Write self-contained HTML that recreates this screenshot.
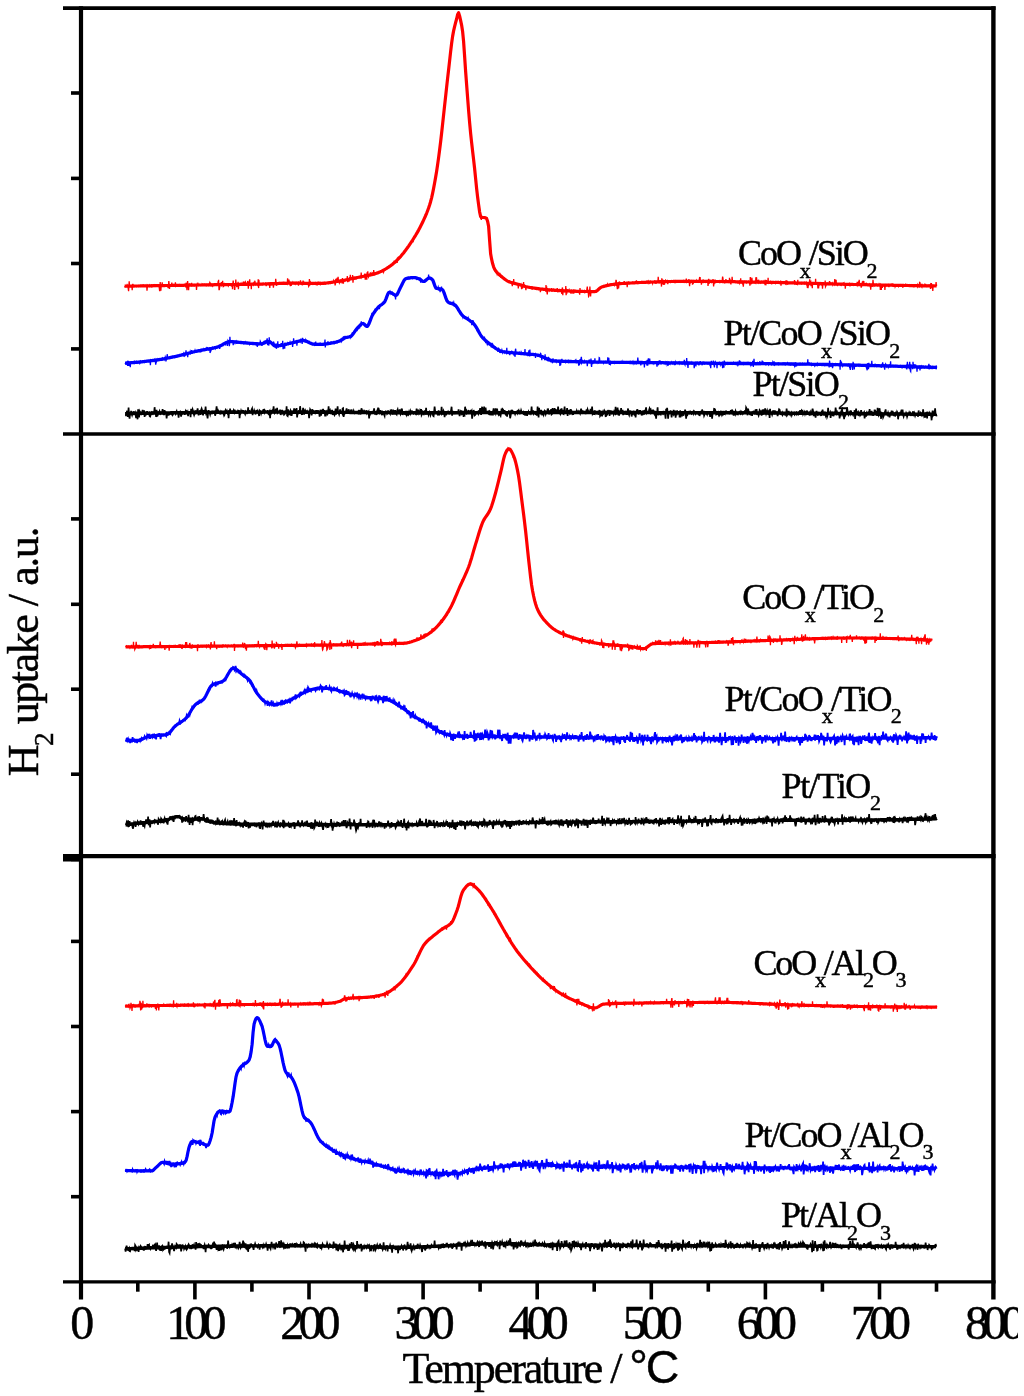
<!DOCTYPE html>
<html><head><meta charset="utf-8"><title>H2-TPR profiles</title>
<style>
html,body{margin:0;padding:0;background:#fff;}
svg{display:block;}
text{font-family:"Liberation Serif","Times New Roman",serif;fill:#000;stroke:#000;stroke-width:0.45px;}
.tk{font-size:48px;letter-spacing:-5.9px;}
.lb{font-size:36px;}
.sb{font-size:22px;}
.sb2{font-size:27px;}
.ax{font-size:44px;}
.sans{font-family:"Liberation Sans",Arial,sans-serif;}
</style></head>
<body>
<svg width="1024" height="1396" viewBox="0 0 1024 1396">
<rect width="1024" height="1396" fill="#fff"/>
<g id="curves">
<path d="M124.6,286.2 125.6,286.2 126.6,286.2 127.6,286.2 128.6,286.1 129.6,286.1 130.6,286.1 131.6,286.1 132.6,286.1 133.6,286.1 134.6,286.0 135.6,286.0 136.6,286.0 137.6,286.0 138.6,286.0 139.6,286.0 140.6,285.9 141.6,285.9 142.6,285.9 143.6,285.9 144.6,285.9 145.6,285.9 146.6,285.8 147.6,285.8 148.6,285.8 149.6,285.8 150.6,285.8 151.6,285.8 152.6,285.8 153.6,285.7 154.6,285.7 155.6,285.7 156.6,285.7 157.6,285.7 158.6,285.7 159.6,285.6 160.6,285.6 161.6,285.6 162.6,285.6 163.6,285.6 164.6,285.6 165.6,285.5 166.6,285.5 167.6,285.5 168.6,285.5 169.6,285.5 170.6,285.5 171.6,285.4 172.6,285.4 173.6,285.4 174.6,285.4 175.6,285.4 176.6,285.4 177.6,285.3 178.6,285.3 179.6,285.3 180.6,285.3 181.6,285.3 182.6,285.3 183.6,285.3 184.6,285.2 185.6,285.2 186.6,285.2 187.6,285.2 188.6,285.2 189.6,285.2 190.6,285.1 191.6,285.1 192.6,285.1 193.6,285.1 194.6,285.1 195.6,285.0 196.6,285.0 197.6,285.0 198.6,285.0 199.6,285.0 200.6,285.0 201.6,285.0 202.6,284.9 203.6,284.9 204.6,284.9 205.6,284.9 206.6,284.9 207.6,284.9 208.6,284.8 209.6,284.8 210.6,284.8 211.6,284.8 212.6,284.8 213.6,284.8 214.6,284.7 215.6,284.7 216.6,284.7 217.6,284.7 218.6,284.7 219.6,284.7 220.6,284.7 221.6,284.6 222.6,284.6 223.6,284.6 224.6,284.6 225.6,284.6 226.6,284.6 227.6,284.6 228.6,284.5 229.6,284.5 230.6,284.5 231.6,284.5 232.6,284.5 233.6,284.5 234.6,284.5 235.6,284.5 236.6,284.4 237.6,284.4 238.6,284.4 239.6,284.4 240.6,284.4 241.6,284.4 242.6,284.4 243.6,284.4 244.6,284.3 245.6,284.3 246.6,284.3 247.6,284.3 248.6,284.3 249.6,284.3 250.6,284.3 251.6,284.2 252.6,284.2 253.6,284.2 254.6,284.2 255.6,284.2 256.6,284.2 257.6,284.2 258.6,284.1 259.6,284.1 260.6,284.1 261.6,284.1 262.6,284.1 263.6,284.0 264.6,284.0 265.6,284.0 266.6,283.9 267.6,283.9 268.6,283.9 269.6,283.8 270.6,283.8 271.6,283.8 272.6,283.7 273.6,283.7 274.6,283.6 275.6,283.6 276.6,283.6 277.6,283.5 278.6,283.5 279.6,283.5 280.6,283.4 281.6,283.4 282.6,283.4 283.6,283.3 284.6,283.3 285.6,283.3 286.6,283.3 287.6,283.2 288.6,283.2 289.6,283.2 290.6,283.2 291.6,283.2 292.6,283.2 293.6,283.2 294.6,283.2 295.6,283.2 296.6,283.2 297.6,283.2 298.6,283.2 299.6,283.2 300.6,283.2 301.6,283.3 302.6,283.3 303.6,283.3 304.6,283.3 305.6,283.3 306.6,283.3 307.6,283.3 308.6,283.3 309.6,283.3 310.6,283.3 311.6,283.4 312.6,283.4 313.6,283.4 314.6,283.4 315.6,283.4 316.6,283.4 317.6,283.4 318.6,283.4 319.6,283.4 320.6,283.4 321.6,283.4 322.6,283.3 323.6,283.3 324.6,283.2 325.6,283.1 326.6,283.0 327.6,282.9 328.6,282.8 329.6,282.6 330.6,282.5 331.6,282.3 332.6,282.2 333.6,282.0 334.6,281.9 335.6,281.7 336.6,281.5 337.6,281.4 338.6,281.2 339.6,281.1 340.6,280.9 341.6,280.8 342.6,280.6 343.6,280.4 344.6,280.2 345.6,280.0 346.6,279.8 347.6,279.6 348.6,279.4 349.6,279.2 350.6,279.0 351.6,278.8 352.6,278.6 353.6,278.3 354.6,278.1 355.6,277.9 356.6,277.7 357.6,277.5 358.6,277.3 359.6,277.1 360.6,276.9 361.6,276.7 362.6,276.5 363.6,276.3 364.6,276.1 365.6,275.9 366.6,275.7 367.6,275.5 368.6,275.3 369.6,275.1 370.6,274.9 371.6,274.7 372.6,274.4 373.6,274.1 374.6,273.9 375.6,273.5 376.6,273.2 377.6,272.9 378.6,272.5 379.6,272.1 380.6,271.6 381.6,271.2 382.6,270.7 383.6,270.1 384.6,269.6 385.6,269.0 386.6,268.4 387.6,267.7 388.6,267.1 389.6,266.4 390.6,265.7 391.6,264.9 392.6,264.2 393.6,263.3 394.6,262.5 395.6,261.6 396.6,260.6 397.6,259.6 398.6,258.6 399.6,257.6 400.6,256.5 401.6,255.3 402.6,254.1 403.6,252.9 404.6,251.6 405.6,250.3 406.6,248.9 407.6,247.5 408.6,246.1 409.6,244.6 410.6,243.1 411.6,241.6 412.6,240.1 413.6,238.5 414.6,236.9 415.6,235.3 416.6,233.6 417.6,231.9 418.6,230.1 419.6,228.2 420.6,226.3 421.6,224.3 422.6,222.2 423.6,220.1 424.6,217.9 425.6,215.7 426.6,213.3 427.6,210.7 428.6,208.0 429.6,205.0 430.6,201.7 431.6,197.8 432.6,193.3 433.6,188.4 434.6,183.0 435.6,177.4 436.6,171.4 437.6,164.7 438.6,157.6 439.6,150.0 440.6,142.0 441.6,133.3 442.6,124.2 443.6,114.8 444.6,105.7 445.6,96.6 446.6,87.4 447.6,78.4 448.6,69.7 449.6,60.9 450.6,51.9 451.6,43.5 452.6,36.4 453.6,30.9 454.6,26.6 455.6,22.7 456.6,19.0 457.6,14.5 458.6,12.7 459.6,15.9 460.6,20.3 461.6,25.1 462.6,31.4 463.6,41.7 464.6,56.1 465.6,71.1 466.6,84.4 467.6,97.6 468.6,110.5 469.6,122.4 470.6,133.1 471.6,142.4 472.6,151.1 473.6,159.6 474.6,168.5 475.6,178.4 476.6,188.3 477.6,197.0 478.6,204.6 479.6,211.8 480.6,216.4 481.6,217.2 482.6,217.4 483.6,217.5 484.6,217.6 485.6,217.8 486.6,218.4 487.6,221.3 488.6,226.4 489.6,240.3 490.6,253.6 491.6,259.2 492.6,263.6 493.6,266.8 494.6,269.2 495.6,270.8 496.6,272.1 497.6,273.2 498.6,274.2 499.6,275.0 500.6,275.8 501.6,276.6 502.6,277.4 503.6,278.2 504.6,279.1 505.6,279.8 506.6,280.5 507.6,281.1 508.6,281.6 509.6,281.9 510.6,282.3 511.6,282.6 512.6,282.9 513.6,283.2 514.6,283.4 515.6,283.7 516.6,283.9 517.6,284.2 518.6,284.4 519.6,284.7 520.6,285.0 521.6,285.3 522.6,285.7 523.6,286.0 524.6,286.3 525.6,286.6 526.6,286.8 527.6,287.0 528.6,287.2 529.6,287.4 530.6,287.5 531.6,287.7 532.6,287.8 533.6,288.0 534.6,288.2 535.6,288.3 536.6,288.4 537.6,288.6 538.6,288.7 539.6,288.8 540.6,289.0 541.6,289.1 542.6,289.2 543.6,289.3 544.6,289.4 545.6,289.5 546.6,289.6 547.6,289.7 548.6,289.8 549.6,289.9 550.6,290.0 551.6,290.1 552.6,290.2 553.6,290.2 554.6,290.3 555.6,290.4 556.6,290.4 557.6,290.5 558.6,290.5 559.6,290.6 560.6,290.6 561.6,290.7 562.6,290.7 563.6,290.8 564.6,290.8 565.6,290.9 566.6,290.9 567.6,290.9 568.6,291.0 569.6,291.0 570.6,291.1 571.6,291.1 572.6,291.1 573.6,291.2 574.6,291.2 575.6,291.2 576.6,291.3 577.6,291.3 578.6,291.3 579.6,291.4 580.6,291.4 581.6,291.4 582.6,291.4 583.6,291.5 584.6,291.5 585.6,291.5 586.6,291.5 587.6,291.5 588.6,291.6 589.6,291.6 590.6,291.6 591.6,291.6 592.6,291.6 593.6,291.6 594.6,291.6 595.6,291.5 596.6,291.0 597.6,290.2 598.6,289.3 599.6,288.4 600.6,287.6 601.6,287.0 602.6,286.7 603.6,286.4 604.6,286.1 605.6,285.9 606.6,285.6 607.6,285.4 608.6,285.2 609.6,285.0 610.6,284.8 611.6,284.6 612.6,284.5 613.6,284.3 614.6,284.2 615.6,284.1 616.6,283.9 617.6,283.8 618.6,283.7 619.6,283.7 620.6,283.6 621.6,283.5 622.6,283.5 623.6,283.4 624.6,283.4 625.6,283.3 626.6,283.2 627.6,283.2 628.6,283.1 629.6,283.1 630.6,283.0 631.6,283.0 632.6,282.9 633.6,282.8 634.6,282.8 635.6,282.7 636.6,282.7 637.6,282.6 638.6,282.6 639.6,282.5 640.6,282.5 641.6,282.5 642.6,282.4 643.6,282.4 644.6,282.3 645.6,282.3 646.6,282.2 647.6,282.2 648.6,282.2 649.6,282.1 650.6,282.1 651.6,282.0 652.6,282.0 653.6,282.0 654.6,281.9 655.6,281.9 656.6,281.9 657.6,281.8 658.6,281.8 659.6,281.8 660.6,281.7 661.6,281.7 662.6,281.7 663.6,281.7 664.6,281.6 665.6,281.6 666.6,281.6 667.6,281.6 668.6,281.5 669.6,281.5 670.6,281.5 671.6,281.5 672.6,281.5 673.6,281.4 674.6,281.4 675.6,281.4 676.6,281.4 677.6,281.4 678.6,281.4 679.6,281.4 680.6,281.4 681.6,281.3 682.6,281.3 683.6,281.3 684.6,281.3 685.6,281.3 686.6,281.3 687.6,281.3 688.6,281.3 689.6,281.3 690.6,281.3 691.6,281.3 692.6,281.3 693.6,281.3 694.6,281.3 695.6,281.3 696.6,281.3 697.6,281.3 698.6,281.3 699.6,281.3 700.6,281.3 701.6,281.3 702.6,281.3 703.6,281.3 704.6,281.4 705.6,281.4 706.6,281.4 707.6,281.4 708.6,281.4 709.6,281.4 710.6,281.4 711.6,281.4 712.6,281.4 713.6,281.4 714.6,281.4 715.6,281.5 716.6,281.5 717.6,281.5 718.6,281.5 719.6,281.5 720.6,281.5 721.6,281.5 722.6,281.6 723.6,281.6 724.6,281.6 725.6,281.6 726.6,281.6 727.6,281.6 728.6,281.6 729.6,281.7 730.6,281.7 731.6,281.7 732.6,281.7 733.6,281.7 734.6,281.7 735.6,281.8 736.6,281.8 737.6,281.8 738.6,281.8 739.6,281.8 740.6,281.8 741.6,281.9 742.6,281.9 743.6,281.9 744.6,281.9 745.6,281.9 746.6,281.9 747.6,282.0 748.6,282.0 749.6,282.0 750.6,282.0 751.6,282.0 752.6,282.1 753.6,282.1 754.6,282.1 755.6,282.1 756.6,282.1 757.6,282.1 758.6,282.2 759.6,282.2 760.6,282.2 761.6,282.2 762.6,282.2 763.6,282.2 764.6,282.3 765.6,282.3 766.6,282.3 767.6,282.3 768.6,282.3 769.6,282.4 770.6,282.4 771.6,282.4 772.6,282.4 773.6,282.4 774.6,282.5 775.6,282.5 776.6,282.5 777.6,282.5 778.6,282.5 779.6,282.6 780.6,282.6 781.6,282.6 782.6,282.6 783.6,282.7 784.6,282.7 785.6,282.7 786.6,282.7 787.6,282.8 788.6,282.8 789.6,282.8 790.6,282.8 791.6,282.9 792.6,282.9 793.6,282.9 794.6,282.9 795.6,283.0 796.6,283.0 797.6,283.0 798.6,283.0 799.6,283.1 800.6,283.1 801.6,283.1 802.6,283.1 803.6,283.2 804.6,283.2 805.6,283.2 806.6,283.3 807.6,283.3 808.6,283.3 809.6,283.3 810.6,283.4 811.6,283.4 812.6,283.4 813.6,283.4 814.6,283.5 815.6,283.5 816.6,283.5 817.6,283.6 818.6,283.6 819.6,283.6 820.6,283.6 821.6,283.7 822.6,283.7 823.6,283.7 824.6,283.8 825.6,283.8 826.6,283.8 827.6,283.8 828.6,283.9 829.6,283.9 830.6,283.9 831.6,283.9 832.6,284.0 833.6,284.0 834.6,284.0 835.6,284.0 836.6,284.1 837.6,284.1 838.6,284.1 839.6,284.1 840.6,284.2 841.6,284.2 842.6,284.2 843.6,284.2 844.6,284.3 845.6,284.3 846.6,284.3 847.6,284.3 848.6,284.4 849.6,284.4 850.6,284.4 851.6,284.4 852.6,284.4 853.6,284.5 854.6,284.5 855.6,284.5 856.6,284.5 857.6,284.6 858.6,284.6 859.6,284.6 860.6,284.6 861.6,284.6 862.6,284.7 863.6,284.7 864.6,284.7 865.6,284.7 866.6,284.7 867.6,284.8 868.6,284.8 869.6,284.8 870.6,284.8 871.6,284.8 872.6,284.9 873.6,284.9 874.6,284.9 875.6,284.9 876.6,284.9 877.6,285.0 878.6,285.0 879.6,285.0 880.6,285.0 881.6,285.0 882.6,285.1 883.6,285.1 884.6,285.1 885.6,285.1 886.6,285.1 887.6,285.1 888.6,285.2 889.6,285.2 890.6,285.2 891.6,285.2 892.6,285.2 893.6,285.3 894.6,285.3 895.6,285.3 896.6,285.3 897.6,285.3 898.6,285.4 899.6,285.4 900.6,285.4 901.6,285.4 902.6,285.4 903.6,285.4 904.6,285.5 905.6,285.5 906.6,285.5 907.6,285.5 908.6,285.5 909.6,285.6 910.6,285.6 911.6,285.6 912.6,285.6 913.6,285.6 914.6,285.6 915.6,285.7 916.6,285.7 917.6,285.7 918.6,285.7 919.6,285.7 920.6,285.7 921.6,285.8 922.6,285.8 923.6,285.8 924.6,285.8 925.6,285.8 926.6,285.8 927.6,285.9 928.6,285.9 929.6,285.9 930.6,285.9 931.6,285.9 932.6,285.9 933.6,285.9 934.6,286.0 935.6,286.0 936.6,286.0" stroke="#ff0000" stroke-width="3.2" fill="none" stroke-linejoin="round"/>
<path d="M124.6,286.2 124.9,286.7 125.3,286.6 125.6,286.0 125.9,286.1 126.2,286.0 126.6,286.4 126.9,286.1 127.2,285.0 127.6,285.7 127.9,285.9 128.2,288.3 128.6,291.1 128.9,286.1 129.2,281.2 129.5,286.3 129.9,286.4 130.2,286.0 130.5,286.1 130.9,286.3 131.2,285.8 131.5,285.6 131.9,286.2 132.2,290.1 132.5,285.4 132.8,284.0 133.2,285.9 133.5,285.6 133.8,285.5 134.2,286.1 134.5,286.4 134.8,286.0 135.2,285.8 135.5,286.2 135.8,286.3 136.1,286.6 136.5,286.2 136.8,286.4 137.1,285.9 137.5,285.7 137.8,286.1 138.1,286.1 138.5,286.4 138.8,285.5 139.1,285.7 139.4,285.7 139.8,285.4 140.1,286.0 140.4,286.1 140.8,285.7 141.1,286.4 141.4,286.2 141.8,286.1 142.1,286.1 142.4,286.2 142.7,285.5 143.1,286.1 143.4,286.1 143.7,285.3 144.1,286.0 144.4,285.8 144.7,286.1 145.1,285.7 145.4,285.9 145.7,286.0 146.0,285.6 146.4,286.1 146.7,285.8 147.0,290.8 147.4,285.7 147.7,286.2 148.0,286.0 148.4,285.8 148.7,286.0 149.0,286.2 149.3,286.4 149.7,285.3 150.0,286.1 150.3,285.9 150.7,285.8 151.0,285.4 151.3,286.2 151.7,285.3 152.0,286.0 152.3,286.2 152.6,285.2 153.0,285.6 153.3,285.3 153.6,285.8 154.0,286.3 154.3,286.4 154.6,285.1 155.0,285.5 155.3,286.0 155.6,286.3 155.9,285.8 156.3,285.4 156.6,285.8 156.9,285.7 157.3,285.6 157.6,285.4 157.9,285.8 158.3,285.8 158.6,285.6 158.9,285.6 159.2,287.4 159.6,290.6 159.9,290.6 160.2,282.1 160.6,288.5 160.9,290.6 161.2,285.5 161.6,285.8 161.9,285.5 162.2,282.3 162.5,286.0 162.9,284.6 163.2,286.5 163.5,285.3 163.9,285.3 164.2,285.8 164.5,285.3 164.9,285.5 165.2,285.4 165.5,285.6 165.8,285.9 166.2,285.5 166.5,285.8 166.8,285.4 167.2,285.6 167.5,287.0 167.8,285.9 168.2,288.1 168.5,285.8 168.8,281.0 169.1,283.6 169.5,288.9 169.8,285.8 170.1,285.8 170.5,285.4 170.8,286.5 171.1,285.2 171.5,285.3 171.8,282.5 172.1,285.2 172.4,285.4 172.8,285.5 173.1,285.3 173.4,284.8 173.8,285.4 174.1,285.5 174.4,285.8 174.8,285.6 175.1,285.2 175.4,282.4 175.7,286.1 176.1,285.6 176.4,286.0 176.7,286.1 177.1,285.1 177.4,285.5 177.7,285.5 178.1,285.5 178.4,285.5 178.7,285.4 179.0,285.4 179.4,284.8 179.7,285.3 180.0,285.1 180.4,285.3 180.7,284.1 181.0,285.5 181.4,285.6 181.7,285.4 182.0,284.9 182.3,285.4 182.7,285.1 183.0,285.2 183.3,285.1 183.7,285.4 184.0,285.2 184.3,285.4 184.7,284.8 185.0,284.8 185.3,283.9 185.6,287.4 186.0,284.6 186.3,282.7 186.6,286.0 187.0,290.1 187.3,284.8 187.6,281.0 188.0,285.6 188.3,285.2 188.6,290.1 188.9,285.2 189.3,284.6 189.6,285.8 189.9,284.6 190.3,285.3 190.6,285.3 190.9,284.6 191.3,285.2 191.6,282.8 191.9,284.0 192.2,284.6 192.6,285.4 192.9,285.2 193.2,285.2 193.6,285.0 193.9,285.3 194.2,284.7 194.6,285.3 194.9,284.9 195.2,284.7 195.5,285.2 195.9,285.6 196.2,285.4 196.5,290.0 196.9,285.3 197.2,284.1 197.5,285.0 197.9,285.0 198.2,284.2 198.5,285.1 198.8,284.6 199.2,284.7 199.5,284.5 199.8,284.5 200.2,284.6 200.5,285.3 200.8,285.5 201.2,284.9 201.5,285.3 201.8,285.4 202.1,284.3 202.5,285.0 202.8,285.1 203.1,284.8 203.5,285.0 203.8,285.1 204.1,284.6 204.5,284.4 204.8,284.8 205.1,284.8 205.4,284.8 205.8,285.2 206.1,285.5 206.4,284.7 206.8,285.1 207.1,285.2 207.4,285.1 207.8,285.2 208.1,284.7 208.4,285.1 208.7,285.5 209.1,285.1 209.4,283.7 209.7,282.9 210.1,284.9 210.4,282.5 210.7,284.7 211.1,285.7 211.4,285.6 211.7,284.4 212.0,284.5 212.4,285.6 212.7,284.6 213.0,284.9 213.4,284.4 213.7,285.0 214.0,284.6 214.4,284.1 214.7,284.5 215.0,284.8 215.3,285.0 215.7,284.8 216.0,284.7 216.3,284.9 216.7,284.6 217.0,285.1 217.3,284.8 217.7,284.8 218.0,282.6 218.3,283.1 218.6,279.7 219.0,289.6 219.3,289.6 219.6,287.6 220.0,284.9 220.3,284.2 220.6,283.9 221.0,284.7 221.3,282.1 221.6,284.1 221.9,285.1 222.3,284.5 222.6,280.9 222.9,283.4 223.3,286.6 223.6,286.4 223.9,285.0 224.3,284.7 224.6,285.9 224.9,284.2 225.2,284.7 225.6,284.5 225.9,284.6 226.2,284.0 226.6,284.2 226.9,284.7 227.2,284.6 227.6,285.1 227.9,284.3 228.2,284.6 228.5,285.6 228.9,284.3 229.2,284.2 229.5,284.5 229.9,284.5 230.2,284.8 230.5,284.6 230.9,285.3 231.2,284.6 231.5,285.4 231.8,284.9 232.2,283.5 232.5,289.1 232.8,284.2 233.2,280.5 233.5,283.9 233.8,284.1 234.2,284.6 234.5,289.4 234.8,289.4 235.1,284.7 235.5,285.8 235.8,279.5 236.1,285.0 236.5,284.9 236.8,287.2 237.1,284.5 237.5,284.1 237.8,286.6 238.1,281.7 238.4,289.1 238.8,284.5 239.1,284.8 239.4,284.6 239.8,284.3 240.1,284.8 240.4,284.6 240.8,284.5 241.1,283.5 241.4,284.3 241.7,284.6 242.1,284.9 242.4,285.0 242.7,284.8 243.1,282.3 243.4,282.2 243.7,284.1 244.1,281.7 244.4,283.7 244.7,283.9 245.0,283.1 245.4,282.2 245.7,284.1 246.0,284.2 246.4,284.4 246.7,283.7 247.0,283.2 247.4,284.8 247.7,281.0 248.0,281.8 248.3,288.7 248.7,284.3 249.0,284.5 249.3,282.6 249.7,279.3 250.0,284.6 250.3,284.4 250.7,284.1 251.0,284.0 251.3,289.2 251.6,284.3 252.0,284.5 252.3,283.8 252.6,284.0 253.0,284.2 253.3,284.8 253.6,283.4 254.0,284.4 254.3,284.0 254.6,282.4 254.9,280.7 255.3,284.3 255.6,284.7 255.9,284.3 256.3,284.3 256.6,284.3 256.9,283.9 257.3,284.3 257.6,283.2 257.9,286.3 258.2,279.3 258.6,288.1 258.9,279.9 259.2,284.1 259.6,283.9 259.9,284.6 260.2,284.4 260.6,284.5 260.9,284.3 261.2,284.0 261.5,283.9 261.9,284.0 262.2,284.4 262.5,284.1 262.9,283.5 263.2,284.0 263.5,283.5 263.9,284.1 264.2,283.6 264.5,283.6 264.8,284.0 265.2,284.0 265.5,283.4 265.8,284.2 266.2,286.1 266.5,283.4 266.8,284.5 267.2,283.7 267.5,283.7 267.8,283.8 268.1,283.4 268.5,284.3 268.8,284.0 269.1,283.6 269.5,283.7 269.8,288.0 270.1,282.1 270.5,284.1 270.8,283.2 271.1,283.6 271.4,283.8 271.8,282.2 272.1,284.2 272.4,283.6 272.8,283.5 273.1,283.9 273.4,287.6 273.8,283.6 274.1,284.0 274.4,283.8 274.7,283.7 275.1,283.6 275.4,283.8 275.7,278.7 276.1,282.3 276.4,285.8 276.7,283.5 277.1,284.3 277.4,284.1 277.7,285.2 278.0,282.1 278.4,284.6 278.7,283.4 279.0,281.9 279.4,283.7 279.7,283.7 280.0,282.9 280.4,283.8 280.7,283.9 281.0,283.5 281.3,283.4 281.7,283.7 282.0,282.9 282.3,283.4 282.7,283.7 283.0,282.9 283.3,283.7 283.7,283.2 284.0,282.6 284.3,283.3 284.6,283.0 285.0,283.4 285.3,282.9 285.6,283.6 286.0,283.0 286.3,283.4 286.6,283.1 287.0,283.1 287.3,283.6 287.6,278.3 287.9,281.6 288.3,281.0 288.6,283.3 288.9,279.5 289.3,282.1 289.6,283.3 289.9,282.9 290.3,286.1 290.6,282.5 290.9,283.7 291.2,285.9 291.6,282.3 291.9,283.3 292.2,283.1 292.6,283.4 292.9,282.4 293.2,283.1 293.6,283.2 293.9,283.4 294.2,283.2 294.5,283.5 294.9,282.8 295.2,283.7 295.5,282.9 295.9,283.2 296.2,282.7 296.5,283.4 296.9,283.7 297.2,283.6 297.5,283.5 297.8,282.7 298.2,282.9 298.5,285.7 298.8,282.9 299.2,283.6 299.5,283.3 299.8,283.2 300.2,283.4 300.5,280.4 300.8,284.5 301.1,282.1 301.5,284.0 301.8,283.7 302.1,284.6 302.5,284.7 302.8,282.3 303.1,280.7 303.5,283.4 303.8,281.5 304.1,283.1 304.4,283.6 304.8,283.7 305.1,283.7 305.4,283.3 305.8,283.1 306.1,283.7 306.4,283.2 306.8,283.4 307.1,283.8 307.4,284.9 307.7,283.3 308.1,283.2 308.4,285.1 308.7,286.3 309.1,285.4 309.4,279.0 309.7,285.6 310.1,280.9 310.4,283.4 310.7,283.0 311.0,282.9 311.4,282.9 311.7,283.0 312.0,283.3 312.4,283.0 312.7,283.4 313.0,284.0 313.4,283.3 313.7,283.8 314.0,283.5 314.3,283.0 314.7,283.3 315.0,283.0 315.3,283.7 315.7,283.0 316.0,283.8 316.3,282.7 316.7,282.7 317.0,283.7 317.3,285.5 317.6,283.1 318.0,283.7 318.3,282.8 318.6,283.5 319.0,282.8 319.3,283.6 319.6,282.8 320.0,282.5 320.3,283.5 320.6,284.2 320.9,283.2 321.3,283.7 321.6,283.4 321.9,283.3 322.3,283.6 322.6,283.6 322.9,282.9 323.3,283.5 323.6,283.4 323.9,282.8 324.2,283.8 324.6,283.8 324.9,282.9 325.2,284.7 325.6,283.1 325.9,283.0 326.2,283.5 326.6,283.1 326.9,283.1 327.2,283.0 327.5,283.3 327.9,283.1 328.2,282.4 328.5,282.3 328.9,283.1 329.2,282.4 329.5,282.7 329.9,282.3 330.2,282.5 330.5,282.1 330.8,283.0 331.2,282.1 331.5,282.3 331.8,282.2 332.2,282.6 332.5,281.8 332.8,282.1 333.2,282.0 333.5,282.2 333.8,280.4 334.1,280.9 334.5,281.2 334.8,281.5 335.1,285.5 335.5,283.4 335.8,278.8 336.1,281.6 336.5,281.5 336.8,281.0 337.1,277.7 337.4,282.0 337.8,281.8 338.1,276.9 338.4,280.7 338.8,280.8 339.1,281.1 339.4,282.9 339.8,282.1 340.1,282.3 340.4,281.4 340.7,280.1 341.1,280.1 341.4,281.1 341.7,280.8 342.1,283.3 342.4,278.1 342.7,280.3 343.1,282.4 343.4,283.7 343.7,280.8 344.0,280.1 344.4,280.5 344.7,279.9 345.0,280.4 345.4,279.7 345.7,280.3 346.0,280.0 346.4,279.8 346.7,279.5 347.0,279.8 347.3,276.0 347.7,282.3 348.0,279.6 348.3,279.0 348.7,279.6 349.0,281.7 349.3,280.2 349.7,277.2 350.0,279.8 350.3,274.8 350.6,277.9 351.0,278.7 351.3,278.8 351.6,277.1 352.0,279.4 352.3,278.5 352.6,275.1 353.0,282.7 353.3,278.7 353.6,278.7 353.9,276.6 354.3,279.7 354.6,278.0 354.9,278.1 355.3,278.7 355.6,278.0 355.9,277.8 356.3,278.4 356.6,277.7 356.9,276.3 357.2,277.8 357.6,277.2 357.9,277.3 358.2,277.5 358.6,277.3 358.9,277.0 359.2,277.0 359.6,276.9 359.9,277.4 360.2,276.7 360.5,276.7 360.9,277.4 361.2,272.6 361.5,277.2 361.9,277.0 362.2,276.5 362.5,276.1 362.9,276.6 363.2,276.6 363.5,276.6 363.8,276.3 364.2,276.6 364.5,275.9 364.8,273.5 365.2,279.1 365.5,279.1 365.8,275.5 366.2,274.0 366.5,275.5 366.8,279.7 367.1,272.3 367.5,276.6 367.8,271.2 368.1,276.0 368.5,276.9 368.8,275.2 369.1,275.5 369.5,274.9 369.8,275.0 370.1,274.8 370.4,272.4 370.8,275.1 371.1,274.9 371.4,274.5 371.8,274.3 372.1,272.8 372.4,273.1 372.8,274.4 373.1,274.4 373.4,275.2 373.7,270.0 374.1,274.1 374.4,273.4 374.7,274.3 375.1,273.5 375.4,273.5 375.7,273.9 376.1,273.5 376.4,273.3 376.7,273.0 377.0,272.6 377.4,273.0 377.7,273.1 378.0,272.5 378.4,272.9 378.7,272.1 379.0,272.1 379.4,272.3 379.7,272.0 380.0,272.1 380.3,271.6 380.7,271.3 381.0,271.0 381.3,271.0 381.7,270.9 382.0,270.6 382.3,270.9 382.7,270.5 383.0,270.0 383.3,271.2 383.6,272.1 384.0,270.2 384.3,270.0 384.6,269.8 385.0,269.1 385.3,268.8 385.6,268.7 386.0,269.0 386.3,268.5 386.6,268.2 386.9,268.1 387.3,268.2 387.6,267.4 387.9,267.4 388.3,267.0 388.6,267.6 388.9,267.3 389.3,266.8 389.6,266.4 389.9,266.3 390.2,265.5 390.6,265.8 390.9,265.2 391.2,264.9 391.6,264.8 391.9,264.6 392.2,264.6 392.6,264.3 392.9,264.0 393.2,263.5 393.5,263.5 393.9,263.1 394.2,260.7 394.5,262.3 394.9,261.7 395.2,261.8 395.5,262.1 395.9,261.4 396.2,261.0 396.5,261.6 396.8,260.3 397.2,262.9 397.5,257.6 397.8,259.8 398.2,258.1 398.5,258.9 398.8,258.3 399.2,257.3 399.5,257.9 399.8,257.5 400.1,257.1 400.5,256.7 400.8,256.9 401.1,255.9 401.5,255.7 401.8,255.5 402.1,254.7 402.5,254.4 402.8,254.1 403.1,253.8 403.4,253.1 403.8,252.7 404.1,252.3 404.4,251.6 404.8,251.6 405.1,250.9 405.4,250.2 405.8,250.0 406.1,249.3 406.4,249.0 406.7,248.7 407.1,248.1 407.4,248.0 407.7,247.1 408.1,246.9 408.4,246.5 408.7,246.1 409.1,245.7 409.4,245.0 409.7,244.5 410.0,243.9 410.4,243.6 410.7,242.9 411.0,242.5 411.4,242.0 411.7,241.5 412.0,240.9 412.4,240.8 412.7,240.1 413.0,239.5 413.3,240.4 413.7,238.5 414.0,237.9 414.3,237.4 414.7,237.0 415.0,236.0 415.3,235.7 415.7,235.0 416.0,234.7 416.3,233.9 416.6,233.4 417.0,232.9 417.3,232.6 417.6,231.9 418.0,231.3 418.3,230.8 418.6,229.9 419.0,229.1 419.3,228.7 419.6,228.1 419.9,227.7 420.3,227.2 420.6,226.1 420.9,226.1 421.3,225.2 421.6,224.4 421.9,223.7 422.3,222.1 422.6,222.3 422.9,221.5 423.2,220.9 423.6,220.5 423.9,219.5 424.2,219.2 424.6,217.9 424.9,216.1 425.2,215.3 425.6,217.5 425.9,214.8 426.2,213.9 426.5,213.7 426.9,210.9 427.2,213.3 427.5,211.0 427.9,208.7 428.2,209.0 428.5,208.8 428.9,207.2 429.2,206.3 429.5,205.1 429.8,203.3 430.2,201.7 430.5,202.2 430.8,201.0 431.2,198.7 431.5,198.2 431.8,196.9 432.2,195.4 432.5,193.8 432.8,192.3 433.1,190.6 433.5,188.9 433.8,187.3 434.1,185.5 434.5,183.7 434.8,182.0 435.1,179.5 435.5,178.2 435.8,176.3 436.1,174.4 436.4,172.2 436.8,170.2 437.1,168.1 437.4,165.8 437.8,163.5 438.1,161.2 438.4,158.9 438.8,156.4 439.1,153.9 439.4,151.4 439.7,148.9 440.1,146.3 440.4,143.7 440.7,141.3 441.1,137.8 441.4,135.3 441.7,132.0 442.1,129.2 442.4,126.1 442.7,123.0 443.0,119.9 443.4,116.8 443.7,113.8 444.0,110.7 444.4,108.4 444.7,104.7 445.0,101.8 445.4,98.8 445.7,95.8 446.0,92.8 446.3,89.1 446.7,86.7 447.0,83.7 447.3,80.8 447.7,77.8 448.0,74.8 448.3,71.9 448.7,69.1 449.0,66.3 449.3,63.4 449.6,60.3 450.0,56.9 450.3,54.9 450.6,51.1 451.0,49.4 451.3,45.3 451.6,43.1 452.0,40.7 452.3,38.3 452.6,36.2 452.9,34.3 453.3,32.5 453.6,30.9 453.9,29.5 454.3,27.9 454.6,26.6 454.9,25.2 455.3,24.0 455.6,22.8 455.9,21.6 456.2,20.3 456.6,19.1 456.9,17.7 457.2,16.0 457.6,14.4 457.9,13.7 458.2,12.9 458.6,12.7 458.9,13.1 459.2,14.2 459.5,15.8 459.9,16.9 460.2,18.6 460.5,20.1 460.9,21.5 461.2,23.1 461.5,24.7 461.9,26.7 462.2,28.5 462.5,30.9 462.8,33.4 463.2,36.7 463.5,40.5 463.8,44.9 464.2,49.6 464.5,54.6 464.8,59.7 465.2,64.7 465.5,69.6 465.8,74.1 466.1,78.4 466.5,82.8 466.8,87.2 467.1,91.6 467.5,95.9 467.8,100.2 468.1,104.5 468.5,108.8 468.8,112.8 469.1,116.8 469.4,120.7 469.8,124.5 470.1,128.1 470.4,131.5 470.8,134.7 471.1,137.9 471.4,140.9 471.8,143.8 472.1,146.8 472.4,149.6 472.7,152.4 473.1,155.2 473.4,158.0 473.7,160.8 474.1,164.3 474.4,166.7 474.7,169.7 475.1,173.0 475.4,176.2 475.7,179.6 476.0,183.0 476.4,186.2 476.7,189.4 477.0,192.4 477.4,195.2 477.7,197.7 478.0,200.6 478.4,202.4 478.7,204.9 479.0,208.1 479.3,210.1 479.7,212.4 480.0,214.6 480.3,215.9 480.7,218.4 481.0,218.4 481.3,219.8 481.7,217.8 482.0,217.6 482.3,217.5 482.6,217.3 483.0,217.5 483.3,217.5 483.6,217.1 484.0,217.6 484.3,217.5 484.6,217.6 485.0,217.6 485.3,218.3 485.6,218.1 485.9,218.2 486.3,218.0 486.6,218.2 486.9,219.0 487.3,220.1 487.6,221.3 487.9,222.7 488.3,224.5 488.6,226.3 488.9,229.6 489.2,234.5 489.6,240.0 489.9,245.4 490.2,250.1 490.6,253.4 490.9,255.5 491.2,257.3 491.6,258.9 491.9,260.5 492.2,262.0 492.5,263.4 492.9,264.7 493.2,265.7 493.5,266.5 493.9,267.7 494.2,268.4 494.5,269.1 494.9,269.7 495.2,270.0 495.5,270.6 495.8,271.2 496.2,271.8 496.5,272.0 496.8,271.8 497.2,274.0 497.5,273.2 497.8,273.7 498.2,273.9 498.5,274.6 498.8,274.7 499.1,274.9 499.5,276.0 499.8,272.8 500.1,275.3 500.5,276.7 500.8,276.4 501.1,277.3 501.5,277.4 501.8,276.6 502.1,276.9 502.4,277.2 502.8,277.6 503.1,277.7 503.4,278.2 503.8,278.0 504.1,278.6 504.4,278.6 504.8,279.1 505.1,279.6 505.4,279.7 505.7,279.9 506.1,280.2 506.4,280.8 506.7,280.4 507.1,281.0 507.4,280.6 507.7,281.1 508.1,281.4 508.4,281.2 508.7,281.7 509.0,281.9 509.4,281.5 509.7,282.0 510.0,282.0 510.4,281.7 510.7,282.3 511.0,282.2 511.4,282.9 511.7,282.4 512.0,283.2 512.3,286.2 512.7,283.5 513.0,283.2 513.3,283.2 513.7,279.0 514.0,283.5 514.3,283.8 514.7,283.9 515.0,283.4 515.3,283.2 515.6,282.9 516.0,283.6 516.3,284.1 516.6,284.0 517.0,284.0 517.3,284.0 517.6,284.0 518.0,284.2 518.3,288.5 518.6,283.9 518.9,284.7 519.3,284.2 519.6,284.7 519.9,284.6 520.3,284.8 520.6,284.7 520.9,284.2 521.3,286.2 521.6,289.3 521.9,286.1 522.2,288.1 522.6,288.0 522.9,286.9 523.2,285.1 523.6,282.0 523.9,287.2 524.2,284.4 524.6,285.8 524.9,286.4 525.2,286.1 525.5,286.6 525.9,290.1 526.2,286.9 526.5,286.9 526.9,286.7 527.2,287.2 527.5,286.9 527.9,287.2 528.2,287.1 528.5,287.1 528.8,286.8 529.2,287.5 529.5,287.0 529.8,287.1 530.2,287.1 530.5,287.8 530.8,287.0 531.2,286.9 531.5,287.9 531.8,288.4 532.1,289.5 532.5,287.6 532.8,287.9 533.1,288.4 533.5,288.3 533.8,288.0 534.1,287.7 534.5,288.4 534.8,288.4 535.1,287.8 535.4,288.2 535.8,288.4 536.1,288.4 536.4,289.2 536.8,288.7 537.1,288.7 537.4,288.5 537.8,288.2 538.1,288.8 538.4,288.5 538.7,289.4 539.1,288.8 539.4,288.8 539.7,289.3 540.1,289.4 540.4,292.3 540.7,289.2 541.1,288.8 541.4,289.3 541.7,288.8 542.0,289.1 542.4,289.1 542.7,289.1 543.0,288.6 543.4,289.0 543.7,289.4 544.0,289.4 544.4,289.3 544.7,289.6 545.0,289.7 545.3,289.8 545.7,291.7 546.0,285.0 546.3,288.9 546.7,288.2 547.0,292.7 547.3,294.4 547.7,289.7 548.0,290.5 548.3,289.8 548.6,289.8 549.0,289.7 549.3,290.5 549.6,289.6 550.0,289.9 550.3,289.7 550.6,290.0 551.0,290.0 551.3,290.4 551.6,288.2 551.9,290.1 552.3,290.7 552.6,290.0 552.9,290.1 553.3,289.9 553.6,289.4 553.9,290.2 554.3,290.7 554.6,290.2 554.9,289.7 555.2,290.4 555.6,290.4 555.9,290.7 556.2,290.7 556.6,290.3 556.9,290.6 557.2,288.1 557.6,289.3 557.9,292.5 558.2,289.6 558.5,289.9 558.9,290.2 559.2,289.7 559.5,290.3 559.9,289.9 560.2,290.6 560.5,290.7 560.9,290.3 561.2,290.9 561.5,290.7 561.8,294.0 562.2,288.4 562.5,287.6 562.8,295.3 563.2,289.8 563.5,290.7 563.8,290.6 564.2,290.7 564.5,292.0 564.8,290.7 565.1,290.2 565.5,291.1 565.8,286.0 566.1,295.2 566.5,292.6 566.8,293.8 567.1,289.8 567.5,290.1 567.8,290.1 568.1,291.2 568.4,291.4 568.8,290.7 569.1,289.9 569.4,291.1 569.8,291.5 570.1,291.4 570.4,293.0 570.8,291.4 571.1,293.8 571.4,290.5 571.7,290.9 572.1,290.9 572.4,291.7 572.7,291.8 573.1,293.8 573.4,291.2 573.7,290.6 574.1,291.9 574.4,290.9 574.7,291.4 575.0,291.8 575.4,291.1 575.7,290.8 576.0,291.6 576.4,291.3 576.7,290.9 577.0,290.9 577.4,291.2 577.7,291.6 578.0,291.2 578.3,291.6 578.7,291.9 579.0,290.8 579.3,292.8 579.7,294.7 580.0,288.0 580.3,291.8 580.7,291.5 581.0,291.4 581.3,291.0 581.6,290.9 582.0,291.1 582.3,291.4 582.6,291.0 583.0,291.2 583.3,291.3 583.6,291.7 584.0,290.9 584.3,290.6 584.6,293.3 584.9,291.5 585.3,291.7 585.6,291.3 585.9,290.9 586.3,290.6 586.6,292.8 586.9,289.0 587.3,286.6 587.6,291.4 587.9,291.4 588.2,291.8 588.6,296.5 588.9,296.1 589.2,289.5 589.6,292.3 589.9,286.6 590.2,292.3 590.6,296.5 590.9,291.9 591.2,291.7 591.5,291.2 591.9,290.9 592.2,291.4 592.5,291.2 592.9,291.5 593.2,291.8 593.5,292.1 593.9,291.5 594.2,292.1 594.5,292.0 594.8,291.5 595.2,291.1 595.5,291.7 595.8,291.5 596.2,291.8 596.5,291.3 596.8,291.0 597.2,290.9 597.5,290.1 597.8,290.0 598.1,289.6 598.5,289.8 598.8,289.2 599.1,288.2 599.5,288.8 599.8,288.0 600.1,288.1 600.5,287.6 600.8,287.5 601.1,287.4 601.4,287.1 601.8,286.7 602.1,287.2 602.4,286.9 602.8,286.6 603.1,286.8 603.4,286.3 603.8,286.9 604.1,286.3 604.4,286.3 604.7,286.2 605.1,285.7 605.4,285.6 605.7,285.9 606.1,285.9 606.4,286.1 606.7,285.7 607.1,285.2 607.4,284.3 607.7,285.6 608.0,285.6 608.4,285.3 608.7,284.8 609.0,285.5 609.4,284.8 609.7,285.1 610.0,284.4 610.4,285.1 610.7,284.5 611.0,285.1 611.3,285.2 611.7,285.0 612.0,284.2 612.3,284.2 612.7,284.2 613.0,284.6 613.3,284.5 613.7,284.4 614.0,284.4 614.3,285.3 614.6,284.4 615.0,284.7 615.3,284.1 615.6,284.1 616.0,279.9 616.3,280.7 616.6,285.4 617.0,285.8 617.3,288.5 617.6,288.5 617.9,282.8 618.3,283.7 618.6,288.4 618.9,284.7 619.3,282.0 619.6,282.1 619.9,283.7 620.3,283.3 620.6,283.9 620.9,283.6 621.2,283.6 621.6,284.1 621.9,283.5 622.2,283.8 622.6,283.5 622.9,283.3 623.2,283.5 623.6,283.1 623.9,283.4 624.2,281.1 624.5,283.2 624.9,283.7 625.2,283.3 625.5,283.7 625.9,283.4 626.2,283.5 626.5,283.0 626.9,283.3 627.2,287.1 627.5,283.5 627.8,283.5 628.2,283.2 628.5,281.5 628.8,282.7 629.2,282.8 629.5,283.2 629.8,283.3 630.2,282.9 630.5,282.9 630.8,282.9 631.1,282.9 631.5,282.6 631.8,282.5 632.1,282.9 632.5,282.3 632.8,282.6 633.1,282.6 633.5,282.5 633.8,282.9 634.1,282.7 634.4,282.8 634.8,282.4 635.1,282.5 635.4,282.9 635.8,282.8 636.1,282.6 636.4,280.4 636.8,282.4 637.1,282.7 637.4,283.2 637.7,282.5 638.1,282.7 638.4,282.7 638.7,282.5 639.1,282.2 639.4,282.8 639.7,282.6 640.1,282.5 640.4,282.5 640.7,282.5 641.0,282.2 641.4,282.5 641.7,281.8 642.0,282.4 642.4,281.9 642.7,282.3 643.0,282.6 643.4,282.3 643.7,282.2 644.0,282.5 644.3,282.2 644.7,282.2 645.0,282.1 645.3,282.8 645.7,282.5 646.0,282.4 646.3,281.8 646.7,282.4 647.0,281.8 647.3,282.3 647.6,281.8 648.0,282.8 648.3,281.6 648.6,282.5 649.0,282.4 649.3,282.9 649.6,282.0 650.0,282.6 650.3,282.5 650.6,281.5 650.9,281.9 651.3,281.6 651.6,281.7 651.9,281.8 652.3,282.6 652.6,283.5 652.9,281.9 653.3,281.8 653.6,282.2 653.9,282.2 654.2,281.6 654.6,282.4 654.9,281.5 655.2,281.8 655.6,282.0 655.9,283.9 656.2,281.7 656.6,281.9 656.9,282.3 657.2,282.0 657.5,282.2 657.9,282.2 658.2,276.9 658.5,279.9 658.9,282.1 659.2,281.8 659.5,282.3 659.9,281.1 660.2,281.4 660.5,282.2 660.8,281.9 661.2,283.1 661.5,286.6 661.8,278.3 662.2,280.5 662.5,284.5 662.8,279.5 663.2,283.4 663.5,280.7 663.8,285.0 664.1,281.1 664.5,284.6 664.8,281.8 665.1,281.2 665.5,280.2 665.8,280.7 666.1,281.6 666.5,281.6 666.8,280.4 667.1,281.6 667.4,279.9 667.8,284.3 668.1,281.4 668.4,281.0 668.8,281.4 669.1,282.0 669.4,281.5 669.8,281.7 670.1,281.3 670.4,282.1 670.7,281.5 671.1,280.9 671.4,281.7 671.7,281.3 672.1,281.2 672.4,281.5 672.7,281.5 673.1,281.5 673.4,281.1 673.7,281.8 674.0,281.8 674.4,281.4 674.7,283.1 675.0,281.2 675.4,280.7 675.7,280.9 676.0,281.9 676.4,281.1 676.7,281.2 677.0,280.9 677.3,281.2 677.7,281.2 678.0,281.3 678.3,281.3 678.7,281.1 679.0,281.1 679.3,281.3 679.7,281.5 680.0,281.3 680.3,281.9 680.6,281.4 681.0,281.4 681.3,281.1 681.6,281.7 682.0,281.0 682.3,280.8 682.6,281.0 683.0,281.5 683.3,280.9 683.6,281.8 683.9,281.3 684.3,280.8 684.6,281.2 684.9,281.9 685.3,281.0 685.6,280.8 685.9,281.5 686.3,278.5 686.6,281.6 686.9,281.2 687.2,281.3 687.6,281.4 687.9,281.7 688.2,282.0 688.6,281.2 688.9,279.2 689.2,281.7 689.6,286.3 689.9,280.6 690.2,283.1 690.5,282.7 690.9,281.5 691.2,279.9 691.5,281.1 691.9,281.3 692.2,281.2 692.5,284.8 692.9,281.3 693.2,281.7 693.5,282.4 693.8,280.9 694.2,281.4 694.5,281.2 694.8,281.0 695.2,281.4 695.5,281.0 695.8,281.3 696.2,281.7 696.5,280.6 696.8,281.4 697.1,281.4 697.5,281.0 697.8,281.6 698.1,281.4 698.5,281.2 698.8,281.7 699.1,280.8 699.5,278.2 699.8,278.6 700.1,277.1 700.4,282.6 700.8,280.8 701.1,280.8 701.4,284.6 701.8,281.2 702.1,281.2 702.4,281.9 702.8,280.9 703.1,281.7 703.4,280.7 703.7,281.4 704.1,281.3 704.4,281.5 704.7,281.1 705.1,280.7 705.4,280.8 705.7,282.0 706.1,281.4 706.4,281.0 706.7,281.7 707.0,281.1 707.4,281.3 707.7,280.9 708.0,286.0 708.4,283.3 708.7,278.8 709.0,281.0 709.4,283.0 709.7,282.7 710.0,279.8 710.3,281.4 710.7,281.6 711.0,281.8 711.3,282.3 711.7,281.2 712.0,281.6 712.3,281.2 712.7,281.6 713.0,279.1 713.3,282.1 713.6,286.4 714.0,281.8 714.3,281.2 714.6,282.5 715.0,281.5 715.3,280.9 715.6,282.1 716.0,281.3 716.3,282.0 716.6,281.7 716.9,281.1 717.3,281.5 717.6,281.5 717.9,281.4 718.3,281.1 718.6,281.9 718.9,281.7 719.3,282.2 719.6,280.9 719.9,281.3 720.2,281.5 720.6,283.0 720.9,281.4 721.2,282.0 721.6,282.1 721.9,281.0 722.2,280.6 722.6,276.6 722.9,277.9 723.2,281.5 723.5,281.7 723.9,282.0 724.2,281.5 724.5,281.2 724.9,282.4 725.2,281.7 725.5,281.5 725.9,279.0 726.2,281.1 726.5,281.8 726.8,281.7 727.2,282.1 727.5,282.0 727.8,281.9 728.2,282.0 728.5,281.5 728.8,281.5 729.2,283.0 729.5,277.9 729.8,281.4 730.1,279.2 730.5,282.7 730.8,282.0 731.1,282.7 731.5,280.3 731.8,282.1 732.1,276.8 732.5,281.4 732.8,281.7 733.1,281.2 733.4,281.5 733.8,281.7 734.1,281.3 734.4,281.8 734.8,281.9 735.1,281.3 735.4,281.7 735.8,282.1 736.1,281.7 736.4,281.9 736.7,282.0 737.1,281.7 737.4,282.1 737.7,281.9 738.1,283.6 738.4,282.0 738.7,282.1 739.1,282.1 739.4,281.6 739.7,283.1 740.0,282.3 740.4,281.9 740.7,278.2 741.0,283.5 741.4,282.4 741.7,282.0 742.0,281.6 742.4,283.0 742.7,283.9 743.0,282.5 743.3,286.8 743.7,281.9 744.0,282.0 744.3,282.1 744.7,281.5 745.0,281.7 745.3,282.0 745.7,282.1 746.0,282.0 746.3,282.8 746.6,282.3 747.0,281.9 747.3,282.2 747.6,282.4 748.0,282.1 748.3,281.4 748.6,282.0 749.0,282.0 749.3,282.7 749.6,281.4 749.9,285.8 750.3,277.1 750.6,281.9 750.9,284.4 751.3,282.1 751.6,279.9 751.9,277.7 752.3,282.4 752.6,282.0 752.9,281.9 753.2,282.0 753.6,281.9 753.9,282.0 754.2,282.6 754.6,281.7 754.9,281.5 755.2,282.1 755.6,282.7 755.9,277.3 756.2,279.4 756.5,277.2 756.9,281.9 757.2,282.2 757.5,281.2 757.9,281.9 758.2,282.4 758.5,279.7 758.9,281.5 759.2,281.7 759.5,282.3 759.8,282.6 760.2,283.1 760.5,282.7 760.8,281.7 761.2,281.4 761.5,282.3 761.8,282.6 762.2,281.7 762.5,282.1 762.8,282.1 763.1,282.3 763.5,282.2 763.8,281.5 764.1,283.5 764.5,282.0 764.8,282.7 765.1,285.2 765.5,279.7 765.8,285.3 766.1,282.9 766.4,280.0 766.8,282.3 767.1,282.7 767.4,282.2 767.8,282.7 768.1,277.7 768.4,282.6 768.8,282.5 769.1,282.5 769.4,282.8 769.7,282.7 770.1,282.2 770.4,282.7 770.7,281.8 771.1,282.8 771.4,283.4 771.7,282.6 772.1,282.6 772.4,283.2 772.7,282.7 773.0,282.3 773.4,282.7 773.7,282.4 774.0,282.3 774.4,282.5 774.7,282.5 775.0,281.9 775.4,283.2 775.7,282.6 776.0,281.9 776.3,282.9 776.7,282.5 777.0,282.6 777.3,282.8 777.7,282.3 778.0,281.6 778.3,282.5 778.7,282.7 779.0,282.9 779.3,282.3 779.6,282.5 780.0,282.8 780.3,282.5 780.6,280.6 781.0,285.8 781.3,282.3 781.6,283.2 782.0,282.3 782.3,282.7 782.6,282.6 782.9,282.4 783.3,282.9 783.6,283.0 783.9,283.2 784.3,282.9 784.6,282.6 784.9,283.0 785.3,282.6 785.6,280.6 785.9,285.0 786.2,283.6 786.6,280.4 786.9,283.8 787.2,280.7 787.6,284.6 787.9,282.2 788.2,282.4 788.6,282.8 788.9,283.2 789.2,282.8 789.5,283.3 789.9,282.9 790.2,283.0 790.5,283.2 790.9,282.7 791.2,283.0 791.5,282.8 791.9,282.7 792.2,283.1 792.5,282.6 792.8,282.9 793.2,282.7 793.5,282.9 793.8,282.8 794.2,283.3 794.5,280.0 794.8,281.7 795.2,283.6 795.5,283.1 795.8,282.6 796.1,283.4 796.5,284.8 796.8,282.9 797.1,284.3 797.5,284.5 797.8,279.9 798.1,283.8 798.5,283.2 798.8,283.0 799.1,282.7 799.4,283.2 799.8,282.9 800.1,282.9 800.4,283.2 800.8,283.2 801.1,282.8 801.4,283.6 801.8,282.8 802.1,282.8 802.4,283.3 802.7,283.2 803.1,283.2 803.4,283.0 803.7,283.2 804.1,283.0 804.4,282.6 804.7,283.5 805.1,282.9 805.4,283.2 805.7,283.5 806.0,283.3 806.4,284.2 806.7,282.8 807.0,283.6 807.4,287.9 807.7,283.8 808.0,288.2 808.4,284.4 808.7,285.7 809.0,282.9 809.3,284.5 809.7,279.3 810.0,283.8 810.3,282.6 810.7,281.9 811.0,286.3 811.3,283.5 811.7,283.1 812.0,283.4 812.3,288.3 812.6,282.9 813.0,284.0 813.3,283.6 813.6,283.8 814.0,283.1 814.3,283.5 814.6,283.4 815.0,282.6 815.3,283.7 815.6,278.8 815.9,283.4 816.3,283.0 816.6,283.9 816.9,283.8 817.3,283.7 817.6,283.2 817.9,288.5 818.3,284.0 818.6,288.5 818.9,283.7 819.2,283.7 819.6,283.2 819.9,284.1 820.2,283.0 820.6,283.7 820.9,283.6 821.2,283.1 821.6,283.8 821.9,285.6 822.2,284.3 822.5,288.6 822.9,283.9 823.2,284.1 823.5,283.8 823.9,284.3 824.2,284.0 824.5,284.0 824.9,284.2 825.2,280.5 825.5,286.7 825.8,286.1 826.2,282.9 826.5,284.1 826.8,283.3 827.2,283.1 827.5,284.8 827.8,283.7 828.2,283.7 828.5,283.7 828.8,284.2 829.1,283.7 829.5,281.1 829.8,284.0 830.1,283.7 830.5,283.8 830.8,283.2 831.1,284.1 831.5,283.8 831.8,284.0 832.1,284.1 832.4,283.3 832.8,284.8 833.1,284.0 833.4,284.1 833.8,283.4 834.1,284.2 834.4,282.6 834.8,279.1 835.1,285.4 835.4,281.9 835.7,281.8 836.1,279.9 836.4,285.0 836.7,284.2 837.1,284.1 837.4,284.9 837.7,284.2 838.1,284.1 838.4,284.3 838.7,284.0 839.0,284.3 839.4,284.2 839.7,284.0 840.0,284.1 840.4,284.0 840.7,284.4 841.0,286.0 841.4,284.5 841.7,284.3 842.0,284.4 842.3,284.1 842.7,284.2 843.0,284.6 843.3,283.6 843.7,284.4 844.0,285.4 844.3,283.7 844.7,284.8 845.0,283.7 845.3,288.6 845.6,284.9 846.0,284.8 846.3,284.0 846.6,283.9 847.0,283.9 847.3,284.6 847.6,284.2 848.0,284.4 848.3,284.5 848.6,284.5 848.9,284.6 849.3,284.4 849.6,283.8 849.9,284.9 850.3,283.5 850.6,284.8 850.9,284.2 851.3,284.4 851.6,284.3 851.9,284.3 852.2,284.4 852.6,284.4 852.9,284.1 853.2,284.8 853.6,284.3 853.9,285.0 854.2,284.4 854.6,284.3 854.9,284.7 855.2,284.8 855.5,284.2 855.9,284.4 856.2,284.3 856.5,284.1 856.9,285.0 857.2,281.8 857.5,284.7 857.9,283.0 858.2,282.5 858.5,282.0 858.8,284.7 859.2,279.7 859.5,282.8 859.8,283.4 860.2,284.9 860.5,284.8 860.8,284.4 861.2,287.7 861.5,284.8 861.8,285.4 862.1,284.1 862.5,281.3 862.8,283.5 863.1,280.7 863.5,284.8 863.8,281.1 864.1,284.6 864.5,284.9 864.8,284.7 865.1,285.2 865.4,284.8 865.8,284.6 866.1,283.8 866.4,284.7 866.8,284.7 867.1,284.5 867.4,284.5 867.8,285.0 868.1,285.1 868.4,285.4 868.7,285.2 869.1,284.6 869.4,284.9 869.7,284.3 870.1,286.0 870.4,285.0 870.7,289.7 871.1,284.8 871.4,284.8 871.7,284.6 872.0,285.2 872.4,286.8 872.7,284.1 873.0,279.9 873.4,284.0 873.7,284.8 874.0,285.7 874.4,284.8 874.7,285.1 875.0,285.6 875.3,285.1 875.7,284.9 876.0,285.1 876.3,284.5 876.7,284.9 877.0,285.4 877.3,284.6 877.7,284.7 878.0,285.5 878.3,285.1 878.6,285.4 879.0,284.2 879.3,285.1 879.6,284.6 880.0,284.2 880.3,289.4 880.6,289.4 881.0,285.2 881.3,290.0 881.6,284.8 881.9,285.0 882.3,288.0 882.6,285.8 882.9,285.3 883.3,285.0 883.6,284.9 883.9,285.9 884.3,285.9 884.6,284.9 884.9,290.0 885.2,285.6 885.6,284.7 885.9,284.9 886.2,285.6 886.6,284.9 886.9,285.0 887.2,284.7 887.6,284.9 887.9,285.4 888.2,284.9 888.5,284.7 888.9,287.1 889.2,285.8 889.5,285.1 889.9,285.0 890.2,285.3 890.5,285.4 890.9,285.3 891.2,284.6 891.5,285.3 891.8,285.2 892.2,285.5 892.5,284.7 892.8,285.6 893.2,285.1 893.5,284.7 893.8,285.7 894.2,285.1 894.5,285.4 894.8,285.2 895.1,286.7 895.5,285.7 895.8,285.7 896.1,285.6 896.5,284.8 896.8,284.7 897.1,285.4 897.5,285.0 897.8,285.5 898.1,285.4 898.4,286.2 898.8,285.0 899.1,285.0 899.4,285.1 899.8,285.3 900.1,285.6 900.4,285.9 900.8,284.9 901.1,285.2 901.4,285.9 901.7,285.7 902.1,285.5 902.4,284.1 902.7,287.6 903.1,285.5 903.4,285.2 903.7,286.1 904.1,285.5 904.4,285.6 904.7,285.1 905.0,285.1 905.4,285.2 905.7,283.6 906.0,285.4 906.4,285.6 906.7,285.6 907.0,285.9 907.4,285.0 907.7,285.6 908.0,285.6 908.3,286.1 908.7,285.5 909.0,285.7 909.3,285.3 909.7,284.9 910.0,285.7 910.3,285.3 910.7,285.4 911.0,285.6 911.3,285.8 911.6,285.2 912.0,285.9 912.3,285.5 912.6,286.3 913.0,286.1 913.3,285.5 913.6,285.4 914.0,286.5 914.3,285.8 914.6,285.8 914.9,285.5 915.3,285.6 915.6,285.4 915.9,285.9 916.3,285.4 916.6,286.1 916.9,285.8 917.3,286.4 917.6,286.9 917.9,284.8 918.2,285.5 918.6,285.6 918.9,285.4 919.2,287.5 919.6,282.3 919.9,282.4 920.2,285.8 920.6,284.9 920.9,285.7 921.2,285.0 921.5,285.9 921.9,286.8 922.2,285.4 922.5,286.3 922.9,286.3 923.2,285.4 923.5,285.5 923.9,285.6 924.2,285.8 924.5,285.9 924.8,284.9 925.2,286.0 925.5,283.8 925.8,285.5 926.2,286.2 926.5,285.7 926.8,286.2 927.2,286.0 927.5,285.7 927.8,286.3 928.1,286.1 928.5,285.7 928.8,285.3 929.1,285.7 929.5,286.1 929.8,285.8 930.1,285.1 930.5,289.0 930.8,283.6 931.1,286.8 931.4,283.1 931.8,286.5 932.1,285.8 932.4,284.9 932.8,290.9 933.1,286.2 933.4,285.8 933.8,285.9 934.1,285.4 934.4,285.8 934.7,286.2 935.1,286.0 935.4,285.8 935.7,286.5 936.1,282.0 936.4,285.9 936.7,284.7" stroke="#ff0000" stroke-width="1.3" fill="none" stroke-linejoin="miter"/>
<path d="M125.0,363.1 126.0,363.1 127.0,363.0 128.0,362.9 129.0,362.9 130.0,362.8 131.0,362.7 132.0,362.7 133.0,362.6 134.0,362.5 135.0,362.4 136.0,362.4 137.0,362.3 138.0,362.2 139.0,362.1 140.0,362.0 141.0,361.9 142.0,361.8 143.0,361.7 144.0,361.6 145.0,361.4 146.0,361.3 147.0,361.2 148.0,361.1 149.0,361.0 150.0,360.9 151.0,360.7 152.0,360.6 153.0,360.5 154.0,360.4 155.0,360.2 156.0,360.1 157.0,360.0 158.0,359.8 159.0,359.6 160.0,359.5 161.0,359.3 162.0,359.1 163.0,359.0 164.0,358.8 165.0,358.6 166.0,358.4 167.0,358.2 168.0,358.0 169.0,357.8 170.0,357.6 171.0,357.4 172.0,357.2 173.0,357.0 174.0,356.8 175.0,356.6 176.0,356.4 177.0,356.2 178.0,355.9 179.0,355.7 180.0,355.4 181.0,355.2 182.0,354.9 183.0,354.6 184.0,354.4 185.0,354.1 186.0,353.8 187.0,353.6 188.0,353.3 189.0,353.0 190.0,352.8 191.0,352.5 192.0,352.3 193.0,352.0 194.0,351.8 195.0,351.5 196.0,351.3 197.0,351.1 198.0,350.9 199.0,350.7 200.0,350.5 201.0,350.3 202.0,350.1 203.0,349.9 204.0,349.8 205.0,349.6 206.0,349.4 207.0,349.2 208.0,349.1 209.0,348.9 210.0,348.7 211.0,348.5 212.0,348.3 213.0,348.1 214.0,347.9 215.0,347.6 216.0,347.4 217.0,347.1 218.0,346.8 219.0,346.4 220.0,346.0 221.0,345.4 222.0,344.9 223.0,344.3 224.0,343.8 225.0,343.2 226.0,342.7 227.0,342.3 228.0,342.0 229.0,341.7 230.0,341.6 231.0,341.6 232.0,341.6 233.0,341.7 234.0,341.8 235.0,341.9 236.0,342.0 237.0,342.1 238.0,342.2 239.0,342.3 240.0,342.4 241.0,342.5 242.0,342.6 243.0,342.7 244.0,342.8 245.0,342.8 246.0,342.9 247.0,343.0 248.0,343.1 249.0,343.2 250.0,343.3 251.0,343.3 252.0,343.4 253.0,343.5 254.0,343.6 255.0,343.6 256.0,343.7 257.0,343.7 258.0,343.8 259.0,343.8 260.0,343.8 261.0,343.8 262.0,343.6 263.0,343.3 264.0,343.0 265.0,342.6 266.0,342.2 267.0,341.9 268.0,341.7 269.0,341.6 270.0,341.9 271.0,342.6 272.0,343.6 273.0,344.6 274.0,345.5 275.0,346.0 276.0,346.0 277.0,345.9 278.0,345.9 279.0,345.7 280.0,345.6 281.0,345.4 282.0,345.2 283.0,345.0 284.0,344.8 285.0,344.5 286.0,344.3 287.0,344.0 288.0,343.8 289.0,343.5 290.0,343.3 291.0,343.0 292.0,342.8 293.0,342.6 294.0,342.4 295.0,342.2 296.0,341.9 297.0,341.6 298.0,341.4 299.0,341.2 300.0,341.0 301.0,340.8 302.0,340.7 303.0,340.6 304.0,340.6 305.0,340.8 306.0,341.1 307.0,341.5 308.0,342.0 309.0,342.5 310.0,343.0 311.0,343.4 312.0,343.8 313.0,344.1 314.0,344.2 315.0,344.3 316.0,344.3 317.0,344.3 318.0,344.4 319.0,344.4 320.0,344.4 321.0,344.4 322.0,344.3 323.0,344.3 324.0,344.2 325.0,344.1 326.0,343.9 327.0,343.8 328.0,343.6 329.0,343.5 330.0,343.3 331.0,343.1 332.0,342.9 333.0,342.8 334.0,342.6 335.0,342.3 336.0,342.1 337.0,341.8 338.0,341.5 339.0,341.2 340.0,340.8 341.0,340.3 342.0,339.6 343.0,339.0 344.0,338.3 345.0,337.8 346.0,337.5 347.0,337.3 348.0,337.2 349.0,337.0 350.0,336.7 351.0,336.2 352.0,335.3 353.0,334.0 354.0,332.6 355.0,331.1 356.0,329.7 357.0,328.5 358.0,327.5 359.0,326.3 360.0,325.3 361.0,324.4 362.0,323.7 363.0,323.5 364.0,324.0 365.0,325.0 366.0,326.0 367.0,326.4 368.0,325.6 369.0,323.7 370.0,321.2 371.0,318.5 372.0,316.0 373.0,314.2 374.0,312.7 375.0,311.3 376.0,309.9 377.0,308.7 378.0,307.5 379.0,306.5 380.0,305.7 381.0,305.0 382.0,304.3 383.0,303.5 384.0,302.6 385.0,301.2 386.0,298.9 387.0,296.1 388.0,293.7 389.0,292.3 390.0,292.3 391.0,292.7 392.0,293.2 393.0,293.9 394.0,294.5 395.0,295.0 396.0,295.2 397.0,294.7 398.0,292.9 399.0,290.6 400.0,288.5 401.0,286.6 402.0,284.5 403.0,282.4 404.0,280.5 405.0,279.2 406.0,278.6 407.0,278.3 408.0,278.1 409.0,278.0 410.0,277.8 411.0,277.7 412.0,277.7 413.0,277.6 414.0,277.6 415.0,277.7 416.0,277.9 417.0,278.2 418.0,278.5 419.0,278.9 420.0,279.3 421.0,280.0 422.0,280.8 423.0,281.4 424.0,281.4 425.0,280.9 426.0,280.1 427.0,279.3 428.0,278.5 429.0,278.0 430.0,278.1 431.0,278.5 432.0,279.3 433.0,280.6 434.0,283.4 435.0,286.3 436.0,288.2 437.0,288.5 438.0,288.7 439.0,288.8 440.0,288.9 441.0,289.1 442.0,289.3 443.0,290.4 444.0,292.6 445.0,295.5 446.0,298.4 447.0,300.8 448.0,302.1 449.0,302.7 450.0,303.1 451.0,303.4 452.0,303.7 453.0,304.0 454.0,304.5 455.0,305.0 456.0,306.0 457.0,307.3 458.0,308.9 459.0,310.6 460.0,312.2 461.0,313.8 462.0,315.1 463.0,316.0 464.0,316.8 465.0,317.5 466.0,318.1 467.0,318.7 468.0,319.3 469.0,320.0 470.0,320.8 471.0,321.5 472.0,322.3 473.0,323.2 474.0,324.2 475.0,325.3 476.0,326.8 477.0,328.5 478.0,330.4 479.0,332.2 480.0,334.0 481.0,335.6 482.0,337.0 483.0,338.1 484.0,339.1 485.0,340.0 486.0,340.9 487.0,341.7 488.0,342.5 489.0,343.3 490.0,344.1 491.0,344.9 492.0,345.6 493.0,346.4 494.0,347.2 495.0,347.9 496.0,348.6 497.0,349.2 498.0,349.8 499.0,350.3 500.0,350.8 501.0,351.2 502.0,351.5 503.0,351.7 504.0,351.8 505.0,352.0 506.0,352.1 507.0,352.3 508.0,352.4 509.0,352.5 510.0,352.6 511.0,352.7 512.0,352.7 513.0,352.8 514.0,352.9 515.0,353.0 516.0,353.1 517.0,353.1 518.0,353.2 519.0,353.3 520.0,353.4 521.0,353.5 522.0,353.6 523.0,353.7 524.0,353.7 525.0,353.8 526.0,353.9 527.0,353.9 528.0,354.0 529.0,354.1 530.0,354.2 531.0,354.3 532.0,354.3 533.0,354.4 534.0,354.6 535.0,354.7 536.0,354.8 537.0,355.0 538.0,355.2 539.0,355.5 540.0,355.8 541.0,356.2 542.0,356.6 543.0,357.0 544.0,357.5 545.0,357.9 546.0,358.4 547.0,358.8 548.0,359.2 549.0,359.6 550.0,360.0 551.0,360.3 552.0,360.6 553.0,360.8 554.0,360.9 555.0,361.0 556.0,361.0 557.0,361.1 558.0,361.1 559.0,361.1 560.0,361.2 561.0,361.2 562.0,361.3 563.0,361.3 564.0,361.3 565.0,361.4 566.0,361.4 567.0,361.4 568.0,361.4 569.0,361.5 570.0,361.5 571.0,361.5 572.0,361.6 573.0,361.6 574.0,361.6 575.0,361.6 576.0,361.7 577.0,361.7 578.0,361.7 579.0,361.7 580.0,361.8 581.0,361.8 582.0,361.8 583.0,361.8 584.0,361.8 585.0,361.9 586.0,361.9 587.0,361.9 588.0,361.9 589.0,361.9 590.0,362.0 591.0,362.0 592.0,362.0 593.0,362.0 594.0,362.0 595.0,362.1 596.0,362.1 597.0,362.1 598.0,362.1 599.0,362.1 600.0,362.1 601.0,362.1 602.0,362.2 603.0,362.2 604.0,362.2 605.0,362.2 606.0,362.2 607.0,362.2 608.0,362.2 609.0,362.2 610.0,362.3 611.0,362.3 612.0,362.3 613.0,362.3 614.0,362.3 615.0,362.3 616.0,362.3 617.0,362.3 618.0,362.3 619.0,362.4 620.0,362.4 621.0,362.4 622.0,362.4 623.0,362.4 624.0,362.4 625.0,362.4 626.0,362.4 627.0,362.4 628.0,362.4 629.0,362.4 630.0,362.5 631.0,362.5 632.0,362.5 633.0,362.5 634.0,362.5 635.0,362.5 636.0,362.5 637.0,362.5 638.0,362.5 639.0,362.5 640.0,362.5 641.0,362.5 642.0,362.5 643.0,362.6 644.0,362.6 645.0,362.6 646.0,362.6 647.0,362.6 648.0,362.6 649.0,362.6 650.0,362.6 651.0,362.6 652.0,362.6 653.0,362.6 654.0,362.7 655.0,362.7 656.0,362.7 657.0,362.7 658.0,362.7 659.0,362.7 660.0,362.7 661.0,362.7 662.0,362.7 663.0,362.7 664.0,362.8 665.0,362.8 666.0,362.8 667.0,362.8 668.0,362.8 669.0,362.8 670.0,362.8 671.0,362.8 672.0,362.9 673.0,362.9 674.0,362.9 675.0,362.9 676.0,362.9 677.0,362.9 678.0,362.9 679.0,362.9 680.0,362.9 681.0,363.0 682.0,363.0 683.0,363.0 684.0,363.0 685.0,363.0 686.0,363.0 687.0,363.0 688.0,363.0 689.0,363.0 690.0,363.0 691.0,363.1 692.0,363.1 693.0,363.1 694.0,363.1 695.0,363.1 696.0,363.1 697.0,363.1 698.0,363.1 699.0,363.1 700.0,363.1 701.0,363.2 702.0,363.2 703.0,363.2 704.0,363.2 705.0,363.2 706.0,363.2 707.0,363.2 708.0,363.2 709.0,363.2 710.0,363.2 711.0,363.2 712.0,363.3 713.0,363.3 714.0,363.3 715.0,363.3 716.0,363.3 717.0,363.3 718.0,363.3 719.0,363.3 720.0,363.3 721.0,363.3 722.0,363.3 723.0,363.3 724.0,363.4 725.0,363.4 726.0,363.4 727.0,363.4 728.0,363.4 729.0,363.4 730.0,363.4 731.0,363.4 732.0,363.4 733.0,363.4 734.0,363.4 735.0,363.4 736.0,363.4 737.0,363.5 738.0,363.5 739.0,363.5 740.0,363.5 741.0,363.5 742.0,363.5 743.0,363.5 744.0,363.5 745.0,363.5 746.0,363.5 747.0,363.5 748.0,363.5 749.0,363.6 750.0,363.6 751.0,363.6 752.0,363.6 753.0,363.6 754.0,363.6 755.0,363.6 756.0,363.6 757.0,363.6 758.0,363.6 759.0,363.6 760.0,363.7 761.0,363.7 762.0,363.7 763.0,363.7 764.0,363.7 765.0,363.7 766.0,363.7 767.0,363.7 768.0,363.7 769.0,363.7 770.0,363.7 771.0,363.8 772.0,363.8 773.0,363.8 774.0,363.8 775.0,363.8 776.0,363.8 777.0,363.8 778.0,363.8 779.0,363.8 780.0,363.9 781.0,363.9 782.0,363.9 783.0,363.9 784.0,363.9 785.0,363.9 786.0,363.9 787.0,363.9 788.0,363.9 789.0,364.0 790.0,364.0 791.0,364.0 792.0,364.0 793.0,364.0 794.0,364.0 795.0,364.0 796.0,364.0 797.0,364.1 798.0,364.1 799.0,364.1 800.0,364.1 801.0,364.1 802.0,364.1 803.0,364.1 804.0,364.1 805.0,364.2 806.0,364.2 807.0,364.2 808.0,364.2 809.0,364.2 810.0,364.2 811.0,364.2 812.0,364.3 813.0,364.3 814.0,364.3 815.0,364.3 816.0,364.3 817.0,364.3 818.0,364.4 819.0,364.4 820.0,364.4 821.0,364.4 822.0,364.4 823.0,364.4 824.0,364.5 825.0,364.5 826.0,364.5 827.0,364.5 828.0,364.5 829.0,364.6 830.0,364.6 831.0,364.6 832.0,364.6 833.0,364.6 834.0,364.6 835.0,364.7 836.0,364.7 837.0,364.7 838.0,364.7 839.0,364.8 840.0,364.8 841.0,364.8 842.0,364.8 843.0,364.8 844.0,364.9 845.0,364.9 846.0,364.9 847.0,364.9 848.0,364.9 849.0,365.0 850.0,365.0 851.0,365.0 852.0,365.0 853.0,365.1 854.0,365.1 855.0,365.1 856.0,365.1 857.0,365.2 858.0,365.2 859.0,365.2 860.0,365.2 861.0,365.3 862.0,365.3 863.0,365.3 864.0,365.3 865.0,365.4 866.0,365.4 867.0,365.4 868.0,365.4 869.0,365.5 870.0,365.5 871.0,365.5 872.0,365.5 873.0,365.6 874.0,365.6 875.0,365.6 876.0,365.6 877.0,365.7 878.0,365.7 879.0,365.7 880.0,365.8 881.0,365.8 882.0,365.8 883.0,365.8 884.0,365.9 885.0,365.9 886.0,365.9 887.0,365.9 888.0,366.0 889.0,366.0 890.0,366.0 891.0,366.1 892.0,366.1 893.0,366.1 894.0,366.2 895.0,366.2 896.0,366.2 897.0,366.2 898.0,366.3 899.0,366.3 900.0,366.3 901.0,366.4 902.0,366.4 903.0,366.4 904.0,366.4 905.0,366.5 906.0,366.5 907.0,366.5 908.0,366.6 909.0,366.6 910.0,366.6 911.0,366.7 912.0,366.7 913.0,366.7 914.0,366.8 915.0,366.8 916.0,366.8 917.0,366.9 918.0,366.9 919.0,366.9 920.0,366.9 921.0,367.0 922.0,367.0 923.0,367.0 924.0,367.1 925.0,367.1 926.0,367.1 927.0,367.2 928.0,367.2 929.0,367.2 930.0,367.3 931.0,367.3 932.0,367.3 933.0,367.4 934.0,367.4 935.0,367.4 936.0,367.5 937.0,367.5" stroke="#0000ff" stroke-width="3.3" fill="none" stroke-linejoin="round"/>
<path d="M125.0,363.1 125.3,363.5 125.7,363.4 126.0,363.3 126.3,363.7 126.6,362.6 127.0,362.8 127.3,362.2 127.6,365.3 128.0,365.3 128.3,360.9 128.6,364.4 129.0,363.4 129.3,366.0 129.6,361.5 129.9,363.5 130.3,367.2 130.6,362.9 130.9,362.7 131.3,363.0 131.6,363.0 131.9,362.6 132.3,362.5 132.6,362.6 132.9,362.4 133.2,362.4 133.6,362.4 133.9,362.3 134.2,362.8 134.6,361.9 134.9,362.8 135.2,362.2 135.6,362.2 135.9,361.9 136.2,361.4 136.5,362.2 136.9,362.3 137.2,362.0 137.5,362.2 137.9,362.9 138.2,362.3 138.5,361.9 138.9,362.4 139.2,362.0 139.5,362.2 139.8,363.1 140.2,361.8 140.5,361.2 140.8,361.8 141.2,362.1 141.5,361.7 141.8,361.9 142.2,362.1 142.5,361.5 142.8,362.1 143.1,362.2 143.5,362.0 143.8,362.0 144.1,361.9 144.5,362.3 144.8,361.5 145.1,361.4 145.5,361.6 145.8,361.0 146.1,360.7 146.4,361.0 146.8,361.4 147.1,361.4 147.4,360.6 147.8,360.4 148.1,361.0 148.4,361.0 148.8,361.0 149.1,361.2 149.4,361.4 149.7,361.0 150.1,361.1 150.4,365.1 150.7,360.3 151.1,360.8 151.4,360.9 151.7,360.9 152.1,360.8 152.4,360.9 152.7,360.8 153.0,359.9 153.4,360.2 153.7,360.6 154.0,360.6 154.4,359.8 154.7,360.7 155.0,360.1 155.4,361.3 155.7,364.6 156.0,362.9 156.3,360.0 156.7,360.9 157.0,360.0 157.3,359.6 157.7,359.8 158.0,359.0 158.3,359.5 158.7,359.8 159.0,359.4 159.3,359.5 159.6,359.5 160.0,359.5 160.3,359.8 160.6,359.4 161.0,359.2 161.3,359.4 161.6,359.9 162.0,359.0 162.3,360.3 162.6,358.8 162.9,359.5 163.3,359.1 163.6,359.3 163.9,358.8 164.3,358.4 164.6,359.0 164.9,359.7 165.3,357.1 165.6,357.9 165.9,358.9 166.2,360.2 166.6,359.3 166.9,358.4 167.2,354.2 167.6,357.0 167.9,357.5 168.2,357.7 168.6,357.6 168.9,357.8 169.2,357.6 169.5,357.3 169.9,357.8 170.2,357.8 170.5,357.6 170.9,357.3 171.2,357.5 171.5,357.4 171.9,357.0 172.2,357.4 172.5,356.4 172.8,356.6 173.2,356.9 173.5,356.9 173.8,356.4 174.2,356.9 174.5,357.1 174.8,355.2 175.2,356.6 175.5,356.8 175.8,356.6 176.1,356.0 176.5,356.2 176.8,356.6 177.1,355.7 177.5,356.1 177.8,355.8 178.1,355.6 178.5,355.5 178.8,355.8 179.1,355.7 179.4,355.7 179.8,355.0 180.1,355.3 180.4,355.4 180.8,355.5 181.1,355.4 181.4,355.3 181.8,355.3 182.1,355.2 182.4,354.5 182.7,354.7 183.1,354.4 183.4,353.7 183.7,355.9 184.1,356.2 184.4,354.9 184.7,356.3 185.1,353.9 185.4,354.5 185.7,353.9 186.0,350.3 186.4,353.6 186.7,353.6 187.0,354.0 187.4,353.7 187.7,357.2 188.0,353.6 188.4,353.6 188.7,353.0 189.0,353.4 189.3,353.0 189.7,352.6 190.0,353.2 190.3,351.4 190.7,352.4 191.0,352.0 191.3,352.0 191.7,350.1 192.0,351.9 192.3,352.3 192.6,352.0 193.0,352.2 193.3,352.1 193.6,351.6 194.0,351.7 194.3,351.7 194.6,351.7 195.0,350.3 195.3,351.4 195.6,351.6 195.9,351.8 196.3,351.4 196.6,350.9 196.9,351.2 197.3,351.0 197.6,351.1 197.9,351.5 198.3,350.7 198.6,350.8 198.9,350.4 199.2,350.5 199.6,350.4 199.9,352.3 200.2,350.5 200.6,350.2 200.9,351.0 201.2,349.8 201.6,350.5 201.9,350.5 202.2,350.3 202.5,349.9 202.9,349.9 203.2,349.8 203.5,350.1 203.9,349.0 204.2,349.6 204.5,349.7 204.9,349.7 205.2,349.0 205.5,348.7 205.8,349.8 206.2,350.1 206.5,349.9 206.8,347.9 207.2,348.3 207.5,348.0 207.8,348.9 208.2,349.3 208.5,349.6 208.8,349.0 209.1,348.8 209.5,350.2 209.8,348.7 210.1,353.0 210.5,348.0 210.8,350.9 211.1,350.2 211.5,348.5 211.8,348.9 212.1,348.4 212.4,347.6 212.8,348.4 213.1,348.4 213.4,348.6 213.8,347.6 214.1,347.6 214.4,347.8 214.8,347.4 215.1,347.2 215.4,347.2 215.7,348.3 216.1,347.2 216.4,347.0 216.7,347.1 217.1,347.1 217.4,347.5 217.7,347.2 218.1,347.1 218.4,346.7 218.7,346.6 219.0,346.2 219.4,345.8 219.7,348.9 220.0,345.8 220.4,346.1 220.7,345.5 221.0,345.4 221.4,345.2 221.7,344.7 222.0,344.9 222.3,344.8 222.7,344.8 223.0,345.3 223.3,344.4 223.7,344.1 224.0,343.8 224.3,343.1 224.7,343.3 225.0,343.9 225.3,342.4 225.6,343.5 226.0,342.1 226.3,342.2 226.6,344.2 227.0,341.1 227.3,345.9 227.6,344.3 228.0,340.5 228.3,341.0 228.6,341.7 228.9,341.2 229.3,346.2 229.6,344.3 229.9,336.8 230.3,341.9 230.6,341.7 230.9,341.6 231.3,341.8 231.6,341.7 231.9,341.7 232.2,341.1 232.6,340.8 232.9,342.1 233.2,345.2 233.6,342.1 233.9,342.2 234.2,341.5 234.6,342.1 234.9,342.9 235.2,341.6 235.5,341.7 235.9,342.0 236.2,341.2 236.5,341.9 236.9,343.9 237.2,341.9 237.5,341.5 237.9,342.0 238.2,342.8 238.5,342.7 238.8,342.2 239.2,342.0 239.5,342.3 239.8,342.4 240.2,342.2 240.5,342.3 240.8,342.7 241.2,342.9 241.5,341.6 241.8,342.9 242.1,342.7 242.5,343.1 242.8,342.7 243.1,342.9 243.5,343.3 243.8,341.6 244.1,343.4 244.5,342.9 244.8,342.1 245.1,341.8 245.4,343.0 245.8,342.5 246.1,342.6 246.4,343.0 246.8,342.9 247.1,343.4 247.4,343.0 247.8,343.4 248.1,343.4 248.4,343.3 248.7,343.5 249.1,343.5 249.4,344.2 249.7,343.1 250.1,343.2 250.4,343.2 250.7,342.7 251.1,343.1 251.4,343.5 251.7,343.5 252.0,344.0 252.4,343.2 252.7,343.3 253.0,343.3 253.4,343.4 253.7,343.3 254.0,342.9 254.4,343.7 254.7,344.0 255.0,344.1 255.3,343.2 255.7,343.6 256.0,344.4 256.3,343.4 256.7,343.4 257.0,343.6 257.3,346.8 257.7,344.1 258.0,344.7 258.3,344.0 258.6,344.0 259.0,343.3 259.3,343.6 259.6,343.5 260.0,343.7 260.3,341.3 260.6,341.9 261.0,344.9 261.3,343.6 261.6,343.8 261.9,345.9 262.3,342.7 262.6,345.2 262.9,343.8 263.3,342.1 263.6,343.9 263.9,341.4 264.3,341.2 264.6,343.1 264.9,342.6 265.2,342.3 265.6,341.2 265.9,341.6 266.2,341.7 266.6,340.5 266.9,342.1 267.2,338.2 267.6,345.3 267.9,341.4 268.2,341.9 268.5,342.0 268.9,345.6 269.2,337.2 269.5,340.8 269.9,343.9 270.2,340.9 270.5,341.9 270.9,342.7 271.2,342.8 271.5,343.1 271.8,343.2 272.2,343.3 272.5,344.0 272.8,344.2 273.2,344.4 273.5,342.1 273.8,342.2 274.2,344.5 274.5,345.1 274.8,344.7 275.1,345.5 275.5,344.9 275.8,347.4 276.1,347.6 276.5,348.7 276.8,344.9 277.1,345.4 277.5,346.0 277.8,341.2 278.1,347.6 278.4,345.9 278.8,345.3 279.1,346.1 279.4,346.0 279.8,345.7 280.1,345.7 280.4,345.1 280.8,346.7 281.1,345.3 281.4,343.2 281.7,345.4 282.1,345.2 282.4,345.8 282.7,340.8 283.1,349.2 283.4,348.0 283.7,345.0 284.1,348.3 284.4,345.6 284.7,348.8 285.0,342.5 285.4,345.1 285.7,344.0 286.0,344.2 286.4,344.6 286.7,344.4 287.0,344.0 287.4,344.0 287.7,343.2 288.0,344.0 288.3,343.6 288.7,344.1 289.0,343.5 289.3,343.3 289.7,343.4 290.0,342.4 290.3,343.7 290.7,343.2 291.0,343.2 291.3,343.1 291.6,342.8 292.0,343.0 292.3,342.8 292.6,347.0 293.0,342.7 293.3,342.7 293.6,338.2 294.0,342.3 294.3,342.2 294.6,342.7 294.9,342.2 295.3,342.4 295.6,341.9 295.9,341.8 296.3,341.2 296.6,342.0 296.9,345.6 297.3,341.5 297.6,342.0 297.9,341.7 298.2,341.1 298.6,341.5 298.9,340.9 299.2,341.0 299.6,340.4 299.9,341.1 300.2,340.5 300.6,341.4 300.9,338.6 301.2,340.7 301.5,340.6 301.9,340.7 302.2,344.0 302.5,337.9 302.9,340.8 303.2,339.9 303.5,339.6 303.9,340.8 304.2,340.7 304.5,341.2 304.8,341.3 305.2,341.8 305.5,341.5 305.8,340.0 306.2,341.2 306.5,341.8 306.8,341.5 307.2,341.7 307.5,341.5 307.8,342.0 308.1,342.5 308.5,342.2 308.8,342.5 309.1,341.9 309.5,343.1 309.8,343.0 310.1,343.5 310.5,343.3 310.8,343.1 311.1,343.1 311.4,343.8 311.8,343.7 312.1,343.5 312.4,343.9 312.8,343.8 313.1,344.4 313.4,344.0 313.8,343.7 314.1,344.2 314.4,343.7 314.7,344.8 315.1,344.1 315.4,344.5 315.7,341.5 316.1,344.2 316.4,344.4 316.7,344.4 317.1,343.9 317.4,344.3 317.7,344.3 318.0,343.9 318.4,344.1 318.7,344.5 319.0,343.7 319.4,343.9 319.7,343.5 320.0,344.3 320.4,344.6 320.7,343.8 321.0,344.5 321.3,344.6 321.7,344.9 322.0,344.1 322.3,343.9 322.7,343.7 323.0,344.4 323.3,344.7 323.7,343.9 324.0,344.3 324.3,343.8 324.6,344.2 325.0,339.5 325.3,347.4 325.6,343.9 326.0,343.6 326.3,344.0 326.6,344.0 327.0,343.4 327.3,342.8 327.6,344.8 327.9,343.1 328.3,341.5 328.6,343.8 328.9,343.5 329.3,343.5 329.6,343.3 329.9,343.8 330.3,342.9 330.6,343.1 330.9,342.4 331.2,343.2 331.6,343.1 331.9,342.4 332.2,342.6 332.6,343.0 332.9,342.6 333.2,342.3 333.6,341.8 333.9,342.7 334.2,343.2 334.5,342.3 334.9,342.5 335.2,342.4 335.5,342.2 335.9,342.1 336.2,342.0 336.5,341.6 336.9,342.6 337.2,342.6 337.5,341.7 337.8,342.1 338.2,341.2 338.5,341.3 338.8,341.6 339.2,340.7 339.5,340.6 339.8,341.0 340.2,340.1 340.5,341.0 340.8,340.6 341.1,341.3 341.5,339.4 341.8,340.4 342.1,339.2 342.5,340.5 342.8,338.1 343.1,339.7 343.5,336.4 343.8,340.3 344.1,337.5 344.4,338.4 344.8,337.6 345.1,335.9 345.4,337.2 345.8,337.2 346.1,337.2 346.4,337.8 346.8,338.0 347.1,337.4 347.4,336.7 347.7,337.0 348.1,337.1 348.4,337.0 348.7,336.9 349.1,337.1 349.4,336.2 349.7,336.6 350.1,336.8 350.4,336.7 350.7,337.5 351.0,336.2 351.4,335.9 351.7,335.4 352.0,335.3 352.4,332.3 352.7,334.3 353.0,334.2 353.4,333.7 353.7,333.0 354.0,332.7 354.3,332.3 354.7,331.6 355.0,331.1 355.3,330.7 355.7,329.8 356.0,329.4 356.3,329.4 356.7,328.9 357.0,331.2 357.3,328.6 357.6,328.4 358.0,326.8 358.3,328.0 358.6,328.3 359.0,325.9 359.3,327.3 359.6,328.4 360.0,325.1 360.3,324.9 360.6,324.4 360.9,325.0 361.3,321.3 361.6,324.0 361.9,323.6 362.3,323.7 362.6,323.8 362.9,323.4 363.3,323.5 363.6,324.3 363.9,324.1 364.2,324.3 364.6,324.5 364.9,324.9 365.2,325.1 365.6,325.7 365.9,325.8 366.2,326.0 366.6,326.2 366.9,326.0 367.2,326.4 367.5,327.7 367.9,324.6 368.2,323.4 368.5,325.1 368.9,324.7 369.2,322.2 369.5,322.4 369.9,319.9 370.2,319.1 370.5,318.6 370.8,319.4 371.2,318.1 371.5,317.9 371.8,314.6 372.2,315.4 372.5,314.8 372.8,314.4 373.2,314.6 373.5,314.2 373.8,313.0 374.1,312.4 374.5,311.6 374.8,312.6 375.1,309.5 375.5,309.7 375.8,310.2 376.1,309.4 376.5,309.4 376.8,308.9 377.1,308.6 377.4,307.0 377.8,308.7 378.1,306.0 378.4,307.2 378.8,306.5 379.1,306.2 379.4,309.1 379.8,306.0 380.1,305.2 380.4,305.4 380.7,304.9 381.1,304.7 381.4,304.3 381.7,304.7 382.1,304.1 382.4,304.0 382.7,303.7 383.1,302.8 383.4,303.0 383.7,303.0 384.0,302.2 384.4,303.5 384.7,301.7 385.0,301.2 385.4,300.5 385.7,299.8 386.0,298.8 386.4,298.1 386.7,297.2 387.0,296.0 387.3,295.4 387.7,294.3 388.0,293.8 388.3,293.2 388.7,292.4 389.0,292.4 389.3,291.9 389.7,292.3 390.0,291.5 390.3,292.4 390.6,292.8 391.0,293.9 391.3,293.4 391.6,293.2 392.0,292.8 392.3,292.5 392.6,293.5 393.0,294.4 393.3,294.0 393.6,294.3 393.9,294.4 394.3,294.8 394.6,294.6 394.9,296.6 395.3,297.1 395.6,299.4 395.9,294.2 396.3,295.4 396.6,294.5 396.9,294.7 397.2,294.2 397.6,293.8 397.9,292.8 398.2,292.4 398.6,291.8 398.9,290.8 399.2,290.0 399.6,289.4 399.9,288.5 400.2,288.0 400.5,287.6 400.9,286.7 401.2,286.5 401.5,285.5 401.9,284.7 402.2,284.0 402.5,283.3 402.9,282.3 403.2,282.0 403.5,281.5 403.8,280.9 404.2,280.2 404.5,279.6 404.8,279.5 405.2,279.0 405.5,278.9 405.8,278.9 406.2,278.7 406.5,278.3 406.8,278.4 407.1,278.4 407.5,277.7 407.8,278.2 408.1,278.1 408.5,277.3 408.8,277.4 409.1,278.6 409.5,277.9 409.8,278.3 410.1,277.7 410.4,278.3 410.8,277.9 411.1,277.5 411.4,277.8 411.8,278.3 412.1,278.6 412.4,277.8 412.8,277.4 413.1,277.3 413.4,277.9 413.7,278.0 414.1,277.3 414.4,277.6 414.7,278.0 415.1,277.9 415.4,277.9 415.7,277.3 416.1,277.8 416.4,278.6 416.7,278.1 417.0,279.0 417.4,278.4 417.7,278.3 418.0,278.6 418.4,278.8 418.7,278.5 419.0,279.0 419.4,278.9 419.7,279.6 420.0,278.4 420.3,278.7 420.7,282.8 421.0,279.1 421.3,279.6 421.7,280.9 422.0,281.4 422.3,281.1 422.7,281.4 423.0,281.0 423.3,281.4 423.6,281.7 424.0,281.2 424.3,280.9 424.6,281.0 425.0,281.4 425.3,280.7 425.6,280.8 426.0,280.1 426.3,280.1 426.6,279.3 426.9,279.2 427.3,279.1 427.6,279.2 427.9,278.7 428.3,278.6 428.6,274.6 428.9,277.9 429.3,278.5 429.6,278.5 429.9,278.5 430.2,278.5 430.6,278.2 430.9,279.1 431.2,278.7 431.6,279.3 431.9,279.4 432.2,279.0 432.6,279.4 432.9,280.1 433.2,281.1 433.5,282.1 433.9,283.0 434.2,284.1 434.5,284.9 434.9,285.9 435.2,286.7 435.5,287.5 435.9,287.8 436.2,288.3 436.5,288.1 436.8,288.3 437.2,288.3 437.5,288.5 437.8,288.5 438.2,287.0 438.5,288.2 438.8,287.1 439.2,290.8 439.5,288.3 439.8,289.5 440.1,292.1 440.5,289.2 440.8,289.4 441.1,289.1 441.5,286.5 441.8,289.2 442.1,289.7 442.5,289.8 442.8,290.4 443.1,290.8 443.4,291.2 443.8,291.9 444.1,292.8 444.4,293.8 444.8,294.9 445.1,295.6 445.4,296.5 445.8,297.7 446.1,298.8 446.4,299.6 446.7,300.5 447.1,300.9 447.4,301.4 447.7,301.8 448.1,301.8 448.4,302.1 448.7,302.9 449.1,303.3 449.4,303.2 449.7,303.1 450.0,303.0 450.4,303.3 450.7,302.7 451.0,303.6 451.4,303.8 451.7,303.6 452.0,302.9 452.4,302.5 452.7,303.8 453.0,303.2 453.3,303.4 453.7,302.3 454.0,304.2 454.3,306.6 454.7,304.6 455.0,305.0 455.3,305.6 455.7,305.7 456.0,306.6 456.3,306.3 456.6,306.7 457.0,306.8 457.3,308.7 457.6,307.4 458.0,311.0 458.3,309.2 458.6,310.1 459.0,310.5 459.3,311.1 459.6,311.7 459.9,312.2 460.3,312.9 460.6,313.2 460.9,314.1 461.3,314.7 461.6,314.5 461.9,315.1 462.3,315.1 462.6,315.9 462.9,317.2 463.2,316.2 463.6,316.3 463.9,316.8 464.2,317.1 464.6,317.6 464.9,317.5 465.2,317.4 465.6,317.8 465.9,317.3 466.2,317.4 466.5,318.9 466.9,318.7 467.2,318.2 467.5,318.0 467.9,319.0 468.2,317.8 468.5,318.7 468.9,320.0 469.2,320.5 469.5,320.2 469.8,320.9 470.2,321.0 470.5,321.1 470.8,321.3 471.2,322.1 471.5,322.2 471.8,325.2 472.2,323.7 472.5,322.3 472.8,320.1 473.1,323.9 473.5,323.8 473.8,322.7 474.1,323.8 474.5,325.4 474.8,325.2 475.1,325.6 475.5,327.2 475.8,326.7 476.1,326.7 476.4,327.5 476.8,328.4 477.1,329.8 477.4,329.3 477.8,329.3 478.1,331.8 478.4,331.0 478.8,332.1 479.1,332.4 479.4,332.8 479.7,333.6 480.1,334.3 480.4,334.8 480.7,335.6 481.1,335.5 481.4,336.5 481.7,336.6 482.1,337.2 482.4,337.8 482.7,337.5 483.0,337.8 483.4,338.4 483.7,338.4 484.0,338.6 484.4,336.6 484.7,339.9 485.0,339.9 485.4,340.5 485.7,343.2 486.0,340.9 486.3,340.7 486.7,341.8 487.0,342.1 487.3,345.1 487.7,342.5 488.0,344.1 488.3,343.3 488.7,343.1 489.0,343.3 489.3,343.3 489.6,343.5 490.0,344.0 490.3,344.2 490.6,344.4 491.0,344.8 491.3,347.5 491.6,344.9 492.0,342.8 492.3,344.1 492.6,344.1 492.9,345.9 493.3,345.6 493.6,345.9 493.9,346.7 494.3,346.7 494.6,347.5 494.9,346.9 495.3,347.1 495.6,347.5 495.9,348.4 496.2,349.0 496.6,349.1 496.9,349.5 497.2,349.5 497.6,349.6 497.9,351.8 498.2,348.9 498.6,348.3 498.9,349.0 499.2,350.9 499.5,351.8 499.9,351.3 500.2,351.5 500.5,352.9 500.9,350.7 501.2,352.0 501.5,351.5 501.9,350.1 502.2,351.3 502.5,352.4 502.8,351.2 503.2,351.7 503.5,351.8 503.8,351.7 504.2,351.4 504.5,352.3 504.8,351.3 505.2,351.6 505.5,352.0 505.8,351.9 506.1,352.6 506.5,352.8 506.8,347.7 507.1,353.3 507.5,352.7 507.8,352.9 508.1,351.1 508.5,352.3 508.8,352.8 509.1,352.2 509.4,352.5 509.8,355.2 510.1,351.8 510.4,352.8 510.8,352.8 511.1,352.2 511.4,354.0 511.8,350.8 512.1,352.3 512.4,352.4 512.7,353.0 513.1,353.2 513.4,353.0 513.7,353.9 514.1,355.5 514.4,352.8 514.7,353.6 515.1,356.8 515.4,349.8 515.7,348.7 516.0,353.7 516.4,352.5 516.7,353.0 517.0,353.3 517.4,353.4 517.7,353.3 518.0,353.6 518.4,353.1 518.7,352.9 519.0,353.3 519.3,352.6 519.7,353.7 520.0,353.6 520.3,353.6 520.7,352.9 521.0,354.6 521.3,352.3 521.7,353.2 522.0,353.2 522.3,353.2 522.6,353.7 523.0,353.4 523.3,354.1 523.6,354.5 524.0,353.9 524.3,353.7 524.6,353.7 525.0,349.1 525.3,353.9 525.6,353.4 525.9,354.0 526.3,353.7 526.6,354.5 526.9,353.9 527.3,354.0 527.6,353.2 527.9,356.2 528.3,353.5 528.6,352.9 528.9,350.2 529.2,355.4 529.6,355.7 529.9,349.5 530.2,355.7 530.6,354.2 530.9,354.4 531.2,355.0 531.6,354.4 531.9,354.4 532.2,354.6 532.5,354.2 532.9,354.3 533.2,354.6 533.5,354.9 533.9,354.8 534.2,354.8 534.5,355.1 534.9,354.5 535.2,354.1 535.5,358.0 535.8,354.8 536.2,354.7 536.5,354.5 536.8,354.8 537.2,355.6 537.5,355.1 537.8,355.9 538.2,355.3 538.5,355.7 538.8,355.5 539.1,355.4 539.5,355.5 539.8,355.7 540.1,356.2 540.5,353.4 540.8,353.6 541.1,357.0 541.5,355.9 541.8,360.3 542.1,356.4 542.4,357.1 542.8,357.3 543.1,356.7 543.4,357.3 543.8,357.3 544.1,356.2 544.4,358.1 544.8,360.2 545.1,354.4 545.4,358.7 545.7,358.1 546.1,358.5 546.4,359.6 546.7,359.5 547.1,359.7 547.4,360.9 547.7,358.8 548.1,361.5 548.4,356.7 548.7,360.6 549.0,357.5 549.4,360.3 549.7,359.5 550.0,359.6 550.4,361.8 550.7,360.5 551.0,361.4 551.4,360.4 551.7,360.9 552.0,360.6 552.3,361.9 552.7,361.0 553.0,358.2 553.3,361.6 553.7,361.1 554.0,360.8 554.3,361.0 554.7,361.0 555.0,360.9 555.3,360.5 555.6,360.9 556.0,360.4 556.3,361.6 556.6,360.6 557.0,360.8 557.3,360.8 557.6,361.4 558.0,361.0 558.3,361.7 558.6,362.6 558.9,360.0 559.3,361.8 559.6,361.5 559.9,366.0 560.3,360.7 560.6,365.2 560.9,362.6 561.3,359.8 561.6,361.1 561.9,358.9 562.2,360.6 562.6,360.9 562.9,361.5 563.2,361.8 563.6,362.0 563.9,361.0 564.2,361.1 564.6,361.4 564.9,362.6 565.2,361.1 565.5,360.7 565.9,362.3 566.2,361.6 566.5,361.5 566.9,362.8 567.2,361.1 567.5,361.4 567.9,362.1 568.2,361.0 568.5,361.9 568.8,363.0 569.2,360.9 569.5,360.8 569.8,361.7 570.2,362.0 570.5,361.4 570.8,361.4 571.2,361.3 571.5,361.6 571.8,361.4 572.1,361.5 572.5,361.7 572.8,361.4 573.1,361.2 573.5,361.4 573.8,361.4 574.1,361.8 574.5,362.1 574.8,361.5 575.1,360.7 575.4,362.1 575.8,361.6 576.1,360.6 576.4,361.6 576.8,362.4 577.1,361.1 577.4,361.2 577.8,361.7 578.1,360.5 578.4,362.1 578.7,365.6 579.1,362.2 579.4,365.2 579.7,362.3 580.1,359.0 580.4,363.5 580.7,361.7 581.1,357.8 581.4,356.9 581.7,363.0 582.0,362.4 582.4,361.9 582.7,361.0 583.0,361.6 583.4,362.4 583.7,362.0 584.0,361.5 584.4,362.2 584.7,361.1 585.0,362.1 585.3,362.0 585.7,361.6 586.0,361.5 586.3,361.2 586.7,361.8 587.0,362.6 587.3,366.2 587.7,362.1 588.0,362.3 588.3,361.7 588.6,362.1 589.0,360.8 589.3,361.7 589.6,360.9 590.0,361.9 590.3,361.9 590.6,361.7 591.0,358.6 591.3,365.3 591.6,366.9 591.9,361.5 592.3,362.0 592.6,364.0 592.9,362.8 593.3,361.3 593.6,361.2 593.9,361.2 594.3,360.9 594.6,362.4 594.9,358.2 595.2,362.0 595.6,362.4 595.9,362.5 596.2,362.6 596.6,361.8 596.9,361.9 597.2,362.4 597.6,362.4 597.9,361.4 598.2,362.9 598.5,362.5 598.9,361.6 599.2,357.7 599.5,357.9 599.9,362.4 600.2,361.4 600.5,361.8 600.9,362.0 601.2,362.2 601.5,361.7 601.8,362.1 602.2,361.9 602.5,361.9 602.8,361.8 603.2,361.9 603.5,362.8 603.8,361.5 604.2,361.6 604.5,362.1 604.8,362.0 605.1,361.8 605.5,362.3 605.8,361.7 606.1,362.2 606.5,362.6 606.8,362.4 607.1,362.0 607.5,361.9 607.8,357.3 608.1,361.3 608.4,360.0 608.8,357.9 609.1,362.2 609.4,364.9 609.8,362.4 610.1,362.8 610.4,363.8 610.8,362.1 611.1,363.0 611.4,362.4 611.7,362.1 612.1,362.5 612.4,362.3 612.7,362.4 613.1,362.0 613.4,362.5 613.7,362.9 614.1,362.4 614.4,363.0 614.7,362.0 615.0,362.5 615.4,362.1 615.7,362.0 616.0,362.1 616.4,362.2 616.7,362.5 617.0,362.7 617.4,362.2 617.7,362.2 618.0,362.6 618.3,362.0 618.7,362.2 619.0,362.2 619.3,362.3 619.7,362.1 620.0,363.0 620.3,362.7 620.7,362.3 621.0,361.8 621.3,362.2 621.6,362.6 622.0,361.6 622.3,363.3 622.6,362.3 623.0,362.3 623.3,362.6 623.6,361.8 624.0,362.4 624.3,362.4 624.6,362.7 624.9,362.0 625.3,362.6 625.6,362.9 625.9,362.5 626.3,362.2 626.6,362.1 626.9,361.7 627.3,362.2 627.6,362.6 627.9,363.0 628.2,362.8 628.6,362.9 628.9,362.2 629.2,362.3 629.6,361.8 629.9,362.2 630.2,361.6 630.6,362.3 630.9,362.7 631.2,362.4 631.5,362.3 631.9,362.7 632.2,363.1 632.5,362.9 632.9,361.8 633.2,363.2 633.5,362.3 633.9,361.9 634.2,362.3 634.5,362.9 634.8,361.4 635.2,363.0 635.5,362.3 635.8,362.3 636.2,363.1 636.5,361.3 636.8,363.6 637.2,362.4 637.5,361.6 637.8,357.5 638.1,360.3 638.5,361.8 638.8,362.9 639.1,363.0 639.5,363.1 639.8,362.3 640.1,362.5 640.5,362.8 640.8,365.5 641.1,362.6 641.4,363.5 641.8,362.4 642.1,362.9 642.4,362.3 642.8,363.1 643.1,362.4 643.4,362.2 643.8,362.8 644.1,362.6 644.4,367.5 644.7,362.5 645.1,362.3 645.4,362.8 645.7,362.7 646.1,363.2 646.4,360.6 646.7,363.8 647.1,365.6 647.4,359.7 647.7,365.7 648.0,361.0 648.4,358.4 648.7,361.8 649.0,364.1 649.4,362.5 649.7,358.5 650.0,361.8 650.4,362.3 650.7,363.1 651.0,362.9 651.3,362.6 651.7,362.6 652.0,362.4 652.3,363.2 652.7,362.6 653.0,363.1 653.3,362.1 653.7,362.0 654.0,363.2 654.3,362.3 654.6,362.6 655.0,362.9 655.3,363.1 655.6,362.9 656.0,362.9 656.3,363.3 656.6,363.2 657.0,366.8 657.3,364.0 657.6,362.0 657.9,364.6 658.3,364.7 658.6,361.5 658.9,364.5 659.3,360.4 659.6,363.7 659.9,362.0 660.3,361.5 660.6,362.8 660.9,363.5 661.2,362.6 661.6,363.3 661.9,362.9 662.2,363.0 662.6,362.4 662.9,362.8 663.2,362.4 663.6,362.8 663.9,362.5 664.2,363.2 664.5,362.6 664.9,362.7 665.2,361.9 665.5,362.4 665.9,363.7 666.2,363.1 666.5,361.9 666.9,361.7 667.2,364.7 667.5,364.1 667.8,363.7 668.2,365.7 668.5,363.2 668.8,362.3 669.2,362.9 669.5,364.7 669.8,362.5 670.2,363.7 670.5,362.8 670.8,362.8 671.1,362.6 671.5,363.1 671.8,362.2 672.1,363.1 672.5,363.7 672.8,363.0 673.1,363.2 673.5,362.5 673.8,363.2 674.1,361.7 674.4,363.4 674.8,365.0 675.1,363.7 675.4,364.0 675.8,362.1 676.1,363.0 676.4,363.2 676.8,363.2 677.1,363.0 677.4,363.5 677.7,363.3 678.1,363.3 678.4,362.8 678.7,362.4 679.1,363.6 679.4,362.6 679.7,363.5 680.1,363.0 680.4,362.5 680.7,362.7 681.0,363.1 681.4,363.4 681.7,362.6 682.0,362.9 682.4,362.6 682.7,364.5 683.0,362.7 683.4,363.9 683.7,361.5 684.0,363.8 684.3,359.9 684.7,364.2 685.0,364.9 685.3,362.7 685.7,363.0 686.0,362.4 686.3,363.0 686.7,358.1 687.0,363.7 687.3,363.3 687.6,364.5 688.0,368.0 688.3,362.7 688.6,363.0 689.0,362.8 689.3,363.5 689.6,363.0 690.0,362.7 690.3,362.8 690.6,362.9 690.9,362.6 691.3,363.7 691.6,363.3 691.9,362.5 692.3,363.6 692.6,362.9 692.9,363.2 693.3,362.9 693.6,363.3 693.9,363.3 694.2,368.1 694.6,363.4 694.9,363.3 695.2,362.9 695.6,363.1 695.9,366.5 696.2,362.5 696.6,362.9 696.9,363.0 697.2,362.3 697.5,362.8 697.9,363.4 698.2,362.8 698.5,363.0 698.9,365.5 699.2,363.3 699.5,363.4 699.9,363.5 700.2,361.1 700.5,363.2 700.8,363.1 701.2,363.2 701.5,363.1 701.8,363.4 702.2,365.3 702.5,362.6 702.8,362.3 703.2,363.3 703.5,363.0 703.8,362.5 704.1,363.5 704.5,363.8 704.8,362.7 705.1,362.8 705.5,362.9 705.8,362.9 706.1,363.1 706.5,362.7 706.8,363.2 707.1,363.0 707.4,363.6 707.8,363.1 708.1,363.5 708.4,363.8 708.8,363.4 709.1,363.5 709.4,363.0 709.8,363.2 710.1,366.2 710.4,363.8 710.7,368.1 711.1,363.1 711.4,360.8 711.7,364.2 712.1,361.8 712.4,364.6 712.7,362.7 713.1,363.8 713.4,360.6 713.7,363.6 714.0,363.1 714.4,367.4 714.7,363.9 715.0,363.2 715.4,362.2 715.7,363.4 716.0,362.8 716.4,363.2 716.7,363.7 717.0,368.3 717.3,363.4 717.7,363.0 718.0,363.5 718.3,363.1 718.7,364.0 719.0,363.4 719.3,363.6 719.7,362.7 720.0,363.5 720.3,364.9 720.6,364.0 721.0,364.3 721.3,363.5 721.6,363.4 722.0,365.7 722.3,364.3 722.6,368.3 723.0,362.1 723.3,362.3 723.6,364.3 723.9,367.8 724.3,360.5 724.6,362.5 724.9,362.9 725.3,362.7 725.6,363.9 725.9,363.0 726.3,363.6 726.6,363.5 726.9,363.0 727.2,362.8 727.6,363.8 727.9,363.1 728.2,363.5 728.6,364.0 728.9,363.4 729.2,363.3 729.6,363.0 729.9,363.6 730.2,363.1 730.5,362.7 730.9,363.2 731.2,363.2 731.5,362.8 731.9,363.3 732.2,363.7 732.5,363.7 732.9,364.2 733.2,363.9 733.5,363.5 733.8,362.6 734.2,363.5 734.5,363.9 734.8,363.3 735.2,364.0 735.5,363.1 735.8,363.6 736.2,363.8 736.5,364.1 736.8,363.4 737.1,364.3 737.5,363.3 737.8,362.7 738.1,364.9 738.5,364.0 738.8,363.3 739.1,364.2 739.5,360.3 739.8,364.3 740.1,362.6 740.4,364.4 740.8,362.7 741.1,363.5 741.4,363.0 741.8,363.6 742.1,363.4 742.4,363.4 742.8,363.8 743.1,363.9 743.4,363.4 743.7,364.0 744.1,362.8 744.4,363.1 744.7,363.0 745.1,363.7 745.4,363.9 745.7,363.4 746.1,363.3 746.4,363.0 746.7,363.8 747.0,364.0 747.4,363.3 747.7,363.5 748.0,362.8 748.4,363.5 748.7,363.7 749.0,361.9 749.4,363.3 749.7,363.9 750.0,363.2 750.3,364.1 750.7,365.1 751.0,362.9 751.3,363.1 751.7,365.6 752.0,363.7 752.3,363.8 752.7,360.8 753.0,364.0 753.3,366.8 753.6,364.6 754.0,358.9 754.3,363.0 754.6,364.1 755.0,363.6 755.3,363.5 755.6,364.3 756.0,363.7 756.3,363.8 756.6,364.0 756.9,364.5 757.3,363.6 757.6,363.9 757.9,362.7 758.3,363.2 758.6,364.5 758.9,364.5 759.3,363.3 759.6,363.2 759.9,361.2 760.2,365.1 760.6,363.5 760.9,362.9 761.2,362.5 761.6,362.2 761.9,362.4 762.2,361.3 762.6,361.9 762.9,363.5 763.2,363.6 763.5,362.5 763.9,363.0 764.2,363.5 764.5,363.7 764.9,363.8 765.2,364.0 765.5,363.9 765.9,364.6 766.2,364.1 766.5,363.9 766.8,364.4 767.2,364.1 767.5,363.9 767.8,363.6 768.2,363.8 768.5,364.6 768.8,363.8 769.2,363.4 769.5,363.6 769.8,364.1 770.1,363.5 770.5,364.1 770.8,364.1 771.1,363.9 771.5,364.5 771.8,363.2 772.1,363.6 772.5,363.7 772.8,362.3 773.1,363.2 773.4,363.6 773.8,364.3 774.1,361.2 774.4,365.5 774.8,363.8 775.1,362.6 775.4,364.0 775.8,364.3 776.1,363.8 776.4,364.0 776.7,363.5 777.1,363.6 777.4,363.7 777.7,363.4 778.1,364.1 778.4,363.4 778.7,364.2 779.1,363.4 779.4,363.4 779.7,364.3 780.0,364.1 780.4,363.7 780.7,363.6 781.0,363.8 781.4,363.9 781.7,364.0 782.0,364.3 782.4,363.5 782.7,363.9 783.0,363.9 783.3,363.3 783.7,364.4 784.0,364.6 784.3,363.9 784.7,363.2 785.0,363.6 785.3,364.3 785.7,363.1 786.0,363.1 786.3,363.7 786.6,364.1 787.0,364.2 787.3,364.3 787.6,363.0 788.0,363.7 788.3,363.5 788.6,363.5 789.0,364.2 789.3,364.1 789.6,363.6 789.9,364.0 790.3,364.0 790.6,364.5 790.9,363.7 791.3,364.2 791.6,363.7 791.9,364.1 792.3,364.0 792.6,364.1 792.9,364.0 793.2,364.6 793.6,363.7 793.9,363.6 794.2,365.2 794.6,366.1 794.9,363.5 795.2,366.7 795.6,363.5 795.9,363.9 796.2,364.4 796.5,366.4 796.9,364.1 797.2,364.2 797.5,364.4 797.9,364.1 798.2,364.5 798.5,363.9 798.9,364.3 799.2,364.3 799.5,363.8 799.8,364.7 800.2,364.2 800.5,363.7 800.8,364.5 801.2,364.3 801.5,364.4 801.8,364.0 802.2,363.6 802.5,364.2 802.8,363.6 803.1,364.2 803.5,364.2 803.8,364.5 804.1,364.1 804.5,364.4 804.8,363.6 805.1,363.9 805.5,364.5 805.8,364.7 806.1,364.5 806.4,363.6 806.8,363.8 807.1,363.9 807.4,364.7 807.8,359.3 808.1,364.3 808.4,363.6 808.8,363.9 809.1,362.5 809.4,363.8 809.7,364.6 810.1,364.5 810.4,364.5 810.7,364.8 811.1,364.8 811.4,365.2 811.7,363.8 812.1,364.4 812.4,364.3 812.7,363.9 813.0,364.2 813.4,364.0 813.7,363.9 814.0,364.1 814.4,365.3 814.7,363.9 815.0,366.5 815.4,364.3 815.7,363.9 816.0,363.8 816.3,363.7 816.7,364.0 817.0,364.9 817.3,363.7 817.7,364.7 818.0,364.0 818.3,364.0 818.7,364.7 819.0,364.6 819.3,364.6 819.6,364.4 820.0,364.7 820.3,364.1 820.6,364.5 821.0,364.8 821.3,364.4 821.6,364.1 822.0,365.1 822.3,364.3 822.6,364.0 822.9,364.7 823.3,364.9 823.6,364.7 823.9,364.0 824.3,364.5 824.6,366.2 824.9,364.7 825.3,363.9 825.6,364.0 825.9,364.6 826.2,364.5 826.6,364.7 826.9,364.2 827.2,364.0 827.6,364.1 827.9,364.3 828.2,365.1 828.6,364.5 828.9,364.4 829.2,367.5 829.5,360.6 829.9,362.9 830.2,364.7 830.5,365.8 830.9,365.3 831.2,366.7 831.5,365.3 831.9,365.5 832.2,362.9 832.5,368.2 832.8,366.9 833.2,364.8 833.5,364.2 833.8,364.8 834.2,364.3 834.5,364.7 834.8,364.2 835.2,363.8 835.5,364.9 835.8,364.4 836.1,364.6 836.5,364.7 836.8,364.6 837.1,364.4 837.5,364.9 837.8,365.0 838.1,364.8 838.5,364.6 838.8,364.8 839.1,364.7 839.4,365.8 839.8,362.9 840.1,369.7 840.4,359.9 840.8,364.1 841.1,363.0 841.4,361.5 841.8,364.7 842.1,365.1 842.4,365.1 842.7,366.1 843.1,365.1 843.4,365.1 843.7,364.6 844.1,364.4 844.4,365.0 844.7,364.8 845.1,365.2 845.4,364.7 845.7,364.7 846.0,364.4 846.4,364.9 846.7,364.8 847.0,365.4 847.4,365.0 847.7,365.5 848.0,364.7 848.4,364.4 848.7,365.4 849.0,365.2 849.3,364.9 849.7,368.1 850.0,367.3 850.3,369.9 850.7,367.2 851.0,364.2 851.3,365.5 851.7,365.1 852.0,364.8 852.3,365.3 852.6,370.0 853.0,363.8 853.3,364.4 853.6,363.5 854.0,364.8 854.3,369.4 854.6,365.1 855.0,365.4 855.3,366.8 855.6,365.3 855.9,365.7 856.3,366.0 856.6,365.1 856.9,365.0 857.3,364.9 857.6,365.1 857.9,365.5 858.3,365.2 858.6,365.7 858.9,365.0 859.2,365.9 859.6,365.2 859.9,365.3 860.2,365.3 860.6,365.2 860.9,365.3 861.2,365.5 861.6,365.3 861.9,365.5 862.2,365.0 862.5,365.0 862.9,364.8 863.2,365.6 863.5,365.1 863.9,365.5 864.2,365.4 864.5,365.4 864.9,365.3 865.2,365.6 865.5,365.6 865.8,366.1 866.2,367.1 866.5,366.3 866.8,368.6 867.2,370.3 867.5,363.3 867.8,364.2 868.2,364.2 868.5,369.2 868.8,362.9 869.1,367.2 869.5,365.5 869.8,365.0 870.1,366.0 870.5,366.1 870.8,365.7 871.1,365.8 871.5,366.1 871.8,360.9 872.1,365.6 872.4,365.4 872.8,365.6 873.1,365.4 873.4,365.1 873.8,365.6 874.1,365.3 874.4,366.1 874.8,365.6 875.1,364.6 875.4,365.3 875.7,365.8 876.1,365.4 876.4,365.4 876.7,366.2 877.1,365.4 877.4,365.9 877.7,365.5 878.1,366.4 878.4,366.0 878.7,365.3 879.0,365.8 879.4,365.3 879.7,365.6 880.0,365.5 880.4,365.3 880.7,365.5 881.0,366.3 881.4,365.3 881.7,366.6 882.0,366.1 882.3,366.2 882.7,362.3 883.0,366.3 883.3,364.8 883.7,364.6 884.0,365.7 884.3,366.7 884.7,369.6 885.0,365.8 885.3,364.4 885.6,363.9 886.0,365.4 886.3,365.7 886.6,366.5 887.0,365.4 887.3,365.6 887.6,365.6 888.0,366.0 888.3,367.3 888.6,366.6 888.9,365.9 889.3,365.4 889.6,366.3 889.9,365.8 890.3,365.9 890.6,361.2 890.9,366.7 891.3,366.5 891.6,366.1 891.9,365.9 892.2,366.3 892.6,365.8 892.9,365.4 893.2,365.9 893.6,366.5 893.9,365.9 894.2,365.9 894.6,366.7 894.9,366.7 895.2,366.8 895.5,365.9 895.9,366.4 896.2,366.7 896.5,366.6 896.9,366.1 897.2,366.2 897.5,366.0 897.9,366.1 898.2,366.4 898.5,366.4 898.8,366.0 899.2,366.6 899.5,366.4 899.8,366.8 900.2,366.1 900.5,367.9 900.8,365.5 901.2,366.7 901.5,366.6 901.8,366.7 902.1,368.4 902.5,367.0 902.8,366.4 903.1,366.9 903.5,366.1 903.8,366.4 904.1,366.7 904.5,366.3 904.8,366.1 905.1,366.4 905.4,366.6 905.8,367.1 906.1,366.2 906.4,367.4 906.8,369.4 907.1,366.2 907.4,361.7 907.8,367.0 908.1,366.6 908.4,365.8 908.7,366.8 909.1,366.2 909.4,369.1 909.7,361.7 910.1,367.3 910.4,371.0 910.7,371.5 911.1,364.3 911.4,365.8 911.7,367.4 912.0,367.5 912.4,365.4 912.7,369.2 913.0,361.8 913.4,365.8 913.7,364.3 914.0,366.5 914.4,368.3 914.7,364.2 915.0,366.3 915.3,365.7 915.7,364.6 916.0,367.5 916.3,366.4 916.7,367.1 917.0,371.7 917.3,367.0 917.7,367.0 918.0,367.7 918.3,368.6 918.6,366.8 919.0,367.0 919.3,366.4 919.6,366.9 920.0,370.4 920.3,367.2 920.6,366.6 921.0,367.4 921.3,366.3 921.6,366.9 921.9,367.4 922.3,367.3 922.6,367.2 922.9,366.6 923.3,366.4 923.6,367.3 923.9,367.2 924.3,367.7 924.6,366.9 924.9,366.7 925.2,366.9 925.6,366.4 925.9,367.0 926.2,367.1 926.6,367.1 926.9,367.8 927.2,367.9 927.6,367.0 927.9,367.0 928.2,367.7 928.5,366.3 928.9,363.9 929.2,366.6 929.5,369.3 929.9,366.2 930.2,366.4 930.5,366.0 930.9,366.4 931.2,367.5 931.5,366.6 931.8,368.5 932.2,367.1 932.5,367.9 932.8,367.1 933.2,367.7 933.5,368.0 933.8,367.0 934.2,367.6 934.5,367.4 934.8,367.8 935.1,366.9 935.5,367.3 935.8,366.8 936.1,367.7 936.5,366.7 936.8,367.5" stroke="#0000ff" stroke-width="1.3" fill="none" stroke-linejoin="miter"/>
<path d="M125.1,413.6 126.1,413.6 127.1,413.6 128.1,413.5 129.1,413.5 130.1,413.5 131.1,413.5 132.1,413.5 133.1,413.5 134.1,413.4 135.1,413.4 136.1,413.4 137.1,413.4 138.1,413.4 139.1,413.4 140.1,413.3 141.1,413.3 142.1,413.3 143.1,413.3 144.1,413.3 145.1,413.3 146.1,413.2 147.1,413.2 148.1,413.2 149.1,413.2 150.1,413.2 151.1,413.2 152.1,413.1 153.1,413.1 154.1,413.1 155.1,413.1 156.1,413.1 157.1,413.1 158.1,413.0 159.1,413.0 160.1,413.0 161.1,413.0 162.1,413.0 163.1,413.0 164.1,412.9 165.1,412.9 166.1,412.9 167.1,412.9 168.1,412.9 169.1,412.9 170.1,412.9 171.1,412.8 172.1,412.8 173.1,412.8 174.1,412.8 175.1,412.8 176.1,412.8 177.1,412.8 178.1,412.7 179.1,412.7 180.1,412.7 181.1,412.7 182.1,412.7 183.1,412.7 184.1,412.7 185.1,412.6 186.1,412.6 187.1,412.6 188.1,412.6 189.1,412.6 190.1,412.6 191.1,412.6 192.1,412.6 193.1,412.5 194.1,412.5 195.1,412.5 196.1,412.5 197.1,412.5 198.1,412.5 199.1,412.5 200.1,412.5 201.1,412.5 202.1,412.4 203.1,412.4 204.1,412.4 205.1,412.4 206.1,412.4 207.1,412.4 208.1,412.4 209.1,412.4 210.1,412.4 211.1,412.4 212.1,412.3 213.1,412.3 214.1,412.3 215.1,412.3 216.1,412.3 217.1,412.3 218.1,412.3 219.1,412.3 220.1,412.3 221.1,412.3 222.1,412.3 223.1,412.3 224.1,412.2 225.1,412.2 226.1,412.2 227.1,412.2 228.1,412.2 229.1,412.2 230.1,412.2 231.1,412.2 232.1,412.2 233.1,412.2 234.1,412.2 235.1,412.2 236.1,412.2 237.1,412.2 238.1,412.2 239.1,412.2 240.1,412.1 241.1,412.1 242.1,412.1 243.1,412.1 244.1,412.1 245.1,412.1 246.1,412.1 247.1,412.1 248.1,412.1 249.1,412.1 250.1,412.1 251.1,412.1 252.1,412.1 253.1,412.1 254.1,412.1 255.1,412.1 256.1,412.1 257.1,412.1 258.1,412.1 259.1,412.1 260.1,412.1 261.1,412.1 262.1,412.1 263.1,412.1 264.1,412.1 265.1,412.1 266.1,412.1 267.1,412.1 268.1,412.1 269.1,412.1 270.1,412.1 271.1,412.1 272.1,412.1 273.1,412.1 274.1,412.1 275.1,412.1 276.1,412.1 277.1,412.1 278.1,412.1 279.1,412.1 280.1,412.1 281.1,412.1 282.1,412.1 283.1,412.1 284.1,412.1 285.1,412.1 286.1,412.1 287.1,412.1 288.1,412.1 289.1,412.1 290.1,412.2 291.1,412.2 292.1,412.2 293.1,412.2 294.1,412.2 295.1,412.2 296.1,412.2 297.1,412.2 298.1,412.2 299.1,412.2 300.1,412.2 301.1,412.2 302.1,412.2 303.1,412.2 304.1,412.2 305.1,412.2 306.1,412.2 307.1,412.2 308.1,412.2 309.1,412.2 310.1,412.2 311.1,412.2 312.1,412.2 313.1,412.2 314.1,412.3 315.1,412.3 316.1,412.3 317.1,412.3 318.1,412.3 319.1,412.3 320.1,412.3 321.1,412.3 322.1,412.3 323.1,412.3 324.1,412.3 325.1,412.3 326.1,412.3 327.1,412.3 328.1,412.3 329.1,412.3 330.1,412.3 331.1,412.3 332.1,412.4 333.1,412.4 334.1,412.4 335.1,412.4 336.1,412.4 337.1,412.4 338.1,412.4 339.1,412.4 340.1,412.4 341.1,412.4 342.1,412.4 343.1,412.4 344.1,412.4 345.1,412.4 346.1,412.4 347.1,412.4 348.1,412.4 349.1,412.4 350.1,412.5 351.1,412.5 352.1,412.5 353.1,412.5 354.1,412.5 355.1,412.5 356.1,412.5 357.1,412.5 358.1,412.5 359.1,412.5 360.1,412.5 361.1,412.5 362.1,412.5 363.1,412.5 364.1,412.5 365.1,412.5 366.1,412.5 367.1,412.5 368.1,412.5 369.1,412.6 370.1,412.6 371.1,412.6 372.1,412.6 373.1,412.6 374.1,412.6 375.1,412.6 376.1,412.6 377.1,412.6 378.1,412.6 379.1,412.6 380.1,412.6 381.1,412.6 382.1,412.6 383.1,412.6 384.1,412.6 385.1,412.6 386.1,412.6 387.1,412.6 388.1,412.6 389.1,412.6 390.1,412.6 391.1,412.6 392.1,412.7 393.1,412.7 394.1,412.7 395.1,412.7 396.1,412.7 397.1,412.7 398.1,412.7 399.1,412.7 400.1,412.7 401.1,412.7 402.1,412.7 403.1,412.7 404.1,412.7 405.1,412.7 406.1,412.7 407.1,412.7 408.1,412.7 409.1,412.7 410.1,412.7 411.1,412.7 412.1,412.7 413.1,412.7 414.1,412.7 415.1,412.7 416.1,412.7 417.1,412.7 418.1,412.7 419.1,412.7 420.1,412.7 421.1,412.7 422.1,412.7 423.1,412.7 424.1,412.7 425.1,412.7 426.1,412.7 427.1,412.7 428.1,412.7 429.1,412.7 430.1,412.7 431.1,412.7 432.1,412.7 433.1,412.7 434.1,412.7 435.1,412.7 436.1,412.7 437.1,412.7 438.1,412.7 439.1,412.7 440.1,412.7 441.1,412.7 442.1,412.7 443.1,412.7 444.1,412.7 445.1,412.7 446.1,412.7 447.1,412.7 448.1,412.7 449.1,412.7 450.1,412.7 451.1,412.7 452.1,412.7 453.1,412.7 454.1,412.7 455.1,412.7 456.1,412.7 457.1,412.7 458.1,412.7 459.1,412.7 460.1,412.7 461.1,412.7 462.1,412.7 463.1,412.7 464.1,412.7 465.1,412.7 466.1,412.7 467.1,412.7 468.1,412.7 469.1,412.7 470.1,412.7 471.1,412.7 472.1,412.7 473.1,412.7 474.1,412.7 475.1,412.7 476.1,412.7 477.1,412.7 478.1,412.7 479.1,412.6 480.1,412.6 481.1,412.6 482.1,412.6 483.1,412.6 484.1,412.6 485.1,412.6 486.1,412.6 487.1,412.6 488.1,412.6 489.1,412.6 490.1,412.6 491.1,412.6 492.1,412.6 493.1,412.6 494.1,412.6 495.1,412.6 496.1,412.6 497.1,412.6 498.1,412.6 499.1,412.6 500.1,412.6 501.1,412.6 502.1,412.6 503.1,412.6 504.1,412.6 505.1,412.6 506.1,412.6 507.1,412.6 508.1,412.6 509.1,412.6 510.1,412.6 511.1,412.6 512.1,412.6 513.1,412.6 514.1,412.6 515.1,412.6 516.1,412.6 517.1,412.6 518.1,412.6 519.1,412.6 520.1,412.6 521.1,412.6 522.1,412.6 523.1,412.6 524.1,412.6 525.1,412.6 526.1,412.6 527.1,412.6 528.1,412.6 529.1,412.6 530.1,412.6 531.1,412.6 532.1,412.6 533.1,412.6 534.1,412.6 535.1,412.6 536.1,412.6 537.1,412.6 538.1,412.6 539.1,412.6 540.1,412.6 541.1,412.6 542.1,412.5 543.1,412.5 544.1,412.5 545.1,412.5 546.1,412.5 547.1,412.5 548.1,412.5 549.1,412.5 550.1,412.5 551.1,412.5 552.1,412.5 553.1,412.5 554.1,412.5 555.1,412.5 556.1,412.5 557.1,412.5 558.1,412.5 559.1,412.5 560.1,412.5 561.1,412.5 562.1,412.5 563.1,412.5 564.1,412.5 565.1,412.5 566.1,412.5 567.1,412.5 568.1,412.5 569.1,412.5 570.1,412.5 571.1,412.5 572.1,412.5 573.1,412.5 574.1,412.5 575.1,412.5 576.1,412.5 577.1,412.5 578.1,412.5 579.1,412.5 580.1,412.5 581.1,412.5 582.1,412.5 583.1,412.5 584.1,412.5 585.1,412.5 586.1,412.5 587.1,412.5 588.1,412.5 589.1,412.5 590.1,412.5 591.1,412.5 592.1,412.5 593.1,412.5 594.1,412.5 595.1,412.5 596.1,412.5 597.1,412.5 598.1,412.5 599.1,412.5 600.1,412.5 601.1,412.5 602.1,412.5 603.1,412.5 604.1,412.5 605.1,412.5 606.1,412.5 607.1,412.5 608.1,412.5 609.1,412.5 610.1,412.5 611.1,412.5 612.1,412.5 613.1,412.5 614.1,412.5 615.1,412.5 616.1,412.5 617.1,412.5 618.1,412.5 619.1,412.5 620.1,412.5 621.1,412.5 622.1,412.5 623.1,412.5 624.1,412.5 625.1,412.5 626.1,412.5 627.1,412.5 628.1,412.5 629.1,412.5 630.1,412.5 631.1,412.5 632.1,412.5 633.1,412.5 634.1,412.5 635.1,412.5 636.1,412.5 637.1,412.5 638.1,412.5 639.1,412.5 640.1,412.5 641.1,412.5 642.1,412.5 643.1,412.5 644.1,412.5 645.1,412.5 646.1,412.5 647.1,412.5 648.1,412.5 649.1,412.5 650.1,412.5 651.1,412.6 652.1,412.6 653.1,412.6 654.1,412.6 655.1,412.6 656.1,412.6 657.1,412.6 658.1,412.6 659.1,412.6 660.1,412.6 661.1,412.6 662.1,412.6 663.1,412.6 664.1,412.6 665.1,412.6 666.1,412.6 667.1,412.6 668.1,412.6 669.1,412.6 670.1,412.6 671.1,412.6 672.1,412.6 673.1,412.6 674.1,412.6 675.1,412.6 676.1,412.6 677.1,412.6 678.1,412.6 679.1,412.6 680.1,412.6 681.1,412.6 682.1,412.6 683.1,412.6 684.1,412.6 685.1,412.6 686.1,412.6 687.1,412.6 688.1,412.7 689.1,412.7 690.1,412.7 691.1,412.7 692.1,412.7 693.1,412.7 694.1,412.7 695.1,412.7 696.1,412.7 697.1,412.7 698.1,412.7 699.1,412.7 700.1,412.7 701.1,412.7 702.1,412.7 703.1,412.7 704.1,412.7 705.1,412.7 706.1,412.7 707.1,412.7 708.1,412.7 709.1,412.7 710.1,412.7 711.1,412.7 712.1,412.7 713.1,412.7 714.1,412.7 715.1,412.8 716.1,412.8 717.1,412.8 718.1,412.8 719.1,412.8 720.1,412.8 721.1,412.8 722.1,412.8 723.1,412.8 724.1,412.8 725.1,412.8 726.1,412.8 727.1,412.8 728.1,412.8 729.1,412.8 730.1,412.8 731.1,412.8 732.1,412.8 733.1,412.8 734.1,412.8 735.1,412.8 736.1,412.9 737.1,412.9 738.1,412.9 739.1,412.9 740.1,412.9 741.1,412.9 742.1,412.9 743.1,412.9 744.1,412.9 745.1,412.9 746.1,412.9 747.1,412.9 748.1,412.9 749.1,412.9 750.1,412.9 751.1,412.9 752.1,412.9 753.1,412.9 754.1,412.9 755.1,413.0 756.1,413.0 757.1,413.0 758.1,413.0 759.1,413.0 760.1,413.0 761.1,413.0 762.1,413.0 763.1,413.0 764.1,413.0 765.1,413.0 766.1,413.0 767.1,413.0 768.1,413.0 769.1,413.0 770.1,413.0 771.1,413.0 772.1,413.0 773.1,413.1 774.1,413.1 775.1,413.1 776.1,413.1 777.1,413.1 778.1,413.1 779.1,413.1 780.1,413.1 781.1,413.1 782.1,413.1 783.1,413.1 784.1,413.1 785.1,413.1 786.1,413.1 787.1,413.1 788.1,413.1 789.1,413.2 790.1,413.2 791.1,413.2 792.1,413.2 793.1,413.2 794.1,413.2 795.1,413.2 796.1,413.2 797.1,413.2 798.1,413.2 799.1,413.2 800.1,413.2 801.1,413.2 802.1,413.2 803.1,413.3 804.1,413.3 805.1,413.3 806.1,413.3 807.1,413.3 808.1,413.3 809.1,413.3 810.1,413.3 811.1,413.3 812.1,413.3 813.1,413.3 814.1,413.3 815.1,413.3 816.1,413.3 817.1,413.4 818.1,413.4 819.1,413.4 820.1,413.4 821.1,413.4 822.1,413.4 823.1,413.4 824.1,413.4 825.1,413.4 826.1,413.4 827.1,413.4 828.1,413.4 829.1,413.4 830.1,413.4 831.1,413.5 832.1,413.5 833.1,413.5 834.1,413.5 835.1,413.5 836.1,413.5 837.1,413.5 838.1,413.5 839.1,413.5 840.1,413.5 841.1,413.5 842.1,413.5 843.1,413.5 844.1,413.6 845.1,413.6 846.1,413.6 847.1,413.6 848.1,413.6 849.1,413.6 850.1,413.6 851.1,413.6 852.1,413.6 853.1,413.6 854.1,413.6 855.1,413.6 856.1,413.7 857.1,413.7 858.1,413.7 859.1,413.7 860.1,413.7 861.1,413.7 862.1,413.7 863.1,413.7 864.1,413.7 865.1,413.7 866.1,413.7 867.1,413.7 868.1,413.8 869.1,413.8 870.1,413.8 871.1,413.8 872.1,413.8 873.1,413.8 874.1,413.8 875.1,413.8 876.1,413.8 877.1,413.8 878.1,413.8 879.1,413.9 880.1,413.9 881.1,413.9 882.1,413.9 883.1,413.9 884.1,413.9 885.1,413.9 886.1,413.9 887.1,413.9 888.1,413.9 889.1,413.9 890.1,414.0 891.1,414.0 892.1,414.0 893.1,414.0 894.1,414.0 895.1,414.0 896.1,414.0 897.1,414.0 898.1,414.0 899.1,414.0 900.1,414.0 901.1,414.1 902.1,414.1 903.1,414.1 904.1,414.1 905.1,414.1 906.1,414.1 907.1,414.1 908.1,414.1 909.1,414.1 910.1,414.1 911.1,414.1 912.1,414.2 913.1,414.2 914.1,414.2 915.1,414.2 916.1,414.2 917.1,414.2 918.1,414.2 919.1,414.2 920.1,414.2 921.1,414.2 922.1,414.3 923.1,414.3 924.1,414.3 925.1,414.3 926.1,414.3 927.1,414.3 928.1,414.3 929.1,414.3 930.1,414.3 931.1,414.3 932.1,414.4 933.1,414.4 934.1,414.4 935.1,414.4 936.1,414.4" stroke="#000000" stroke-width="3.4" fill="none" stroke-linejoin="round"/>
<path d="M125.1,415.5 125.6,415.4 126.1,415.0 126.6,412.6 127.1,410.8 127.6,416.9 128.1,413.9 128.6,407.6 129.1,416.1 129.6,418.7 130.1,412.7 130.6,415.0 131.1,410.8 131.6,413.3 132.1,415.0 132.6,413.2 133.1,413.5 133.6,411.3 134.1,414.9 134.6,413.4 135.1,412.4 135.6,414.6 136.1,418.1 136.6,413.5 137.1,414.3 137.6,419.3 138.1,409.2 138.6,413.7 139.1,417.4 139.6,411.2 140.1,412.1 140.6,413.5 141.1,414.2 141.6,413.5 142.1,413.5 142.6,409.9 143.1,414.2 143.6,412.6 144.1,410.4 144.6,416.9 145.1,413.8 145.6,413.1 146.1,414.2 146.6,413.2 147.1,411.2 147.6,413.6 148.1,414.2 148.6,414.2 149.1,413.3 149.6,416.1 150.1,416.5 150.6,415.2 151.1,412.7 151.6,412.2 152.1,413.2 152.6,413.7 153.1,411.4 153.6,413.3 154.1,412.9 154.6,407.2 155.1,412.8 155.6,412.7 156.1,416.9 156.6,409.8 157.1,415.9 157.6,415.6 158.1,413.4 158.6,411.6 159.1,414.3 159.6,411.3 160.1,412.4 160.6,413.6 161.1,412.8 161.6,412.9 162.1,412.2 162.6,409.1 163.1,412.5 163.6,414.5 164.1,414.5 164.6,410.2 165.1,413.1 165.6,412.4 166.1,412.6 166.6,418.4 167.1,414.3 167.6,412.9 168.1,412.9 168.6,415.5 169.1,412.4 169.6,414.1 170.1,413.8 170.6,413.8 171.1,412.7 171.6,413.5 172.1,414.5 172.6,412.0 173.1,413.9 173.6,412.8 174.1,412.9 174.6,412.7 175.1,412.4 175.6,413.8 176.1,412.4 176.6,411.3 177.1,414.0 177.6,412.4 178.1,413.0 178.6,417.7 179.1,413.2 179.6,412.8 180.1,411.9 180.6,413.5 181.1,416.5 181.6,413.5 182.1,413.8 182.6,412.0 183.1,412.0 183.6,412.2 184.1,412.6 184.6,414.9 185.1,412.5 185.6,411.1 186.1,412.7 186.6,411.7 187.1,413.1 187.6,412.0 188.1,416.1 188.6,412.4 189.1,412.9 189.6,412.9 190.1,412.3 190.6,417.2 191.1,408.9 191.6,413.6 192.1,411.6 192.6,409.4 193.1,411.0 193.6,413.6 194.1,415.1 194.6,413.7 195.1,411.7 195.6,412.5 196.1,410.4 196.6,412.2 197.1,411.5 197.6,408.4 198.1,411.7 198.6,415.4 199.1,412.6 199.6,411.6 200.1,410.3 200.6,414.8 201.1,409.9 201.6,408.6 202.1,410.2 202.6,413.5 203.1,415.4 203.6,410.0 204.1,412.9 204.6,413.0 205.1,412.5 205.6,406.5 206.1,413.1 206.6,412.2 207.1,415.4 207.6,418.3 208.1,412.9 208.6,410.2 209.1,411.7 209.6,412.8 210.1,414.4 210.6,412.1 211.1,411.9 211.6,412.7 212.1,414.2 212.6,410.9 213.1,412.6 213.6,412.7 214.1,412.2 214.6,411.8 215.1,415.7 215.6,413.8 216.1,410.6 216.6,406.3 217.1,411.3 217.6,412.0 218.1,410.6 218.6,411.7 219.1,412.9 219.6,413.2 220.1,413.8 220.6,413.7 221.1,411.6 221.6,412.4 222.1,413.2 222.6,412.6 223.1,412.5 223.6,413.7 224.1,415.5 224.6,414.6 225.1,411.3 225.6,410.1 226.1,411.4 226.6,413.6 227.1,411.5 227.6,413.2 228.1,412.5 228.6,418.2 229.1,410.1 229.6,413.8 230.1,408.7 230.6,412.7 231.1,412.3 231.6,411.1 232.1,411.2 232.6,411.8 233.1,412.1 233.6,410.5 234.1,412.0 234.6,409.6 235.1,412.2 235.6,412.3 236.1,411.8 236.6,412.1 237.1,412.4 237.6,412.2 238.1,410.6 238.6,410.9 239.1,411.2 239.6,418.1 240.1,412.2 240.6,412.9 241.1,410.8 241.6,412.2 242.1,411.9 242.6,410.8 243.1,410.9 243.6,411.0 244.1,413.1 244.6,413.1 245.1,414.1 245.6,411.5 246.1,412.2 246.6,413.0 247.1,412.3 247.6,414.0 248.1,407.4 248.6,412.9 249.1,410.1 249.6,412.2 250.1,411.8 250.6,412.0 251.1,413.3 251.6,409.6 252.1,408.6 252.6,415.2 253.1,412.1 253.6,411.8 254.1,410.3 254.6,412.1 255.1,412.7 255.6,414.4 256.1,411.7 256.6,410.1 257.1,413.2 257.6,411.4 258.1,412.9 258.6,413.5 259.1,416.0 259.6,410.5 260.1,411.1 260.6,411.7 261.1,413.6 261.6,411.9 262.1,411.9 262.6,413.8 263.1,410.0 263.6,409.8 264.1,409.6 264.6,412.1 265.1,410.8 265.6,411.6 266.1,412.1 266.6,412.2 267.1,411.7 267.6,410.2 268.1,413.6 268.6,414.1 269.1,412.3 269.6,411.3 270.1,418.1 270.6,410.0 271.1,414.3 271.6,412.5 272.1,411.1 272.6,412.4 273.1,412.3 273.6,406.2 274.1,412.0 274.6,413.3 275.1,412.6 275.6,410.1 276.1,410.8 276.6,412.9 277.1,407.8 277.6,412.8 278.1,412.2 278.6,411.7 279.1,411.9 279.6,412.1 280.1,409.7 280.6,415.0 281.1,411.9 281.6,412.7 282.1,409.8 282.6,414.3 283.1,412.9 283.6,411.1 284.1,414.6 284.6,414.2 285.1,412.0 285.6,411.3 286.1,413.7 286.6,406.2 287.1,415.6 287.6,416.0 288.1,409.4 288.6,415.4 289.1,411.3 289.6,413.6 290.1,414.1 290.6,410.6 291.1,411.6 291.6,415.8 292.1,413.4 292.6,412.9 293.1,411.0 293.6,413.1 294.1,408.4 294.6,411.2 295.1,411.1 295.6,408.9 296.1,412.1 296.6,408.1 297.1,417.4 297.6,412.1 298.1,413.4 298.6,412.3 299.1,410.1 299.6,412.0 300.1,406.2 300.6,411.4 301.1,412.7 301.6,410.7 302.1,414.9 302.6,412.7 303.1,407.8 303.6,412.0 304.1,414.6 304.6,411.2 305.1,410.1 305.6,411.3 306.1,412.2 306.6,411.9 307.1,411.1 307.6,412.1 308.1,412.2 308.6,413.0 309.1,418.2 309.6,412.7 310.1,409.5 310.6,410.5 311.1,411.5 311.6,415.4 312.1,409.2 312.6,412.8 313.1,411.9 313.6,411.2 314.1,412.8 314.6,413.3 315.1,413.4 315.6,411.0 316.1,410.8 316.6,410.8 317.1,411.1 317.6,411.0 318.1,412.3 318.6,411.6 319.1,412.7 319.6,416.6 320.1,413.6 320.6,409.7 321.1,415.6 321.6,411.9 322.1,410.7 322.6,411.2 323.1,409.0 323.6,411.5 324.1,412.2 324.6,410.0 325.1,416.4 325.6,412.1 326.1,412.4 326.6,411.6 327.1,414.8 327.6,414.2 328.1,412.3 328.6,406.4 329.1,412.9 329.6,411.7 330.1,410.4 330.6,412.2 331.1,413.3 331.6,412.9 332.1,409.9 332.6,415.0 333.1,412.3 333.6,414.9 334.1,412.1 334.6,414.9 335.1,414.1 335.6,408.5 336.1,414.6 336.6,413.0 337.1,412.6 337.6,406.4 338.1,412.8 338.6,412.9 339.1,414.3 339.6,412.0 340.1,409.3 340.6,413.4 341.1,411.9 341.6,411.8 342.1,413.0 342.6,408.6 343.1,408.3 343.6,416.9 344.1,414.4 344.6,413.8 345.1,412.4 345.6,412.1 346.1,410.9 346.6,408.3 347.1,413.8 347.6,411.4 348.1,413.5 348.6,409.3 349.1,411.4 349.6,412.2 350.1,412.0 350.6,411.1 351.1,413.7 351.6,409.5 352.1,412.8 352.6,412.7 353.1,412.5 353.6,411.0 354.1,413.0 354.6,413.3 355.1,412.7 355.6,412.7 356.1,412.6 356.6,412.3 357.1,412.7 357.6,412.5 358.1,411.7 358.6,414.3 359.1,411.9 359.6,410.1 360.1,412.9 360.6,414.4 361.1,410.3 361.6,408.3 362.1,411.8 362.6,411.6 363.1,410.8 363.6,411.6 364.1,412.3 364.6,411.3 365.1,412.6 365.6,412.2 366.1,412.2 366.6,410.3 367.1,413.6 367.6,413.0 368.1,412.7 368.6,411.8 369.1,418.5 369.6,413.5 370.1,414.2 370.6,412.7 371.1,413.0 371.6,413.3 372.1,411.7 372.6,411.6 373.1,413.7 373.6,411.9 374.1,408.3 374.6,412.5 375.1,414.5 375.6,412.3 376.1,412.8 376.6,415.0 377.1,410.8 377.6,411.1 378.1,407.6 378.6,412.1 379.1,410.6 379.6,412.8 380.1,412.0 380.6,410.0 381.1,413.5 381.6,413.7 382.1,415.2 382.6,412.1 383.1,412.8 383.6,413.1 384.1,414.7 384.6,415.9 385.1,412.0 385.6,411.4 386.1,411.7 386.6,411.7 387.1,413.8 387.6,413.1 388.1,410.5 388.6,413.1 389.1,413.2 389.6,412.6 390.1,413.6 390.6,409.7 391.1,413.4 391.6,409.4 392.1,414.5 392.6,412.8 393.1,414.4 393.6,410.8 394.1,411.3 394.6,414.3 395.1,410.1 395.6,412.0 396.1,413.9 396.6,414.5 397.1,410.8 397.6,409.6 398.1,413.1 398.6,411.4 399.1,411.9 399.6,409.3 400.1,412.2 400.6,414.1 401.1,412.9 401.6,408.5 402.1,409.8 402.6,415.0 403.1,413.1 403.6,411.1 404.1,413.1 404.6,414.0 405.1,414.3 405.6,413.2 406.1,410.8 406.6,414.5 407.1,413.3 407.6,414.3 408.1,412.6 408.6,414.7 409.1,414.1 409.6,412.1 410.1,410.9 410.6,413.1 411.1,411.4 411.6,412.1 412.1,411.5 412.6,412.3 413.1,412.2 413.6,413.5 414.1,413.1 414.6,411.1 415.1,413.2 415.6,413.8 416.1,412.5 416.6,408.7 417.1,414.0 417.6,413.6 418.1,409.6 418.6,411.8 419.1,413.8 419.6,413.2 420.1,410.8 420.6,412.1 421.1,409.1 421.6,415.0 422.1,414.0 422.6,411.7 423.1,412.4 423.6,413.7 424.1,412.8 424.6,410.3 425.1,413.9 425.6,413.5 426.1,407.9 426.6,414.6 427.1,412.6 427.6,413.0 428.1,413.4 428.6,414.9 429.1,412.7 429.6,411.7 430.1,412.4 430.6,414.8 431.1,413.2 431.6,412.8 432.1,412.9 432.6,412.7 433.1,415.7 433.6,416.1 434.1,412.1 434.6,406.7 435.1,411.0 435.6,411.7 436.1,412.4 436.6,413.4 437.1,413.3 437.6,412.6 438.1,415.5 438.6,410.4 439.1,412.4 439.6,414.1 440.1,413.4 440.6,412.8 441.1,413.4 441.6,406.7 442.1,413.5 442.6,412.7 443.1,414.5 443.6,411.1 444.1,412.3 444.6,417.1 445.1,412.0 445.6,413.4 446.1,415.4 446.6,412.8 447.1,412.7 447.6,412.7 448.1,411.7 448.6,412.7 449.1,413.5 449.6,412.7 450.1,412.0 450.6,412.3 451.1,410.1 451.6,406.7 452.1,415.6 452.6,412.3 453.1,413.6 453.6,413.3 454.1,411.8 454.6,411.9 455.1,413.2 455.6,412.7 456.1,413.2 456.6,412.9 457.1,412.6 457.6,413.1 458.1,412.5 458.6,409.5 459.1,412.8 459.6,416.1 460.1,413.7 460.6,411.7 461.1,412.7 461.6,410.3 462.1,413.3 462.6,412.3 463.1,413.0 463.6,417.0 464.1,413.0 464.6,414.0 465.1,406.7 465.6,412.0 466.1,412.9 466.6,411.2 467.1,412.8 467.6,412.1 468.1,412.6 468.6,410.0 469.1,413.5 469.6,411.7 470.1,412.0 470.6,411.0 471.1,411.6 471.6,410.8 472.1,418.7 472.6,414.1 473.1,413.7 473.6,410.0 474.1,411.6 474.6,415.4 475.1,415.0 475.6,411.1 476.1,413.0 476.6,413.3 477.1,412.4 477.6,412.0 478.1,411.6 478.6,413.5 479.1,412.0 479.6,413.5 480.1,408.1 480.6,412.8 481.1,414.8 481.6,410.6 482.1,406.7 482.6,413.6 483.1,411.2 483.6,412.8 484.1,406.6 484.6,412.6 485.1,412.4 485.6,407.6 486.1,411.8 486.6,412.5 487.1,412.7 487.6,412.0 488.1,413.2 488.6,413.7 489.1,410.3 489.6,415.2 490.1,412.1 490.6,413.0 491.1,415.4 491.6,413.3 492.1,412.4 492.6,413.7 493.1,412.0 493.6,408.3 494.1,413.3 494.6,412.3 495.1,414.4 495.6,408.4 496.1,413.5 496.6,412.5 497.1,408.7 497.6,412.3 498.1,414.1 498.6,414.8 499.1,413.1 499.6,413.4 500.1,414.8 500.6,415.7 501.1,412.7 501.6,408.6 502.1,413.2 502.6,409.1 503.1,409.6 503.6,412.6 504.1,413.0 504.6,410.1 505.1,413.1 505.6,413.6 506.1,415.4 506.6,412.4 507.1,416.6 507.6,411.3 508.1,412.8 508.6,411.5 509.1,412.1 509.6,411.6 510.1,418.3 510.6,416.0 511.1,412.8 511.6,409.8 512.1,411.3 512.6,411.0 513.1,411.8 513.6,412.4 514.1,412.2 514.6,412.4 515.1,414.0 515.6,412.4 516.1,412.7 516.6,412.5 517.1,411.6 517.6,412.9 518.1,411.0 518.6,410.3 519.1,412.8 519.6,413.3 520.1,410.3 520.6,412.6 521.1,410.4 521.6,412.0 522.1,413.1 522.6,413.2 523.1,412.3 523.6,414.2 524.1,414.4 524.6,411.2 525.1,415.7 525.6,411.5 526.1,415.2 526.6,412.9 527.1,415.8 527.6,412.0 528.1,414.3 528.6,412.0 529.1,413.3 529.6,413.6 530.1,414.1 530.6,413.0 531.1,412.4 531.6,406.6 532.1,413.4 532.6,412.8 533.1,410.3 533.6,413.3 534.1,412.2 534.6,413.1 535.1,412.4 535.6,413.9 536.1,413.5 536.6,414.8 537.1,414.7 537.6,406.6 538.1,412.9 538.6,417.5 539.1,407.9 539.6,413.7 540.1,411.7 540.6,412.7 541.1,409.8 541.6,413.1 542.1,414.4 542.6,413.6 543.1,413.4 543.6,414.8 544.1,412.8 544.6,411.3 545.1,412.6 545.6,414.1 546.1,411.8 546.6,412.3 547.1,414.0 547.6,409.3 548.1,409.2 548.6,412.0 549.1,414.3 549.6,410.3 550.1,412.7 550.6,413.2 551.1,409.1 551.6,414.3 552.1,413.8 552.6,408.1 553.1,412.4 553.6,412.3 554.1,413.5 554.6,408.2 555.1,412.0 555.6,409.1 556.1,412.6 556.6,409.6 557.1,413.9 557.6,411.9 558.1,406.5 558.6,411.7 559.1,412.6 559.6,411.2 560.1,410.6 560.6,413.7 561.1,412.7 561.6,408.4 562.1,413.2 562.6,409.8 563.1,413.8 563.6,414.1 564.1,411.6 564.6,406.5 565.1,412.6 565.6,412.7 566.1,411.9 566.6,412.2 567.1,408.1 567.6,415.9 568.1,410.0 568.6,412.4 569.1,411.5 569.6,412.9 570.1,411.3 570.6,409.2 571.1,412.5 571.6,411.5 572.1,413.1 572.6,411.7 573.1,414.9 573.6,412.8 574.1,412.5 574.6,412.4 575.1,412.7 575.6,412.6 576.1,412.6 576.6,411.1 577.1,413.7 577.6,412.1 578.1,411.4 578.6,412.9 579.1,413.0 579.6,412.0 580.1,413.3 580.6,411.1 581.1,408.7 581.6,411.2 582.1,413.6 582.6,410.3 583.1,413.0 583.6,412.7 584.1,412.8 584.6,411.9 585.1,412.2 585.6,414.1 586.1,412.1 586.6,409.3 587.1,412.4 587.6,409.4 588.1,410.7 588.6,411.3 589.1,412.5 589.6,412.6 590.1,412.2 590.6,408.8 591.1,410.4 591.6,412.8 592.1,406.5 592.6,413.7 593.1,412.8 593.6,412.7 594.1,414.9 594.6,410.4 595.1,412.9 595.6,412.2 596.1,413.6 596.6,412.8 597.1,412.7 597.6,412.2 598.1,414.7 598.6,412.7 599.1,411.3 599.6,410.1 600.1,415.9 600.6,415.1 601.1,413.1 601.6,413.7 602.1,416.4 602.6,413.4 603.1,411.8 603.6,413.5 604.1,412.9 604.6,411.2 605.1,412.7 605.6,416.2 606.1,416.1 606.6,412.0 607.1,415.3 607.6,411.4 608.1,411.9 608.6,411.1 609.1,411.9 609.6,415.8 610.1,411.0 610.6,411.2 611.1,411.8 611.6,414.4 612.1,411.7 612.6,412.1 613.1,412.4 613.6,414.0 614.1,412.0 614.6,413.4 615.1,413.9 615.6,406.9 616.1,414.6 616.6,411.8 617.1,412.5 617.6,407.6 618.1,415.2 618.6,409.8 619.1,415.7 619.6,412.5 620.1,413.3 620.6,413.1 621.1,408.1 621.6,413.2 622.1,411.3 622.6,409.9 623.1,415.2 623.6,411.4 624.1,414.5 624.6,411.3 625.1,413.4 625.6,413.8 626.1,412.0 626.6,412.4 627.1,414.8 627.6,411.2 628.1,408.5 628.6,413.8 629.1,415.0 629.6,412.1 630.1,411.1 630.6,411.3 631.1,412.5 631.6,416.5 632.1,413.8 632.6,413.9 633.1,412.1 633.6,411.7 634.1,413.2 634.6,415.5 635.1,413.1 635.6,417.4 636.1,412.4 636.6,411.9 637.1,409.3 637.6,411.5 638.1,413.4 638.6,413.7 639.1,411.3 639.6,412.0 640.1,410.2 640.6,412.3 641.1,412.2 641.6,415.4 642.1,413.9 642.6,415.1 643.1,410.5 643.6,411.8 644.1,414.5 644.6,411.4 645.1,412.0 645.6,410.1 646.1,407.4 646.6,412.9 647.1,412.1 647.6,412.0 648.1,412.2 648.6,413.8 649.1,410.0 649.6,408.4 650.1,409.8 650.6,409.4 651.1,413.1 651.6,412.6 652.1,409.9 652.6,412.0 653.1,409.7 653.6,412.7 654.1,413.6 654.6,410.7 655.1,414.5 655.6,413.9 656.1,418.6 656.6,412.6 657.1,412.7 657.6,407.4 658.1,415.1 658.6,413.9 659.1,413.0 659.6,413.7 660.1,411.4 660.6,414.0 661.1,413.4 661.6,411.3 662.1,413.6 662.6,412.7 663.1,413.4 663.6,410.8 664.1,414.3 664.6,412.2 665.1,414.4 665.6,418.6 666.1,408.8 666.6,413.1 667.1,407.8 667.6,411.9 668.1,418.6 668.6,413.2 669.1,413.5 669.6,412.5 670.1,412.1 670.6,410.5 671.1,413.1 671.6,417.3 672.1,412.5 672.6,412.5 673.1,413.7 673.6,409.8 674.1,413.1 674.6,415.4 675.1,410.6 675.6,417.7 676.1,414.1 676.6,415.3 677.1,410.4 677.6,412.7 678.1,413.7 678.6,413.9 679.1,411.4 679.6,417.4 680.1,410.5 680.6,413.4 681.1,415.5 681.6,414.3 682.1,415.0 682.6,412.5 683.1,414.9 683.6,415.1 684.1,413.0 684.6,413.2 685.1,409.7 685.6,411.8 686.1,418.6 686.6,413.3 687.1,416.0 687.6,414.1 688.1,413.3 688.6,412.2 689.1,412.9 689.6,411.7 690.1,411.4 690.6,412.7 691.1,412.7 691.6,413.9 692.1,413.5 692.6,412.2 693.1,411.7 693.6,413.3 694.1,411.3 694.6,412.0 695.1,412.7 695.6,413.8 696.1,412.4 696.6,412.2 697.1,413.4 697.6,413.6 698.1,413.0 698.6,413.9 699.1,412.5 699.6,416.0 700.1,413.2 700.6,411.7 701.1,411.6 701.6,413.5 702.1,409.5 702.6,412.8 703.1,413.4 703.6,412.5 704.1,415.6 704.6,414.4 705.1,412.9 705.6,412.7 706.1,413.3 706.6,413.6 707.1,414.5 707.6,412.1 708.1,412.2 708.6,412.9 709.1,413.7 709.6,413.2 710.1,417.0 710.6,412.8 711.1,412.5 711.6,413.4 712.1,418.7 712.6,413.4 713.1,413.0 713.6,413.0 714.1,408.8 714.6,408.9 715.1,412.9 715.6,411.6 716.1,413.9 716.6,413.0 717.1,414.2 717.6,413.8 718.1,412.7 718.6,414.3 719.1,412.2 719.6,414.4 720.1,413.0 720.6,415.4 721.1,413.0 721.6,412.2 722.1,414.9 722.6,414.0 723.1,414.4 723.6,413.0 724.1,414.7 724.6,411.3 725.1,412.8 725.6,410.6 726.1,413.8 726.6,411.9 727.1,412.6 727.6,412.7 728.1,412.4 728.6,412.6 729.1,413.2 729.6,412.1 730.1,412.3 730.6,411.0 731.1,411.3 731.6,410.7 732.1,412.3 732.6,410.8 733.1,411.5 733.6,415.6 734.1,413.2 734.6,413.6 735.1,414.5 735.6,411.1 736.1,412.3 736.6,412.7 737.1,415.1 737.6,413.4 738.1,414.1 738.6,413.0 739.1,412.3 739.6,413.0 740.1,412.0 740.6,413.9 741.1,413.4 741.6,412.2 742.1,413.4 742.6,411.5 743.1,414.4 743.6,411.2 744.1,412.9 744.6,412.6 745.1,410.3 745.6,412.9 746.1,407.6 746.6,408.6 747.1,412.0 747.6,415.3 748.1,408.6 748.6,411.2 749.1,411.9 749.6,413.6 750.1,413.3 750.6,415.4 751.1,412.8 751.6,412.6 752.1,415.9 752.6,412.7 753.1,411.6 753.6,411.3 754.1,411.4 754.6,413.1 755.1,412.6 755.6,409.5 756.1,412.6 756.6,409.1 757.1,413.8 757.6,413.5 758.1,414.0 758.6,415.4 759.1,413.7 759.6,410.2 760.1,410.9 760.6,414.3 761.1,412.8 761.6,415.7 762.1,409.9 762.6,414.9 763.1,409.4 763.6,414.1 764.1,412.2 764.6,413.6 765.1,408.3 765.6,411.6 766.1,413.7 766.6,412.1 767.1,410.6 767.6,412.8 768.1,413.8 768.6,412.9 769.1,409.8 769.6,417.9 770.1,408.9 770.6,413.3 771.1,412.9 771.6,413.3 772.1,414.7 772.6,413.0 773.1,410.3 773.6,413.8 774.1,412.0 774.6,412.9 775.1,411.2 775.6,411.4 776.1,412.8 776.6,412.3 777.1,412.1 777.6,416.1 778.1,413.5 778.6,411.3 779.1,409.3 779.6,409.7 780.1,412.0 780.6,414.1 781.1,414.3 781.6,413.3 782.1,412.5 782.6,414.8 783.1,413.8 783.6,413.0 784.1,413.4 784.6,415.4 785.1,412.8 785.6,414.7 786.1,415.4 786.6,408.6 787.1,412.9 787.6,414.3 788.1,412.6 788.6,411.0 789.1,413.5 789.6,415.3 790.1,412.4 790.6,414.1 791.1,415.4 791.6,413.2 792.1,414.5 792.6,413.2 793.1,413.1 793.6,413.5 794.1,412.9 794.6,414.5 795.1,413.7 795.6,413.6 796.1,414.3 796.6,412.7 797.1,413.4 797.6,414.2 798.1,414.7 798.6,413.8 799.1,411.5 799.6,413.2 800.1,410.2 800.6,412.1 801.1,411.2 801.6,410.4 802.1,411.5 802.6,411.1 803.1,414.1 803.6,413.0 804.1,412.6 804.6,411.8 805.1,414.0 805.6,412.7 806.1,413.6 806.6,412.1 807.1,410.5 807.6,414.1 808.1,414.0 808.6,414.1 809.1,414.6 809.6,413.1 810.1,412.1 810.6,415.5 811.1,413.1 811.6,415.0 812.1,410.6 812.6,408.7 813.1,411.2 813.6,416.1 814.1,413.9 814.6,414.0 815.1,414.8 815.6,417.6 816.1,413.1 816.6,411.0 817.1,414.3 817.6,414.9 818.1,414.1 818.6,411.9 819.1,414.2 819.6,413.5 820.1,414.4 820.6,413.9 821.1,416.0 821.6,412.4 822.1,412.9 822.6,409.5 823.1,413.9 823.6,413.2 824.1,415.6 824.6,411.6 825.1,413.8 825.6,415.5 826.1,413.3 826.6,413.8 827.1,416.8 827.6,415.4 828.1,407.7 828.6,413.7 829.1,412.9 829.6,413.3 830.1,412.4 830.6,418.0 831.1,414.0 831.6,413.0 832.1,414.1 832.6,411.7 833.1,415.3 833.6,415.6 834.1,414.1 834.6,411.8 835.1,414.2 835.6,407.5 836.1,411.0 836.6,413.3 837.1,412.2 837.6,414.0 838.1,414.2 838.6,413.5 839.1,412.2 839.6,418.4 840.1,414.7 840.6,416.4 841.1,411.4 841.6,410.5 842.1,409.5 842.6,414.0 843.1,415.3 843.6,413.1 844.1,419.1 844.6,414.6 845.1,412.5 845.6,414.6 846.1,413.3 846.6,411.6 847.1,407.6 847.6,411.0 848.1,412.0 848.6,414.2 849.1,412.8 849.6,412.2 850.1,413.5 850.6,410.4 851.1,414.0 851.6,412.6 852.1,413.8 852.6,413.7 853.1,414.9 853.6,412.9 854.1,415.1 854.6,410.2 855.1,419.0 855.6,412.8 856.1,408.6 856.6,413.0 857.1,414.8 857.6,412.3 858.1,411.8 858.6,414.9 859.1,414.5 859.6,413.4 860.1,415.4 860.6,414.6 861.1,410.2 861.6,412.7 862.1,413.8 862.6,413.1 863.1,412.7 863.6,413.4 864.1,412.5 864.6,418.4 865.1,415.4 865.6,413.9 866.1,416.6 866.6,413.3 867.1,414.5 867.6,413.8 868.1,412.5 868.6,413.2 869.1,413.6 869.6,409.2 870.1,413.8 870.6,412.3 871.1,415.1 871.6,410.9 872.1,413.9 872.6,413.3 873.1,415.9 873.6,413.0 874.1,415.0 874.6,409.5 875.1,412.9 875.6,411.4 876.1,412.3 876.6,414.0 877.1,415.9 877.6,407.9 878.1,412.7 878.6,414.8 879.1,413.3 879.6,408.2 880.1,414.1 880.6,413.3 881.1,418.8 881.6,412.1 882.1,414.4 882.6,414.0 883.1,417.4 883.6,416.2 884.1,414.1 884.6,412.7 885.1,414.5 885.6,409.3 886.1,413.8 886.6,414.2 887.1,413.6 887.6,414.6 888.1,412.8 888.6,414.5 889.1,413.1 889.6,417.3 890.1,414.2 890.6,413.3 891.1,413.6 891.6,410.6 892.1,413.9 892.6,411.1 893.1,412.9 893.6,413.8 894.1,416.0 894.6,412.7 895.1,416.5 895.6,413.7 896.1,411.6 896.6,414.8 897.1,411.8 897.6,412.7 898.1,419.3 898.6,413.9 899.1,415.3 899.6,414.4 900.1,413.0 900.6,413.4 901.1,411.5 901.6,409.6 902.1,412.9 902.6,409.6 903.1,414.9 903.6,416.5 904.1,414.7 904.6,413.9 905.1,414.1 905.6,414.7 906.1,413.1 906.6,414.3 907.1,416.6 907.6,415.0 908.1,412.8 908.6,414.9 909.1,413.1 909.6,414.7 910.1,411.5 910.6,415.9 911.1,414.6 911.6,414.8 912.1,414.9 912.6,413.6 913.1,411.3 913.6,415.4 914.1,415.3 914.6,413.6 915.1,415.6 915.6,413.9 916.1,414.0 916.6,414.2 917.1,413.8 917.6,413.8 918.1,416.8 918.6,410.5 919.1,413.8 919.6,414.7 920.1,415.0 920.6,413.3 921.1,414.4 921.6,413.7 922.1,415.5 922.6,415.0 923.1,409.4 923.6,413.8 924.1,416.0 924.6,414.9 925.1,417.7 925.6,415.2 926.1,412.7 926.6,412.6 927.1,418.4 927.6,411.7 928.1,413.2 928.6,414.4 929.1,414.1 929.6,413.0 930.1,414.9 930.6,415.5 931.1,415.0 931.6,420.3 932.1,414.5 932.6,410.5 933.1,415.5 933.6,414.7 934.1,412.9 934.6,414.3 935.1,408.4 935.6,414.1 936.1,414.3 936.6,416.4" stroke="#000000" stroke-width="1.7" fill="none" stroke-linejoin="miter"/>
<path d="M125.6,646.9 126.6,646.9 127.6,646.9 128.6,646.9 129.6,646.9 130.6,646.9 131.6,646.9 132.6,646.8 133.6,646.8 134.6,646.8 135.6,646.8 136.6,646.8 137.6,646.8 138.6,646.8 139.6,646.8 140.6,646.8 141.6,646.8 142.6,646.8 143.6,646.7 144.6,646.7 145.6,646.7 146.6,646.7 147.6,646.7 148.6,646.7 149.6,646.7 150.6,646.7 151.6,646.7 152.6,646.7 153.6,646.7 154.6,646.7 155.6,646.6 156.6,646.6 157.6,646.6 158.6,646.6 159.6,646.6 160.6,646.6 161.6,646.6 162.6,646.6 163.6,646.6 164.6,646.6 165.6,646.6 166.6,646.6 167.6,646.5 168.6,646.5 169.6,646.5 170.6,646.5 171.6,646.5 172.6,646.5 173.6,646.5 174.6,646.5 175.6,646.5 176.6,646.5 177.6,646.5 178.6,646.4 179.6,646.4 180.6,646.4 181.6,646.4 182.6,646.4 183.6,646.4 184.6,646.4 185.6,646.4 186.6,646.4 187.6,646.4 188.6,646.4 189.6,646.3 190.6,646.3 191.6,646.3 192.6,646.3 193.6,646.3 194.6,646.3 195.6,646.3 196.6,646.3 197.6,646.3 198.6,646.3 199.6,646.3 200.6,646.2 201.6,646.2 202.6,646.2 203.6,646.2 204.6,646.2 205.6,646.2 206.6,646.2 207.6,646.2 208.6,646.2 209.6,646.2 210.6,646.2 211.6,646.1 212.6,646.1 213.6,646.1 214.6,646.1 215.6,646.1 216.6,646.1 217.6,646.1 218.6,646.1 219.6,646.1 220.6,646.1 221.6,646.1 222.6,646.0 223.6,646.0 224.6,646.0 225.6,646.0 226.6,646.0 227.6,646.0 228.6,646.0 229.6,646.0 230.6,646.0 231.6,646.0 232.6,646.0 233.6,645.9 234.6,645.9 235.6,645.9 236.6,645.9 237.6,645.9 238.6,645.9 239.6,645.9 240.6,645.9 241.6,645.9 242.6,645.9 243.6,645.9 244.6,645.8 245.6,645.8 246.6,645.8 247.6,645.8 248.6,645.8 249.6,645.8 250.6,645.8 251.6,645.8 252.6,645.8 253.6,645.8 254.6,645.7 255.6,645.7 256.6,645.7 257.6,645.7 258.6,645.7 259.6,645.7 260.6,645.7 261.6,645.7 262.6,645.7 263.6,645.7 264.6,645.7 265.6,645.6 266.6,645.6 267.6,645.6 268.6,645.6 269.6,645.6 270.6,645.6 271.6,645.6 272.6,645.6 273.6,645.6 274.6,645.6 275.6,645.5 276.6,645.5 277.6,645.5 278.6,645.5 279.6,645.5 280.6,645.5 281.6,645.5 282.6,645.5 283.6,645.5 284.6,645.5 285.6,645.4 286.6,645.4 287.6,645.4 288.6,645.4 289.6,645.4 290.6,645.4 291.6,645.4 292.6,645.4 293.6,645.4 294.6,645.4 295.6,645.4 296.6,645.3 297.6,645.3 298.6,645.3 299.6,645.3 300.6,645.3 301.6,645.3 302.6,645.3 303.6,645.3 304.6,645.3 305.6,645.3 306.6,645.3 307.6,645.2 308.6,645.2 309.6,645.2 310.6,645.2 311.6,645.2 312.6,645.2 313.6,645.2 314.6,645.2 315.6,645.2 316.6,645.2 317.6,645.1 318.6,645.1 319.6,645.1 320.6,645.1 321.6,645.1 322.6,645.1 323.6,645.1 324.6,645.1 325.6,645.1 326.6,645.0 327.6,645.0 328.6,645.0 329.6,645.0 330.6,645.0 331.6,645.0 332.6,645.0 333.6,644.9 334.6,644.9 335.6,644.9 336.6,644.9 337.6,644.9 338.6,644.9 339.6,644.8 340.6,644.8 341.6,644.8 342.6,644.8 343.6,644.8 344.6,644.7 345.6,644.7 346.6,644.7 347.6,644.7 348.6,644.6 349.6,644.6 350.6,644.6 351.6,644.6 352.6,644.5 353.6,644.5 354.6,644.5 355.6,644.4 356.6,644.4 357.6,644.4 358.6,644.4 359.6,644.3 360.6,644.3 361.6,644.3 362.6,644.2 363.6,644.2 364.6,644.2 365.6,644.1 366.6,644.1 367.6,644.1 368.6,644.0 369.6,644.0 370.6,644.0 371.6,644.0 372.6,643.9 373.6,643.9 374.6,643.9 375.6,643.9 376.6,643.8 377.6,643.8 378.6,643.8 379.6,643.8 380.6,643.7 381.6,643.7 382.6,643.7 383.6,643.7 384.6,643.7 385.6,643.7 386.6,643.6 387.6,643.6 388.6,643.6 389.6,643.6 390.6,643.6 391.6,643.6 392.6,643.6 393.6,643.5 394.6,643.5 395.6,643.5 396.6,643.5 397.6,643.5 398.6,643.4 399.6,643.4 400.6,643.4 401.6,643.4 402.6,643.3 403.6,643.3 404.6,643.2 405.6,643.1 406.6,643.0 407.6,642.8 408.6,642.5 409.6,642.3 410.6,642.0 411.6,641.7 412.6,641.3 413.6,641.0 414.6,640.6 415.6,640.3 416.6,639.9 417.6,639.5 418.6,639.1 419.6,638.7 420.6,638.3 421.6,637.8 422.6,637.3 423.6,636.8 424.6,636.3 425.6,635.7 426.6,635.1 427.6,634.4 428.6,633.8 429.6,633.1 430.6,632.3 431.6,631.6 432.6,630.8 433.6,630.0 434.6,629.0 435.6,628.1 436.6,627.1 437.6,626.0 438.6,624.9 439.6,623.7 440.6,622.6 441.6,621.3 442.6,620.1 443.6,618.7 444.6,617.3 445.6,615.8 446.6,614.3 447.6,612.7 448.6,611.1 449.6,609.3 450.6,607.6 451.6,605.6 452.6,603.5 453.6,601.3 454.6,599.0 455.6,596.7 456.6,594.3 457.6,591.9 458.6,589.5 459.6,587.2 460.6,585.0 461.6,582.8 462.6,580.7 463.6,578.6 464.6,576.4 465.6,574.2 466.6,571.9 467.6,569.5 468.6,567.0 469.6,564.2 470.6,561.1 471.6,557.9 472.6,554.4 473.6,550.9 474.6,547.5 475.6,544.1 476.6,540.9 477.6,537.6 478.6,534.3 479.6,531.1 480.6,527.9 481.6,525.1 482.6,522.5 483.6,520.4 484.6,518.6 485.6,517.1 486.6,515.7 487.6,514.3 488.6,512.7 489.6,510.9 490.6,508.8 491.6,506.1 492.6,503.0 493.6,499.7 494.6,496.3 495.6,492.7 496.6,488.9 497.6,484.9 498.6,480.8 499.6,476.7 500.6,472.6 501.6,468.3 502.6,463.7 503.6,459.2 504.6,455.5 505.6,453.0 506.6,451.1 507.6,449.6 508.6,448.8 509.6,449.0 510.6,450.0 511.6,451.6 512.6,453.6 513.6,455.8 514.6,458.5 515.6,462.0 516.6,466.2 517.6,470.9 518.6,476.2 519.6,482.9 520.6,490.7 521.6,498.7 522.6,506.5 523.6,514.3 524.6,522.5 525.6,531.0 526.6,540.4 527.6,550.2 528.6,559.5 529.6,568.4 530.6,577.2 531.6,585.0 532.6,591.0 533.6,596.0 534.6,600.3 535.6,604.0 536.6,607.1 537.6,609.5 538.6,611.6 539.6,613.4 540.6,615.1 541.6,616.6 542.6,617.9 543.6,619.2 544.6,620.4 545.6,621.5 546.6,622.6 547.6,623.7 548.6,624.7 549.6,625.7 550.6,626.6 551.6,627.4 552.6,628.2 553.6,629.0 554.6,629.6 555.6,630.3 556.6,630.9 557.6,631.4 558.6,632.0 559.6,632.5 560.6,633.0 561.6,633.4 562.6,633.9 563.6,634.3 564.6,634.7 565.6,635.1 566.6,635.5 567.6,635.9 568.6,636.2 569.6,636.5 570.6,636.9 571.6,637.2 572.6,637.5 573.6,637.8 574.6,638.1 575.6,638.4 576.6,638.7 577.6,639.0 578.6,639.3 579.6,639.5 580.6,639.8 581.6,640.0 582.6,640.3 583.6,640.5 584.6,640.7 585.6,641.0 586.6,641.2 587.6,641.4 588.6,641.6 589.6,641.8 590.6,642.0 591.6,642.2 592.6,642.4 593.6,642.6 594.6,642.8 595.6,643.0 596.6,643.2 597.6,643.3 598.6,643.5 599.6,643.6 600.6,643.8 601.6,643.9 602.6,644.0 603.6,644.1 604.6,644.2 605.6,644.4 606.6,644.5 607.6,644.6 608.6,644.7 609.6,644.8 610.6,644.8 611.6,644.9 612.6,645.0 613.6,645.1 614.6,645.2 615.6,645.3 616.6,645.3 617.6,645.4 618.6,645.5 619.6,645.6 620.6,645.6 621.6,645.7 622.6,645.8 623.6,645.8 624.6,645.9 625.6,645.9 626.6,646.0 627.6,646.1 628.6,646.1 629.6,646.3 630.6,646.4 631.6,646.6 632.6,646.8 633.6,647.0 634.6,647.2 635.6,647.4 636.6,647.6 637.6,647.8 638.6,648.0 639.6,648.2 640.6,648.4 641.6,648.5 642.6,648.6 643.6,648.6 644.6,648.5 645.6,648.2 646.6,647.6 647.6,646.8 648.6,646.0 649.6,645.2 650.6,644.5 651.6,644.0 652.6,643.7 653.6,643.7 654.6,643.6 655.6,643.6 656.6,643.5 657.6,643.5 658.6,643.4 659.6,643.4 660.6,643.4 661.6,643.3 662.6,643.3 663.6,643.3 664.6,643.2 665.6,643.2 666.6,643.2 667.6,643.2 668.6,643.1 669.6,643.1 670.6,643.1 671.6,643.1 672.6,643.1 673.6,643.1 674.6,643.0 675.6,643.0 676.6,643.0 677.6,643.0 678.6,643.0 679.6,643.0 680.6,643.0 681.6,642.9 682.6,642.9 683.6,642.9 684.6,642.9 685.6,642.9 686.6,642.9 687.6,642.9 688.6,642.9 689.6,642.9 690.6,642.9 691.6,642.8 692.6,642.8 693.6,642.8 694.6,642.8 695.6,642.8 696.6,642.8 697.6,642.8 698.6,642.7 699.6,642.7 700.6,642.7 701.6,642.7 702.6,642.7 703.6,642.6 704.6,642.6 705.6,642.6 706.6,642.6 707.6,642.5 708.6,642.5 709.6,642.5 710.6,642.5 711.6,642.4 712.6,642.4 713.6,642.4 714.6,642.3 715.6,642.3 716.6,642.3 717.6,642.3 718.6,642.2 719.6,642.2 720.6,642.2 721.6,642.1 722.6,642.1 723.6,642.1 724.6,642.0 725.6,642.0 726.6,642.0 727.6,641.9 728.6,641.9 729.6,641.9 730.6,641.8 731.6,641.8 732.6,641.8 733.6,641.7 734.6,641.7 735.6,641.6 736.6,641.6 737.6,641.6 738.6,641.5 739.6,641.5 740.6,641.5 741.6,641.4 742.6,641.4 743.6,641.4 744.6,641.3 745.6,641.3 746.6,641.2 747.6,641.2 748.6,641.2 749.6,641.1 750.6,641.1 751.6,641.1 752.6,641.0 753.6,641.0 754.6,640.9 755.6,640.9 756.6,640.9 757.6,640.8 758.6,640.8 759.6,640.8 760.6,640.7 761.6,640.7 762.6,640.7 763.6,640.6 764.6,640.6 765.6,640.5 766.6,640.5 767.6,640.5 768.6,640.4 769.6,640.4 770.6,640.4 771.6,640.3 772.6,640.3 773.6,640.3 774.6,640.2 775.6,640.2 776.6,640.2 777.6,640.1 778.6,640.1 779.6,640.1 780.6,640.0 781.6,640.0 782.6,640.0 783.6,639.9 784.6,639.9 785.6,639.8 786.6,639.8 787.6,639.8 788.6,639.7 789.6,639.7 790.6,639.6 791.6,639.6 792.6,639.6 793.6,639.5 794.6,639.5 795.6,639.4 796.6,639.4 797.6,639.4 798.6,639.3 799.6,639.3 800.6,639.2 801.6,639.2 802.6,639.1 803.6,639.1 804.6,639.1 805.6,639.0 806.6,639.0 807.6,638.9 808.6,638.9 809.6,638.9 810.6,638.8 811.6,638.8 812.6,638.7 813.6,638.7 814.6,638.7 815.6,638.6 816.6,638.6 817.6,638.6 818.6,638.5 819.6,638.5 820.6,638.5 821.6,638.4 822.6,638.4 823.6,638.4 824.6,638.3 825.6,638.3 826.6,638.3 827.6,638.3 828.6,638.2 829.6,638.2 830.6,638.2 831.6,638.2 832.6,638.1 833.6,638.1 834.6,638.1 835.6,638.1 836.6,638.1 837.6,638.1 838.6,638.0 839.6,638.0 840.6,638.0 841.6,638.0 842.6,638.0 843.6,638.0 844.6,638.0 845.6,638.0 846.6,638.0 847.6,638.0 848.6,638.0 849.6,638.0 850.6,638.0 851.6,638.0 852.6,638.0 853.6,638.0 854.6,638.0 855.6,638.0 856.6,638.0 857.6,638.0 858.6,638.0 859.6,638.0 860.6,638.1 861.6,638.1 862.6,638.1 863.6,638.1 864.6,638.1 865.6,638.1 866.6,638.1 867.6,638.1 868.6,638.1 869.6,638.1 870.6,638.1 871.6,638.2 872.6,638.2 873.6,638.2 874.6,638.2 875.6,638.2 876.6,638.2 877.6,638.3 878.6,638.3 879.6,638.3 880.6,638.3 881.6,638.3 882.6,638.3 883.6,638.4 884.6,638.4 885.6,638.4 886.6,638.4 887.6,638.5 888.6,638.5 889.6,638.5 890.6,638.5 891.6,638.5 892.6,638.6 893.6,638.6 894.6,638.6 895.6,638.7 896.6,638.7 897.6,638.7 898.6,638.7 899.6,638.8 900.6,638.8 901.6,638.8 902.6,638.9 903.6,638.9 904.6,638.9 905.6,639.0 906.6,639.0 907.6,639.0 908.6,639.1 909.6,639.1 910.6,639.2 911.6,639.2 912.6,639.2 913.6,639.3 914.6,639.3 915.6,639.4 916.6,639.4 917.6,639.5 918.6,639.5 919.6,639.5 920.6,639.6 921.6,639.6 922.6,639.7 923.6,639.7 924.6,639.8 925.6,639.8 926.6,639.9 927.6,639.9 928.6,640.0 929.6,640.0 930.6,640.1 931.6,640.2" stroke="#ff0000" stroke-width="3.2" fill="none" stroke-linejoin="round"/>
<path d="M125.6,647.1 125.9,646.6 126.3,646.2 126.6,645.9 126.9,646.8 127.2,647.3 127.6,646.9 127.9,647.1 128.2,647.2 128.6,646.6 128.9,647.8 129.2,646.6 129.6,647.0 129.9,647.8 130.2,646.8 130.5,646.9 130.9,647.0 131.2,647.0 131.5,644.8 131.9,646.6 132.2,647.4 132.5,646.9 132.9,646.8 133.2,647.0 133.5,641.9 133.8,648.3 134.2,646.1 134.5,647.0 134.8,649.5 135.2,648.6 135.5,646.9 135.8,645.7 136.2,641.8 136.5,646.5 136.8,647.7 137.1,646.5 137.5,647.0 137.8,644.9 138.1,646.4 138.5,647.4 138.8,646.7 139.1,646.0 139.5,647.1 139.8,646.4 140.1,646.9 140.4,646.6 140.8,646.9 141.1,647.3 141.4,647.0 141.8,647.1 142.1,646.4 142.4,646.8 142.8,646.9 143.1,647.1 143.4,646.5 143.7,646.9 144.1,646.9 144.4,646.2 144.7,646.4 145.1,646.9 145.4,646.3 145.7,646.3 146.1,647.0 146.4,646.8 146.7,646.6 147.0,646.8 147.4,646.6 147.7,646.5 148.0,646.6 148.4,646.8 148.7,647.2 149.0,646.5 149.4,647.8 149.7,646.6 150.0,646.3 150.3,646.8 150.7,649.0 151.0,646.4 151.3,647.0 151.7,646.5 152.0,647.1 152.3,647.1 152.7,646.5 153.0,646.0 153.3,643.8 153.6,646.2 154.0,646.2 154.3,646.6 154.6,647.1 155.0,646.6 155.3,646.6 155.6,648.1 156.0,646.4 156.3,645.2 156.6,646.8 156.9,646.5 157.3,646.6 157.6,646.6 157.9,646.6 158.3,647.0 158.6,646.8 158.9,646.5 159.3,646.7 159.6,646.6 159.9,644.7 160.2,641.6 160.6,646.1 160.9,645.7 161.2,646.5 161.6,646.1 161.9,646.9 162.2,646.2 162.6,646.2 162.9,646.9 163.2,646.4 163.5,646.3 163.9,646.9 164.2,646.5 164.5,646.9 164.9,649.9 165.2,646.8 165.5,646.9 165.9,646.6 166.2,647.2 166.5,646.4 166.8,646.5 167.2,646.6 167.5,646.9 167.8,646.4 168.2,646.4 168.5,646.6 168.8,647.0 169.2,650.8 169.5,646.1 169.8,646.5 170.1,646.7 170.5,646.3 170.8,646.6 171.1,645.9 171.5,646.5 171.8,646.5 172.1,646.7 172.5,646.6 172.8,646.8 173.1,646.1 173.4,646.7 173.8,645.9 174.1,646.3 174.4,646.9 174.8,646.8 175.1,645.8 175.4,646.7 175.8,646.3 176.1,646.2 176.4,646.5 176.7,646.5 177.1,646.9 177.4,646.0 177.7,646.3 178.1,646.4 178.4,645.8 178.7,646.9 179.1,647.1 179.4,646.2 179.7,646.6 180.0,644.0 180.4,646.5 180.7,646.2 181.0,646.7 181.4,646.0 181.7,648.8 182.0,646.3 182.4,647.3 182.7,645.8 183.0,646.4 183.3,646.0 183.7,646.4 184.0,646.5 184.3,646.1 184.7,645.9 185.0,645.8 185.3,646.5 185.7,642.1 186.0,646.7 186.3,646.2 186.6,642.1 187.0,646.9 187.3,647.9 187.6,645.0 188.0,646.7 188.3,645.2 188.6,646.5 189.0,646.3 189.3,646.8 189.6,643.7 189.9,643.5 190.3,645.3 190.6,646.1 190.9,647.3 191.3,646.4 191.6,646.8 191.9,648.6 192.3,644.5 192.6,645.5 192.9,645.6 193.2,646.3 193.6,646.4 193.9,646.1 194.2,646.4 194.6,646.4 194.9,646.3 195.2,646.6 195.6,646.9 195.9,646.5 196.2,646.1 196.5,646.4 196.9,646.5 197.2,647.5 197.5,651.2 197.9,644.2 198.2,646.4 198.5,646.4 198.9,646.1 199.2,646.5 199.5,646.4 199.8,646.7 200.2,646.2 200.5,646.0 200.8,646.2 201.2,646.1 201.5,646.7 201.8,646.4 202.2,646.2 202.5,646.8 202.8,646.4 203.1,646.6 203.5,646.5 203.8,646.2 204.1,646.2 204.5,646.2 204.8,645.8 205.1,646.1 205.5,646.5 205.8,646.3 206.1,645.9 206.4,647.0 206.8,645.8 207.1,646.4 207.4,646.4 207.8,646.6 208.1,645.9 208.4,645.3 208.8,646.1 209.1,646.6 209.4,645.9 209.7,645.8 210.1,646.1 210.4,649.4 210.7,644.4 211.1,642.1 211.4,645.8 211.7,646.4 212.1,645.7 212.4,646.5 212.7,646.2 213.0,645.8 213.4,645.8 213.7,646.1 214.0,646.2 214.4,641.2 214.7,646.0 215.0,646.0 215.4,646.0 215.7,646.1 216.0,646.2 216.3,646.6 216.7,649.1 217.0,645.9 217.3,646.7 217.7,646.5 218.0,646.0 218.3,646.5 218.7,645.9 219.0,645.9 219.3,645.9 219.6,646.7 220.0,646.2 220.3,646.2 220.6,646.1 221.0,646.0 221.3,646.3 221.6,646.3 222.0,646.8 222.3,645.8 222.6,646.6 222.9,646.3 223.3,645.5 223.6,646.4 223.9,646.6 224.3,646.5 224.6,646.2 224.9,646.1 225.3,645.4 225.6,646.2 225.9,646.4 226.2,645.7 226.6,646.1 226.9,645.8 227.2,646.8 227.6,645.6 227.9,645.7 228.2,645.3 228.6,645.9 228.9,646.1 229.2,646.0 229.5,645.8 229.9,646.3 230.2,646.1 230.5,646.4 230.9,646.0 231.2,645.4 231.5,645.9 231.9,645.6 232.2,646.3 232.5,645.8 232.8,645.9 233.2,646.0 233.5,645.4 233.8,645.8 234.2,643.8 234.5,650.9 234.8,644.8 235.2,646.6 235.5,645.7 235.8,645.8 236.1,646.1 236.5,645.8 236.8,645.9 237.1,645.9 237.5,645.6 237.8,645.5 238.1,646.6 238.5,646.4 238.8,645.9 239.1,646.2 239.4,646.3 239.8,646.2 240.1,645.8 240.4,645.4 240.8,645.4 241.1,645.8 241.4,646.3 241.8,646.4 242.1,645.8 242.4,645.8 242.7,642.5 243.1,646.6 243.4,646.9 243.7,644.2 244.1,645.2 244.4,644.0 244.7,643.0 245.1,646.4 245.4,648.1 245.7,647.8 246.0,646.4 246.4,650.8 246.7,646.1 247.0,646.1 247.4,645.9 247.7,645.9 248.0,646.5 248.4,645.8 248.7,645.9 249.0,646.2 249.3,645.8 249.7,645.4 250.0,645.6 250.3,645.7 250.7,645.7 251.0,645.6 251.3,646.1 251.7,646.0 252.0,646.0 252.3,644.6 252.6,646.1 253.0,646.1 253.3,645.3 253.6,645.6 254.0,645.7 254.3,646.2 254.6,645.4 255.0,645.9 255.3,645.8 255.6,645.8 255.9,645.4 256.3,645.8 256.6,645.2 256.9,646.2 257.3,645.6 257.6,645.8 257.9,646.6 258.3,640.8 258.6,644.7 258.9,645.9 259.2,645.6 259.6,646.8 259.9,645.3 260.2,645.3 260.6,645.4 260.9,645.3 261.2,645.2 261.6,645.5 261.9,645.9 262.2,645.8 262.5,645.5 262.9,645.8 263.2,645.8 263.5,646.6 263.9,645.1 264.2,649.3 264.5,644.7 264.9,650.0 265.2,646.6 265.5,647.5 265.8,644.0 266.2,644.6 266.5,644.5 266.8,650.3 267.2,645.7 267.5,645.2 267.8,645.8 268.2,646.1 268.5,645.2 268.8,645.5 269.1,645.8 269.5,646.2 269.8,646.0 270.1,645.9 270.5,645.3 270.8,645.6 271.1,645.6 271.5,645.4 271.8,648.5 272.1,640.6 272.4,645.4 272.8,646.3 273.1,645.5 273.4,646.2 273.8,645.4 274.1,643.3 274.4,648.7 274.8,644.8 275.1,647.2 275.4,646.1 275.7,644.7 276.1,646.6 276.4,641.7 276.7,644.4 277.1,645.5 277.4,644.9 277.7,646.1 278.1,646.0 278.4,645.4 278.7,648.7 279.0,645.4 279.4,645.3 279.7,645.4 280.0,645.0 280.4,645.4 280.7,645.3 281.0,646.2 281.4,645.0 281.7,645.9 282.0,649.9 282.3,645.5 282.7,645.3 283.0,646.1 283.3,646.0 283.7,645.4 284.0,645.4 284.3,646.3 284.7,646.1 285.0,645.1 285.3,645.5 285.6,645.8 286.0,645.0 286.3,645.4 286.6,645.8 287.0,645.3 287.3,645.4 287.6,644.9 288.0,645.6 288.3,645.0 288.6,645.3 288.9,645.5 289.3,645.2 289.6,645.7 289.9,645.7 290.3,645.6 290.6,645.7 290.9,645.3 291.3,644.6 291.6,645.7 291.9,645.7 292.2,645.2 292.6,645.1 292.9,645.5 293.2,645.2 293.6,645.2 293.9,645.2 294.2,646.2 294.6,645.6 294.9,647.2 295.2,644.4 295.5,647.7 295.9,646.9 296.2,645.7 296.5,644.3 296.9,641.4 297.2,644.4 297.5,645.2 297.9,646.2 298.2,645.3 298.5,645.6 298.8,645.9 299.2,645.5 299.5,644.8 299.8,645.7 300.2,645.3 300.5,645.7 300.8,645.2 301.2,645.3 301.5,645.2 301.8,645.3 302.1,645.2 302.5,645.3 302.8,645.2 303.1,645.4 303.5,645.0 303.8,644.9 304.1,645.2 304.5,645.3 304.8,645.1 305.1,645.4 305.4,645.3 305.8,645.8 306.1,644.7 306.4,645.9 306.8,644.4 307.1,644.6 307.4,645.3 307.8,644.9 308.1,645.1 308.4,645.0 308.7,644.7 309.1,644.7 309.4,645.0 309.7,645.3 310.1,645.4 310.4,645.2 310.7,645.0 311.1,645.5 311.4,644.4 311.7,645.1 312.0,645.1 312.4,645.7 312.7,645.5 313.0,644.7 313.4,644.3 313.7,646.6 314.0,645.0 314.4,644.6 314.7,642.2 315.0,645.6 315.3,645.0 315.7,645.0 316.0,645.3 316.3,644.8 316.7,645.1 317.0,645.3 317.3,645.0 317.7,645.1 318.0,644.5 318.3,644.6 318.6,645.0 319.0,645.5 319.3,644.9 319.6,644.7 320.0,644.8 320.3,645.3 320.6,644.6 321.0,645.1 321.3,644.9 321.6,645.1 321.9,640.1 322.3,648.0 322.6,650.0 322.9,649.6 323.3,645.4 323.6,646.7 323.9,646.2 324.3,641.3 324.6,642.0 324.9,645.0 325.2,644.7 325.6,644.8 325.9,644.5 326.2,645.7 326.6,645.6 326.9,650.0 327.2,649.6 327.6,644.3 327.9,648.4 328.2,644.2 328.5,645.8 328.9,644.4 329.2,643.4 329.5,642.3 329.9,649.9 330.2,640.0 330.5,645.0 330.9,643.3 331.2,644.3 331.5,649.3 331.8,644.9 332.2,644.9 332.5,644.4 332.8,644.2 333.2,644.4 333.5,645.1 333.8,644.3 334.2,645.0 334.5,644.7 334.8,644.8 335.1,645.4 335.5,644.8 335.8,644.7 336.1,644.9 336.5,645.1 336.8,644.7 337.1,645.5 337.5,644.9 337.8,644.7 338.1,644.6 338.4,644.8 338.8,645.1 339.1,645.2 339.4,644.9 339.8,644.6 340.1,644.8 340.4,644.1 340.8,645.2 341.1,645.1 341.4,644.7 341.7,641.6 342.1,644.5 342.4,645.4 342.7,644.8 343.1,644.7 343.4,645.5 343.7,644.5 344.1,645.0 344.4,644.5 344.7,644.6 345.0,644.7 345.4,644.6 345.7,645.3 346.0,645.2 346.4,644.6 346.7,645.6 347.0,645.3 347.4,639.8 347.7,642.7 348.0,644.4 348.3,645.2 348.7,644.4 349.0,644.3 349.3,645.1 349.7,639.7 350.0,644.8 350.3,645.1 350.7,645.0 351.0,644.1 351.3,641.6 351.6,648.2 352.0,644.8 352.3,644.9 352.6,642.2 353.0,645.7 353.3,642.9 353.6,640.3 354.0,644.9 354.3,644.0 354.6,644.1 354.9,644.3 355.3,644.0 355.6,644.4 355.9,644.5 356.3,644.2 356.6,644.6 356.9,644.9 357.3,644.4 357.6,649.0 357.9,644.4 358.2,644.4 358.6,644.2 358.9,644.0 359.2,644.5 359.6,644.7 359.9,644.3 360.2,644.3 360.6,643.8 360.9,644.2 361.2,644.4 361.5,644.2 361.9,644.3 362.2,643.9 362.5,643.8 362.9,644.1 363.2,644.7 363.5,644.1 363.9,643.7 364.2,642.5 364.5,644.1 364.8,644.6 365.2,643.1 365.5,643.9 365.8,643.8 366.2,644.0 366.5,644.1 366.8,643.9 367.2,644.4 367.5,643.9 367.8,644.2 368.1,644.0 368.5,644.2 368.8,644.0 369.1,644.1 369.5,644.4 369.8,644.1 370.1,644.5 370.5,643.6 370.8,643.9 371.1,643.6 371.4,643.5 371.8,643.9 372.1,644.6 372.4,644.0 372.8,644.3 373.1,643.3 373.4,644.0 373.8,643.5 374.1,645.2 374.4,645.6 374.7,641.8 375.1,644.8 375.4,645.2 375.7,644.1 376.1,642.9 376.4,643.7 376.7,643.9 377.1,642.0 377.4,641.1 377.7,643.6 378.0,644.3 378.4,642.9 378.7,643.8 379.0,644.0 379.4,644.4 379.7,644.2 380.0,643.7 380.4,644.2 380.7,638.9 381.0,640.0 381.3,643.8 381.7,646.1 382.0,641.6 382.3,645.7 382.7,643.1 383.0,644.0 383.3,643.8 383.7,643.9 384.0,643.5 384.3,643.8 384.6,643.5 385.0,643.4 385.3,643.4 385.6,643.6 386.0,643.6 386.3,643.4 386.6,644.1 387.0,643.7 387.3,643.4 387.6,643.1 387.9,643.5 388.3,643.0 388.6,643.2 388.9,643.1 389.3,643.2 389.6,643.6 389.9,642.4 390.3,642.9 390.6,643.7 390.9,643.3 391.2,643.3 391.6,645.1 391.9,641.1 392.2,644.1 392.6,643.4 392.9,643.1 393.2,643.0 393.6,643.4 393.9,641.0 394.2,641.5 394.5,638.6 394.9,644.3 395.2,644.6 395.5,645.2 395.9,638.6 396.2,641.1 396.5,642.7 396.9,643.5 397.2,643.5 397.5,643.4 397.8,642.9 398.2,643.6 398.5,643.2 398.8,643.6 399.2,643.4 399.5,642.9 399.8,643.5 400.2,643.6 400.5,643.6 400.8,643.1 401.1,642.9 401.5,643.5 401.8,643.2 402.1,643.9 402.5,643.6 402.8,643.6 403.1,643.4 403.5,643.1 403.8,643.7 404.1,642.8 404.4,643.2 404.8,643.2 405.1,642.6 405.4,642.8 405.8,643.3 406.1,642.9 406.4,642.6 406.8,643.4 407.1,642.8 407.4,642.8 407.7,643.2 408.1,642.1 408.4,642.4 408.7,642.2 409.1,642.7 409.4,642.0 409.7,642.8 410.1,642.2 410.4,642.1 410.7,642.2 411.0,641.7 411.4,641.4 411.7,641.4 412.0,641.5 412.4,641.1 412.7,641.3 413.0,641.0 413.4,641.0 413.7,640.9 414.0,641.2 414.3,641.1 414.7,641.1 415.0,640.4 415.3,640.1 415.7,640.5 416.0,640.4 416.3,640.2 416.7,639.7 417.0,637.3 417.3,639.5 417.6,639.7 418.0,639.6 418.3,639.2 418.6,640.7 419.0,639.4 419.3,638.9 419.6,638.9 420.0,638.7 420.3,638.6 420.6,638.6 420.9,634.4 421.3,637.9 421.6,638.0 421.9,636.9 422.3,637.5 422.6,637.2 422.9,637.4 423.3,636.3 423.6,638.2 423.9,635.9 424.2,636.6 424.6,634.1 424.9,635.9 425.2,633.4 425.6,635.6 425.9,635.6 426.2,635.2 426.6,635.2 426.9,635.0 427.2,635.0 427.5,634.5 427.9,634.6 428.2,634.0 428.5,633.6 428.9,633.7 429.2,633.1 429.5,633.2 429.9,633.0 430.2,632.7 430.5,632.5 430.8,632.2 431.2,632.2 431.5,633.4 431.8,630.4 432.2,628.4 432.5,631.1 432.8,630.8 433.2,630.5 433.5,630.1 433.8,629.6 434.1,629.8 434.5,629.0 434.8,628.2 435.1,628.4 435.5,628.5 435.8,627.0 436.1,627.2 436.5,627.4 436.8,627.0 437.1,626.2 437.4,626.3 437.8,625.1 438.1,625.6 438.4,625.3 438.8,624.6 439.1,624.7 439.4,623.9 439.8,623.4 440.1,623.4 440.4,621.5 440.7,619.8 441.1,622.2 441.4,622.2 441.7,620.9 442.1,621.5 442.4,622.8 442.7,619.8 443.1,619.5 443.4,618.8 443.7,618.7 444.0,617.9 444.4,617.7 444.7,616.9 445.0,616.8 445.4,616.2 445.7,615.6 446.0,615.2 446.4,613.0 446.7,614.3 447.0,614.6 447.3,613.2 447.7,612.5 448.0,611.9 448.3,611.4 448.7,610.8 449.0,612.5 449.3,609.8 449.7,609.3 450.0,608.4 450.3,608.0 450.6,607.6 451.0,607.3 451.3,606.0 451.6,605.2 452.0,605.6 452.3,604.1 452.6,602.3 453.0,602.1 453.3,603.6 453.6,601.4 453.9,600.6 454.3,600.0 454.6,598.9 454.9,598.3 455.3,597.3 455.6,596.5 455.9,595.7 456.3,595.0 456.6,594.5 456.9,593.7 457.2,592.8 457.6,591.9 457.9,591.3 458.2,590.2 458.6,589.4 458.9,588.7 459.2,588.0 459.6,587.1 459.9,586.8 460.2,586.0 460.5,585.1 460.9,584.3 461.2,583.6 461.5,583.2 461.9,580.9 462.2,581.4 462.5,580.8 462.9,579.9 463.2,579.2 463.5,578.7 463.8,576.2 464.2,577.3 464.5,576.5 464.8,576.1 465.2,575.3 465.5,572.7 465.8,573.8 466.2,573.0 466.5,572.2 466.8,571.4 467.1,570.6 467.5,570.0 467.8,568.9 468.1,568.1 468.5,567.3 468.8,565.3 469.1,565.5 469.5,564.5 469.8,563.0 470.1,561.8 470.4,562.0 470.8,560.8 471.1,559.6 471.4,558.2 471.8,557.7 472.1,556.1 472.4,555.5 472.8,554.8 473.1,552.9 473.4,551.4 473.7,549.2 474.1,549.2 474.4,548.1 474.7,547.0 475.1,545.8 475.4,544.7 475.7,543.7 476.1,542.6 476.4,541.6 476.7,540.4 477.0,539.6 477.4,538.3 477.7,537.2 478.0,536.1 478.4,534.7 478.7,534.6 479.0,532.2 479.4,531.6 479.7,530.5 480.0,530.0 480.3,528.9 480.7,528.6 481.0,527.7 481.3,527.1 481.7,524.6 482.0,524.5 482.3,523.2 482.7,522.5 483.0,521.7 483.3,521.1 483.6,520.3 484.0,519.6 484.3,518.7 484.6,518.5 485.0,517.9 485.3,517.4 485.6,517.1 486.0,516.6 486.3,516.3 486.6,515.5 486.9,515.1 487.3,514.9 487.6,514.3 487.9,514.0 488.3,513.1 488.6,512.7 488.9,512.2 489.3,511.8 489.6,511.0 489.9,510.1 490.2,509.5 490.6,508.9 490.9,507.8 491.2,507.0 491.6,506.2 491.9,505.2 492.2,504.2 492.6,503.2 492.9,502.1 493.2,500.9 493.5,500.0 493.9,498.9 494.2,497.3 494.5,496.5 494.9,495.2 495.2,494.3 495.5,493.0 495.9,491.8 496.2,490.0 496.5,489.3 496.8,487.9 497.2,486.6 497.5,485.3 497.8,484.0 498.2,482.5 498.5,481.2 498.8,479.7 499.2,478.6 499.5,476.8 499.8,475.8 500.1,474.5 500.5,473.1 500.8,471.8 501.1,470.3 501.5,468.9 501.8,467.4 502.1,465.9 502.5,464.3 502.8,463.0 503.1,461.3 503.4,459.9 503.8,458.4 504.1,457.9 504.4,456.0 504.8,454.9 505.1,454.0 505.4,453.1 505.8,452.4 506.1,452.1 506.4,449.4 506.7,451.4 507.1,450.4 507.4,450.9 507.7,450.5 508.1,448.2 508.4,448.6 508.7,448.9 509.1,449.1 509.4,449.1 509.7,448.9 510.0,449.1 510.4,449.9 510.7,450.4 511.0,450.9 511.4,451.2 511.7,451.8 512.0,452.5 512.4,453.3 512.7,453.9 513.0,456.0 513.3,455.3 513.7,455.7 514.0,456.6 514.3,457.7 514.7,458.5 515.0,459.9 515.3,460.9 515.7,462.2 516.0,463.6 516.3,465.0 516.6,466.3 517.0,467.9 517.3,469.6 517.6,471.1 518.0,472.8 518.3,474.3 518.6,476.4 519.0,478.3 519.3,480.8 519.6,483.0 519.9,485.5 520.3,488.1 520.6,490.8 520.9,493.4 521.3,496.2 521.6,498.8 521.9,501.3 522.3,503.9 522.6,506.3 522.9,509.0 523.2,511.6 523.6,514.2 523.9,516.8 524.2,519.5 524.6,522.2 524.9,525.0 525.2,527.8 525.6,530.7 525.9,533.7 526.2,536.8 526.5,539.9 526.9,543.2 527.2,546.4 527.5,549.6 527.9,552.8 528.2,555.8 528.5,558.8 528.9,561.7 529.2,564.4 529.5,567.7 529.8,570.6 530.2,573.7 530.5,576.1 530.8,578.5 531.2,581.9 531.5,584.2 531.8,586.5 532.2,588.6 532.5,590.4 532.8,591.9 533.1,594.5 533.5,595.7 533.8,595.8 534.1,599.1 534.5,599.6 534.8,601.2 535.1,601.1 535.5,603.6 535.8,604.7 536.1,605.7 536.4,606.6 536.8,607.6 537.1,608.3 537.4,608.9 537.8,610.0 538.1,610.6 538.4,611.0 538.8,611.8 539.1,612.4 539.4,613.3 539.7,613.7 540.1,614.1 540.4,614.6 540.7,615.1 541.1,615.8 541.4,616.2 541.7,616.9 542.1,617.1 542.4,617.8 542.7,618.1 543.0,620.2 543.4,618.9 543.7,619.3 544.0,620.0 544.4,620.0 544.7,620.4 545.0,620.9 545.4,621.4 545.7,621.5 546.0,622.3 546.3,622.2 546.7,622.6 547.0,623.1 547.3,623.5 547.7,623.6 548.0,624.3 548.3,624.8 548.7,624.8 549.0,625.2 549.3,625.5 549.6,626.2 550.0,626.1 550.3,626.4 550.6,626.6 551.0,627.0 551.3,627.1 551.6,627.4 552.0,627.7 552.3,628.2 552.6,628.2 552.9,628.7 553.3,628.7 553.6,629.2 553.9,629.0 554.3,629.2 554.6,629.8 554.9,630.2 555.3,630.0 555.6,629.8 555.9,630.7 556.2,630.8 556.6,630.7 556.9,631.4 557.2,631.6 557.6,631.3 557.9,631.5 558.2,631.9 558.6,632.1 558.9,632.4 559.2,632.4 559.5,632.9 559.9,632.5 560.2,632.6 560.5,632.8 560.9,632.9 561.2,633.2 561.5,633.2 561.9,633.7 562.2,634.0 562.5,634.2 562.8,631.5 563.2,630.4 563.5,638.0 563.8,631.5 564.2,633.2 564.5,635.0 564.8,635.1 565.2,635.8 565.5,634.8 565.8,635.4 566.1,635.1 566.5,634.8 566.8,635.5 567.1,636.0 567.5,635.8 567.8,635.5 568.1,635.9 568.5,636.4 568.8,636.3 569.1,636.1 569.4,635.6 569.8,636.5 570.1,636.5 570.4,637.2 570.8,636.9 571.1,637.2 571.4,636.7 571.8,637.2 572.1,637.5 572.4,637.9 572.7,639.0 573.1,637.4 573.4,638.5 573.7,637.8 574.1,637.8 574.4,637.9 574.7,637.8 575.1,638.1 575.4,638.1 575.7,638.3 576.0,638.3 576.4,638.5 576.7,638.9 577.0,638.6 577.4,638.5 577.7,639.1 578.0,639.0 578.4,639.3 578.7,639.0 579.0,639.3 579.3,639.1 579.7,639.1 580.0,641.7 580.3,639.6 580.7,639.3 581.0,639.5 581.3,640.1 581.7,643.6 582.0,640.1 582.3,637.1 582.6,640.0 583.0,640.5 583.3,640.1 583.6,640.8 584.0,640.0 584.3,640.0 584.6,640.8 585.0,640.4 585.3,641.1 585.6,640.8 585.9,640.8 586.3,641.1 586.6,641.4 586.9,641.4 587.3,641.2 587.6,641.2 587.9,641.6 588.3,640.0 588.6,643.1 588.9,641.3 589.2,644.2 589.6,642.5 589.9,639.4 590.2,642.8 590.6,641.7 590.9,640.8 591.2,641.4 591.6,642.2 591.9,642.7 592.2,641.0 592.5,640.7 592.9,640.3 593.2,643.2 593.5,643.0 593.9,642.7 594.2,643.4 594.5,642.7 594.9,643.2 595.2,643.1 595.5,643.0 595.8,642.9 596.2,643.3 596.5,643.6 596.8,642.8 597.2,643.3 597.5,643.6 597.8,643.2 598.2,643.2 598.5,643.9 598.8,643.5 599.1,643.5 599.5,644.5 599.8,643.8 600.1,643.9 600.5,643.8 600.8,643.6 601.1,645.5 601.5,640.2 601.8,640.8 602.1,642.2 602.4,643.2 602.8,648.0 603.1,645.6 603.4,646.1 603.8,648.2 604.1,643.9 604.4,644.5 604.8,644.2 605.1,643.9 605.4,644.3 605.7,644.2 606.1,644.9 606.4,643.0 606.7,644.7 607.1,644.7 607.4,644.9 607.7,644.8 608.1,644.8 608.4,644.8 608.7,647.6 609.0,644.5 609.4,644.6 609.7,645.5 610.0,645.3 610.4,645.6 610.7,644.7 611.0,645.2 611.4,644.9 611.7,645.2 612.0,644.6 612.3,649.7 612.7,644.2 613.0,640.4 613.3,644.9 613.7,640.4 614.0,643.9 614.3,642.6 614.7,644.0 615.0,649.9 615.3,645.7 615.6,645.5 616.0,645.1 616.3,645.7 616.6,645.7 617.0,645.1 617.3,643.4 617.6,645.6 618.0,645.7 618.3,644.9 618.6,645.4 618.9,644.7 619.3,645.6 619.6,645.3 619.9,646.2 620.3,650.4 620.6,646.9 620.9,647.0 621.3,650.5 621.6,650.5 621.9,645.1 622.2,649.1 622.6,645.7 622.9,645.6 623.2,646.2 623.6,645.8 623.9,645.5 624.2,646.0 624.6,645.7 624.9,646.0 625.2,645.6 625.5,646.0 625.9,645.6 626.2,645.7 626.5,646.1 626.9,646.3 627.2,646.1 627.5,643.5 627.9,647.9 628.2,645.8 628.5,644.9 628.8,650.3 629.2,650.0 629.5,645.8 629.8,646.6 630.2,646.7 630.5,645.8 630.8,649.2 631.2,645.6 631.5,649.3 631.8,648.4 632.1,646.9 632.5,645.8 632.8,649.7 633.1,646.0 633.5,647.1 633.8,647.2 634.1,647.1 634.5,646.3 634.8,647.2 635.1,647.7 635.4,647.3 635.8,647.8 636.1,647.4 636.4,647.7 636.8,647.8 637.1,649.6 637.4,645.6 637.8,646.3 638.1,648.6 638.4,648.8 638.7,646.3 639.1,649.3 639.4,648.3 639.7,647.0 640.1,645.3 640.4,646.4 640.7,649.8 641.1,648.9 641.4,648.3 641.7,648.0 642.0,648.5 642.4,648.1 642.7,649.0 643.0,648.4 643.4,648.5 643.7,649.2 644.0,648.7 644.4,648.1 644.7,648.6 645.0,648.2 645.3,647.9 645.7,647.9 646.0,646.5 646.3,651.0 646.7,647.3 647.0,647.2 647.3,647.2 647.7,646.7 648.0,646.4 648.3,646.2 648.6,645.8 649.0,645.7 649.3,645.3 649.6,645.3 650.0,644.8 650.3,644.5 650.6,644.3 651.0,643.7 651.3,644.0 651.6,644.1 651.9,644.3 652.3,643.8 652.6,644.1 652.9,643.0 653.3,644.1 653.6,643.8 653.9,644.0 654.3,643.4 654.6,643.7 654.9,643.6 655.2,643.2 655.6,640.3 655.9,643.6 656.2,642.5 656.6,642.6 656.9,643.6 657.2,640.7 657.6,643.1 657.9,643.0 658.2,642.7 658.5,643.5 658.9,639.8 659.2,642.2 659.5,642.4 659.9,642.1 660.2,643.7 660.5,640.1 660.9,643.0 661.2,643.3 661.5,644.2 661.8,644.4 662.2,643.9 662.5,643.6 662.8,642.9 663.2,643.9 663.5,643.4 663.8,643.3 664.2,643.0 664.5,643.0 664.8,643.2 665.1,644.2 665.5,642.8 665.8,642.9 666.1,643.5 666.5,643.2 666.8,642.9 667.1,643.6 667.5,643.1 667.8,642.9 668.1,643.1 668.4,645.1 668.8,643.4 669.1,644.4 669.4,643.2 669.8,643.0 670.1,643.2 670.4,639.3 670.8,645.8 671.1,642.3 671.4,643.8 671.7,642.7 672.1,643.1 672.4,643.9 672.7,641.8 673.1,642.9 673.4,643.3 673.7,643.3 674.1,642.2 674.4,643.5 674.7,643.5 675.0,642.7 675.4,643.5 675.7,642.6 676.0,643.5 676.4,642.8 676.7,643.2 677.0,643.1 677.4,643.2 677.7,642.6 678.0,640.7 678.3,643.3 678.7,643.1 679.0,643.4 679.3,643.0 679.7,643.7 680.0,643.5 680.3,643.7 680.7,642.7 681.0,643.0 681.3,642.3 681.6,641.6 682.0,643.0 682.3,642.6 682.6,642.7 683.0,638.4 683.3,638.0 683.6,644.6 684.0,640.8 684.3,642.5 684.6,640.8 684.9,642.8 685.3,639.0 685.6,644.7 685.9,642.9 686.3,642.2 686.6,639.9 686.9,642.6 687.3,643.3 687.6,642.2 687.9,643.2 688.2,642.3 688.6,643.1 688.9,642.8 689.2,642.2 689.6,643.0 689.9,639.0 690.2,642.8 690.6,642.8 690.9,643.1 691.2,642.7 691.5,643.0 691.9,642.4 692.2,642.6 692.5,643.0 692.9,643.2 693.2,642.8 693.5,642.7 693.9,647.8 694.2,643.0 694.5,643.9 694.8,643.8 695.2,642.6 695.5,642.3 695.8,642.8 696.2,644.2 696.5,642.2 696.8,647.7 697.2,644.7 697.5,642.0 697.8,641.6 698.1,639.8 698.5,643.9 698.8,640.4 699.1,642.3 699.5,647.7 699.8,643.1 700.1,643.3 700.5,643.1 700.8,642.2 701.1,643.4 701.4,642.1 701.8,642.4 702.1,642.8 702.4,642.5 702.8,642.9 703.1,643.0 703.4,642.6 703.8,643.2 704.1,642.1 704.4,644.1 704.7,642.9 705.1,643.3 705.4,644.7 705.7,647.5 706.1,643.0 706.4,643.0 706.7,643.1 707.1,641.4 707.4,641.6 707.7,647.1 708.0,645.2 708.4,642.9 708.7,642.8 709.0,642.8 709.4,642.0 709.7,642.7 710.0,642.9 710.4,642.4 710.7,642.6 711.0,642.3 711.3,642.7 711.7,642.6 712.0,642.2 712.3,642.6 712.7,642.6 713.0,642.0 713.3,642.3 713.7,642.3 714.0,642.0 714.3,642.7 714.6,642.1 715.0,642.4 715.3,641.6 715.6,642.3 716.0,641.9 716.3,642.4 716.6,642.2 717.0,642.6 717.3,642.8 717.6,641.7 717.9,642.3 718.3,640.2 718.6,642.0 718.9,641.9 719.3,641.4 719.6,641.1 719.9,642.9 720.3,642.5 720.6,642.2 720.9,642.5 721.2,642.4 721.6,642.5 721.9,642.5 722.2,642.3 722.6,642.4 722.9,641.9 723.2,641.4 723.6,641.7 723.9,642.2 724.2,642.1 724.5,642.1 724.9,642.5 725.2,642.3 725.5,642.6 725.9,641.6 726.2,641.7 726.5,641.1 726.9,642.2 727.2,641.5 727.5,641.9 727.8,642.7 728.2,645.8 728.5,641.9 728.8,642.9 729.2,641.4 729.5,642.1 729.8,641.5 730.2,641.6 730.5,641.6 730.8,642.8 731.1,642.7 731.5,638.0 731.8,641.2 732.1,641.6 732.5,643.4 732.8,637.0 733.1,641.1 733.5,645.3 733.8,642.3 734.1,641.8 734.4,642.3 734.8,642.0 735.1,641.3 735.4,642.1 735.8,641.5 736.1,642.0 736.4,641.7 736.8,640.9 737.1,640.9 737.4,641.5 737.7,641.6 738.1,642.0 738.4,641.8 738.7,642.1 739.1,641.8 739.4,641.6 739.7,641.2 740.1,642.8 740.4,641.9 740.7,641.8 741.0,641.3 741.4,641.8 741.7,640.8 742.0,641.6 742.4,641.4 742.7,641.4 743.0,640.4 743.4,642.0 743.7,641.0 744.0,641.1 744.3,641.2 744.7,639.8 745.0,640.6 745.3,641.5 745.7,638.9 746.0,641.3 746.3,640.7 746.7,641.3 747.0,641.2 747.3,641.7 747.6,641.0 748.0,640.5 748.3,641.2 748.6,641.3 749.0,641.5 749.3,641.4 749.6,640.8 750.0,641.1 750.3,640.7 750.6,641.3 750.9,642.0 751.3,640.7 751.6,640.6 751.9,640.5 752.3,640.9 752.6,641.1 752.9,640.9 753.3,640.3 753.6,641.0 753.9,641.1 754.2,641.4 754.6,641.1 754.9,640.3 755.2,641.2 755.6,640.7 755.9,639.7 756.2,641.2 756.6,640.1 756.9,636.5 757.2,639.6 757.5,641.2 757.9,640.7 758.2,640.8 758.5,640.9 758.9,640.3 759.2,641.1 759.5,640.2 759.9,640.8 760.2,640.7 760.5,639.7 760.8,640.4 761.2,640.6 761.5,640.7 761.8,640.5 762.2,640.7 762.5,640.5 762.8,640.5 763.2,640.9 763.5,641.9 763.8,640.4 764.1,640.4 764.5,640.7 764.8,640.3 765.1,640.8 765.5,640.5 765.8,641.1 766.1,640.1 766.5,640.5 766.8,640.1 767.1,640.6 767.4,640.2 767.8,640.0 768.1,635.6 768.4,637.9 768.8,640.7 769.1,637.5 769.4,640.8 769.8,636.3 770.1,636.7 770.4,645.2 770.7,640.8 771.1,639.3 771.4,640.0 771.7,640.3 772.1,640.4 772.4,640.4 772.7,640.1 773.1,639.5 773.4,643.0 773.7,640.5 774.0,640.5 774.4,640.4 774.7,639.8 775.0,639.2 775.4,640.1 775.7,640.3 776.0,640.9 776.4,640.6 776.7,641.1 777.0,640.2 777.3,640.6 777.7,641.2 778.0,640.1 778.3,639.7 778.7,639.8 779.0,640.0 779.3,640.1 779.7,640.5 780.0,635.2 780.3,639.4 780.6,639.9 781.0,639.7 781.3,638.6 781.6,644.9 782.0,643.6 782.3,639.6 782.6,640.5 783.0,639.7 783.3,639.5 783.6,639.7 783.9,640.5 784.3,640.1 784.6,639.6 784.9,640.0 785.3,639.8 785.6,640.1 785.9,639.9 786.3,639.0 786.6,639.8 786.9,640.2 787.2,639.3 787.6,639.8 787.9,639.6 788.2,639.9 788.6,639.2 788.9,640.0 789.2,639.6 789.6,640.2 789.9,639.9 790.2,642.0 790.5,639.2 790.9,639.4 791.2,640.1 791.5,639.9 791.9,639.7 792.2,639.7 792.5,639.5 792.9,638.5 793.2,639.4 793.5,639.4 793.8,638.6 794.2,644.3 794.5,640.2 794.8,635.9 795.2,639.6 795.5,639.4 795.8,639.0 796.2,639.5 796.5,640.2 796.8,638.9 797.1,639.4 797.5,636.9 797.8,639.7 798.1,639.5 798.5,639.4 798.8,639.2 799.1,639.6 799.5,639.6 799.8,638.9 800.1,638.7 800.4,639.2 800.8,639.4 801.1,639.0 801.4,639.7 801.8,634.3 802.1,640.2 802.4,641.6 802.8,638.8 803.1,639.4 803.4,636.9 803.7,636.6 804.1,639.7 804.4,639.4 804.7,639.2 805.1,638.9 805.4,634.2 805.7,637.5 806.1,638.4 806.4,638.6 806.7,637.5 807.0,640.3 807.4,636.8 807.7,638.9 808.0,639.3 808.4,638.8 808.7,638.9 809.0,638.7 809.4,640.6 809.7,638.5 810.0,639.1 810.3,638.9 810.7,638.7 811.0,638.7 811.3,638.9 811.7,639.0 812.0,638.8 812.3,638.8 812.7,638.9 813.0,638.5 813.3,638.2 813.6,639.5 814.0,639.3 814.3,639.4 814.6,643.5 815.0,640.5 815.3,637.7 815.6,639.2 816.0,638.8 816.3,639.0 816.6,638.7 816.9,638.3 817.3,638.2 817.6,638.1 817.9,638.3 818.3,638.9 818.6,638.4 818.9,639.2 819.3,638.9 819.6,638.8 819.9,638.2 820.2,638.4 820.6,638.7 820.9,638.2 821.2,638.8 821.6,638.8 821.9,638.6 822.2,637.9 822.6,638.5 822.9,638.0 823.2,638.9 823.5,639.2 823.9,638.2 824.2,638.4 824.5,638.2 824.9,638.6 825.2,638.4 825.5,639.0 825.9,637.8 826.2,638.3 826.5,638.4 826.8,638.2 827.2,637.8 827.5,637.6 827.8,638.4 828.2,638.0 828.5,637.6 828.8,637.8 829.2,638.7 829.5,638.4 829.8,638.2 830.1,638.4 830.5,638.2 830.8,638.3 831.1,637.7 831.5,636.5 831.8,638.7 832.1,638.2 832.5,638.3 832.8,638.5 833.1,637.3 833.4,638.3 833.8,638.4 834.1,638.2 834.4,638.2 834.8,637.7 835.1,638.3 835.4,638.3 835.8,638.2 836.1,638.3 836.4,638.6 836.7,638.1 837.1,637.2 837.4,638.1 837.7,637.4 838.1,638.3 838.4,638.0 838.7,638.0 839.1,638.2 839.4,637.6 839.7,637.7 840.0,638.2 840.4,638.2 840.7,637.9 841.0,638.0 841.4,637.9 841.7,643.0 842.0,637.9 842.4,638.0 842.7,637.9 843.0,637.6 843.3,637.2 843.7,637.7 844.0,639.8 844.3,637.8 844.7,638.3 845.0,638.0 845.3,638.5 845.7,637.8 846.0,637.5 846.3,637.2 846.6,643.0 847.0,638.2 847.3,637.2 847.6,638.1 848.0,637.7 848.3,638.0 848.6,637.7 849.0,638.1 849.3,636.2 849.6,638.1 849.9,638.2 850.3,634.9 850.6,637.9 850.9,638.1 851.3,638.3 851.6,638.5 851.9,638.2 852.3,641.9 852.6,638.2 852.9,638.3 853.2,638.1 853.6,637.7 853.9,638.3 854.2,637.6 854.6,638.2 854.9,637.7 855.2,637.7 855.6,637.9 855.9,637.7 856.2,638.0 856.5,635.3 856.9,637.9 857.2,638.1 857.5,638.4 857.9,638.0 858.2,637.9 858.5,638.2 858.9,638.2 859.2,637.5 859.5,638.0 859.8,637.7 860.2,638.5 860.5,637.7 860.8,637.8 861.2,638.1 861.5,637.2 861.8,637.4 862.2,637.8 862.5,637.9 862.8,637.5 863.1,638.0 863.5,638.2 863.8,640.6 864.1,639.1 864.5,639.3 864.8,643.0 865.1,643.1 865.5,636.7 865.8,638.2 866.1,640.8 866.4,643.1 866.8,637.6 867.1,638.6 867.4,638.2 867.8,638.5 868.1,638.6 868.4,638.3 868.8,638.4 869.1,637.7 869.4,637.8 869.7,638.2 870.1,638.1 870.4,638.1 870.7,638.1 871.1,637.7 871.4,638.6 871.7,638.3 872.1,638.5 872.4,637.5 872.7,637.8 873.0,637.6 873.4,637.8 873.7,638.2 874.0,638.3 874.4,638.5 874.7,637.9 875.0,642.9 875.4,637.9 875.7,638.4 876.0,638.6 876.3,640.8 876.7,638.1 877.0,638.4 877.3,638.7 877.7,637.8 878.0,637.7 878.3,637.8 878.7,638.4 879.0,638.5 879.3,638.3 879.6,638.5 880.0,638.5 880.3,633.4 880.6,638.8 881.0,637.6 881.3,637.8 881.6,637.9 882.0,638.4 882.3,637.6 882.6,638.9 882.9,638.9 883.3,638.9 883.6,637.7 883.9,638.5 884.3,638.4 884.6,638.8 884.9,638.3 885.3,638.4 885.6,637.9 885.9,638.7 886.2,639.0 886.6,638.4 886.9,637.7 887.2,638.2 887.6,638.0 887.9,638.6 888.2,638.3 888.6,638.7 888.9,638.6 889.2,638.6 889.5,638.9 889.9,638.1 890.2,638.9 890.5,638.4 890.9,638.2 891.2,638.9 891.5,638.7 891.9,638.9 892.2,639.0 892.5,638.5 892.8,638.9 893.2,638.2 893.5,638.7 893.8,638.5 894.2,638.3 894.5,638.1 894.8,638.8 895.2,638.1 895.5,638.5 895.8,639.2 896.1,639.2 896.5,638.9 896.8,638.6 897.1,639.3 897.5,638.7 897.8,638.8 898.1,635.6 898.5,639.3 898.8,641.2 899.1,638.1 899.4,638.3 899.8,638.3 900.1,638.6 900.4,639.0 900.8,638.7 901.1,638.5 901.4,639.0 901.8,638.5 902.1,639.2 902.4,639.0 902.7,639.4 903.1,639.0 903.4,639.0 903.7,639.1 904.1,639.1 904.4,638.2 904.7,639.1 905.1,639.3 905.4,638.7 905.7,639.4 906.0,638.9 906.4,639.8 906.7,638.8 907.0,639.0 907.4,639.8 907.7,639.5 908.0,638.8 908.4,639.5 908.7,639.1 909.0,638.8 909.3,639.7 909.7,639.2 910.0,639.9 910.3,639.2 910.7,639.3 911.0,639.6 911.3,639.0 911.7,634.9 912.0,638.6 912.3,639.6 912.6,639.8 913.0,639.7 913.3,639.4 913.6,638.9 914.0,639.9 914.3,639.2 914.6,639.3 915.0,640.0 915.3,639.7 915.6,639.7 915.9,640.2 916.3,644.2 916.6,636.9 916.9,641.0 917.3,636.7 917.6,638.2 917.9,639.6 918.3,638.5 918.6,639.6 918.9,643.8 919.2,638.8 919.6,639.1 919.9,640.0 920.2,640.1 920.6,639.1 920.9,638.5 921.2,639.9 921.6,644.3 921.9,639.4 922.2,639.5 922.5,639.6 922.9,639.8 923.2,639.3 923.5,638.6 923.9,641.7 924.2,639.4 924.5,636.6 924.9,635.0 925.2,635.0 925.5,640.5 925.8,640.4 926.2,641.0 926.5,644.7 926.8,639.9 927.2,639.2 927.5,641.3 927.8,642.1 928.2,641.5 928.5,640.4 928.8,644.8 929.1,642.0 929.5,640.8 929.8,639.7 930.1,640.9 930.5,640.0 930.8,639.9 931.1,640.0 931.5,639.7 931.8,639.4 932.1,640.5" stroke="#ff0000" stroke-width="1.3" fill="none" stroke-linejoin="miter"/>
<path d="M125.6,739.8 126.6,739.9 127.6,740.0 128.6,740.1 129.6,740.2 130.6,740.3 131.6,740.3 132.6,740.3 133.6,740.4 134.6,740.4 135.6,740.4 136.6,740.4 137.6,740.4 138.6,740.4 139.6,740.3 140.6,740.0 141.6,739.6 142.6,739.1 143.6,738.6 144.6,738.1 145.6,737.6 146.6,737.1 147.6,736.6 148.6,736.3 149.6,736.1 150.6,736.0 151.6,735.9 152.6,735.8 153.6,735.7 154.6,735.6 155.6,735.6 156.6,735.5 157.6,735.5 158.6,735.4 159.6,735.4 160.6,735.3 161.6,735.3 162.6,735.2 163.6,735.1 164.6,735.0 165.6,734.9 166.6,734.7 167.6,734.3 168.6,733.6 169.6,732.6 170.6,731.5 171.6,730.2 172.6,729.0 173.6,727.7 174.6,726.7 175.6,725.8 176.6,725.0 177.6,724.3 178.6,723.6 179.6,722.9 180.6,722.3 181.6,721.6 182.6,721.0 183.6,720.2 184.6,719.4 185.6,718.6 186.6,717.6 187.6,716.4 188.6,714.9 189.6,713.3 190.6,711.5 191.6,709.8 192.6,708.1 193.6,706.6 194.6,705.4 195.6,704.5 196.6,703.7 197.6,703.1 198.6,702.5 199.6,702.0 200.6,701.4 201.6,700.8 202.6,700.1 203.6,699.2 204.6,697.9 205.6,696.2 206.6,694.3 207.6,692.2 208.6,690.1 209.6,688.2 210.6,686.6 211.6,685.4 212.6,684.7 213.6,684.2 214.6,683.8 215.6,683.5 216.6,683.2 217.6,683.0 218.6,682.7 219.6,682.4 220.6,682.1 221.6,681.7 222.6,681.3 223.6,680.7 224.6,679.7 225.6,678.4 226.6,676.7 227.6,674.9 228.6,673.2 229.6,671.5 230.6,670.0 231.6,668.9 232.6,668.2 233.6,668.1 234.6,668.4 235.6,668.8 236.6,669.5 237.6,670.3 238.6,671.1 239.6,672.1 240.6,673.0 241.6,674.0 242.6,674.8 243.6,675.6 244.6,676.2 245.6,676.9 246.6,677.6 247.6,678.4 248.6,679.3 249.6,680.4 250.6,681.9 251.6,683.6 252.6,685.4 253.6,687.4 254.6,689.3 255.6,691.1 256.6,692.6 257.6,694.0 258.6,695.2 259.6,696.5 260.6,697.7 261.6,698.8 262.6,699.8 263.6,700.7 264.6,701.4 265.6,702.0 266.6,702.4 267.6,702.8 268.6,703.2 269.6,703.6 270.6,703.9 271.6,704.1 272.6,704.3 273.6,704.4 274.6,704.4 275.6,704.4 276.6,704.3 277.6,704.1 278.6,703.9 279.6,703.7 280.6,703.5 281.6,703.2 282.6,703.0 283.6,702.7 284.6,702.4 285.6,702.1 286.6,701.8 287.6,701.4 288.6,701.0 289.6,700.5 290.6,699.9 291.6,699.4 292.6,698.8 293.6,698.3 294.6,697.7 295.6,697.2 296.6,696.7 297.6,696.1 298.6,695.6 299.6,695.1 300.6,694.5 301.6,693.9 302.6,693.4 303.6,692.8 304.6,692.3 305.6,691.8 306.6,691.4 307.6,691.0 308.6,690.7 309.6,690.3 310.6,690.0 311.6,689.6 312.6,689.3 313.6,689.0 314.6,688.7 315.6,688.5 316.6,688.3 317.6,688.1 318.6,688.0 319.6,688.0 320.6,688.0 321.6,688.0 322.6,688.1 323.6,688.2 324.6,688.2 325.6,688.3 326.6,688.4 327.6,688.5 328.6,688.7 329.6,688.8 330.6,688.9 331.6,689.1 332.6,689.2 333.6,689.4 334.6,689.6 335.6,689.8 336.6,690.0 337.6,690.3 338.6,690.6 339.6,690.9 340.6,691.3 341.6,691.6 342.6,692.0 343.6,692.3 344.6,692.6 345.6,693.0 346.6,693.3 347.6,693.5 348.6,693.8 349.6,694.0 350.6,694.2 351.6,694.5 352.6,694.7 353.6,694.9 354.6,695.1 355.6,695.3 356.6,695.5 357.6,695.7 358.6,695.9 359.6,696.1 360.6,696.3 361.6,696.5 362.6,696.6 363.6,696.8 364.6,697.0 365.6,697.1 366.6,697.2 367.6,697.4 368.6,697.5 369.6,697.6 370.6,697.7 371.6,697.8 372.6,697.9 373.6,697.9 374.6,698.0 375.6,698.1 376.6,698.2 377.6,698.3 378.6,698.4 379.6,698.5 380.6,698.6 381.6,698.7 382.6,698.9 383.6,699.0 384.6,699.2 385.6,699.3 386.6,699.5 387.6,699.7 388.6,700.0 389.6,700.4 390.6,700.9 391.6,701.3 392.6,701.9 393.6,702.5 394.6,703.1 395.6,703.7 396.6,704.3 397.6,704.9 398.6,705.5 399.6,706.1 400.6,706.7 401.6,707.4 402.6,708.1 403.6,708.8 404.6,709.5 405.6,710.3 406.6,711.0 407.6,711.8 408.6,712.5 409.6,713.2 410.6,713.9 411.6,714.6 412.6,715.3 413.6,715.9 414.6,716.5 415.6,717.2 416.6,717.8 417.6,718.4 418.6,719.0 419.6,719.6 420.6,720.2 421.6,720.7 422.6,721.3 423.6,721.9 424.6,722.5 425.6,723.1 426.6,723.7 427.6,724.3 428.6,725.0 429.6,725.6 430.6,726.3 431.6,727.0 432.6,727.6 433.6,728.3 434.6,729.0 435.6,729.6 436.6,730.2 437.6,730.7 438.6,731.3 439.6,731.7 440.6,732.1 441.6,732.5 442.6,732.9 443.6,733.2 444.6,733.6 445.6,733.9 446.6,734.2 447.6,734.5 448.6,734.8 449.6,735.1 450.6,735.3 451.6,735.5 452.6,735.7 453.6,735.8 454.6,735.9 455.6,735.9 456.6,736.0 457.6,736.0 458.6,736.0 459.6,736.1 460.6,736.1 461.6,736.1 462.6,736.2 463.6,736.2 464.6,736.2 465.6,736.2 466.6,736.3 467.6,736.3 468.6,736.3 469.6,736.3 470.6,736.3 471.6,736.3 472.6,736.4 473.6,736.4 474.6,736.4 475.6,736.4 476.6,736.4 477.6,736.4 478.6,736.4 479.6,736.5 480.6,736.5 481.6,736.5 482.6,736.5 483.6,736.5 484.6,736.5 485.6,736.5 486.6,736.5 487.6,736.6 488.6,736.6 489.6,736.6 490.6,736.6 491.6,736.6 492.6,736.6 493.6,736.6 494.6,736.6 495.6,736.6 496.6,736.6 497.6,736.7 498.6,736.7 499.6,736.7 500.6,736.7 501.6,736.7 502.6,736.7 503.6,736.7 504.6,736.7 505.6,736.7 506.6,736.7 507.6,736.7 508.6,736.7 509.6,736.7 510.6,736.8 511.6,736.8 512.6,736.8 513.6,736.8 514.6,736.8 515.6,736.8 516.6,736.8 517.6,736.8 518.6,736.8 519.6,736.8 520.6,736.8 521.6,736.8 522.6,736.8 523.6,736.8 524.6,736.9 525.6,736.9 526.6,736.9 527.6,736.9 528.6,736.9 529.6,736.9 530.6,736.9 531.6,736.9 532.6,736.9 533.6,736.9 534.6,736.9 535.6,737.0 536.6,737.0 537.6,737.0 538.6,737.0 539.6,737.0 540.6,737.0 541.6,737.0 542.6,737.0 543.6,737.0 544.6,737.1 545.6,737.1 546.6,737.1 547.6,737.1 548.6,737.1 549.6,737.1 550.6,737.1 551.6,737.2 552.6,737.2 553.6,737.2 554.6,737.2 555.6,737.2 556.6,737.2 557.6,737.2 558.6,737.3 559.6,737.3 560.6,737.3 561.6,737.3 562.6,737.3 563.6,737.3 564.6,737.4 565.6,737.4 566.6,737.4 567.6,737.4 568.6,737.4 569.6,737.5 570.6,737.5 571.6,737.5 572.6,737.5 573.6,737.5 574.6,737.5 575.6,737.6 576.6,737.6 577.6,737.6 578.6,737.6 579.6,737.6 580.6,737.6 581.6,737.7 582.6,737.7 583.6,737.7 584.6,737.7 585.6,737.7 586.6,737.7 587.6,737.8 588.6,737.8 589.6,737.8 590.6,737.8 591.6,737.8 592.6,737.8 593.6,737.9 594.6,737.9 595.6,737.9 596.6,737.9 597.6,737.9 598.6,737.9 599.6,737.9 600.6,738.0 601.6,738.0 602.6,738.0 603.6,738.0 604.6,738.0 605.6,738.0 606.6,738.1 607.6,738.1 608.6,738.1 609.6,738.1 610.6,738.1 611.6,738.1 612.6,738.2 613.6,738.2 614.6,738.2 615.6,738.2 616.6,738.2 617.6,738.2 618.6,738.3 619.6,738.3 620.6,738.3 621.6,738.3 622.6,738.3 623.6,738.3 624.6,738.4 625.6,738.4 626.6,738.4 627.6,738.4 628.6,738.4 629.6,738.4 630.6,738.4 631.6,738.5 632.6,738.5 633.6,738.5 634.6,738.5 635.6,738.5 636.6,738.5 637.6,738.5 638.6,738.6 639.6,738.6 640.6,738.6 641.6,738.6 642.6,738.6 643.6,738.6 644.6,738.6 645.6,738.6 646.6,738.6 647.6,738.6 648.6,738.7 649.6,738.7 650.6,738.7 651.6,738.7 652.6,738.7 653.6,738.7 654.6,738.7 655.6,738.7 656.6,738.7 657.6,738.7 658.6,738.7 659.6,738.7 660.6,738.7 661.6,738.7 662.6,738.7 663.6,738.7 664.6,738.7 665.6,738.7 666.6,738.7 667.6,738.7 668.6,738.7 669.6,738.7 670.6,738.7 671.6,738.7 672.6,738.7 673.6,738.7 674.6,738.7 675.6,738.7 676.6,738.7 677.6,738.7 678.6,738.7 679.6,738.7 680.6,738.7 681.6,738.7 682.6,738.7 683.6,738.7 684.6,738.7 685.6,738.7 686.6,738.7 687.6,738.7 688.6,738.7 689.6,738.7 690.6,738.7 691.6,738.7 692.6,738.7 693.6,738.7 694.6,738.7 695.6,738.7 696.6,738.7 697.6,738.7 698.6,738.7 699.6,738.7 700.6,738.7 701.6,738.7 702.6,738.7 703.6,738.7 704.6,738.7 705.6,738.7 706.6,738.7 707.6,738.7 708.6,738.7 709.6,738.7 710.6,738.7 711.6,738.7 712.6,738.7 713.6,738.7 714.6,738.7 715.6,738.7 716.6,738.7 717.6,738.7 718.6,738.7 719.6,738.7 720.6,738.7 721.6,738.7 722.6,738.7 723.6,738.7 724.6,738.7 725.6,738.7 726.6,738.7 727.6,738.7 728.6,738.7 729.6,738.7 730.6,738.7 731.6,738.7 732.6,738.7 733.6,738.7 734.6,738.7 735.6,738.7 736.6,738.7 737.6,738.7 738.6,738.7 739.6,738.7 740.6,738.7 741.6,738.7 742.6,738.7 743.6,738.7 744.6,738.7 745.6,738.7 746.6,738.7 747.6,738.7 748.6,738.7 749.6,738.7 750.6,738.7 751.6,738.7 752.6,738.7 753.6,738.7 754.6,738.7 755.6,738.7 756.6,738.7 757.6,738.7 758.6,738.7 759.6,738.6 760.6,738.6 761.6,738.6 762.6,738.6 763.6,738.6 764.6,738.6 765.6,738.6 766.6,738.6 767.6,738.6 768.6,738.6 769.6,738.6 770.6,738.6 771.6,738.6 772.6,738.6 773.6,738.6 774.6,738.6 775.6,738.6 776.6,738.6 777.6,738.6 778.6,738.6 779.6,738.6 780.6,738.6 781.6,738.6 782.6,738.6 783.6,738.6 784.6,738.6 785.6,738.6 786.6,738.6 787.6,738.6 788.6,738.6 789.6,738.6 790.6,738.6 791.6,738.6 792.6,738.6 793.6,738.6 794.6,738.6 795.6,738.6 796.6,738.6 797.6,738.6 798.6,738.6 799.6,738.6 800.6,738.6 801.6,738.6 802.6,738.6 803.6,738.5 804.6,738.5 805.6,738.5 806.6,738.5 807.6,738.5 808.6,738.5 809.6,738.5 810.6,738.5 811.6,738.5 812.6,738.5 813.6,738.5 814.6,738.5 815.6,738.5 816.6,738.5 817.6,738.5 818.6,738.5 819.6,738.5 820.6,738.5 821.6,738.5 822.6,738.5 823.6,738.5 824.6,738.5 825.6,738.5 826.6,738.5 827.6,738.5 828.6,738.5 829.6,738.4 830.6,738.4 831.6,738.4 832.6,738.4 833.6,738.4 834.6,738.4 835.6,738.4 836.6,738.4 837.6,738.4 838.6,738.4 839.6,738.4 840.6,738.4 841.6,738.4 842.6,738.4 843.6,738.4 844.6,738.4 845.6,738.4 846.6,738.4 847.6,738.4 848.6,738.4 849.6,738.3 850.6,738.3 851.6,738.3 852.6,738.3 853.6,738.3 854.6,738.3 855.6,738.3 856.6,738.3 857.6,738.3 858.6,738.3 859.6,738.3 860.6,738.3 861.6,738.3 862.6,738.3 863.6,738.3 864.6,738.3 865.6,738.3 866.6,738.2 867.6,738.2 868.6,738.2 869.6,738.2 870.6,738.2 871.6,738.2 872.6,738.2 873.6,738.2 874.6,738.2 875.6,738.2 876.6,738.2 877.6,738.2 878.6,738.2 879.6,738.2 880.6,738.1 881.6,738.1 882.6,738.1 883.6,738.1 884.6,738.1 885.6,738.1 886.6,738.1 887.6,738.1 888.6,738.1 889.6,738.1 890.6,738.1 891.6,738.1 892.6,738.1 893.6,738.0 894.6,738.0 895.6,738.0 896.6,738.0 897.6,738.0 898.6,738.0 899.6,738.0 900.6,738.0 901.6,738.0 902.6,738.0 903.6,738.0 904.6,737.9 905.6,737.9 906.6,737.9 907.6,737.9 908.6,737.9 909.6,737.9 910.6,737.9 911.6,737.9 912.6,737.9 913.6,737.9 914.6,737.9 915.6,737.8 916.6,737.8 917.6,737.8 918.6,737.8 919.6,737.8 920.6,737.8 921.6,737.8 922.6,737.8 923.6,737.8 924.6,737.7 925.6,737.7 926.6,737.7 927.6,737.7 928.6,737.7 929.6,737.7 930.6,737.7 931.6,737.7 932.6,737.7 933.6,737.6 934.6,737.6 935.6,737.6 936.6,737.6" stroke="#0000ff" stroke-width="3.2" fill="none" stroke-linejoin="round"/>
<path d="M125.6,740.2 126.1,740.8 126.6,739.6 127.1,737.8 127.6,740.2 128.1,738.9 128.6,740.7 129.1,739.8 129.6,740.1 130.1,743.1 130.6,741.1 131.1,741.4 131.6,740.4 132.1,742.4 132.6,737.1 133.1,741.8 133.6,740.1 134.1,739.6 134.6,740.5 135.1,742.6 135.6,740.0 136.1,742.1 136.6,740.3 137.1,743.1 137.6,741.2 138.1,741.2 138.6,740.1 139.1,740.5 139.6,739.7 140.1,740.9 140.6,739.5 141.1,740.1 141.6,738.2 142.1,738.9 142.6,738.9 143.1,738.1 143.6,738.2 144.1,737.7 144.6,736.3 145.1,737.6 145.6,737.5 146.1,737.2 146.6,738.3 147.1,735.5 147.6,736.9 148.1,736.2 148.6,733.9 149.1,736.9 149.6,735.9 150.1,738.8 150.6,736.7 151.1,737.2 151.6,736.0 152.1,735.4 152.6,736.9 153.1,735.5 153.6,737.0 154.1,737.4 154.6,735.3 155.1,736.2 155.6,736.5 156.1,739.4 156.6,735.4 157.1,734.6 157.6,734.8 158.1,735.2 158.6,733.5 159.1,735.9 159.6,733.2 160.1,735.3 160.6,739.1 161.1,735.1 161.6,734.4 162.1,735.0 162.6,734.6 163.1,734.3 163.6,734.5 164.1,734.6 164.6,734.9 165.1,734.4 165.6,735.2 166.1,735.9 166.6,732.0 167.1,734.5 167.6,734.5 168.1,734.0 168.6,733.9 169.1,732.6 169.6,733.8 170.1,734.2 170.6,732.1 171.1,731.0 171.6,730.8 172.1,729.8 172.6,729.6 173.1,728.3 173.6,727.4 174.1,727.2 174.6,726.7 175.1,725.7 175.6,726.0 176.1,725.8 176.6,724.6 177.1,723.9 177.6,724.4 178.1,723.9 178.6,724.0 179.1,723.7 179.6,720.7 180.1,722.0 180.6,723.2 181.1,722.3 181.6,722.2 182.1,721.8 182.6,721.1 183.1,720.3 183.6,719.9 184.1,720.0 184.6,719.6 185.1,720.1 185.6,718.7 186.1,718.2 186.6,715.7 187.1,717.2 187.6,717.1 188.1,715.8 188.6,714.9 189.1,713.9 189.6,715.0 190.1,712.2 190.6,711.9 191.1,710.6 191.6,709.8 192.1,707.6 192.6,708.6 193.1,707.3 193.6,707.7 194.1,707.3 194.6,706.3 195.1,705.2 195.6,703.8 196.1,703.5 196.6,703.5 197.1,702.7 197.6,704.7 198.1,702.7 198.6,702.9 199.1,701.4 199.6,702.1 200.1,700.5 200.6,700.9 201.1,701.8 201.6,700.7 202.1,701.1 202.6,700.1 203.1,699.7 203.6,699.1 204.1,698.5 204.6,698.0 205.1,696.9 205.6,696.7 206.1,695.0 206.6,694.5 207.1,693.1 207.6,692.2 208.1,690.6 208.6,690.9 209.1,688.9 209.6,689.3 210.1,686.8 210.6,686.3 211.1,686.1 211.6,685.5 212.1,685.9 212.6,683.3 213.1,684.4 213.6,684.3 214.1,684.1 214.6,683.9 215.1,683.5 215.6,686.6 216.1,682.5 216.6,682.8 217.1,683.0 217.6,685.2 218.1,682.2 218.6,682.0 219.1,682.6 219.6,682.5 220.1,682.2 220.6,682.2 221.1,682.6 221.6,682.4 222.1,682.6 222.6,681.1 223.1,681.3 223.6,680.9 224.1,679.8 224.6,679.7 225.1,679.0 225.6,679.8 226.1,677.7 226.6,677.2 227.1,675.8 227.6,675.4 228.1,674.8 228.6,672.6 229.1,672.4 229.6,671.6 230.1,670.7 230.6,670.6 231.1,669.3 231.6,669.7 232.1,669.2 232.6,668.6 233.1,667.2 233.6,667.7 234.1,667.9 234.6,670.3 235.1,669.7 235.6,665.9 236.1,670.7 236.6,669.7 237.1,671.2 237.6,670.0 238.1,670.1 238.6,671.2 239.1,672.5 239.6,672.1 240.1,672.6 240.6,671.7 241.1,673.3 241.6,674.1 242.1,674.4 242.6,674.9 243.1,675.8 243.6,676.3 244.1,674.9 244.6,675.9 245.1,675.6 245.6,677.3 246.1,677.4 246.6,677.5 247.1,678.9 247.6,680.4 248.1,678.8 248.6,679.6 249.1,680.2 249.6,680.7 250.1,680.9 250.6,683.8 251.1,682.2 251.6,683.5 252.1,685.5 252.6,685.3 253.1,686.8 253.6,687.3 254.1,688.3 254.6,689.7 255.1,689.9 255.6,691.0 256.1,692.2 256.6,690.8 257.1,693.1 257.6,694.1 258.1,694.2 258.6,695.4 259.1,696.0 259.6,696.8 260.1,697.3 260.6,697.8 261.1,697.8 261.6,698.6 262.1,698.6 262.6,699.4 263.1,701.8 263.6,698.7 264.1,701.3 264.6,701.3 265.1,703.4 265.6,701.8 266.1,701.8 266.6,702.2 267.1,702.9 267.6,705.8 268.1,702.0 268.6,702.8 269.1,703.9 269.6,705.1 270.1,704.3 270.6,704.1 271.1,702.6 271.6,700.4 272.1,704.9 272.6,704.3 273.1,703.3 273.6,706.7 274.1,703.6 274.6,706.6 275.1,704.6 275.6,704.3 276.1,704.5 276.6,706.3 277.1,703.8 277.6,705.3 278.1,704.9 278.6,704.2 279.1,703.2 279.6,703.9 280.1,703.7 280.6,702.4 281.1,704.2 281.6,703.2 282.1,699.9 282.6,703.0 283.1,702.0 283.6,701.6 284.1,704.5 284.6,701.5 285.1,700.8 285.6,701.9 286.1,700.7 286.6,701.4 287.1,700.7 287.6,702.0 288.1,701.0 288.6,700.2 289.1,699.4 289.6,700.9 290.1,703.3 290.6,700.1 291.1,699.0 291.6,699.6 292.1,701.2 292.6,698.0 293.1,698.4 293.6,697.8 294.1,697.1 294.6,698.0 295.1,697.7 295.6,694.3 296.1,698.2 296.6,697.5 297.1,696.3 297.6,696.3 298.1,696.0 298.6,695.5 299.1,694.5 299.6,696.1 300.1,694.9 300.6,692.4 301.1,692.4 301.6,694.2 302.1,693.5 302.6,693.6 303.1,692.6 303.6,692.4 304.1,691.2 304.6,693.2 305.1,690.8 305.6,692.3 306.1,690.4 306.6,690.7 307.1,689.2 307.6,690.4 308.1,687.3 308.6,688.3 309.1,690.9 309.6,690.5 310.1,689.4 310.6,690.2 311.1,691.1 311.6,689.8 312.1,689.7 312.6,689.6 313.1,689.3 313.6,689.3 314.1,689.7 314.6,689.3 315.1,689.3 315.6,690.8 316.1,690.0 316.6,688.2 317.1,688.0 317.6,690.3 318.1,688.1 318.6,688.2 319.1,687.7 319.6,689.0 320.1,687.9 320.6,685.5 321.1,686.2 321.6,687.3 322.1,692.4 322.6,687.3 323.1,687.7 323.6,690.0 324.1,688.0 324.6,687.6 325.1,688.5 325.6,688.1 326.1,685.3 326.6,687.0 327.1,688.5 327.6,688.9 328.1,688.9 328.6,689.3 329.1,688.9 329.6,686.7 330.1,688.0 330.6,689.7 331.1,688.6 331.6,690.9 332.1,689.4 332.6,688.9 333.1,688.6 333.6,689.5 334.1,687.7 334.6,688.2 335.1,689.6 335.6,689.4 336.1,688.8 336.6,689.6 337.1,688.5 337.6,690.8 338.1,690.6 338.6,691.6 339.1,691.2 339.6,690.8 340.1,692.5 340.6,692.0 341.1,691.4 341.6,691.8 342.1,692.4 342.6,692.7 343.1,691.2 343.6,692.6 344.1,691.4 344.6,695.1 345.1,694.5 345.6,693.5 346.1,690.1 346.6,694.3 347.1,692.3 347.6,693.4 348.1,693.5 348.6,691.3 349.1,694.1 349.6,695.1 350.1,692.8 350.6,697.3 351.1,695.9 351.6,694.9 352.1,693.1 352.6,695.0 353.1,694.6 353.6,695.0 354.1,696.9 354.6,695.5 355.1,693.5 355.6,694.1 356.1,694.8 356.6,694.0 357.1,696.2 357.6,694.6 358.1,696.3 358.6,697.5 359.1,693.7 359.6,696.5 360.1,696.2 360.6,699.5 361.1,696.2 361.6,695.6 362.1,697.1 362.6,693.5 363.1,697.8 363.6,697.2 364.1,696.0 364.6,697.5 365.1,697.0 365.6,699.2 366.1,698.5 366.6,698.1 367.1,698.4 367.6,698.5 368.1,698.5 368.6,698.4 369.1,697.7 369.6,698.0 370.1,699.1 370.6,696.5 371.1,700.3 371.6,700.3 372.1,698.1 372.6,695.8 373.1,697.5 373.6,697.9 374.1,698.3 374.6,699.0 375.1,700.4 375.6,695.3 376.1,698.3 376.6,697.1 377.1,699.8 377.6,700.5 378.1,702.0 378.6,700.5 379.1,695.4 379.6,697.3 380.1,696.9 380.6,698.3 381.1,698.2 381.6,697.9 382.1,699.4 382.6,700.1 383.1,703.2 383.6,695.7 384.1,698.9 384.6,698.6 385.1,701.5 385.6,696.2 386.1,701.3 386.6,696.0 387.1,697.5 387.6,698.8 388.1,700.0 388.6,699.4 389.1,701.2 389.6,697.3 390.1,700.7 390.6,701.0 391.1,701.4 391.6,700.7 392.1,701.5 392.6,702.0 393.1,700.3 393.6,702.4 394.1,702.6 394.6,701.2 395.1,703.2 395.6,703.9 396.1,702.7 396.6,703.1 397.1,703.6 397.6,705.4 398.1,704.5 398.6,705.5 399.1,701.5 399.6,705.8 400.1,706.0 400.6,707.3 401.1,708.5 401.6,708.1 402.1,707.0 402.6,706.9 403.1,707.7 403.6,706.7 404.1,710.1 404.6,705.4 405.1,710.2 405.6,708.6 406.1,708.7 406.6,710.8 407.1,712.3 407.6,711.5 408.1,712.8 408.6,712.0 409.1,713.6 409.6,712.6 410.1,714.1 410.6,718.3 411.1,714.1 411.6,712.3 412.1,715.5 412.6,717.2 413.1,711.1 413.6,718.3 414.1,715.2 414.6,716.7 415.1,719.1 415.6,716.1 416.1,717.5 416.6,717.5 417.1,717.6 417.6,718.2 418.1,718.5 418.6,720.0 419.1,719.6 419.6,721.5 420.1,719.3 420.6,720.2 421.1,720.6 421.6,720.5 422.1,722.3 422.6,722.1 423.1,718.6 423.6,722.3 424.1,720.6 424.6,720.9 425.1,723.6 425.6,723.1 426.1,722.6 426.6,728.4 427.1,725.7 427.6,725.4 428.1,724.3 428.6,723.2 429.1,725.1 429.6,727.3 430.1,725.3 430.6,726.3 431.1,722.3 431.6,725.4 432.1,727.2 432.6,726.7 433.1,730.6 433.6,727.8 434.1,726.6 434.6,727.2 435.1,726.7 435.6,728.6 436.1,732.9 436.6,732.0 437.1,725.6 437.6,730.9 438.1,730.8 438.6,730.3 439.1,732.4 439.6,733.3 440.1,732.8 440.6,732.6 441.1,730.2 441.6,731.9 442.1,731.6 442.6,734.5 443.1,732.9 443.6,733.9 444.1,735.0 444.6,730.2 445.1,734.9 445.6,734.3 446.1,734.2 446.6,735.6 447.1,733.7 447.6,733.3 448.1,733.7 448.6,733.9 449.1,735.8 449.6,735.8 450.1,733.0 450.6,734.4 451.1,740.1 451.6,735.4 452.1,735.2 452.6,735.3 453.1,740.9 453.6,733.5 454.1,737.7 454.6,734.8 455.1,738.9 455.6,735.4 456.1,735.8 456.6,736.3 457.1,736.0 457.6,734.5 458.1,736.8 458.6,736.6 459.1,731.4 459.6,738.1 460.1,734.0 460.6,735.5 461.1,736.4 461.6,736.9 462.1,736.1 462.6,738.1 463.1,737.0 463.6,735.2 464.1,740.0 464.6,731.0 465.1,737.6 465.6,737.4 466.1,737.4 466.6,736.1 467.1,733.9 467.6,738.8 468.1,737.1 468.6,737.0 469.1,736.2 469.6,735.9 470.1,737.1 470.6,731.8 471.1,734.6 471.6,737.0 472.1,737.0 472.6,737.4 473.1,737.8 473.6,736.6 474.1,730.3 474.6,741.7 475.1,737.3 475.6,733.2 476.1,739.7 476.6,739.4 477.1,734.5 477.6,734.0 478.1,737.9 478.6,735.3 479.1,733.4 479.6,737.5 480.1,740.0 480.6,732.5 481.1,733.7 481.6,739.7 482.1,738.2 482.6,734.3 483.1,735.3 483.6,737.6 484.1,736.2 484.6,735.6 485.1,729.6 485.6,737.5 486.1,733.2 486.6,734.7 487.1,731.7 487.6,733.1 488.1,734.8 488.6,740.4 489.1,736.1 489.6,737.0 490.1,733.4 490.6,730.0 491.1,735.3 491.6,735.3 492.1,730.6 492.6,736.8 493.1,735.7 493.6,737.2 494.1,737.5 494.6,734.4 495.1,739.3 495.6,736.5 496.1,737.4 496.6,736.5 497.1,736.6 497.6,735.0 498.1,729.7 498.6,736.9 499.1,734.5 499.6,729.7 500.1,737.7 500.6,737.3 501.1,737.2 501.6,739.2 502.1,740.9 502.6,736.7 503.1,734.8 503.6,735.0 504.1,736.7 504.6,737.1 505.1,733.8 505.6,737.3 506.1,736.2 506.6,737.9 507.1,740.5 507.6,732.7 508.1,736.5 508.6,743.7 509.1,737.7 509.6,739.9 510.1,737.9 510.6,743.7 511.1,736.9 511.6,737.4 512.1,737.0 512.6,736.6 513.1,735.8 513.6,736.9 514.1,735.2 514.6,737.1 515.1,737.0 515.6,732.7 516.1,737.8 516.6,736.2 517.1,732.9 517.6,737.1 518.1,737.1 518.6,739.9 519.1,736.7 519.6,734.2 520.1,736.4 520.6,737.8 521.1,738.1 521.6,734.5 522.1,739.9 522.6,741.0 523.1,738.7 523.6,735.4 524.1,732.4 524.6,735.6 525.1,738.7 525.6,735.6 526.1,739.2 526.6,736.1 527.1,737.0 527.6,736.3 528.1,734.5 528.6,738.5 529.1,734.7 529.6,741.5 530.1,735.3 530.6,736.6 531.1,738.5 531.6,738.5 532.1,738.1 532.6,739.7 533.1,730.0 533.6,732.7 534.1,735.5 534.6,732.6 535.1,737.6 535.6,738.9 536.1,736.6 536.6,740.7 537.1,738.0 537.6,737.1 538.1,735.0 538.6,736.9 539.1,737.6 539.6,732.8 540.1,738.0 540.6,736.9 541.1,737.5 541.6,735.4 542.1,737.5 542.6,737.3 543.1,737.6 543.6,737.2 544.1,735.8 544.6,736.4 545.1,734.1 545.6,735.3 546.1,737.3 546.6,734.9 547.1,738.8 547.6,738.2 548.1,737.3 548.6,733.2 549.1,739.0 549.6,737.8 550.1,737.3 550.6,736.1 551.1,736.8 551.6,736.0 552.1,735.7 552.6,739.6 553.1,740.7 553.6,735.8 554.1,737.2 554.6,733.9 555.1,735.5 555.6,737.1 556.1,741.8 556.6,737.9 557.1,737.8 557.6,739.6 558.1,737.2 558.6,736.3 559.1,736.0 559.6,737.6 560.1,740.1 560.6,736.3 561.1,742.1 561.6,737.5 562.1,738.0 562.6,734.9 563.1,735.7 563.6,736.3 564.1,738.7 564.6,734.2 565.1,737.5 565.6,738.3 566.1,740.3 566.6,737.2 567.1,732.3 567.6,736.9 568.1,736.9 568.6,736.5 569.1,738.6 569.6,736.8 570.1,738.7 570.6,737.6 571.1,735.3 571.6,738.2 572.1,737.4 572.6,736.0 573.1,737.8 573.6,738.3 574.1,735.5 574.6,737.8 575.1,735.1 575.6,737.6 576.1,737.2 576.6,736.1 577.1,736.2 577.6,737.1 578.1,738.3 578.6,741.7 579.1,737.3 579.6,735.7 580.1,736.2 580.6,739.7 581.1,736.0 581.6,732.2 582.1,737.0 582.6,738.2 583.1,736.2 583.6,741.3 584.1,737.6 584.6,738.0 585.1,735.5 585.6,737.2 586.1,739.9 586.6,736.4 587.1,734.1 587.6,737.5 588.1,735.7 588.6,739.7 589.1,736.3 589.6,737.7 590.1,731.6 590.6,734.1 591.1,737.7 591.6,735.0 592.1,736.8 592.6,738.8 593.1,736.3 593.6,740.2 594.1,739.3 594.6,741.3 595.1,736.8 595.6,737.2 596.1,738.1 596.6,734.7 597.1,739.2 597.6,739.2 598.1,734.2 598.6,737.8 599.1,738.2 599.6,737.0 600.1,737.0 600.6,738.2 601.1,735.6 601.6,737.2 602.1,736.8 602.6,737.9 603.1,740.7 603.6,738.9 604.1,736.0 604.6,737.2 605.1,735.4 605.6,738.5 606.1,741.7 606.6,741.1 607.1,739.4 607.6,738.8 608.1,739.5 608.6,741.2 609.1,736.7 609.6,741.0 610.1,740.4 610.6,738.9 611.1,739.5 611.6,741.4 612.1,738.2 612.6,736.2 613.1,742.4 613.6,745.1 614.1,736.2 614.6,737.4 615.1,738.4 615.6,736.3 616.1,737.9 616.6,742.9 617.1,741.1 617.6,738.0 618.1,739.5 618.6,740.8 619.1,742.1 619.6,739.3 620.1,743.9 620.6,737.8 621.1,737.4 621.6,738.3 622.1,738.2 622.6,738.9 623.1,739.1 623.6,736.2 624.1,741.6 624.6,739.2 625.1,742.9 625.6,737.4 626.1,739.9 626.6,737.2 627.1,735.0 627.6,739.1 628.1,737.0 628.6,739.1 629.1,738.4 629.6,739.9 630.1,741.8 630.6,731.7 631.1,739.5 631.6,738.2 632.1,732.7 632.6,739.1 633.1,741.7 633.6,739.2 634.1,741.7 634.6,739.3 635.1,739.2 635.6,741.1 636.1,738.4 636.6,737.3 637.1,739.2 637.6,743.7 638.1,741.4 638.6,737.5 639.1,739.8 639.6,733.3 640.1,739.0 640.6,737.0 641.1,740.6 641.6,739.4 642.1,734.9 642.6,738.0 643.1,745.5 643.6,736.5 644.1,741.4 644.6,734.7 645.1,738.6 645.6,738.3 646.1,739.7 646.6,740.4 647.1,740.6 647.6,734.7 648.1,740.7 648.6,739.5 649.1,738.4 649.6,739.6 650.1,737.5 650.6,741.3 651.1,744.2 651.6,739.8 652.1,736.4 652.6,739.5 653.1,740.6 653.6,739.1 654.1,738.3 654.6,734.1 655.1,732.1 655.6,738.4 656.1,736.6 656.6,735.9 657.1,742.4 657.6,741.5 658.1,739.2 658.6,738.4 659.1,739.8 659.6,738.7 660.1,739.0 660.6,737.7 661.1,737.9 661.6,738.1 662.1,739.1 662.6,743.3 663.1,738.4 663.6,739.1 664.1,739.7 664.6,738.5 665.1,738.0 665.6,740.9 666.1,741.4 666.6,739.5 667.1,738.9 667.6,741.8 668.1,738.9 668.6,740.4 669.1,738.5 669.6,735.6 670.1,739.0 670.6,740.5 671.1,739.6 671.6,740.3 672.1,745.3 672.6,740.4 673.1,738.6 673.6,735.9 674.1,741.4 674.6,738.1 675.1,736.5 675.6,738.9 676.1,740.6 676.6,737.9 677.1,734.4 677.6,738.5 678.1,739.9 678.6,739.5 679.1,738.9 679.6,735.7 680.1,740.1 680.6,736.1 681.1,734.6 681.6,738.4 682.1,743.2 682.6,739.4 683.1,742.2 683.6,739.3 684.1,738.4 684.6,740.0 685.1,739.2 685.6,739.1 686.1,737.6 686.6,739.5 687.1,740.5 687.6,739.4 688.1,737.7 688.6,741.5 689.1,737.2 689.6,738.1 690.1,739.6 690.6,738.8 691.1,737.8 691.6,740.5 692.1,740.7 692.6,738.7 693.1,740.4 693.6,736.2 694.1,733.2 694.6,736.8 695.1,735.1 695.6,738.6 696.1,736.4 696.6,742.3 697.1,738.7 697.6,738.6 698.1,740.3 698.6,736.0 699.1,737.6 699.6,738.9 700.1,738.8 700.6,739.3 701.1,737.8 701.6,735.7 702.1,742.2 702.6,741.3 703.1,737.5 703.6,741.3 704.1,731.7 704.6,740.5 705.1,740.1 705.6,739.2 706.1,738.9 706.6,739.0 707.1,740.1 707.6,741.1 708.1,737.8 708.6,737.1 709.1,738.0 709.6,737.5 710.1,738.4 710.6,741.5 711.1,740.6 711.6,740.5 712.1,738.5 712.6,738.2 713.1,741.1 713.6,735.0 714.1,738.0 714.6,742.5 715.1,738.2 715.6,739.9 716.1,738.3 716.6,736.7 717.1,741.4 717.6,739.4 718.1,740.4 718.6,737.8 719.1,742.7 719.6,738.5 720.1,732.9 720.6,738.7 721.1,739.2 721.6,745.2 722.1,740.8 722.6,738.2 723.1,738.9 723.6,738.4 724.1,740.7 724.6,738.3 725.1,732.4 725.6,743.0 726.1,739.2 726.6,740.1 727.1,737.1 727.6,739.3 728.1,740.0 728.6,738.8 729.1,736.2 729.6,737.9 730.1,737.2 730.6,739.2 731.1,737.2 731.6,745.1 732.1,736.2 732.6,740.1 733.1,745.0 733.6,737.7 734.1,739.5 734.6,735.7 735.1,737.8 735.6,738.3 736.1,742.9 736.6,739.1 737.1,739.5 737.6,739.0 738.1,737.3 738.6,745.6 739.1,737.3 739.6,737.8 740.1,740.0 740.6,741.8 741.1,740.6 741.6,734.5 742.1,738.1 742.6,739.3 743.1,739.6 743.6,742.9 744.1,736.6 744.6,738.6 745.1,739.8 745.6,738.7 746.1,742.6 746.6,741.0 747.1,743.8 747.6,736.1 748.1,740.1 748.6,741.3 749.1,736.9 749.6,739.0 750.1,737.4 750.6,736.3 751.1,740.3 751.6,737.4 752.1,739.9 752.6,732.7 753.1,739.3 753.6,734.7 754.1,738.9 754.6,735.5 755.1,740.9 755.6,737.0 756.1,742.8 756.6,738.7 757.1,736.2 757.6,739.3 758.1,739.7 758.6,735.8 759.1,738.9 759.6,737.5 760.1,735.2 760.6,738.1 761.1,737.7 761.6,739.4 762.1,743.6 762.6,736.8 763.1,740.0 763.6,739.0 764.1,739.2 764.6,739.4 765.1,735.2 765.6,742.4 766.1,738.5 766.6,737.9 767.1,736.2 767.6,737.0 768.1,740.2 768.6,738.6 769.1,738.6 769.6,737.2 770.1,738.3 770.6,739.2 771.1,739.7 771.6,739.5 772.1,738.5 772.6,741.1 773.1,743.2 773.6,741.1 774.1,738.4 774.6,740.1 775.1,742.1 775.6,740.1 776.1,737.8 776.6,738.7 777.1,739.2 777.6,737.1 778.1,738.5 778.6,745.6 779.1,738.7 779.6,738.6 780.1,738.5 780.6,739.0 781.1,732.8 781.6,737.8 782.1,739.6 782.6,738.5 783.1,735.6 783.6,737.3 784.1,736.5 784.6,741.2 785.1,731.6 785.6,737.8 786.1,738.8 786.6,741.9 787.1,738.8 787.6,738.3 788.1,738.3 788.6,739.1 789.1,742.1 789.6,737.3 790.1,737.5 790.6,737.8 791.1,739.6 791.6,738.2 792.1,740.0 792.6,736.8 793.1,741.3 793.6,739.1 794.1,737.8 794.6,741.6 795.1,740.0 795.6,739.8 796.1,737.5 796.6,736.8 797.1,740.2 797.6,736.8 798.1,739.4 798.6,737.2 799.1,742.9 799.6,739.8 800.1,745.5 800.6,738.8 801.1,739.2 801.6,739.8 802.1,742.8 802.6,738.6 803.1,739.6 803.6,740.1 804.1,739.8 804.6,739.8 805.1,733.8 805.6,739.1 806.1,735.7 806.6,736.5 807.1,738.7 807.6,741.5 808.1,738.5 808.6,740.3 809.1,735.0 809.6,738.4 810.1,739.2 810.6,737.8 811.1,739.1 811.6,741.0 812.1,738.5 812.6,738.3 813.1,737.9 813.6,738.6 814.1,739.0 814.6,734.7 815.1,740.6 815.6,734.9 816.1,737.6 816.6,739.2 817.1,735.5 817.6,739.8 818.1,735.2 818.6,738.1 819.1,741.5 819.6,740.2 820.1,736.0 820.6,739.0 821.1,732.9 821.6,735.2 822.1,736.4 822.6,740.3 823.1,737.0 823.6,735.9 824.1,745.4 824.6,740.1 825.1,738.2 825.6,741.1 826.1,738.3 826.6,737.7 827.1,741.5 827.6,732.8 828.1,739.8 828.6,738.1 829.1,738.5 829.6,739.6 830.1,740.9 830.6,737.4 831.1,740.9 831.6,739.6 832.1,738.7 832.6,739.0 833.1,737.2 833.6,736.6 834.1,735.6 834.6,738.8 835.1,745.4 835.6,742.6 836.1,739.1 836.6,743.9 837.1,740.2 837.6,736.0 838.1,737.4 838.6,742.4 839.1,738.2 839.6,738.1 840.1,738.2 840.6,737.1 841.1,739.4 841.6,742.0 842.1,737.2 842.6,735.3 843.1,736.9 843.6,740.0 844.1,736.2 844.6,745.3 845.1,735.6 845.6,738.8 846.1,738.3 846.6,736.6 847.1,738.6 847.6,738.3 848.1,738.0 848.6,738.5 849.1,739.2 849.6,734.5 850.1,734.4 850.6,737.5 851.1,740.5 851.6,738.1 852.1,736.7 852.6,736.0 853.1,744.1 853.6,738.1 854.1,745.3 854.6,738.7 855.1,739.2 855.6,740.0 856.1,738.4 856.6,742.1 857.1,736.7 857.6,740.3 858.1,739.9 858.6,745.1 859.1,738.0 859.6,738.8 860.1,735.8 860.6,738.5 861.1,743.8 861.6,741.8 862.1,738.0 862.6,737.0 863.1,738.3 863.6,738.5 864.1,737.7 864.6,735.3 865.1,741.0 865.6,738.6 866.1,739.4 866.6,740.7 867.1,736.5 867.6,739.7 868.1,740.4 868.6,734.3 869.1,732.7 869.6,742.8 870.1,739.0 870.6,738.0 871.1,737.9 871.6,743.7 872.1,739.7 872.6,739.9 873.1,737.6 873.6,738.5 874.1,738.2 874.6,738.5 875.1,733.2 875.6,738.3 876.1,739.2 876.6,738.3 877.1,739.9 877.6,738.5 878.1,743.5 878.6,737.4 879.1,736.0 879.6,745.1 880.1,738.7 880.6,739.3 881.1,739.6 881.6,735.9 882.1,735.7 882.6,736.5 883.1,731.5 883.6,737.3 884.1,737.4 884.6,737.2 885.1,736.0 885.6,738.8 886.1,733.7 886.6,737.0 887.1,739.9 887.6,740.6 888.1,737.3 888.6,739.3 889.1,739.8 889.6,739.4 890.1,738.8 890.6,737.2 891.1,738.0 891.6,739.3 892.1,741.3 892.6,738.8 893.1,742.6 893.6,735.8 894.1,734.4 894.6,738.4 895.1,737.3 895.6,738.3 896.1,735.0 896.6,736.1 897.1,739.5 897.6,745.0 898.1,739.6 898.6,738.7 899.1,736.3 899.6,735.8 900.1,738.3 900.6,735.3 901.1,739.5 901.6,737.2 902.1,741.4 902.6,738.2 903.1,737.9 903.6,738.3 904.1,736.7 904.6,737.6 905.1,740.4 905.6,738.0 906.1,731.4 906.6,738.7 907.1,743.5 907.6,738.4 908.1,734.6 908.6,732.6 909.1,738.8 909.6,738.1 910.1,735.4 910.6,735.4 911.1,737.9 911.6,738.1 912.1,735.3 912.6,739.3 913.1,737.5 913.6,738.3 914.1,734.9 914.6,738.8 915.1,740.6 915.6,737.1 916.1,736.6 916.6,736.3 917.1,743.9 917.6,739.0 918.1,738.6 918.6,738.4 919.1,738.2 919.6,737.9 920.1,738.8 920.6,743.8 921.1,738.5 921.6,739.2 922.1,733.4 922.6,738.0 923.1,733.6 923.6,738.4 924.1,738.7 924.6,738.8 925.1,736.0 925.6,743.0 926.1,738.0 926.6,738.1 927.1,737.7 927.6,738.5 928.1,738.4 928.6,736.5 929.1,737.3 929.6,738.2 930.1,740.4 930.6,737.4 931.1,737.7 931.6,732.7 932.1,736.5 932.6,738.8 933.1,737.1 933.6,739.9 934.1,737.9 934.6,735.1 935.1,740.5 935.6,737.9 936.1,740.1 936.6,736.5 937.1,737.9" stroke="#0000ff" stroke-width="1.8" fill="none" stroke-linejoin="miter"/>
<path d="M125.6,825.0 126.6,824.9 127.6,824.7 128.6,824.6 129.6,824.4 130.6,824.3 131.6,824.1 132.6,824.0 133.6,823.9 134.6,823.7 135.6,823.6 136.6,823.5 137.6,823.4 138.6,823.2 139.6,823.1 140.6,823.0 141.6,822.9 142.6,822.8 143.6,822.7 144.6,822.6 145.6,822.5 146.6,822.4 147.6,822.3 148.6,822.2 149.6,822.1 150.6,822.0 151.6,822.0 152.6,821.9 153.6,821.8 154.6,821.7 155.6,821.6 156.6,821.5 157.6,821.5 158.6,821.4 159.6,821.3 160.6,821.2 161.6,821.0 162.6,820.9 163.6,820.8 164.6,820.7 165.6,820.6 166.6,820.4 167.6,820.1 168.6,819.5 169.6,818.9 170.6,818.2 171.6,817.8 172.6,817.5 173.6,817.3 174.6,817.1 175.6,816.9 176.6,816.7 177.6,816.6 178.6,816.6 179.6,816.9 180.6,817.6 181.6,818.2 182.6,818.6 183.6,818.8 184.6,818.9 185.6,819.0 186.6,819.1 187.6,819.2 188.6,819.3 189.6,819.3 190.6,819.3 191.6,819.3 192.6,819.3 193.6,819.2 194.6,819.2 195.6,819.1 196.6,819.1 197.6,819.1 198.6,819.0 199.6,819.0 200.6,818.9 201.6,818.9 202.6,818.9 203.6,819.0 204.6,819.5 205.6,820.1 206.6,820.6 207.6,821.0 208.6,821.3 209.6,821.5 210.6,821.8 211.6,822.0 212.6,822.2 213.6,822.4 214.6,822.6 215.6,822.7 216.6,822.9 217.6,823.0 218.6,823.1 219.6,823.2 220.6,823.3 221.6,823.4 222.6,823.5 223.6,823.5 224.6,823.6 225.6,823.6 226.6,823.7 227.6,823.7 228.6,823.8 229.6,823.8 230.6,823.8 231.6,823.9 232.6,823.9 233.6,824.0 234.6,824.0 235.6,824.0 236.6,824.0 237.6,824.1 238.6,824.1 239.6,824.1 240.6,824.1 241.6,824.2 242.6,824.2 243.6,824.2 244.6,824.2 245.6,824.2 246.6,824.2 247.6,824.2 248.6,824.2 249.6,824.2 250.6,824.3 251.6,824.3 252.6,824.3 253.6,824.3 254.6,824.3 255.6,824.3 256.6,824.3 257.6,824.3 258.6,824.3 259.6,824.3 260.6,824.3 261.6,824.3 262.6,824.3 263.6,824.3 264.6,824.3 265.6,824.3 266.6,824.3 267.6,824.4 268.6,824.4 269.6,824.4 270.6,824.4 271.6,824.4 272.6,824.4 273.6,824.4 274.6,824.4 275.6,824.4 276.6,824.4 277.6,824.4 278.6,824.4 279.6,824.4 280.6,824.4 281.6,824.4 282.6,824.4 283.6,824.4 284.6,824.4 285.6,824.4 286.6,824.4 287.6,824.4 288.6,824.4 289.6,824.4 290.6,824.4 291.6,824.4 292.6,824.4 293.6,824.5 294.6,824.5 295.6,824.5 296.6,824.5 297.6,824.5 298.6,824.5 299.6,824.5 300.6,824.5 301.6,824.5 302.6,824.5 303.6,824.5 304.6,824.5 305.6,824.5 306.6,824.5 307.6,824.5 308.6,824.5 309.6,824.5 310.6,824.5 311.6,824.5 312.6,824.5 313.6,824.5 314.6,824.5 315.6,824.5 316.6,824.5 317.6,824.5 318.6,824.5 319.6,824.5 320.6,824.5 321.6,824.5 322.6,824.6 323.6,824.6 324.6,824.6 325.6,824.6 326.6,824.6 327.6,824.6 328.6,824.6 329.6,824.6 330.6,824.6 331.6,824.6 332.6,824.6 333.6,824.6 334.6,824.6 335.6,824.6 336.6,824.6 337.6,824.6 338.6,824.6 339.6,824.6 340.6,824.6 341.6,824.6 342.6,824.6 343.6,824.6 344.6,824.6 345.6,824.6 346.6,824.6 347.6,824.6 348.6,824.6 349.6,824.6 350.6,824.6 351.6,824.6 352.6,824.6 353.6,824.6 354.6,824.6 355.6,824.6 356.6,824.6 357.6,824.7 358.6,824.7 359.6,824.7 360.6,824.7 361.6,824.7 362.6,824.7 363.6,824.7 364.6,824.7 365.6,824.7 366.6,824.7 367.6,824.7 368.6,824.7 369.6,824.7 370.6,824.7 371.6,824.7 372.6,824.7 373.6,824.7 374.6,824.7 375.6,824.7 376.6,824.7 377.6,824.7 378.6,824.7 379.6,824.7 380.6,824.7 381.6,824.7 382.6,824.7 383.6,824.7 384.6,824.7 385.6,824.7 386.6,824.7 387.6,824.7 388.6,824.7 389.6,824.7 390.6,824.7 391.6,824.7 392.6,824.7 393.6,824.7 394.6,824.7 395.6,824.7 396.6,824.7 397.6,824.7 398.6,824.7 399.6,824.7 400.6,824.7 401.6,824.7 402.6,824.7 403.6,824.7 404.6,824.7 405.6,824.7 406.6,824.7 407.6,824.7 408.6,824.7 409.6,824.7 410.6,824.7 411.6,824.7 412.6,824.6 413.6,824.6 414.6,824.6 415.6,824.6 416.6,824.6 417.6,824.6 418.6,824.6 419.6,824.6 420.6,824.6 421.6,824.6 422.6,824.5 423.6,824.5 424.6,824.5 425.6,824.5 426.6,824.5 427.6,824.5 428.6,824.5 429.6,824.4 430.6,824.4 431.6,824.4 432.6,824.4 433.6,824.4 434.6,824.4 435.6,824.3 436.6,824.3 437.6,824.3 438.6,824.3 439.6,824.3 440.6,824.2 441.6,824.2 442.6,824.2 443.6,824.2 444.6,824.2 445.6,824.1 446.6,824.1 447.6,824.1 448.6,824.1 449.6,824.1 450.6,824.0 451.6,824.0 452.6,824.0 453.6,824.0 454.6,823.9 455.6,823.9 456.6,823.9 457.6,823.9 458.6,823.9 459.6,823.8 460.6,823.8 461.6,823.8 462.6,823.8 463.6,823.7 464.6,823.7 465.6,823.7 466.6,823.7 467.6,823.7 468.6,823.6 469.6,823.6 470.6,823.6 471.6,823.6 472.6,823.5 473.6,823.5 474.6,823.5 475.6,823.5 476.6,823.4 477.6,823.4 478.6,823.4 479.6,823.4 480.6,823.4 481.6,823.3 482.6,823.3 483.6,823.3 484.6,823.3 485.6,823.2 486.6,823.2 487.6,823.2 488.6,823.2 489.6,823.2 490.6,823.1 491.6,823.1 492.6,823.1 493.6,823.1 494.6,823.1 495.6,823.1 496.6,823.0 497.6,823.0 498.6,823.0 499.6,823.0 500.6,823.0 501.6,822.9 502.6,822.9 503.6,822.9 504.6,822.9 505.6,822.9 506.6,822.9 507.6,822.9 508.6,822.8 509.6,822.8 510.6,822.8 511.6,822.8 512.6,822.8 513.6,822.8 514.6,822.8 515.6,822.8 516.6,822.7 517.6,822.7 518.6,822.7 519.6,822.7 520.6,822.7 521.6,822.7 522.6,822.7 523.6,822.7 524.6,822.6 525.6,822.6 526.6,822.6 527.6,822.6 528.6,822.6 529.6,822.6 530.6,822.6 531.6,822.6 532.6,822.6 533.6,822.5 534.6,822.5 535.6,822.5 536.6,822.5 537.6,822.5 538.6,822.5 539.6,822.5 540.6,822.5 541.6,822.5 542.6,822.4 543.6,822.4 544.6,822.4 545.6,822.4 546.6,822.4 547.6,822.4 548.6,822.4 549.6,822.4 550.6,822.4 551.6,822.4 552.6,822.3 553.6,822.3 554.6,822.3 555.6,822.3 556.6,822.3 557.6,822.3 558.6,822.3 559.6,822.3 560.6,822.3 561.6,822.3 562.6,822.3 563.6,822.2 564.6,822.2 565.6,822.2 566.6,822.2 567.6,822.2 568.6,822.2 569.6,822.2 570.6,822.2 571.6,822.2 572.6,822.2 573.6,822.1 574.6,822.1 575.6,822.1 576.6,822.1 577.6,822.1 578.6,822.1 579.6,822.1 580.6,822.1 581.6,822.1 582.6,822.1 583.6,822.1 584.6,822.0 585.6,822.0 586.6,822.0 587.6,822.0 588.6,822.0 589.6,822.0 590.6,822.0 591.6,822.0 592.6,822.0 593.6,822.0 594.6,822.0 595.6,822.0 596.6,821.9 597.6,821.9 598.6,821.9 599.6,821.9 600.6,821.9 601.6,821.9 602.6,821.9 603.6,821.9 604.6,821.9 605.6,821.9 606.6,821.9 607.6,821.9 608.6,821.8 609.6,821.8 610.6,821.8 611.6,821.8 612.6,821.8 613.6,821.8 614.6,821.8 615.6,821.8 616.6,821.8 617.6,821.8 618.6,821.8 619.6,821.7 620.6,821.7 621.6,821.7 622.6,821.7 623.6,821.7 624.6,821.7 625.6,821.7 626.6,821.7 627.6,821.7 628.6,821.7 629.6,821.7 630.6,821.7 631.6,821.6 632.6,821.6 633.6,821.6 634.6,821.6 635.6,821.6 636.6,821.6 637.6,821.6 638.6,821.6 639.6,821.6 640.6,821.6 641.6,821.6 642.6,821.6 643.6,821.5 644.6,821.5 645.6,821.5 646.6,821.5 647.6,821.5 648.6,821.5 649.6,821.5 650.6,821.5 651.6,821.5 652.6,821.5 653.6,821.5 654.6,821.4 655.6,821.4 656.6,821.4 657.6,821.4 658.6,821.4 659.6,821.4 660.6,821.4 661.6,821.4 662.6,821.4 663.6,821.4 664.6,821.4 665.6,821.3 666.6,821.3 667.6,821.3 668.6,821.3 669.6,821.3 670.6,821.3 671.6,821.3 672.6,821.3 673.6,821.3 674.6,821.3 675.6,821.3 676.6,821.2 677.6,821.2 678.6,821.2 679.6,821.2 680.6,821.2 681.6,821.2 682.6,821.2 683.6,821.2 684.6,821.2 685.6,821.2 686.6,821.1 687.6,821.1 688.6,821.1 689.6,821.1 690.6,821.1 691.6,821.1 692.6,821.1 693.6,821.1 694.6,821.1 695.6,821.1 696.6,821.0 697.6,821.0 698.6,821.0 699.6,821.0 700.6,821.0 701.6,821.0 702.6,821.0 703.6,821.0 704.6,821.0 705.6,821.0 706.6,821.0 707.6,820.9 708.6,820.9 709.6,820.9 710.6,820.9 711.6,820.9 712.6,820.9 713.6,820.9 714.6,820.9 715.6,820.9 716.6,820.9 717.6,820.8 718.6,820.8 719.6,820.8 720.6,820.8 721.6,820.8 722.6,820.8 723.6,820.8 724.6,820.8 725.6,820.8 726.6,820.8 727.6,820.8 728.6,820.7 729.6,820.7 730.6,820.7 731.6,820.7 732.6,820.7 733.6,820.7 734.6,820.7 735.6,820.7 736.6,820.7 737.6,820.7 738.6,820.7 739.6,820.6 740.6,820.6 741.6,820.6 742.6,820.6 743.6,820.6 744.6,820.6 745.6,820.6 746.6,820.6 747.6,820.6 748.6,820.6 749.6,820.6 750.6,820.6 751.6,820.6 752.6,820.5 753.6,820.5 754.6,820.5 755.6,820.5 756.6,820.5 757.6,820.5 758.6,820.5 759.6,820.5 760.6,820.5 761.6,820.5 762.6,820.5 763.6,820.5 764.6,820.5 765.6,820.5 766.6,820.5 767.6,820.4 768.6,820.4 769.6,820.4 770.6,820.4 771.6,820.4 772.6,820.4 773.6,820.4 774.6,820.4 775.6,820.4 776.6,820.4 777.6,820.4 778.6,820.4 779.6,820.4 780.6,820.4 781.6,820.4 782.6,820.4 783.6,820.4 784.6,820.4 785.6,820.4 786.6,820.4 787.6,820.3 788.6,820.3 789.6,820.3 790.6,820.3 791.6,820.3 792.6,820.3 793.6,820.3 794.6,820.3 795.6,820.3 796.6,820.3 797.6,820.3 798.6,820.3 799.6,820.3 800.6,820.3 801.6,820.3 802.6,820.3 803.6,820.3 804.6,820.3 805.6,820.3 806.6,820.3 807.6,820.3 808.6,820.3 809.6,820.3 810.6,820.3 811.6,820.3 812.6,820.3 813.6,820.3 814.6,820.3 815.6,820.3 816.6,820.3 817.6,820.3 818.6,820.3 819.6,820.2 820.6,820.2 821.6,820.2 822.6,820.2 823.6,820.2 824.6,820.2 825.6,820.2 826.6,820.2 827.6,820.2 828.6,820.2 829.6,820.2 830.6,820.2 831.6,820.2 832.6,820.2 833.6,820.2 834.6,820.2 835.6,820.2 836.6,820.2 837.6,820.2 838.6,820.2 839.6,820.2 840.6,820.2 841.6,820.2 842.6,820.2 843.6,820.2 844.6,820.2 845.6,820.2 846.6,820.2 847.6,820.1 848.6,820.1 849.6,820.1 850.6,820.1 851.6,820.1 852.6,820.1 853.6,820.1 854.6,820.1 855.6,820.1 856.6,820.1 857.6,820.1 858.6,820.1 859.6,820.1 860.6,820.1 861.6,820.1 862.6,820.1 863.6,820.0 864.6,820.0 865.6,820.0 866.6,820.0 867.6,820.0 868.6,820.0 869.6,820.0 870.6,820.0 871.6,820.0 872.6,820.0 873.6,819.9 874.6,819.9 875.6,819.9 876.6,819.9 877.6,819.9 878.6,819.9 879.6,819.9 880.6,819.9 881.6,819.8 882.6,819.8 883.6,819.8 884.6,819.8 885.6,819.8 886.6,819.8 887.6,819.8 888.6,819.7 889.6,819.7 890.6,819.7 891.6,819.7 892.6,819.7 893.6,819.7 894.6,819.6 895.6,819.6 896.6,819.6 897.6,819.6 898.6,819.6 899.6,819.6 900.6,819.5 901.6,819.5 902.6,819.5 903.6,819.5 904.6,819.5 905.6,819.5 906.6,819.4 907.6,819.4 908.6,819.4 909.6,819.4 910.6,819.4 911.6,819.3 912.6,819.3 913.6,819.3 914.6,819.3 915.6,819.3 916.6,819.2 917.6,819.2 918.6,819.2 919.6,819.2 920.6,819.2 921.6,819.1 922.6,819.1 923.6,819.1 924.6,819.1 925.6,819.1 926.6,819.0 927.6,819.0 928.6,819.0 929.6,819.0 930.6,819.0 931.6,818.9 932.6,818.9 933.6,818.9 934.6,818.9 935.6,818.8 936.6,818.8" stroke="#000000" stroke-width="3.4" fill="none" stroke-linejoin="round"/>
<path d="M125.6,825.2 126.1,824.7 126.6,822.6 127.1,824.3 127.6,825.1 128.1,820.4 128.6,826.4 129.1,826.2 129.6,821.2 130.1,825.6 130.6,822.9 131.1,824.9 131.6,822.6 132.1,824.7 132.6,827.4 133.1,828.7 133.6,824.4 134.1,822.3 134.6,823.4 135.1,822.9 135.6,826.9 136.1,822.9 136.6,823.7 137.1,823.1 137.6,821.6 138.1,822.9 138.6,824.3 139.1,822.9 139.6,823.7 140.1,823.3 140.6,820.4 141.1,823.8 141.6,823.5 142.1,824.1 142.6,821.1 143.1,826.8 143.6,824.5 144.1,824.9 144.6,826.2 145.1,822.9 145.6,822.1 146.1,819.4 146.6,823.1 147.1,822.8 147.6,822.8 148.1,816.6 148.6,825.3 149.1,821.8 149.6,819.4 150.1,827.5 150.6,822.9 151.1,822.1 151.6,823.0 152.1,823.2 152.6,822.4 153.1,821.3 153.6,821.2 154.1,822.3 154.6,820.0 155.1,820.4 155.6,820.3 156.1,821.5 156.6,821.9 157.1,821.5 157.6,822.5 158.1,824.8 158.6,818.9 159.1,819.7 159.6,822.3 160.1,820.7 160.6,821.7 161.1,818.5 161.6,819.3 162.1,822.9 162.6,820.7 163.1,818.9 163.6,823.4 164.1,819.7 164.6,818.2 165.1,820.7 165.6,820.8 166.1,818.1 166.6,820.9 167.1,819.7 167.6,824.6 168.1,819.5 168.6,820.1 169.1,819.5 169.6,819.1 170.1,816.4 170.6,819.2 171.1,817.5 171.6,817.9 172.1,819.2 172.6,818.0 173.1,816.4 173.6,821.9 174.1,818.3 174.6,817.1 175.1,817.8 175.6,816.2 176.1,816.3 176.6,816.5 177.1,816.0 177.6,816.0 178.1,817.2 178.6,816.5 179.1,816.0 179.6,817.2 180.1,817.0 180.6,817.5 181.1,818.4 181.6,818.5 182.1,822.6 182.6,818.1 183.1,819.0 183.6,820.1 184.1,818.3 184.6,818.4 185.1,819.0 185.6,821.8 186.1,816.1 186.6,819.6 187.1,819.0 187.6,820.0 188.1,822.3 188.6,814.9 189.1,821.0 189.6,824.9 190.1,818.8 190.6,820.2 191.1,822.8 191.6,819.3 192.1,818.7 192.6,825.1 193.1,819.0 193.6,818.7 194.1,820.0 194.6,819.2 195.1,816.2 195.6,815.9 196.1,819.3 196.6,818.9 197.1,819.6 197.6,818.2 198.1,819.5 198.6,821.6 199.1,816.2 199.6,818.0 200.1,821.0 200.6,819.6 201.1,817.1 201.6,819.3 202.1,819.8 202.6,818.9 203.1,818.8 203.6,814.2 204.1,818.0 204.6,820.4 205.1,819.7 205.6,819.8 206.1,822.6 206.6,819.4 207.1,817.3 207.6,820.7 208.1,818.9 208.6,820.0 209.1,822.2 209.6,819.5 210.1,823.5 210.6,821.4 211.1,820.4 211.6,821.2 212.1,820.7 212.6,822.1 213.1,821.5 213.6,823.7 214.1,823.8 214.6,822.6 215.1,821.9 215.6,823.2 216.1,820.5 216.6,824.7 217.1,822.1 217.6,817.6 218.1,822.1 218.6,821.4 219.1,820.7 219.6,821.9 220.1,823.8 220.6,822.8 221.1,823.2 221.6,820.3 222.1,823.6 222.6,821.6 223.1,823.2 223.6,821.3 224.1,823.9 224.6,821.1 225.1,819.9 225.6,823.0 226.1,823.7 226.6,822.5 227.1,822.4 227.6,821.2 228.1,824.1 228.6,822.6 229.1,822.4 229.6,821.5 230.1,822.0 230.6,825.3 231.1,820.9 231.6,821.1 232.1,823.7 232.6,823.8 233.1,820.5 233.6,823.9 234.1,818.1 234.6,822.9 235.1,822.0 235.6,823.0 236.1,826.3 236.6,820.0 237.1,824.1 237.6,824.4 238.1,823.0 238.6,823.1 239.1,822.7 239.6,824.2 240.1,825.4 240.6,823.7 241.1,824.1 241.6,826.7 242.1,824.0 242.6,826.1 243.1,827.6 243.6,824.0 244.1,822.7 244.6,824.3 245.1,821.1 245.6,821.6 246.1,827.0 246.6,823.5 247.1,824.8 247.6,823.5 248.1,822.1 248.6,828.4 249.1,825.8 249.6,824.4 250.1,827.7 250.6,824.3 251.1,823.9 251.6,824.3 252.1,826.1 252.6,823.9 253.1,823.6 253.6,823.7 254.1,824.2 254.6,826.7 255.1,824.0 255.6,824.5 256.1,825.0 256.6,827.2 257.1,824.8 257.6,824.0 258.1,824.4 258.6,823.7 259.1,825.8 259.6,824.7 260.1,828.9 260.6,824.8 261.1,825.0 261.6,823.4 262.1,825.1 262.6,829.4 263.1,824.0 263.6,820.5 264.1,825.8 264.6,824.1 265.1,825.1 265.6,826.4 266.1,826.2 266.6,826.6 267.1,824.5 267.6,824.2 268.1,826.3 268.6,825.5 269.1,824.5 269.6,825.9 270.1,824.7 270.6,824.3 271.1,825.9 271.6,824.5 272.1,826.1 272.6,823.1 273.1,821.0 273.6,823.5 274.1,824.1 274.6,824.4 275.1,827.3 275.6,821.5 276.1,823.3 276.6,825.3 277.1,827.5 277.6,823.1 278.1,822.2 278.6,825.5 279.1,825.7 279.6,825.3 280.1,827.3 280.6,822.3 281.1,825.0 281.6,825.1 282.1,825.2 282.6,826.8 283.1,819.9 283.6,828.1 284.1,824.6 284.6,822.8 285.1,824.7 285.6,823.1 286.1,825.8 286.6,825.7 287.1,825.5 287.6,825.4 288.1,825.8 288.6,823.4 289.1,824.4 289.6,827.8 290.1,824.9 290.6,824.6 291.1,825.9 291.6,823.5 292.1,826.3 292.6,824.6 293.1,826.2 293.6,823.6 294.1,822.2 294.6,829.0 295.1,824.6 295.6,826.1 296.1,823.0 296.6,824.6 297.1,824.2 297.6,823.2 298.1,820.3 298.6,824.2 299.1,823.5 299.6,824.9 300.1,822.8 300.6,825.3 301.1,824.1 301.6,825.6 302.1,820.4 302.6,824.0 303.1,824.4 303.6,825.5 304.1,824.4 304.6,823.4 305.1,824.6 305.6,826.0 306.1,822.6 306.6,823.1 307.1,820.6 307.6,826.7 308.1,825.3 308.6,825.3 309.1,826.2 309.6,826.2 310.1,825.0 310.6,827.0 311.1,826.2 311.6,822.2 312.1,828.9 312.6,824.8 313.1,825.2 313.6,825.9 314.1,828.5 314.6,827.5 315.1,819.5 315.6,823.8 316.1,826.2 316.6,822.4 317.1,822.4 317.6,822.6 318.1,824.9 318.6,826.1 319.1,826.1 319.6,822.7 320.1,823.8 320.6,826.6 321.1,824.7 321.6,822.9 322.1,824.2 322.6,827.8 323.1,829.9 323.6,826.1 324.1,824.1 324.6,824.5 325.1,823.6 325.6,825.8 326.1,825.0 326.6,822.9 327.1,827.1 327.6,826.8 328.1,827.1 328.6,826.9 329.1,824.4 329.6,824.2 330.1,825.8 330.6,822.9 331.1,819.1 331.6,825.3 332.1,824.5 332.6,830.6 333.1,824.4 333.6,825.8 334.1,823.6 334.6,825.2 335.1,824.4 335.6,826.1 336.1,826.2 336.6,825.5 337.1,821.7 337.6,826.2 338.1,824.4 338.6,822.2 339.1,824.9 339.6,825.8 340.1,825.3 340.6,825.4 341.1,823.8 341.6,824.4 342.1,821.5 342.6,824.1 343.1,825.4 343.6,820.0 344.1,824.8 344.6,822.7 345.1,823.8 345.6,820.1 346.1,825.6 346.6,828.1 347.1,825.8 347.6,822.6 348.1,823.5 348.6,825.4 349.1,822.8 349.6,818.6 350.1,824.3 350.6,829.5 351.1,822.3 351.6,825.4 352.1,822.8 352.6,824.8 353.1,824.1 353.6,824.7 354.1,819.6 354.6,825.7 355.1,824.5 355.6,828.1 356.1,830.6 356.6,829.1 357.1,826.3 357.6,826.0 358.1,827.5 358.6,825.6 359.1,822.4 359.6,824.8 360.1,824.9 360.6,818.7 361.1,825.2 361.6,825.2 362.1,824.7 362.6,824.3 363.1,825.1 363.6,824.7 364.1,824.9 364.6,824.5 365.1,824.6 365.6,823.9 366.1,823.7 366.6,827.8 367.1,826.0 367.6,824.2 368.1,821.4 368.6,821.9 369.1,827.1 369.6,823.5 370.1,826.0 370.6,825.0 371.1,823.8 371.6,825.1 372.1,825.0 372.6,827.8 373.1,819.7 373.6,825.0 374.1,819.9 374.6,824.7 375.1,826.5 375.6,825.8 376.1,823.5 376.6,823.6 377.1,824.4 377.6,827.0 378.1,824.7 378.6,823.5 379.1,821.5 379.6,823.8 380.1,825.4 380.6,823.7 381.1,824.7 381.6,823.8 382.1,825.7 382.6,824.4 383.1,825.2 383.6,824.7 384.1,825.3 384.6,828.7 385.1,824.0 385.6,826.1 386.1,826.5 386.6,824.4 387.1,824.6 387.6,824.8 388.1,820.6 388.6,823.9 389.1,825.2 389.6,824.7 390.1,826.9 390.6,826.0 391.1,826.4 391.6,822.0 392.1,826.2 392.6,825.7 393.1,823.4 393.6,826.3 394.1,823.7 394.6,825.4 395.1,825.3 395.6,827.8 396.1,826.8 396.6,823.5 397.1,821.9 397.6,824.6 398.1,821.5 398.6,822.4 399.1,825.8 399.6,823.8 400.1,825.1 400.6,825.3 401.1,820.0 401.6,825.0 402.1,825.5 402.6,827.9 403.1,823.0 403.6,824.5 404.1,818.7 404.6,823.7 405.1,826.1 405.6,827.7 406.1,824.4 406.6,830.4 407.1,824.0 407.6,822.9 408.1,822.1 408.6,828.3 409.1,823.1 409.6,823.4 410.1,824.1 410.6,823.9 411.1,823.4 411.6,823.9 412.1,825.3 412.6,823.8 413.1,824.4 413.6,825.6 414.1,825.4 414.6,824.2 415.1,824.8 415.6,824.5 416.1,824.9 416.6,822.7 417.1,824.3 417.6,827.0 418.1,822.6 418.6,825.5 419.1,821.3 419.6,820.0 420.1,818.6 420.6,823.9 421.1,824.8 421.6,824.6 422.1,821.0 422.6,822.7 423.1,824.2 423.6,824.8 424.1,825.1 424.6,825.0 425.1,823.9 425.6,824.3 426.1,818.8 426.6,824.6 427.1,827.3 427.6,824.9 428.1,825.4 428.6,824.0 429.1,819.9 429.6,824.4 430.1,822.7 430.6,824.6 431.1,822.5 431.6,823.7 432.1,824.0 432.6,823.9 433.1,825.9 433.6,820.0 434.1,823.2 434.6,828.2 435.1,824.5 435.6,824.3 436.1,824.9 436.6,823.0 437.1,821.0 437.6,824.5 438.1,826.2 438.6,825.4 439.1,825.1 439.6,823.0 440.1,827.0 440.6,825.5 441.1,822.3 441.6,824.0 442.1,825.0 442.6,822.6 443.1,824.5 443.6,822.6 444.1,824.3 444.6,826.9 445.1,823.9 445.6,823.8 446.1,822.1 446.6,824.2 447.1,821.0 447.6,824.5 448.1,826.9 448.6,823.7 449.1,823.3 449.6,826.4 450.1,825.2 450.6,823.3 451.1,827.7 451.6,826.4 452.1,824.4 452.6,819.8 453.1,827.4 453.6,824.4 454.1,829.0 454.6,824.9 455.1,825.1 455.6,829.8 456.1,824.6 456.6,823.9 457.1,826.9 457.6,823.0 458.1,823.6 458.6,823.5 459.1,824.0 459.6,823.8 460.1,820.5 460.6,825.1 461.1,825.3 461.6,820.6 462.1,823.5 462.6,823.4 463.1,825.4 463.6,821.2 464.1,822.7 464.6,824.7 465.1,829.5 465.6,824.3 466.1,824.5 466.6,822.7 467.1,820.7 467.6,823.7 468.1,825.0 468.6,824.3 469.1,822.8 469.6,825.0 470.1,822.4 470.6,821.2 471.1,820.7 471.6,824.0 472.1,822.7 472.6,822.6 473.1,826.0 473.6,822.8 474.1,823.4 474.6,822.7 475.1,825.8 475.6,821.3 476.1,823.7 476.6,825.0 477.1,823.9 477.6,826.5 478.1,827.2 478.6,823.5 479.1,825.2 479.6,822.9 480.1,824.1 480.6,824.4 481.1,821.5 481.6,823.2 482.1,826.7 482.6,824.7 483.1,820.8 483.6,825.6 484.1,819.6 484.6,820.2 485.1,825.0 485.6,823.9 486.1,823.4 486.6,824.5 487.1,826.1 487.6,824.9 488.1,823.0 488.6,825.5 489.1,823.8 489.6,820.1 490.1,821.5 490.6,823.6 491.1,823.2 491.6,823.0 492.1,824.7 492.6,822.5 493.1,829.0 493.6,820.2 494.1,824.5 494.6,823.4 495.1,821.7 495.6,825.2 496.1,822.9 496.6,821.0 497.1,822.1 497.6,822.4 498.1,823.5 498.6,822.2 499.1,821.0 499.6,823.1 500.1,823.6 500.6,824.6 501.1,821.9 501.6,824.6 502.1,826.8 502.6,826.5 503.1,824.0 503.6,820.7 504.1,823.2 504.6,822.9 505.1,820.0 505.6,823.8 506.1,825.0 506.6,820.8 507.1,824.5 507.6,823.5 508.1,826.6 508.6,824.5 509.1,824.6 509.6,824.0 510.1,828.8 510.6,824.6 511.1,826.8 511.6,823.0 512.1,824.0 512.6,820.9 513.1,822.6 513.6,822.4 514.1,825.6 514.6,823.3 515.1,822.7 515.6,824.3 516.1,820.6 516.6,823.9 517.1,823.2 517.6,822.0 518.1,821.1 518.6,821.6 519.1,825.6 519.6,819.8 520.1,823.5 520.6,823.4 521.1,822.7 521.6,824.1 522.1,823.9 522.6,822.1 523.1,821.0 523.6,820.9 524.1,821.4 524.6,822.5 525.1,823.1 525.6,822.2 526.1,821.2 526.6,823.1 527.1,822.1 527.6,822.3 528.1,822.6 528.6,825.2 529.1,822.4 529.6,821.0 530.1,821.7 530.6,822.0 531.1,820.4 531.6,824.2 532.1,821.6 532.6,817.5 533.1,819.9 533.6,822.6 534.1,822.2 534.6,822.2 535.1,821.1 535.6,828.5 536.1,823.4 536.6,820.1 537.1,823.1 537.6,822.9 538.1,822.9 538.6,822.7 539.1,824.5 539.6,820.1 540.1,820.9 540.6,821.6 541.1,820.2 541.6,820.6 542.1,822.9 542.6,817.0 543.1,823.4 543.6,823.3 544.1,820.3 544.6,819.0 545.1,822.3 545.6,822.7 546.1,823.3 546.6,824.2 547.1,824.5 547.6,820.9 548.1,825.4 548.6,820.8 549.1,822.1 549.6,823.4 550.1,822.3 550.6,821.3 551.1,824.8 551.6,824.3 552.1,821.9 552.6,822.0 553.1,824.0 553.6,821.4 554.1,821.4 554.6,824.4 555.1,820.2 555.6,821.9 556.1,819.8 556.6,823.3 557.1,823.9 557.6,823.1 558.1,821.5 558.6,823.8 559.1,825.1 559.6,821.7 560.1,824.8 560.6,819.5 561.1,825.7 561.6,819.4 562.1,821.8 562.6,822.1 563.1,826.1 563.6,823.4 564.1,822.5 564.6,823.2 565.1,823.1 565.6,822.6 566.1,821.5 566.6,819.2 567.1,823.2 567.6,822.4 568.1,827.6 568.6,820.6 569.1,825.5 569.6,822.8 570.1,821.7 570.6,825.7 571.1,823.8 571.6,825.2 572.1,823.8 572.6,819.5 573.1,821.3 573.6,821.9 574.1,822.3 574.6,821.7 575.1,826.3 575.6,821.3 576.1,822.5 576.6,818.6 577.1,823.5 577.6,822.6 578.1,828.1 578.6,820.5 579.1,820.9 579.6,821.9 580.1,821.4 580.6,822.4 581.1,822.1 581.6,825.7 582.1,823.1 582.6,822.4 583.1,821.5 583.6,818.8 584.1,825.5 584.6,822.3 585.1,821.1 585.6,822.1 586.1,825.6 586.6,819.7 587.1,822.4 587.6,827.9 588.1,823.1 588.6,822.8 589.1,821.1 589.6,821.4 590.1,824.8 590.6,819.6 591.1,823.6 591.6,820.8 592.1,823.0 592.6,820.1 593.1,817.6 593.6,820.2 594.1,822.3 594.6,822.8 595.1,821.9 595.6,820.2 596.1,823.3 596.6,823.1 597.1,822.4 597.6,820.2 598.1,822.5 598.6,818.6 599.1,821.7 599.6,821.6 600.1,821.5 600.6,822.2 601.1,820.9 601.6,821.7 602.1,815.9 602.6,825.9 603.1,822.5 603.6,820.3 604.1,818.4 604.6,823.1 605.1,824.1 605.6,821.3 606.1,823.0 606.6,820.4 607.1,818.5 607.6,819.0 608.1,823.5 608.6,817.7 609.1,822.9 609.6,820.1 610.1,822.0 610.6,826.0 611.1,822.7 611.6,822.1 612.1,822.7 612.6,820.5 613.1,821.9 613.6,821.0 614.1,823.2 614.6,820.5 615.1,821.3 615.6,821.0 616.1,821.0 616.6,823.3 617.1,821.9 617.6,822.5 618.1,819.9 618.6,820.5 619.1,824.3 619.6,818.2 620.1,823.3 620.6,821.6 621.1,824.0 621.6,821.0 622.1,818.4 622.6,821.5 623.1,820.8 623.6,822.1 624.1,817.8 624.6,821.1 625.1,823.7 625.6,822.2 626.1,824.1 626.6,821.2 627.1,822.4 627.6,824.7 628.1,822.4 628.6,823.8 629.1,817.9 629.6,822.5 630.1,820.0 630.6,824.5 631.1,824.0 631.6,823.8 632.1,823.5 632.6,822.1 633.1,821.0 633.6,821.9 634.1,821.7 634.6,822.9 635.1,823.6 635.6,817.0 636.1,823.2 636.6,821.4 637.1,822.9 637.6,821.0 638.1,820.0 638.6,821.7 639.1,820.6 639.6,822.2 640.1,822.5 640.6,821.0 641.1,824.5 641.6,817.9 642.1,822.7 642.6,821.3 643.1,823.4 643.6,824.1 644.1,820.1 644.6,821.2 645.1,818.7 645.6,823.1 646.1,817.2 646.6,821.1 647.1,819.7 647.6,821.3 648.1,820.5 648.6,820.0 649.1,823.7 649.6,821.8 650.1,821.7 650.6,822.3 651.1,820.8 651.6,821.6 652.1,821.2 652.6,822.9 653.1,823.4 653.6,821.0 654.1,820.4 654.6,821.8 655.1,819.0 655.6,821.4 656.1,818.1 656.6,822.1 657.1,821.2 657.6,821.5 658.1,823.3 658.6,820.9 659.1,826.5 659.6,820.3 660.1,817.8 660.6,820.9 661.1,824.8 661.6,820.9 662.1,819.8 662.6,821.9 663.1,824.0 663.6,821.7 664.1,821.8 664.6,823.0 665.1,821.7 665.6,823.2 666.1,822.3 666.6,821.7 667.1,822.3 667.6,820.0 668.1,817.4 668.6,820.4 669.1,824.3 669.6,817.1 670.1,820.5 670.6,820.3 671.1,821.6 671.6,820.1 672.1,819.5 672.6,818.9 673.1,823.2 673.6,821.4 674.1,824.8 674.6,820.5 675.1,820.8 675.6,821.2 676.1,820.7 676.6,821.8 677.1,823.9 677.6,820.7 678.1,815.3 678.6,821.5 679.1,822.8 679.6,820.0 680.1,820.7 680.6,823.0 681.1,815.8 681.6,826.6 682.1,822.7 682.6,821.7 683.1,826.0 683.6,824.8 684.1,821.5 684.6,822.5 685.1,821.9 685.6,821.1 686.1,820.7 686.6,822.4 687.1,820.8 687.6,821.4 688.1,821.4 688.6,821.6 689.1,815.2 689.6,821.2 690.1,818.8 690.6,819.5 691.1,821.2 691.6,819.0 692.1,822.8 692.6,819.1 693.1,821.2 693.6,819.8 694.1,822.6 694.6,819.6 695.1,817.9 695.6,816.0 696.1,821.1 696.6,821.4 697.1,821.1 697.6,822.7 698.1,820.3 698.6,820.8 699.1,824.2 699.6,819.2 700.1,821.0 700.6,821.8 701.1,821.4 701.6,820.3 702.1,826.9 702.6,823.1 703.1,818.6 703.6,820.8 704.1,821.0 704.6,821.0 705.1,817.5 705.6,820.0 706.1,821.7 706.6,821.9 707.1,826.4 707.6,821.2 708.1,826.2 708.6,819.0 709.1,821.1 709.6,819.8 710.1,821.1 710.6,815.0 711.1,823.4 711.6,823.9 712.1,820.4 712.6,820.5 713.1,818.6 713.6,821.5 714.1,819.8 714.6,822.6 715.1,819.3 715.6,823.3 716.1,818.2 716.6,819.7 717.1,821.5 717.6,821.4 718.1,822.5 718.6,822.1 719.1,820.5 719.6,821.4 720.1,821.8 720.6,820.4 721.1,822.6 721.6,818.8 722.1,816.9 722.6,815.9 723.1,819.7 723.6,820.6 724.1,825.5 724.6,821.6 725.1,820.7 725.6,821.1 726.1,822.3 726.6,819.3 727.1,819.1 727.6,824.2 728.1,818.1 728.6,822.5 729.1,820.7 729.6,814.8 730.1,821.0 730.6,819.6 731.1,824.8 731.6,822.4 732.1,821.5 732.6,820.3 733.1,819.6 733.6,821.5 734.1,822.2 734.6,819.0 735.1,820.9 735.6,821.3 736.1,820.4 736.6,819.7 737.1,820.3 737.6,821.3 738.1,823.9 738.6,821.1 739.1,820.5 739.6,818.5 740.1,817.3 740.6,820.7 741.1,817.6 741.6,825.8 742.1,819.5 742.6,825.5 743.1,820.7 743.6,821.3 744.1,817.9 744.6,823.7 745.1,820.2 745.6,820.9 746.1,820.0 746.6,819.4 747.1,823.9 747.6,821.3 748.1,821.5 748.6,819.7 749.1,821.0 749.6,823.1 750.1,822.6 750.6,820.7 751.1,820.6 751.6,820.3 752.1,822.5 752.6,820.8 753.1,823.5 753.6,821.9 754.1,822.4 754.6,818.7 755.1,823.8 755.6,820.2 756.1,822.5 756.6,821.9 757.1,820.8 757.6,818.4 758.1,820.7 758.6,819.6 759.1,817.9 759.6,819.2 760.1,821.0 760.6,821.6 761.1,818.2 761.6,819.6 762.1,821.0 762.6,822.2 763.1,817.7 763.6,820.7 764.1,823.6 764.6,820.6 765.1,818.9 765.6,821.0 766.1,817.3 766.6,824.0 767.1,815.6 767.6,820.2 768.1,818.9 768.6,818.0 769.1,820.1 769.6,820.9 770.1,821.8 770.6,821.6 771.1,818.8 771.6,820.3 772.1,826.4 772.6,818.3 773.1,819.8 773.6,820.6 774.1,818.8 774.6,820.4 775.1,823.4 775.6,819.9 776.1,821.4 776.6,819.7 777.1,820.1 777.6,818.7 778.1,821.0 778.6,822.8 779.1,821.6 779.6,822.4 780.1,820.9 780.6,820.7 781.1,818.5 781.6,821.5 782.1,818.4 782.6,823.3 783.1,821.1 783.6,817.5 784.1,820.7 784.6,819.1 785.1,815.4 785.6,821.2 786.1,817.2 786.6,818.9 787.1,820.3 787.6,821.0 788.1,820.5 788.6,819.1 789.1,818.7 789.6,819.6 790.1,815.4 790.6,821.1 791.1,818.5 791.6,819.4 792.1,821.7 792.6,819.8 793.1,820.2 793.6,820.1 794.1,820.2 794.6,820.3 795.1,823.8 795.6,826.3 796.1,823.8 796.6,818.9 797.1,818.8 797.6,821.9 798.1,819.6 798.6,817.6 799.1,821.8 799.6,819.8 800.1,820.1 800.6,822.3 801.1,816.6 801.6,822.6 802.1,819.8 802.6,818.0 803.1,820.8 803.6,816.9 804.1,819.9 804.6,821.2 805.1,822.1 805.6,824.6 806.1,822.9 806.6,819.3 807.1,821.3 807.6,820.8 808.1,819.4 808.6,818.9 809.1,820.7 809.6,819.5 810.1,820.7 810.6,822.4 811.1,820.8 811.6,820.2 812.1,824.3 812.6,817.7 813.1,820.6 813.6,821.3 814.1,820.5 814.6,814.7 815.1,821.2 815.6,825.1 816.1,821.1 816.6,820.0 817.1,819.9 817.6,814.4 818.1,821.2 818.6,820.2 819.1,823.6 819.6,821.8 820.1,817.9 820.6,820.3 821.1,821.8 821.6,821.9 822.1,821.1 822.6,816.0 823.1,819.8 823.6,821.3 824.1,821.8 824.6,821.8 825.1,815.4 825.6,818.9 826.1,820.3 826.6,819.4 827.1,820.0 827.6,822.2 828.1,820.4 828.6,820.9 829.1,825.4 829.6,820.3 830.1,823.4 830.6,819.9 831.1,818.5 831.6,819.9 832.1,816.9 832.6,822.5 833.1,819.3 833.6,822.3 834.1,822.5 834.6,824.1 835.1,822.0 835.6,819.6 836.1,820.0 836.6,820.0 837.1,818.9 837.6,819.9 838.1,824.4 838.6,819.9 839.1,819.1 839.6,819.5 840.1,820.0 840.6,820.9 841.1,820.5 841.6,820.8 842.1,814.2 842.6,824.8 843.1,818.1 843.6,818.6 844.1,819.9 844.6,818.3 845.1,820.2 845.6,822.1 846.1,817.3 846.6,820.8 847.1,820.2 847.6,819.6 848.1,821.9 848.6,818.7 849.1,816.8 849.6,820.0 850.1,822.6 850.6,817.9 851.1,816.5 851.6,820.6 852.1,820.2 852.6,816.6 853.1,818.0 853.6,819.4 854.1,820.3 854.6,820.0 855.1,819.2 855.6,818.0 856.1,821.3 856.6,819.6 857.1,819.6 857.6,820.3 858.1,820.1 858.6,821.8 859.1,820.4 859.6,820.0 860.1,819.7 860.6,818.7 861.1,820.6 861.6,818.9 862.1,820.0 862.6,822.4 863.1,821.0 863.6,820.1 864.1,820.7 864.6,819.4 865.1,821.3 865.6,822.6 866.1,820.5 866.6,822.7 867.1,817.4 867.6,819.7 868.1,819.2 868.6,819.8 869.1,814.0 869.6,819.8 870.1,819.8 870.6,821.8 871.1,823.2 871.6,823.1 872.1,820.2 872.6,820.9 873.1,821.1 873.6,820.1 874.1,820.4 874.6,820.9 875.1,819.6 875.6,819.9 876.1,819.3 876.6,820.3 877.1,822.8 877.6,820.2 878.1,822.9 878.6,821.9 879.1,819.4 879.6,819.9 880.1,820.3 880.6,819.3 881.1,819.8 881.6,819.3 882.1,821.0 882.6,820.8 883.1,820.7 883.6,821.0 884.1,822.1 884.6,821.4 885.1,820.6 885.6,820.9 886.1,821.4 886.6,818.4 887.1,821.2 887.6,817.2 888.1,820.2 888.6,818.2 889.1,817.9 889.6,821.3 890.1,817.3 890.6,819.4 891.1,818.5 891.6,818.9 892.1,820.2 892.6,818.8 893.1,818.1 893.6,822.8 894.1,817.3 894.6,817.0 895.1,820.5 895.6,819.2 896.1,820.6 896.6,819.8 897.1,819.7 897.6,819.8 898.1,821.4 898.6,818.5 899.1,822.4 899.6,819.3 900.1,820.5 900.6,820.6 901.1,820.3 901.6,820.1 902.1,819.7 902.6,823.1 903.1,820.9 903.6,817.9 904.1,818.4 904.6,819.5 905.1,817.7 905.6,818.4 906.1,821.3 906.6,819.3 907.1,822.6 907.6,817.2 908.1,819.2 908.6,820.8 909.1,819.1 909.6,816.9 910.1,820.5 910.6,816.8 911.1,818.4 911.6,817.6 912.1,818.7 912.6,818.8 913.1,818.7 913.6,820.0 914.1,820.0 914.6,818.2 915.1,825.2 915.6,822.3 916.1,818.9 916.6,819.2 917.1,818.8 917.6,816.4 918.1,818.5 918.6,819.6 919.1,819.6 919.6,817.9 920.1,819.2 920.6,820.1 921.1,816.3 921.6,816.7 922.1,817.5 922.6,820.9 923.1,821.2 923.6,820.4 924.1,819.3 924.6,816.6 925.1,816.0 925.6,813.2 926.1,819.3 926.6,817.7 927.1,819.5 927.6,820.4 928.1,817.7 928.6,819.1 929.1,820.3 929.6,816.1 930.1,820.5 930.6,818.9 931.1,818.7 931.6,819.4 932.1,816.5 932.6,816.0 933.1,815.7 933.6,820.0 934.1,817.3 934.6,816.4 935.1,814.2 935.6,817.9 936.1,819.1 936.6,819.3 937.1,818.7" stroke="#000000" stroke-width="1.7" fill="none" stroke-linejoin="miter"/>
<path d="M125.1,1006.1 126.1,1006.1 127.1,1006.1 128.1,1006.1 129.1,1006.0 130.1,1006.0 131.1,1006.0 132.1,1006.0 133.1,1006.0 134.1,1006.0 135.1,1005.9 136.1,1005.9 137.1,1005.9 138.1,1005.9 139.1,1005.9 140.1,1005.9 141.1,1005.8 142.1,1005.8 143.1,1005.8 144.1,1005.8 145.1,1005.8 146.1,1005.8 147.1,1005.7 148.1,1005.7 149.1,1005.7 150.1,1005.7 151.1,1005.7 152.1,1005.7 153.1,1005.7 154.1,1005.6 155.1,1005.6 156.1,1005.6 157.1,1005.6 158.1,1005.6 159.1,1005.6 160.1,1005.5 161.1,1005.5 162.1,1005.5 163.1,1005.5 164.1,1005.5 165.1,1005.5 166.1,1005.5 167.1,1005.4 168.1,1005.4 169.1,1005.4 170.1,1005.4 171.1,1005.4 172.1,1005.4 173.1,1005.4 174.1,1005.3 175.1,1005.3 176.1,1005.3 177.1,1005.3 178.1,1005.3 179.1,1005.3 180.1,1005.3 181.1,1005.2 182.1,1005.2 183.1,1005.2 184.1,1005.2 185.1,1005.2 186.1,1005.2 187.1,1005.2 188.1,1005.1 189.1,1005.1 190.1,1005.1 191.1,1005.1 192.1,1005.1 193.1,1005.1 194.1,1005.1 195.1,1005.1 196.1,1005.0 197.1,1005.0 198.1,1005.0 199.1,1005.0 200.1,1005.0 201.1,1005.0 202.1,1005.0 203.1,1005.0 204.1,1004.9 205.1,1004.9 206.1,1004.9 207.1,1004.9 208.1,1004.9 209.1,1004.9 210.1,1004.9 211.1,1004.9 212.1,1004.8 213.1,1004.8 214.1,1004.8 215.1,1004.8 216.1,1004.8 217.1,1004.8 218.1,1004.8 219.1,1004.8 220.1,1004.8 221.1,1004.8 222.1,1004.7 223.1,1004.7 224.1,1004.7 225.1,1004.7 226.1,1004.7 227.1,1004.7 228.1,1004.7 229.1,1004.7 230.1,1004.7 231.1,1004.7 232.1,1004.7 233.1,1004.6 234.1,1004.6 235.1,1004.6 236.1,1004.6 237.1,1004.6 238.1,1004.6 239.1,1004.6 240.1,1004.6 241.1,1004.6 242.1,1004.6 243.1,1004.6 244.1,1004.6 245.1,1004.5 246.1,1004.5 247.1,1004.5 248.1,1004.5 249.1,1004.5 250.1,1004.5 251.1,1004.5 252.1,1004.5 253.1,1004.5 254.1,1004.5 255.1,1004.5 256.1,1004.5 257.1,1004.5 258.1,1004.4 259.1,1004.4 260.1,1004.4 261.1,1004.4 262.1,1004.4 263.1,1004.4 264.1,1004.4 265.1,1004.4 266.1,1004.4 267.1,1004.4 268.1,1004.4 269.1,1004.3 270.1,1004.3 271.1,1004.3 272.1,1004.3 273.1,1004.3 274.1,1004.3 275.1,1004.3 276.1,1004.3 277.1,1004.3 278.1,1004.3 279.1,1004.2 280.1,1004.2 281.1,1004.2 282.1,1004.2 283.1,1004.2 284.1,1004.2 285.1,1004.2 286.1,1004.2 287.1,1004.2 288.1,1004.1 289.1,1004.1 290.1,1004.1 291.1,1004.1 292.1,1004.1 293.1,1004.1 294.1,1004.1 295.1,1004.1 296.1,1004.0 297.1,1004.0 298.1,1004.0 299.1,1004.0 300.1,1004.0 301.1,1004.0 302.1,1004.0 303.1,1003.9 304.1,1003.9 305.1,1003.9 306.1,1003.9 307.1,1003.9 308.1,1003.9 309.1,1003.8 310.1,1003.8 311.1,1003.8 312.1,1003.8 313.1,1003.8 314.1,1003.7 315.1,1003.7 316.1,1003.7 317.1,1003.7 318.1,1003.7 319.1,1003.6 320.1,1003.6 321.1,1003.6 322.1,1003.5 323.1,1003.5 324.1,1003.5 325.1,1003.4 326.1,1003.4 327.1,1003.3 328.1,1003.3 329.1,1003.2 330.1,1003.2 331.1,1003.1 332.1,1003.0 333.1,1002.8 334.1,1002.7 335.1,1002.5 336.1,1002.2 337.1,1002.0 338.1,1001.7 339.1,1001.5 340.1,1001.2 341.1,1000.7 342.1,1000.1 343.1,999.5 344.1,999.1 345.1,998.8 346.1,998.7 347.1,998.5 348.1,998.4 349.1,998.3 350.1,998.2 351.1,998.1 352.1,998.0 353.1,998.0 354.1,997.9 355.1,997.9 356.1,997.8 357.1,997.8 358.1,997.7 359.1,997.7 360.1,997.7 361.1,997.6 362.1,997.6 363.1,997.5 364.1,997.5 365.1,997.4 366.1,997.4 367.1,997.3 368.1,997.2 369.1,997.1 370.1,997.0 371.1,996.9 372.1,996.8 373.1,996.6 374.1,996.5 375.1,996.3 376.1,996.1 377.1,995.9 378.1,995.7 379.1,995.5 380.1,995.3 381.1,995.0 382.1,994.8 383.1,994.5 384.1,994.2 385.1,993.8 386.1,993.4 387.1,992.9 388.1,992.4 389.1,991.8 390.1,991.2 391.1,990.5 392.1,989.8 393.1,989.1 394.1,988.3 395.1,987.5 396.1,986.7 397.1,985.8 398.1,984.9 399.1,984.0 400.1,983.1 401.1,982.1 402.1,981.0 403.1,979.8 404.1,978.6 405.1,977.3 406.1,975.9 407.1,974.6 408.1,973.1 409.1,971.7 410.1,970.2 411.1,968.7 412.1,967.2 413.1,965.7 414.1,964.0 415.1,962.2 416.1,960.3 417.1,958.2 418.1,956.1 419.1,954.0 420.1,951.9 421.1,949.9 422.1,948.0 423.1,946.2 424.1,944.7 425.1,943.4 426.1,942.3 427.1,941.2 428.1,940.3 429.1,939.4 430.1,938.6 431.1,937.7 432.1,936.9 433.1,936.1 434.1,935.3 435.1,934.5 436.1,933.7 437.1,932.9 438.1,932.1 439.1,931.3 440.1,930.6 441.1,929.8 442.1,929.1 443.1,928.4 444.1,927.8 445.1,927.2 446.1,926.7 447.1,926.2 448.1,925.6 449.1,924.9 450.1,924.1 451.1,923.2 452.1,922.0 453.1,920.2 454.1,917.9 455.1,915.4 456.1,912.8 457.1,910.1 458.1,907.0 459.1,903.3 460.1,899.4 461.1,895.7 462.1,892.7 463.1,890.7 464.1,889.2 465.1,887.9 466.1,886.7 467.1,885.7 468.1,884.8 469.1,884.3 470.1,884.0 471.1,884.1 472.1,884.4 473.1,885.1 474.1,885.8 475.1,886.8 476.1,887.7 477.1,888.7 478.1,889.7 479.1,890.7 480.1,891.8 481.1,893.0 482.1,894.3 483.1,895.7 484.1,897.1 485.1,898.5 486.1,900.0 487.1,901.6 488.1,903.1 489.1,904.7 490.1,906.3 491.1,907.9 492.1,909.5 493.1,911.1 494.1,912.7 495.1,914.4 496.1,916.2 497.1,918.0 498.1,919.8 499.1,921.6 500.1,923.4 501.1,925.2 502.1,927.0 503.1,928.8 504.1,930.5 505.1,932.2 506.1,933.9 507.1,935.6 508.1,937.3 509.1,938.9 510.1,940.6 511.1,942.3 512.1,943.9 513.1,945.4 514.1,946.9 515.1,948.4 516.1,949.8 517.1,951.2 518.1,952.5 519.1,953.8 520.1,955.1 521.1,956.3 522.1,957.5 523.1,958.7 524.1,959.9 525.1,961.1 526.1,962.2 527.1,963.3 528.1,964.5 529.1,965.6 530.1,966.7 531.1,967.8 532.1,968.8 533.1,969.9 534.1,971.0 535.1,972.0 536.1,973.1 537.1,974.1 538.1,975.1 539.1,976.1 540.1,977.1 541.1,978.1 542.1,979.0 543.1,979.9 544.1,980.8 545.1,981.7 546.1,982.5 547.1,983.4 548.1,984.2 549.1,985.1 550.1,985.9 551.1,986.7 552.1,987.5 553.1,988.3 554.1,989.0 555.1,989.8 556.1,990.5 557.1,991.2 558.1,991.9 559.1,992.6 560.1,993.2 561.1,993.8 562.1,994.5 563.1,995.0 564.1,995.6 565.1,996.1 566.1,996.7 567.1,997.2 568.1,997.7 569.1,998.2 570.1,998.7 571.1,999.1 572.1,999.6 573.1,1000.0 574.1,1000.5 575.1,1000.9 576.1,1001.3 577.1,1001.8 578.1,1002.2 579.1,1002.6 580.1,1003.0 581.1,1003.4 582.1,1003.8 583.1,1004.2 584.1,1004.7 585.1,1005.2 586.1,1005.6 587.1,1006.0 588.1,1006.4 589.1,1006.8 590.1,1007.2 591.1,1007.5 592.1,1007.7 593.1,1007.9 594.1,1008.0 595.1,1008.0 596.1,1007.8 597.1,1007.4 598.1,1006.9 599.1,1006.3 600.1,1005.6 601.1,1005.0 602.1,1004.5 603.1,1004.2 604.1,1004.1 605.1,1004.0 606.1,1003.9 607.1,1003.9 608.1,1003.8 609.1,1003.8 610.1,1003.7 611.1,1003.7 612.1,1003.6 613.1,1003.6 614.1,1003.5 615.1,1003.5 616.1,1003.5 617.1,1003.4 618.1,1003.4 619.1,1003.4 620.1,1003.3 621.1,1003.3 622.1,1003.3 623.1,1003.3 624.1,1003.2 625.1,1003.2 626.1,1003.2 627.1,1003.2 628.1,1003.2 629.1,1003.1 630.1,1003.1 631.1,1003.1 632.1,1003.1 633.1,1003.1 634.1,1003.1 635.1,1003.1 636.1,1003.1 637.1,1003.0 638.1,1003.0 639.1,1003.0 640.1,1003.0 641.1,1003.0 642.1,1003.0 643.1,1003.0 644.1,1002.9 645.1,1002.9 646.1,1002.9 647.1,1002.9 648.1,1002.9 649.1,1002.9 650.1,1002.9 651.1,1002.9 652.1,1002.8 653.1,1002.8 654.1,1002.8 655.1,1002.8 656.1,1002.8 657.1,1002.8 658.1,1002.8 659.1,1002.8 660.1,1002.8 661.1,1002.7 662.1,1002.7 663.1,1002.7 664.1,1002.7 665.1,1002.7 666.1,1002.7 667.1,1002.7 668.1,1002.7 669.1,1002.7 670.1,1002.7 671.1,1002.6 672.1,1002.6 673.1,1002.6 674.1,1002.6 675.1,1002.6 676.1,1002.6 677.1,1002.6 678.1,1002.6 679.1,1002.6 680.1,1002.6 681.1,1002.6 682.1,1002.6 683.1,1002.5 684.1,1002.5 685.1,1002.5 686.1,1002.5 687.1,1002.5 688.1,1002.5 689.1,1002.5 690.1,1002.5 691.1,1002.5 692.1,1002.5 693.1,1002.5 694.1,1002.5 695.1,1002.5 696.1,1002.5 697.1,1002.5 698.1,1002.5 699.1,1002.4 700.1,1002.4 701.1,1002.4 702.1,1002.4 703.1,1002.4 704.1,1002.4 705.1,1002.4 706.1,1002.4 707.1,1002.4 708.1,1002.4 709.1,1002.4 710.1,1002.4 711.1,1002.4 712.1,1002.4 713.1,1002.4 714.1,1002.4 715.1,1002.4 716.1,1002.4 717.1,1002.4 718.1,1002.4 719.1,1002.4 720.1,1002.4 721.1,1002.4 722.1,1002.4 723.1,1002.4 724.1,1002.4 725.1,1002.4 726.1,1002.4 727.1,1002.5 728.1,1002.5 729.1,1002.5 730.1,1002.5 731.1,1002.5 732.1,1002.6 733.1,1002.6 734.1,1002.6 735.1,1002.6 736.1,1002.7 737.1,1002.7 738.1,1002.7 739.1,1002.8 740.1,1002.8 741.1,1002.8 742.1,1002.9 743.1,1002.9 744.1,1002.9 745.1,1003.0 746.1,1003.0 747.1,1003.1 748.1,1003.1 749.1,1003.1 750.1,1003.2 751.1,1003.2 752.1,1003.3 753.1,1003.3 754.1,1003.4 755.1,1003.4 756.1,1003.5 757.1,1003.5 758.1,1003.5 759.1,1003.6 760.1,1003.6 761.1,1003.7 762.1,1003.7 763.1,1003.8 764.1,1003.8 765.1,1003.9 766.1,1003.9 767.1,1004.0 768.1,1004.0 769.1,1004.1 770.1,1004.1 771.1,1004.1 772.1,1004.2 773.1,1004.2 774.1,1004.3 775.1,1004.3 776.1,1004.4 777.1,1004.4 778.1,1004.4 779.1,1004.5 780.1,1004.5 781.1,1004.5 782.1,1004.6 783.1,1004.6 784.1,1004.6 785.1,1004.7 786.1,1004.7 787.1,1004.7 788.1,1004.8 789.1,1004.8 790.1,1004.8 791.1,1004.9 792.1,1004.9 793.1,1004.9 794.1,1004.9 795.1,1005.0 796.1,1005.0 797.1,1005.0 798.1,1005.1 799.1,1005.1 800.1,1005.1 801.1,1005.2 802.1,1005.2 803.1,1005.2 804.1,1005.2 805.1,1005.3 806.1,1005.3 807.1,1005.3 808.1,1005.4 809.1,1005.4 810.1,1005.4 811.1,1005.5 812.1,1005.5 813.1,1005.5 814.1,1005.5 815.1,1005.6 816.1,1005.6 817.1,1005.6 818.1,1005.7 819.1,1005.7 820.1,1005.7 821.1,1005.7 822.1,1005.8 823.1,1005.8 824.1,1005.8 825.1,1005.8 826.1,1005.9 827.1,1005.9 828.1,1005.9 829.1,1005.9 830.1,1006.0 831.1,1006.0 832.1,1006.0 833.1,1006.0 834.1,1006.1 835.1,1006.1 836.1,1006.1 837.1,1006.1 838.1,1006.2 839.1,1006.2 840.1,1006.2 841.1,1006.2 842.1,1006.2 843.1,1006.3 844.1,1006.3 845.1,1006.3 846.1,1006.3 847.1,1006.3 848.1,1006.3 849.1,1006.4 850.1,1006.4 851.1,1006.4 852.1,1006.4 853.1,1006.4 854.1,1006.4 855.1,1006.4 856.1,1006.4 857.1,1006.5 858.1,1006.5 859.1,1006.5 860.1,1006.5 861.1,1006.5 862.1,1006.5 863.1,1006.5 864.1,1006.5 865.1,1006.6 866.1,1006.6 867.1,1006.6 868.1,1006.6 869.1,1006.6 870.1,1006.6 871.1,1006.6 872.1,1006.6 873.1,1006.7 874.1,1006.7 875.1,1006.7 876.1,1006.7 877.1,1006.7 878.1,1006.7 879.1,1006.7 880.1,1006.7 881.1,1006.7 882.1,1006.8 883.1,1006.8 884.1,1006.8 885.1,1006.8 886.1,1006.8 887.1,1006.8 888.1,1006.8 889.1,1006.8 890.1,1006.8 891.1,1006.9 892.1,1006.9 893.1,1006.9 894.1,1006.9 895.1,1006.9 896.1,1006.9 897.1,1006.9 898.1,1006.9 899.1,1006.9 900.1,1006.9 901.1,1006.9 902.1,1006.9 903.1,1007.0 904.1,1007.0 905.1,1007.0 906.1,1007.0 907.1,1007.0 908.1,1007.0 909.1,1007.0 910.1,1007.0 911.1,1007.0 912.1,1007.0 913.1,1007.0 914.1,1007.0 915.1,1007.0 916.1,1007.0 917.1,1007.0 918.1,1007.1 919.1,1007.1 920.1,1007.1 921.1,1007.1 922.1,1007.1 923.1,1007.1 924.1,1007.1 925.1,1007.1 926.1,1007.1 927.1,1007.1 928.1,1007.1 929.1,1007.1 930.1,1007.1 931.1,1007.1 932.1,1007.1 933.1,1007.1 934.1,1007.1 935.1,1007.1 936.1,1007.1 937.1,1007.1" stroke="#ff0000" stroke-width="3.2" fill="none" stroke-linejoin="round"/>
<path d="M125.1,1006.5 125.4,1006.2 125.8,1005.9 126.1,1005.6 126.4,1005.4 126.7,1006.1 127.1,1005.8 127.4,1005.8 127.7,1006.0 128.1,1006.0 128.4,1005.3 128.7,1006.4 129.1,1005.3 129.4,1006.7 129.7,1006.6 130.0,1008.4 130.4,1007.4 130.7,1006.1 131.0,1002.8 131.4,1006.9 131.7,1007.0 132.0,1010.9 132.4,1004.3 132.7,1006.2 133.0,1004.2 133.3,1005.9 133.7,1005.2 134.0,1006.7 134.3,1005.2 134.7,1005.2 135.0,1006.6 135.3,1006.1 135.7,1006.5 136.0,1005.8 136.3,1005.8 136.6,1006.0 137.0,1005.8 137.3,1005.9 137.6,1005.5 138.0,1006.0 138.3,1006.0 138.6,1005.0 139.0,1005.8 139.3,1005.9 139.6,1006.1 139.9,1000.9 140.3,1002.7 140.6,1010.4 140.9,1004.4 141.3,1003.9 141.6,1009.6 141.9,1004.6 142.3,1007.8 142.6,1007.5 142.9,1000.9 143.2,1005.9 143.6,1006.2 143.9,1005.5 144.2,1005.2 144.6,1004.8 144.9,1005.3 145.2,1005.3 145.6,1005.6 145.9,1005.2 146.2,1005.8 146.5,1005.8 146.9,1003.4 147.2,1005.5 147.5,1005.4 147.9,1006.1 148.2,1005.3 148.5,1006.1 148.9,1005.3 149.2,1006.7 149.5,1005.1 149.8,1006.3 150.2,1005.4 150.5,1005.7 150.8,1005.7 151.2,1005.5 151.5,1006.4 151.8,1005.7 152.2,1005.2 152.5,1005.9 152.8,1005.9 153.1,1005.3 153.5,1005.8 153.8,1005.7 154.1,1005.9 154.5,1005.9 154.8,1005.6 155.1,1006.5 155.5,1009.0 155.8,1006.0 156.1,1005.7 156.4,1010.5 156.8,1004.4 157.1,1006.0 157.4,1006.4 157.8,1003.6 158.1,1007.0 158.4,1005.9 158.8,1010.5 159.1,1006.2 159.4,1006.0 159.7,1005.6 160.1,1005.6 160.4,1005.8 160.7,1005.7 161.1,1005.3 161.4,1005.1 161.7,1005.5 162.1,1006.0 162.4,1005.4 162.7,1005.9 163.0,1005.6 163.4,1005.4 163.7,1004.6 164.0,1005.6 164.4,1005.4 164.7,1004.9 165.0,1005.7 165.4,1005.5 165.7,1005.6 166.0,1005.3 166.3,1005.6 166.7,1005.7 167.0,1005.0 167.3,1005.5 167.7,1005.0 168.0,1005.5 168.3,1005.4 168.7,1005.4 169.0,1004.9 169.3,1005.8 169.6,1005.2 170.0,1005.9 170.3,1005.2 170.6,1006.7 171.0,1005.4 171.3,1005.4 171.6,1006.3 172.0,1004.1 172.3,1006.1 172.6,1005.6 172.9,1005.1 173.3,1005.8 173.6,1000.4 173.9,1005.7 174.3,1004.9 174.6,1005.5 174.9,1005.2 175.3,1005.3 175.6,1005.4 175.9,1005.4 176.2,1004.6 176.6,1006.0 176.9,1006.7 177.2,1004.5 177.6,1005.3 177.9,1005.3 178.2,1004.7 178.6,1005.4 178.9,1005.1 179.2,1005.6 179.5,1005.4 179.9,1005.5 180.2,1005.1 180.5,1004.6 180.9,1005.6 181.2,1005.4 181.5,1005.1 181.9,1005.0 182.2,1004.9 182.5,1004.6 182.8,1004.8 183.2,1005.2 183.5,1005.8 183.8,1005.4 184.2,1005.8 184.5,1004.8 184.8,1005.6 185.2,1005.0 185.5,1005.7 185.8,1005.6 186.1,1005.2 186.5,1005.2 186.8,1005.6 187.1,1004.9 187.5,1004.4 187.8,1005.4 188.1,1005.9 188.5,1004.5 188.8,1005.2 189.1,1004.7 189.4,1005.0 189.8,1004.8 190.1,1005.4 190.4,1004.9 190.8,1005.0 191.1,1004.7 191.4,1005.4 191.8,1004.9 192.1,1005.0 192.4,1005.1 192.7,1004.6 193.1,1006.3 193.4,1002.4 193.7,1007.3 194.1,1003.7 194.4,1007.2 194.7,1006.2 195.1,1004.8 195.4,1005.2 195.7,1005.0 196.0,1004.9 196.4,1005.0 196.7,1004.8 197.0,1005.0 197.4,1004.9 197.7,1004.4 198.0,1005.6 198.4,1004.9 198.7,1004.8 199.0,1005.1 199.3,1004.3 199.7,1004.9 200.0,1005.1 200.3,1004.9 200.7,1005.0 201.0,1004.8 201.3,1004.9 201.7,1005.0 202.0,1005.0 202.3,1004.6 202.6,1005.1 203.0,1005.1 203.3,1004.7 203.6,1004.8 204.0,1007.3 204.3,1004.9 204.6,1002.9 205.0,1008.4 205.3,1003.7 205.6,1003.8 205.9,1005.1 206.3,1004.9 206.6,1005.0 206.9,1005.3 207.3,1005.0 207.6,1005.0 207.9,1005.0 208.3,1004.6 208.6,1004.8 208.9,1004.8 209.2,1004.7 209.6,1005.4 209.9,1005.1 210.2,1003.9 210.6,1004.6 210.9,1004.8 211.2,1006.5 211.6,1004.6 211.9,1004.7 212.2,1004.7 212.5,1005.1 212.9,1004.3 213.2,1007.3 213.5,1001.5 213.9,1006.4 214.2,1004.8 214.5,1001.4 214.9,999.9 215.2,1004.7 215.5,1009.8 215.8,1004.0 216.2,1006.2 216.5,1004.6 216.8,1005.1 217.2,1002.6 217.5,1005.0 217.8,1004.8 218.2,1003.8 218.5,1005.1 218.8,1000.1 219.1,1006.6 219.5,999.8 219.8,999.8 220.1,999.8 220.5,1004.2 220.8,1004.8 221.1,1004.7 221.5,1004.6 221.8,1004.3 222.1,1004.6 222.4,1004.7 222.8,1004.7 223.1,1004.8 223.4,1004.3 223.8,1005.1 224.1,1005.0 224.4,1005.0 224.8,1005.4 225.1,1005.2 225.4,1005.0 225.7,1005.1 226.1,1004.8 226.4,1004.8 226.7,1004.9 227.1,1004.5 227.4,1008.8 227.7,1004.8 228.1,1004.5 228.4,1003.8 228.7,1003.7 229.0,1004.4 229.4,1005.0 229.7,1004.0 230.0,1004.4 230.4,1005.2 230.7,1003.8 231.0,1004.6 231.4,1004.4 231.7,1004.1 232.0,1004.7 232.3,1004.3 232.7,1002.4 233.0,1004.4 233.3,1004.2 233.7,1005.0 234.0,1004.6 234.3,1004.2 234.7,1004.7 235.0,1005.3 235.3,1004.2 235.6,1004.3 236.0,1004.6 236.3,1004.6 236.6,1000.0 237.0,999.8 237.3,1004.8 237.6,1004.4 238.0,1005.1 238.3,1004.9 238.6,1002.3 238.9,1006.4 239.3,999.6 239.6,1005.6 239.9,1006.2 240.3,1001.6 240.6,1000.2 240.9,1003.3 241.3,1003.8 241.6,1004.9 241.9,1004.9 242.2,1004.9 242.6,1004.4 242.9,1004.5 243.2,1004.6 243.6,1004.7 243.9,1005.1 244.2,1005.2 244.6,1005.8 244.9,1005.2 245.2,1005.1 245.5,1004.5 245.9,1004.3 246.2,1004.5 246.5,1004.4 246.9,1004.2 247.2,1004.4 247.5,1004.2 247.9,1004.5 248.2,1004.8 248.5,1004.7 248.8,1004.7 249.2,1005.0 249.5,1004.5 249.8,1004.5 250.2,1005.0 250.5,1004.8 250.8,1004.0 251.2,1004.5 251.5,1005.0 251.8,1004.7 252.1,1004.9 252.5,1004.0 252.8,1004.7 253.1,1003.8 253.5,1004.7 253.8,1004.1 254.1,1005.0 254.5,1004.2 254.8,1005.2 255.1,1004.6 255.4,1000.0 255.8,1003.9 256.1,1004.7 256.4,1004.3 256.8,1005.3 257.1,1004.4 257.4,1004.5 257.8,1004.3 258.1,1005.1 258.4,1005.0 258.7,1004.7 259.1,1004.8 259.4,1004.1 259.7,1004.1 260.1,1002.4 260.4,1004.1 260.7,1004.3 261.1,1004.5 261.4,1004.4 261.7,1006.6 262.0,1002.6 262.4,1005.9 262.7,1004.7 263.0,1008.5 263.4,1001.1 263.7,1009.4 264.0,1004.3 264.4,1004.2 264.7,1004.4 265.0,1003.8 265.3,1004.4 265.7,1004.4 266.0,1004.9 266.3,1004.9 266.7,1004.3 267.0,1004.9 267.3,1003.8 267.7,1004.9 268.0,1004.5 268.3,1004.1 268.6,1004.2 269.0,1004.4 269.3,1004.8 269.6,1004.6 270.0,1002.7 270.3,1004.2 270.6,1004.4 271.0,1003.9 271.3,1005.5 271.6,1003.9 271.9,1005.1 272.3,1004.5 272.6,1004.2 272.9,1003.7 273.3,1004.7 273.6,1004.3 273.9,1004.4 274.3,1004.0 274.6,1003.5 274.9,1004.2 275.2,1004.8 275.6,1003.8 275.9,1004.6 276.2,1004.2 276.6,1004.5 276.9,1004.0 277.2,1003.7 277.6,1003.8 277.9,1004.1 278.2,1004.4 278.5,1004.5 278.9,1003.6 279.2,1004.1 279.5,1004.2 279.9,999.3 280.2,999.3 280.5,1004.6 280.9,1005.5 281.2,1007.8 281.5,1004.9 281.8,1004.4 282.2,1006.7 282.5,1001.5 282.8,1004.2 283.2,1004.3 283.5,1004.3 283.8,1004.9 284.2,1004.3 284.5,1004.3 284.8,1003.7 285.1,1004.1 285.5,1002.7 285.8,1004.3 286.1,1004.1 286.5,1004.3 286.8,1003.8 287.1,1004.5 287.5,1004.5 287.8,1003.8 288.1,999.2 288.4,1003.9 288.8,1004.2 289.1,1003.8 289.4,1004.2 289.8,1004.4 290.1,1004.4 290.4,1003.7 290.8,1007.4 291.1,1003.4 291.4,1004.3 291.7,1003.8 292.1,1003.8 292.4,1003.7 292.7,1003.8 293.1,1004.3 293.4,1003.6 293.7,1003.6 294.1,1004.4 294.4,1004.3 294.7,1003.4 295.0,1003.4 295.4,1004.1 295.7,1004.3 296.0,1004.7 296.4,1004.2 296.7,1004.2 297.0,1003.9 297.4,1004.0 297.7,1003.8 298.0,1007.6 298.3,1004.1 298.7,1004.3 299.0,1004.1 299.3,1003.6 299.7,1003.9 300.0,1004.3 300.3,1004.1 300.7,1003.3 301.0,1004.3 301.3,1003.8 301.6,1004.4 302.0,1003.8 302.3,1003.6 302.6,1004.2 303.0,1003.5 303.3,1004.3 303.6,1003.7 304.0,1004.1 304.3,1003.4 304.6,1003.9 304.9,1003.7 305.3,1004.4 305.6,1003.6 305.9,1003.8 306.3,1003.6 306.6,1003.8 306.9,1003.9 307.3,1004.2 307.6,1004.1 307.9,1003.3 308.2,1004.5 308.6,1003.9 308.9,1004.2 309.2,1003.7 309.6,1004.1 309.9,1001.7 310.2,1003.7 310.6,1003.8 310.9,1003.5 311.2,1003.9 311.5,1003.9 311.9,1004.0 312.2,1004.2 312.5,1004.1 312.9,1003.9 313.2,1004.1 313.5,1003.8 313.9,1004.1 314.2,1003.7 314.5,1003.1 314.8,1003.5 315.2,1003.4 315.5,1003.6 315.8,1003.7 316.2,1003.7 316.5,1003.9 316.8,1003.3 317.2,1003.5 317.5,1003.9 317.8,1003.9 318.1,1004.1 318.5,1003.6 318.8,1004.4 319.1,1003.4 319.5,1003.1 319.8,1005.4 320.1,1003.1 320.5,1003.8 320.8,1003.3 321.1,1003.6 321.4,1006.1 321.8,1005.2 322.1,1002.1 322.4,998.7 322.8,1001.5 323.1,1004.8 323.4,999.4 323.8,1003.4 324.1,1003.1 324.4,1003.5 324.7,1003.8 325.1,1003.7 325.4,1003.5 325.7,1003.7 326.1,1003.6 326.4,1003.1 326.7,1003.5 327.1,1003.5 327.4,1003.2 327.7,1003.5 328.0,1003.0 328.4,1003.4 328.7,1003.4 329.0,1003.3 329.4,1003.1 329.7,1003.3 330.0,1002.9 330.4,1003.0 330.7,1003.3 331.0,1003.4 331.3,1003.3 331.7,1003.0 332.0,1003.1 332.3,1002.7 332.7,1003.0 333.0,1002.6 333.3,1002.4 333.7,1002.8 334.0,1002.6 334.3,1002.6 334.6,1002.3 335.0,1004.6 335.3,1002.5 335.6,1002.1 336.0,1002.5 336.3,1002.2 336.6,1001.9 337.0,1001.8 337.3,1002.2 337.6,1001.8 337.9,1001.9 338.3,1001.5 338.6,1001.7 338.9,1000.2 339.3,1001.5 339.6,1001.4 339.9,1001.5 340.3,1001.3 340.6,1000.8 340.9,1001.2 341.2,1000.5 341.6,1000.3 341.9,1000.3 342.2,1000.2 342.6,1000.0 342.9,999.4 343.2,999.4 343.6,999.5 343.9,999.2 344.2,999.1 344.5,995.2 344.9,998.4 345.2,997.2 345.5,998.3 345.9,1001.6 346.2,998.6 346.5,998.7 346.9,1001.1 347.2,998.4 347.5,998.9 347.8,998.9 348.2,998.4 348.5,997.6 348.8,998.4 349.2,998.6 349.5,999.1 349.8,998.5 350.2,998.4 350.5,998.1 350.8,996.9 351.1,998.6 351.5,998.9 351.8,998.6 352.1,998.2 352.5,996.8 352.8,997.5 353.1,993.7 353.5,998.7 353.8,998.2 354.1,998.4 354.4,997.5 354.8,998.0 355.1,997.8 355.4,997.5 355.8,997.6 356.1,998.0 356.4,997.3 356.8,997.8 357.1,997.7 357.4,997.6 357.7,998.2 358.1,997.6 358.4,997.9 358.7,997.3 359.1,1001.1 359.4,998.5 359.7,997.4 360.1,996.9 360.4,997.7 360.7,998.2 361.0,997.3 361.4,997.2 361.7,997.8 362.0,998.0 362.4,998.1 362.7,997.2 363.0,997.7 363.4,996.9 363.7,997.5 364.0,997.1 364.3,997.3 364.7,996.9 365.0,997.8 365.3,997.7 365.7,997.5 366.0,997.0 366.3,997.9 366.7,997.7 367.0,997.2 367.3,997.6 367.6,997.4 368.0,997.4 368.3,997.5 368.6,997.4 369.0,997.1 369.3,996.7 369.6,996.7 370.0,997.2 370.3,996.9 370.6,997.1 370.9,996.3 371.3,996.8 371.6,996.7 371.9,997.3 372.3,996.7 372.6,996.5 372.9,996.7 373.3,997.0 373.6,997.4 373.9,996.1 374.2,998.9 374.6,995.8 374.9,996.8 375.2,996.7 375.6,996.6 375.9,995.5 376.2,995.5 376.6,996.6 376.9,996.1 377.2,996.2 377.5,995.9 377.9,995.9 378.2,995.8 378.5,995.5 378.9,997.9 379.2,996.2 379.5,995.1 379.9,994.7 380.2,995.0 380.5,994.9 380.8,995.1 381.2,995.1 381.5,995.1 381.8,994.9 382.2,994.4 382.5,994.6 382.8,994.3 383.2,994.4 383.5,994.1 383.8,994.2 384.1,996.1 384.5,993.2 384.8,993.4 385.1,997.6 385.5,993.6 385.8,994.7 386.1,994.2 386.5,990.9 386.8,994.2 387.1,991.9 387.4,990.7 387.8,995.9 388.1,992.9 388.4,992.5 388.8,991.4 389.1,991.8 389.4,991.0 389.8,991.4 390.1,991.6 390.4,991.0 390.7,991.3 391.1,990.6 391.4,990.4 391.7,990.0 392.1,989.8 392.4,989.6 392.7,989.5 393.1,989.4 393.4,988.8 393.7,988.7 394.0,988.1 394.4,986.0 394.7,987.9 395.0,990.4 395.4,986.8 395.7,987.1 396.0,986.9 396.4,986.7 396.7,986.3 397.0,986.3 397.3,985.5 397.7,985.4 398.0,984.7 398.3,984.7 398.7,984.5 399.0,984.6 399.3,984.1 399.7,983.8 400.0,983.0 400.3,982.8 400.6,982.6 401.0,982.0 401.3,981.8 401.6,981.6 402.0,981.1 402.3,980.6 402.6,980.7 403.0,980.0 403.3,979.6 403.6,978.9 403.9,978.9 404.3,978.3 404.6,977.8 404.9,977.4 405.3,977.3 405.6,976.0 405.9,975.0 406.3,976.7 406.6,975.3 406.9,975.2 407.2,973.6 407.6,973.8 407.9,973.3 408.2,972.8 408.6,972.4 408.9,971.9 409.2,971.6 409.6,971.0 409.9,970.4 410.2,969.8 410.5,969.8 410.9,968.9 411.2,968.6 411.5,967.8 411.9,967.3 412.2,967.1 412.5,966.8 412.9,966.3 413.2,965.4 413.5,964.9 413.8,964.6 414.2,964.4 414.5,963.2 414.8,962.6 415.2,962.3 415.5,961.3 415.8,960.9 416.2,960.0 416.5,959.5 416.8,958.6 417.1,956.7 417.5,957.3 417.8,956.6 418.1,956.0 418.5,955.5 418.8,955.1 419.1,953.9 419.5,953.3 419.8,952.5 420.1,952.0 420.4,951.0 420.8,950.8 421.1,949.9 421.4,949.2 421.8,948.3 422.1,948.0 422.4,947.4 422.8,946.9 423.1,946.1 423.4,946.0 423.7,945.2 424.1,944.8 424.4,944.2 424.7,944.5 425.1,943.3 425.4,943.1 425.7,942.3 426.1,942.7 426.4,942.0 426.7,941.5 427.0,941.2 427.4,941.0 427.7,940.8 428.0,940.4 428.4,939.1 428.7,939.8 429.0,939.5 429.4,939.1 429.7,939.1 430.0,938.9 430.3,937.9 430.7,938.2 431.0,938.0 431.3,937.9 431.7,937.5 432.0,937.4 432.3,937.0 432.7,936.3 433.0,936.1 433.3,935.8 433.6,935.8 434.0,935.3 434.3,935.0 434.6,935.0 435.0,934.9 435.3,934.3 435.6,933.9 436.0,933.6 436.3,933.5 436.6,933.3 436.9,933.1 437.3,932.9 437.6,932.5 437.9,931.8 438.3,932.2 438.6,932.4 438.9,931.3 439.3,930.9 439.6,931.2 439.9,931.1 440.2,930.5 440.6,930.7 440.9,930.4 441.2,929.9 441.6,930.0 441.9,928.8 442.2,929.3 442.6,929.7 442.9,928.4 443.2,928.3 443.5,928.0 443.9,927.9 444.2,928.3 444.5,927.6 444.9,927.3 445.2,927.0 445.5,927.0 445.9,928.0 446.2,927.1 446.5,929.6 446.8,926.8 447.2,925.8 447.5,925.7 447.8,926.2 448.2,925.7 448.5,925.5 448.8,924.8 449.2,924.5 449.5,924.6 449.8,924.4 450.1,924.2 450.5,923.4 450.8,921.2 451.1,923.2 451.5,922.9 451.8,922.5 452.1,921.8 452.5,921.5 452.8,921.0 453.1,920.2 453.4,919.3 453.8,918.6 454.1,917.9 454.4,917.1 454.8,916.4 455.1,915.3 455.4,914.6 455.8,913.7 456.1,912.8 456.4,911.9 456.7,910.9 457.1,910.1 457.4,909.2 457.7,908.3 458.1,907.1 458.4,906.1 458.7,904.8 459.1,903.5 459.4,902.3 459.7,900.9 460.0,899.6 460.4,898.3 460.7,897.2 461.0,895.9 461.4,894.9 461.7,893.7 462.0,892.9 462.4,892.1 462.7,891.5 463.0,890.8 463.3,890.2 463.7,889.6 464.0,889.2 464.3,889.0 464.7,888.3 465.0,888.2 465.3,887.0 465.7,886.9 466.0,886.7 466.3,886.5 466.6,885.9 467.0,885.8 467.3,885.6 467.6,884.7 468.0,884.4 468.3,884.5 468.6,884.4 469.0,884.4 469.3,884.2 469.6,882.8 469.9,884.3 470.3,884.1 470.6,882.3 470.9,883.7 471.3,884.0 471.6,884.7 471.9,884.3 472.3,884.8 472.6,884.4 472.9,884.7 473.2,886.8 473.6,886.0 473.9,884.3 474.2,883.0 474.6,886.0 474.9,887.1 475.2,887.1 475.6,887.3 475.9,887.6 476.2,887.6 476.5,888.3 476.9,888.2 477.2,888.9 477.5,889.3 477.9,889.3 478.2,889.6 478.5,890.1 478.9,890.5 479.2,890.8 479.5,891.0 479.8,891.6 480.2,891.9 480.5,892.4 480.8,892.9 481.2,893.2 481.5,894.0 481.8,893.9 482.2,894.3 482.5,895.0 482.8,895.1 483.1,895.9 483.5,896.0 483.8,896.7 484.1,897.5 484.5,897.6 484.8,898.2 485.1,898.9 485.5,899.2 485.8,901.8 486.1,899.8 486.4,900.5 486.8,902.0 487.1,902.6 487.4,902.5 487.8,904.2 488.1,903.5 488.4,903.6 488.8,904.0 489.1,904.6 489.4,905.2 489.7,908.0 490.1,904.6 490.4,905.9 490.7,907.3 491.1,908.0 491.4,908.7 491.7,909.0 492.1,909.7 492.4,909.9 492.7,910.3 493.0,910.3 493.4,910.7 493.7,911.6 494.0,913.6 494.4,913.2 494.7,914.1 495.0,914.4 495.4,914.8 495.7,915.3 496.0,916.0 496.3,916.4 496.7,917.1 497.0,917.7 497.3,918.3 497.7,918.9 498.0,919.7 498.3,919.8 498.7,919.6 499.0,921.2 499.3,922.0 499.6,922.7 500.0,923.2 500.3,923.6 500.6,924.3 501.0,924.9 501.3,925.6 501.6,926.3 502.0,926.7 502.3,927.6 502.6,928.0 502.9,928.7 503.3,929.0 503.6,929.4 503.9,930.6 504.3,931.7 504.6,931.2 504.9,931.7 505.3,931.3 505.6,933.1 505.9,934.0 506.2,935.5 506.6,935.0 506.9,936.5 507.2,936.0 507.6,936.5 507.9,937.2 508.2,937.0 508.6,938.4 508.9,938.9 509.2,941.3 509.5,940.5 509.9,938.1 510.2,939.9 510.5,939.2 510.9,942.0 511.2,942.4 511.5,942.8 511.9,943.4 512.2,944.0 512.5,944.6 512.8,945.1 513.2,945.6 513.5,946.0 513.8,946.7 514.2,947.1 514.5,947.8 514.8,947.9 515.2,948.6 515.5,948.9 515.8,948.7 516.1,950.1 516.5,950.4 516.8,950.7 517.1,951.2 517.5,951.6 517.8,952.3 518.1,952.6 518.5,953.1 518.8,953.4 519.1,954.6 519.4,954.5 519.8,954.6 520.1,955.0 520.4,955.5 520.8,955.8 521.1,956.3 521.4,956.9 521.8,957.0 522.1,957.8 522.4,958.0 522.7,958.5 523.1,958.7 523.4,958.9 523.7,959.6 524.1,959.9 524.4,960.2 524.7,960.7 525.1,961.1 525.4,961.3 525.7,961.8 526.0,961.6 526.4,962.4 526.7,962.9 527.0,963.2 527.4,961.8 527.7,964.7 528.0,964.4 528.4,964.9 528.7,964.5 529.0,965.9 529.3,966.3 529.7,964.7 530.0,965.3 530.3,966.6 530.7,967.5 531.0,967.9 531.3,968.3 531.7,968.6 532.0,968.9 532.3,968.9 532.6,969.6 533.0,970.3 533.3,969.7 533.6,970.1 534.0,970.9 534.3,971.2 534.6,971.9 535.0,972.3 535.3,972.4 535.6,973.0 535.9,972.8 536.3,973.0 536.6,973.3 536.9,971.9 537.3,974.1 537.6,975.5 537.9,975.8 538.3,974.6 538.6,975.3 538.9,976.1 539.2,976.3 539.6,976.6 539.9,977.0 540.2,977.2 540.6,977.4 540.9,977.9 541.2,978.2 541.6,978.6 541.9,978.6 542.2,978.9 542.5,981.3 542.9,979.7 543.2,980.2 543.5,979.3 543.9,981.2 544.2,979.9 544.5,981.0 544.9,981.6 545.2,982.0 545.5,982.1 545.8,982.6 546.2,982.8 546.5,982.9 546.8,983.2 547.2,983.2 547.5,983.8 547.8,984.0 548.2,985.0 548.5,984.3 548.8,984.6 549.1,985.2 549.5,985.0 549.8,985.7 550.1,986.1 550.5,989.2 550.8,986.5 551.1,986.8 551.5,987.2 551.8,987.0 552.1,987.4 552.4,987.6 552.8,987.1 553.1,989.3 553.4,987.9 553.8,989.2 554.1,990.9 554.4,986.1 554.8,989.8 555.1,989.2 555.4,990.8 555.7,991.5 556.1,989.0 556.4,990.6 556.7,990.6 557.1,991.2 557.4,991.6 557.7,991.9 558.1,991.9 558.4,992.2 558.7,992.4 559.0,992.5 559.4,992.9 559.7,993.4 560.0,993.0 560.4,993.7 560.7,993.8 561.0,994.1 561.4,994.3 561.7,995.1 562.0,994.4 562.3,994.7 562.7,994.5 563.0,995.0 563.3,992.4 563.7,995.8 564.0,994.4 564.3,994.3 564.7,996.3 565.0,997.7 565.3,994.0 565.6,992.9 566.0,996.1 566.3,996.9 566.6,996.9 567.0,997.0 567.3,997.4 567.6,996.8 568.0,997.7 568.3,997.6 568.6,997.7 568.9,998.2 569.3,998.0 569.6,998.3 569.9,998.6 570.3,999.0 570.6,998.8 570.9,999.2 571.3,998.9 571.6,999.1 571.9,1000.0 572.2,999.7 572.6,999.7 572.9,999.7 573.2,1000.0 573.6,1000.3 573.9,1000.4 574.2,1000.7 574.6,1000.6 574.9,1000.6 575.2,1001.7 575.5,1001.1 575.9,1001.2 576.2,999.0 576.5,1001.6 576.9,1005.4 577.2,1002.9 577.5,998.8 577.9,1002.1 578.2,1002.4 578.5,1003.6 578.8,998.7 579.2,1003.1 579.5,1004.7 579.8,1002.4 580.2,1003.0 580.5,1003.4 580.8,1003.3 581.2,1003.2 581.5,1004.1 581.8,1002.6 582.1,1003.6 582.5,1003.5 582.8,1003.8 583.1,1004.5 583.5,1004.4 583.8,1004.7 584.1,1004.7 584.5,1005.0 584.8,1004.9 585.1,1005.6 585.4,1005.2 585.8,1005.4 586.1,1005.7 586.4,1006.0 586.8,1005.9 587.1,1005.9 587.4,1006.2 587.8,1006.9 588.1,1005.9 588.4,1006.7 588.7,1006.8 589.1,1009.3 589.4,1006.6 589.7,1006.9 590.1,1006.8 590.4,1007.2 590.7,1007.4 591.1,1007.5 591.4,1008.3 591.7,1006.0 592.0,1007.9 592.4,1010.2 592.7,1009.6 593.0,1008.9 593.4,1003.3 593.7,1009.5 594.0,1011.0 594.4,1006.6 594.7,1008.1 595.0,1007.8 595.3,1007.3 595.7,1007.8 596.0,1007.9 596.3,1007.6 596.7,1007.5 597.0,1007.6 597.3,1007.2 597.7,1006.8 598.0,1006.9 598.3,1006.8 598.6,1006.7 599.0,1006.3 599.3,1006.1 599.6,1005.7 600.0,1005.6 600.3,1005.3 600.6,1005.8 601.0,1005.0 601.3,1005.3 601.6,1004.6 601.9,1004.6 602.3,1003.9 602.6,1004.4 602.9,1004.6 603.3,1004.2 603.6,1004.2 603.9,1004.3 604.3,1004.5 604.6,1004.0 604.9,1004.0 605.2,1004.3 605.6,1003.8 605.9,1003.8 606.2,1003.8 606.6,1004.0 606.9,1003.7 607.2,1004.3 607.6,1003.8 607.9,1003.6 608.2,1004.6 608.5,999.0 608.9,1004.6 609.2,1005.2 609.5,1000.4 609.9,1006.6 610.2,1004.0 610.5,1005.9 610.9,1003.6 611.2,1003.2 611.5,1003.7 611.8,1003.3 612.2,1003.8 612.5,1002.8 612.8,1004.0 613.2,1004.1 613.5,1003.7 613.8,1003.1 614.2,1005.0 614.5,1003.6 614.8,1002.6 615.1,1001.9 615.5,1003.0 615.8,1000.4 616.1,1003.1 616.5,1008.3 616.8,1005.0 617.1,1003.2 617.5,1003.5 617.8,1002.9 618.1,1003.4 618.4,1002.9 618.8,1003.3 619.1,1003.3 619.4,1003.4 619.8,1003.3 620.1,1003.2 620.4,1003.6 620.8,1003.0 621.1,1003.3 621.4,1003.2 621.7,1003.5 622.1,1003.2 622.4,1003.1 622.7,1003.8 623.1,1003.1 623.4,1002.7 623.7,1003.8 624.1,1003.1 624.4,1003.2 624.7,1005.8 625.0,1003.2 625.4,1003.1 625.7,1002.6 626.0,1003.2 626.4,1003.9 626.7,1003.5 627.0,1003.3 627.4,1003.0 627.7,1002.8 628.0,1002.9 628.3,1002.9 628.7,1002.7 629.0,1003.6 629.3,1003.1 629.7,1002.9 630.0,1003.1 630.3,1003.7 630.7,1003.4 631.0,1003.5 631.3,1002.9 631.6,1002.6 632.0,1003.2 632.3,1003.2 632.6,1003.4 633.0,1002.6 633.3,1002.5 633.6,1006.3 634.0,998.8 634.3,1002.9 634.6,1003.0 634.9,1002.7 635.3,1003.4 635.6,1003.0 635.9,1002.6 636.3,1002.8 636.6,1002.8 636.9,1003.6 637.3,1002.9 637.6,1002.8 637.9,1003.5 638.2,1003.1 638.6,1003.8 638.9,1002.8 639.2,1002.4 639.6,1003.5 639.9,1002.8 640.2,1003.0 640.6,1002.5 640.9,1002.8 641.2,1003.6 641.5,1002.7 641.9,1006.4 642.2,1002.9 642.5,1003.2 642.9,1003.6 643.2,1003.0 643.5,1002.8 643.9,1003.9 644.2,1003.6 644.5,1002.9 644.8,1003.3 645.2,1003.1 645.5,1002.9 645.8,1002.6 646.2,1003.0 646.5,1002.5 646.8,1003.5 647.2,1003.5 647.5,1002.6 647.8,1002.7 648.1,1002.5 648.5,1003.4 648.8,1002.9 649.1,1002.5 649.5,1002.8 649.8,1002.4 650.1,1003.0 650.5,1003.3 650.8,1002.1 651.1,1003.0 651.4,1003.0 651.8,1003.0 652.1,1003.0 652.4,1002.7 652.8,1002.8 653.1,1002.6 653.4,1002.4 653.8,1003.4 654.1,1002.6 654.4,1002.6 654.7,1001.8 655.1,1003.1 655.4,1002.7 655.7,1002.6 656.1,1002.7 656.4,1002.7 656.7,1002.5 657.1,1002.5 657.4,1002.9 657.7,1003.1 658.0,1003.2 658.4,1002.8 658.7,1003.2 659.0,1003.2 659.4,1003.2 659.7,1003.1 660.0,1002.3 660.4,1002.1 660.7,1002.9 661.0,1003.3 661.3,1002.6 661.7,1002.9 662.0,1002.8 662.3,1002.2 662.7,1002.6 663.0,1002.4 663.3,1003.5 663.7,1002.9 664.0,1003.2 664.3,1002.9 664.6,1002.9 665.0,1003.1 665.3,1002.5 665.6,1002.4 666.0,1002.4 666.3,1003.1 666.6,998.8 667.0,1002.4 667.3,1002.3 667.6,1002.5 667.9,1002.8 668.3,1002.7 668.6,1002.5 668.9,1002.3 669.3,1002.5 669.6,1003.2 669.9,1003.5 670.3,1002.8 670.6,1003.2 670.9,1007.6 671.2,1002.2 671.6,999.3 671.9,998.1 672.2,1002.4 672.6,1007.6 672.9,1003.4 673.2,1004.3 673.6,1003.2 673.9,1002.4 674.2,1001.7 674.5,1005.4 674.9,1000.2 675.2,1000.9 675.5,1001.7 675.9,1002.7 676.2,1003.0 676.5,1001.9 676.9,1002.0 677.2,1001.9 677.5,1003.0 677.8,1002.7 678.2,1002.6 678.5,1002.7 678.8,1006.9 679.2,1001.7 679.5,1001.9 679.8,1002.6 680.2,1002.9 680.5,1002.8 680.8,1002.0 681.1,1002.5 681.5,1002.8 681.8,1002.5 682.1,1002.3 682.5,1002.3 682.8,1002.9 683.1,1002.0 683.5,1002.3 683.8,1002.9 684.1,1002.3 684.4,1001.5 684.8,1002.6 685.1,1002.4 685.4,1002.0 685.8,1002.0 686.1,1002.7 686.4,1002.8 686.8,1007.5 687.1,1003.0 687.4,998.9 687.7,1000.4 688.1,1006.1 688.4,1002.4 688.7,999.1 689.1,1004.9 689.4,1001.9 689.7,1005.4 690.1,1007.5 690.4,1003.0 690.7,1003.5 691.0,1002.3 691.4,1003.0 691.7,1003.1 692.0,1007.5 692.4,1002.1 692.7,1001.6 693.0,1003.5 693.4,1005.9 693.7,1002.2 694.0,1002.2 694.3,1002.1 694.7,1002.7 695.0,1002.5 695.3,1002.1 695.7,1002.4 696.0,1002.9 696.3,1002.5 696.7,1002.2 697.0,1002.3 697.3,1002.9 697.6,1002.0 698.0,1001.9 698.3,1002.2 698.6,1002.1 699.0,1002.8 699.3,1002.5 699.6,1002.7 700.0,1002.3 700.3,1002.7 700.6,1002.4 700.9,1002.1 701.3,1002.1 701.6,1002.6 701.9,1002.6 702.3,1002.2 702.6,1002.8 702.9,1002.6 703.3,1002.3 703.6,1002.0 703.9,1002.9 704.2,1002.5 704.6,1002.7 704.9,1003.3 705.2,1002.5 705.6,1002.7 705.9,1002.5 706.2,1002.4 706.6,1002.0 706.9,1002.9 707.2,1002.7 707.5,1001.5 707.9,1001.8 708.2,1002.8 708.5,1002.0 708.9,1002.3 709.2,1002.4 709.5,1003.2 709.9,1002.6 710.2,1003.0 710.5,1002.5 710.8,1002.1 711.2,1002.8 711.5,1003.1 711.8,1002.3 712.2,1002.2 712.5,1002.8 712.8,1003.1 713.2,1002.3 713.5,1002.2 713.8,1002.3 714.1,1002.3 714.5,1002.2 714.8,1002.6 715.1,999.9 715.5,997.4 715.8,1002.5 716.1,1001.1 716.5,1003.8 716.8,1001.9 717.1,1003.1 717.4,1002.4 717.8,1002.7 718.1,1002.0 718.4,1000.5 718.8,1002.1 719.1,997.4 719.4,1001.9 719.8,1003.4 720.1,997.4 720.4,1003.3 720.7,1000.8 721.1,1002.3 721.4,1003.1 721.7,1002.2 722.1,1001.6 722.4,1002.2 722.7,1002.1 723.1,1002.3 723.4,1002.8 723.7,1002.3 724.0,1004.2 724.4,1001.9 724.7,1002.5 725.0,1002.7 725.4,1002.0 725.7,1002.2 726.0,1001.5 726.4,1002.8 726.7,1002.5 727.0,997.8 727.3,1003.7 727.7,997.9 728.0,1002.1 728.3,1003.1 728.7,1000.7 729.0,1003.1 729.3,1001.8 729.7,1002.7 730.0,1002.4 730.3,1002.0 730.6,1002.5 731.0,1002.2 731.3,1002.7 731.6,1002.9 732.0,1002.5 732.3,1002.7 732.6,1002.8 733.0,1003.1 733.3,1001.1 733.6,1002.2 733.9,1003.0 734.3,1002.5 734.6,1002.5 734.9,1002.7 735.3,1002.8 735.6,1002.5 735.9,1002.6 736.3,1002.7 736.6,1002.3 736.9,1002.1 737.2,1003.3 737.6,1002.7 737.9,1002.5 738.2,1002.5 738.6,1002.6 738.9,1002.7 739.2,1002.6 739.6,1002.7 739.9,1002.7 740.2,1002.5 740.5,1002.0 740.9,1002.6 741.2,1002.8 741.5,1001.9 741.9,1002.4 742.2,1002.1 742.5,1005.2 742.9,1003.0 743.2,1003.0 743.5,1003.1 743.8,1003.4 744.2,1002.9 744.5,1003.2 744.8,1003.3 745.2,1002.5 745.5,1003.3 745.8,1003.3 746.2,1003.0 746.5,1003.3 746.8,1003.3 747.1,1003.1 747.5,1003.2 747.8,1003.4 748.1,1003.3 748.5,1002.6 748.8,1000.2 749.1,1003.5 749.5,1003.4 749.8,1003.1 750.1,1003.3 750.4,1003.0 750.8,1003.4 751.1,1003.3 751.4,1003.5 751.8,1002.9 752.1,1003.0 752.4,1003.2 752.8,1003.6 753.1,1003.4 753.4,1003.7 753.7,1003.6 754.1,1003.2 754.4,1002.9 754.7,1002.9 755.1,1003.2 755.4,1003.8 755.7,1003.4 756.1,1003.7 756.4,1003.0 756.7,1003.2 757.0,1003.2 757.4,1003.2 757.7,1003.5 758.0,1003.5 758.4,1003.3 758.7,1003.3 759.0,1003.5 759.4,1003.1 759.7,1004.1 760.0,1003.5 760.3,1004.5 760.7,1003.8 761.0,1004.0 761.3,1003.8 761.7,1003.8 762.0,1004.0 762.3,1003.5 762.7,1003.5 763.0,1003.6 763.3,1003.6 763.6,1003.4 764.0,1004.4 764.3,1004.2 764.6,1003.9 765.0,1004.3 765.3,1003.9 765.6,1003.7 766.0,1004.4 766.3,1004.2 766.6,1003.9 766.9,1003.5 767.3,1004.4 767.6,1003.6 767.9,1003.7 768.3,1004.0 768.6,1003.1 768.9,1005.1 769.3,1003.2 769.6,1001.9 769.9,1004.9 770.2,1004.3 770.6,1004.1 770.9,1003.4 771.2,1004.5 771.6,1004.0 771.9,1004.5 772.2,1004.2 772.6,1004.5 772.9,1004.6 773.2,1004.9 773.5,1004.2 773.9,1003.9 774.2,1004.3 774.5,1003.1 774.9,1004.2 775.2,1007.3 775.5,1003.1 775.9,1005.9 776.2,1008.6 776.5,1006.6 776.8,1007.6 777.2,1001.9 777.5,1002.8 777.8,1004.7 778.2,1004.5 778.5,1009.3 778.8,1009.3 779.2,1005.0 779.5,1004.1 779.8,999.6 780.1,1003.0 780.5,1003.2 780.8,1005.5 781.1,1004.2 781.5,1004.5 781.8,1005.3 782.1,1004.2 782.5,1004.5 782.8,1004.7 783.1,1005.0 783.4,1004.2 783.8,1004.2 784.1,1005.0 784.4,1004.7 784.8,1004.2 785.1,1002.1 785.4,1005.9 785.8,1007.5 786.1,1004.6 786.4,1004.6 786.7,1004.5 787.1,1003.8 787.4,1005.2 787.7,1009.6 788.1,1005.2 788.4,1004.6 788.7,1009.0 789.1,1004.8 789.4,1004.8 789.7,1004.7 790.0,1005.3 790.4,1005.3 790.7,1005.2 791.0,1005.9 791.4,1004.8 791.7,1004.5 792.0,1005.8 792.4,1004.7 792.7,1006.5 793.0,1004.6 793.3,1005.1 793.7,1005.2 794.0,1004.6 794.3,1005.2 794.7,1004.7 795.0,1004.8 795.3,1005.0 795.7,1004.8 796.0,1005.3 796.3,1004.9 796.6,1005.1 797.0,1005.2 797.3,1004.8 797.6,1002.9 798.0,1005.0 798.3,1007.4 798.6,1005.7 799.0,1005.3 799.3,1006.5 799.6,1005.4 799.9,1004.7 800.3,1005.1 800.6,1005.6 800.9,1005.0 801.3,1007.1 801.6,1003.2 801.9,1001.2 802.3,1006.7 802.6,1005.4 802.9,1005.3 803.2,1006.0 803.6,1005.4 803.9,1004.5 804.2,1005.8 804.6,1004.8 804.9,1005.4 805.2,1005.4 805.6,1005.4 805.9,1005.4 806.2,1005.0 806.5,1005.6 806.9,1005.4 807.2,1004.3 807.5,1005.6 807.9,1006.2 808.2,1005.0 808.5,1005.2 808.9,1005.9 809.2,1005.1 809.5,1005.4 809.8,1005.1 810.2,1005.4 810.5,1005.9 810.8,1005.5 811.2,1005.4 811.5,1005.6 811.8,1005.6 812.2,1005.7 812.5,1001.2 812.8,1005.0 813.1,1005.8 813.5,1005.4 813.8,1005.4 814.1,1005.9 814.5,1005.7 814.8,1005.4 815.1,1006.4 815.5,1006.2 815.8,1005.4 816.1,1005.0 816.4,1006.0 816.8,1005.8 817.1,1005.6 817.4,1005.7 817.8,1005.6 818.1,1005.9 818.4,1005.7 818.8,1006.0 819.1,1006.1 819.4,1005.7 819.7,1005.9 820.1,1005.9 820.4,1005.7 820.7,1007.5 821.1,1005.7 821.4,1005.8 821.7,1005.2 822.1,1006.0 822.4,1007.9 822.7,1005.6 823.0,1007.0 823.4,1006.8 823.7,1004.6 824.0,1006.3 824.4,1005.8 824.7,1006.6 825.0,1005.2 825.4,1005.9 825.7,1006.3 826.0,1006.0 826.3,1006.1 826.7,1005.9 827.0,1001.2 827.3,1004.6 827.7,1007.0 828.0,1006.1 828.3,1005.6 828.7,1006.2 829.0,1005.9 829.3,1005.9 829.6,1006.1 830.0,1005.6 830.3,1006.4 830.6,1006.7 831.0,1005.6 831.3,1006.1 831.6,1005.6 832.0,1006.1 832.3,1006.2 832.6,1006.6 832.9,1005.7 833.3,1005.9 833.6,1008.0 833.9,1006.0 834.3,1006.2 834.6,1006.7 834.9,1006.3 835.3,1005.7 835.6,1005.8 835.9,1005.7 836.2,1006.4 836.6,1006.2 836.9,1006.3 837.2,1006.2 837.6,1006.3 837.9,1005.5 838.2,1006.3 838.6,1005.9 838.9,1005.9 839.2,1006.2 839.5,1006.2 839.9,1006.1 840.2,1006.8 840.5,1006.5 840.9,1005.5 841.2,1006.0 841.5,1005.9 841.9,1006.0 842.2,1006.8 842.5,1004.0 842.8,1006.6 843.2,1006.5 843.5,1005.8 843.8,1005.9 844.2,1006.2 844.5,1006.4 844.8,1006.0 845.2,1006.4 845.5,1006.3 845.8,1006.4 846.1,1006.5 846.5,1005.2 846.8,1008.0 847.1,1009.4 847.5,1004.2 847.8,1007.0 848.1,1008.8 848.5,1004.3 848.8,1006.3 849.1,1004.3 849.4,1006.3 849.8,1006.1 850.1,1006.0 850.4,1009.7 850.8,1006.8 851.1,1005.9 851.4,1006.3 851.8,1006.5 852.1,1008.5 852.4,1006.3 852.7,1006.3 853.1,1005.8 853.4,1006.7 853.7,1006.7 854.1,1006.9 854.4,1005.8 854.7,1006.5 855.1,1006.8 855.4,1006.5 855.7,1006.1 856.0,1005.9 856.4,1005.4 856.7,1006.0 857.0,1006.1 857.4,1007.0 857.7,1005.9 858.0,1006.7 858.4,1006.6 858.7,1006.5 859.0,1006.6 859.3,1006.0 859.7,1006.5 860.0,1006.8 860.3,1006.6 860.7,1006.5 861.0,1006.0 861.3,1006.4 861.7,1007.0 862.0,1006.9 862.3,1006.7 862.6,1006.6 863.0,1007.0 863.3,1007.8 863.6,1006.2 864.0,1006.7 864.3,1011.2 864.6,1006.1 865.0,1006.9 865.3,1006.3 865.6,1006.9 865.9,1006.6 866.3,1006.7 866.6,1006.2 866.9,1006.9 867.3,1006.5 867.6,1005.0 867.9,1007.0 868.3,1010.1 868.6,1002.2 868.9,1008.5 869.2,1007.9 869.6,1008.9 869.9,1008.1 870.2,1006.6 870.6,1010.6 870.9,1006.8 871.2,1007.7 871.6,1005.3 871.9,1006.6 872.2,1007.2 872.5,1005.8 872.9,1006.8 873.2,1007.1 873.5,1006.3 873.9,1007.8 874.2,1006.5 874.5,1006.8 874.9,1006.4 875.2,1006.9 875.5,1006.2 875.8,1006.8 876.2,1006.8 876.5,1007.1 876.8,1004.5 877.2,1007.0 877.5,1006.8 877.8,1006.5 878.2,1011.0 878.5,1006.4 878.8,1011.7 879.1,1005.9 879.5,1006.0 879.8,1005.4 880.1,1005.7 880.5,1010.0 880.8,1007.0 881.1,1006.2 881.5,1006.8 881.8,1006.8 882.1,1006.6 882.4,1006.5 882.8,1006.7 883.1,1007.1 883.4,1007.0 883.8,1006.6 884.1,1006.7 884.4,1007.2 884.8,1006.5 885.1,1003.4 885.4,1007.1 885.7,1007.2 886.1,1006.5 886.4,1007.0 886.7,1006.8 887.1,1006.2 887.4,1006.5 887.7,1007.0 888.1,1006.8 888.4,1006.8 888.7,1006.4 889.0,1006.7 889.4,1007.0 889.7,1007.2 890.0,1007.0 890.4,1007.0 890.7,1006.7 891.0,1007.7 891.4,1007.1 891.7,1006.2 892.0,1006.5 892.3,1006.9 892.7,1006.5 893.0,1007.2 893.3,1011.8 893.7,1007.0 894.0,1006.8 894.3,1007.5 894.7,1003.6 895.0,1006.6 895.3,1006.3 895.6,1007.5 896.0,1004.7 896.3,1009.6 896.6,1005.0 897.0,1006.0 897.3,1011.9 897.6,1007.8 898.0,1009.1 898.3,1006.5 898.6,1006.3 898.9,1006.6 899.3,1007.7 899.6,1006.6 899.9,1007.0 900.3,1007.8 900.6,1006.9 900.9,1006.8 901.3,1006.4 901.6,1007.2 901.9,1006.2 902.2,1006.4 902.6,1006.9 902.9,1007.5 903.2,1007.6 903.6,1007.4 903.9,1007.0 904.2,1002.8 904.6,1006.7 904.9,1009.6 905.2,1006.3 905.5,1009.6 905.9,1004.8 906.2,1004.6 906.5,1006.9 906.9,1007.1 907.2,1006.8 907.5,1006.8 907.9,1007.0 908.2,1007.2 908.5,1006.7 908.8,1006.2 909.2,1007.6 909.5,1006.3 909.8,1006.9 910.2,1009.9 910.5,1007.5 910.8,1006.9 911.2,1007.0 911.5,1007.0 911.8,1007.2 912.1,1007.4 912.5,1006.8 912.8,1007.0 913.1,1006.4 913.5,1006.5 913.8,1006.6 914.1,1006.5 914.5,1005.4 914.8,1007.1 915.1,1007.1 915.4,1007.8 915.8,1007.1 916.1,1007.4 916.4,1007.2 916.8,1006.9 917.1,1006.9 917.4,1007.3 917.8,1007.1 918.1,1007.6 918.4,1007.3 918.7,1007.3 919.1,1006.8 919.4,1006.7 919.7,1006.8 920.1,1007.8 920.4,1006.7 920.7,1008.9 921.1,1007.3 921.4,1006.8 921.7,1007.0 922.0,1006.3 922.4,1007.1 922.7,1007.1 923.0,1006.9 923.4,1006.9 923.7,1007.0 924.0,1007.2 924.4,1006.9 924.7,1007.3 925.0,1007.4 925.3,1006.9 925.7,1007.1 926.0,1007.3 926.3,1006.4 926.7,1006.9 927.0,1007.8 927.3,1006.4 927.7,1006.9 928.0,1007.2 928.3,1007.2 928.6,1007.1 929.0,1007.0 929.3,1007.0 929.6,1007.2 930.0,1007.4 930.3,1006.9 930.6,1007.3 931.0,1007.0 931.3,1007.8 931.6,1007.2 931.9,1007.1 932.3,1006.8 932.6,1006.7 932.9,1007.2 933.3,1007.2 933.6,1007.2 933.9,1006.8 934.3,1007.0 934.6,1007.0 934.9,1006.9 935.2,1006.9 935.6,1006.9 935.9,1006.5 936.2,1006.9 936.6,1006.5 936.9,1006.9" stroke="#ff0000" stroke-width="1.3" fill="none" stroke-linejoin="miter"/>
<path d="M125.1,1170.4 126.1,1170.5 127.1,1170.5 128.1,1170.6 129.1,1170.6 130.1,1170.6 131.1,1170.7 132.1,1170.7 133.1,1170.7 134.1,1170.8 135.1,1170.8 136.1,1170.8 137.1,1170.8 138.1,1170.8 139.1,1170.8 140.1,1170.9 141.1,1170.9 142.1,1170.9 143.1,1170.9 144.1,1170.9 145.1,1170.9 146.1,1170.9 147.1,1170.9 148.1,1170.9 149.1,1170.9 150.1,1170.9 151.1,1170.9 152.1,1170.8 153.1,1170.2 154.1,1169.4 155.1,1168.4 156.1,1167.4 157.1,1166.6 158.1,1165.6 159.1,1164.6 160.1,1163.6 161.1,1162.9 162.1,1162.4 163.1,1162.4 164.1,1162.6 165.1,1162.8 166.1,1163.1 167.1,1163.4 168.1,1163.6 169.1,1163.9 170.1,1164.0 171.1,1164.1 172.1,1164.1 173.1,1164.1 174.1,1164.0 175.1,1164.0 176.1,1163.9 177.1,1163.9 178.1,1163.8 179.1,1163.7 180.1,1163.6 181.1,1163.4 182.1,1163.3 183.1,1163.1 184.1,1162.7 185.1,1161.8 186.1,1160.3 187.1,1156.4 188.1,1151.3 189.1,1147.1 190.1,1144.4 191.1,1142.2 192.1,1141.6 193.1,1141.6 194.1,1141.7 195.1,1141.8 196.1,1142.0 197.1,1142.2 198.1,1142.4 199.1,1142.6 200.1,1142.8 201.1,1143.0 202.1,1143.4 203.1,1143.8 204.1,1144.3 205.1,1144.7 206.1,1145.1 207.1,1145.3 208.1,1145.1 209.1,1143.5 210.1,1140.7 211.1,1137.4 212.1,1133.0 213.1,1126.7 214.1,1120.6 215.1,1117.0 216.1,1115.0 217.1,1113.4 218.1,1112.1 219.1,1111.3 220.1,1111.1 221.1,1111.1 222.1,1111.2 223.1,1111.3 224.1,1111.4 225.1,1111.5 226.1,1111.6 227.1,1111.7 228.1,1111.8 229.1,1111.8 230.1,1111.2 231.1,1107.4 232.1,1102.5 233.1,1096.9 234.1,1089.9 235.1,1082.7 236.1,1076.6 237.1,1073.0 238.1,1070.9 239.1,1069.2 240.1,1067.8 241.1,1066.7 242.1,1065.6 243.1,1064.7 244.1,1064.1 245.1,1063.5 246.1,1062.9 247.1,1062.2 248.1,1061.3 249.1,1060.0 250.1,1057.1 251.1,1051.9 252.1,1044.4 253.1,1032.1 254.1,1024.0 255.1,1020.7 256.1,1018.4 257.1,1017.6 258.1,1018.2 259.1,1019.7 260.1,1021.6 261.1,1023.8 262.1,1026.4 263.1,1030.4 264.1,1035.3 265.1,1040.1 266.1,1044.0 267.1,1046.2 268.1,1046.4 269.1,1046.4 270.1,1046.4 271.1,1046.4 272.1,1045.3 273.1,1043.0 274.1,1040.9 275.1,1040.3 276.1,1040.9 277.1,1042.0 278.1,1043.3 279.1,1045.1 280.1,1048.4 281.1,1052.7 282.1,1057.6 283.1,1062.6 284.1,1067.0 285.1,1070.5 286.1,1072.4 287.1,1073.7 288.1,1074.6 289.1,1075.4 290.1,1076.1 291.1,1077.1 292.1,1078.4 293.1,1080.1 294.1,1082.2 295.1,1084.6 296.1,1087.3 297.1,1090.1 298.1,1093.1 299.1,1096.9 300.1,1101.6 301.1,1106.5 302.1,1111.2 303.1,1114.9 304.1,1117.2 305.1,1118.3 306.1,1119.2 307.1,1119.8 308.1,1120.4 309.1,1121.1 310.1,1122.0 311.1,1123.3 312.1,1124.9 313.1,1126.9 314.1,1129.0 315.1,1131.2 316.1,1133.5 317.1,1135.6 318.1,1137.6 319.1,1139.2 320.1,1140.5 321.1,1141.6 322.1,1142.6 323.1,1143.5 324.1,1144.4 325.1,1145.2 326.1,1146.0 327.1,1146.7 328.1,1147.4 329.1,1148.1 330.1,1148.7 331.1,1149.4 332.1,1150.0 333.1,1150.5 334.1,1151.1 335.1,1151.7 336.1,1152.2 337.1,1152.7 338.1,1153.2 339.1,1153.6 340.1,1154.0 341.1,1154.4 342.1,1154.8 343.1,1155.2 344.1,1155.6 345.1,1155.9 346.1,1156.3 347.1,1156.7 348.1,1157.0 349.1,1157.3 350.1,1157.7 351.1,1158.0 352.1,1158.3 353.1,1158.6 354.1,1158.9 355.1,1159.2 356.1,1159.5 357.1,1159.7 358.1,1160.0 359.1,1160.3 360.1,1160.5 361.1,1160.8 362.1,1161.0 363.1,1161.2 364.1,1161.4 365.1,1161.6 366.1,1161.8 367.1,1162.0 368.1,1162.2 369.1,1162.5 370.1,1162.7 371.1,1162.9 372.1,1163.2 373.1,1163.5 374.1,1163.8 375.1,1164.0 376.1,1164.3 377.1,1164.6 378.1,1164.9 379.1,1165.3 380.1,1165.6 381.1,1165.9 382.1,1166.2 383.1,1166.5 384.1,1166.8 385.1,1167.1 386.1,1167.4 387.1,1167.7 388.1,1168.0 389.1,1168.3 390.1,1168.6 391.1,1168.8 392.1,1169.1 393.1,1169.3 394.1,1169.6 395.1,1169.8 396.1,1170.0 397.1,1170.2 398.1,1170.3 399.1,1170.5 400.1,1170.6 401.1,1170.8 402.1,1170.9 403.1,1171.1 404.1,1171.2 405.1,1171.4 406.1,1171.5 407.1,1171.6 408.1,1171.8 409.1,1171.9 410.1,1172.1 411.1,1172.2 412.1,1172.3 413.1,1172.4 414.1,1172.5 415.1,1172.6 416.1,1172.8 417.1,1172.9 418.1,1172.9 419.1,1173.0 420.1,1173.1 421.1,1173.2 422.1,1173.2 423.1,1173.3 424.1,1173.3 425.1,1173.4 426.1,1173.4 427.1,1173.4 428.1,1173.4 429.1,1173.4 430.1,1173.4 431.1,1173.4 432.1,1173.4 433.1,1173.4 434.1,1173.4 435.1,1173.4 436.1,1173.4 437.1,1173.4 438.1,1173.4 439.1,1173.4 440.1,1173.4 441.1,1173.4 442.1,1173.4 443.1,1173.4 444.1,1173.4 445.1,1173.4 446.1,1173.4 447.1,1173.4 448.1,1173.4 449.1,1173.4 450.1,1173.4 451.1,1173.4 452.1,1173.4 453.1,1173.4 454.1,1173.4 455.1,1173.4 456.1,1173.4 457.1,1173.4 458.1,1173.4 459.1,1173.3 460.1,1173.1 461.1,1172.8 462.1,1172.6 463.1,1172.3 464.1,1171.9 465.1,1171.6 466.1,1171.2 467.1,1170.9 468.1,1170.5 469.1,1170.2 470.1,1169.9 471.1,1169.7 472.1,1169.6 473.1,1169.4 474.1,1169.3 475.1,1169.1 476.1,1169.0 477.1,1168.9 478.1,1168.7 479.1,1168.6 480.1,1168.5 481.1,1168.4 482.1,1168.3 483.1,1168.2 484.1,1168.1 485.1,1168.0 486.1,1167.9 487.1,1167.8 488.1,1167.7 489.1,1167.6 490.1,1167.5 491.1,1167.4 492.1,1167.3 493.1,1167.2 494.1,1167.2 495.1,1167.1 496.1,1167.0 497.1,1166.9 498.1,1166.8 499.1,1166.8 500.1,1166.7 501.1,1166.6 502.1,1166.5 503.1,1166.4 504.1,1166.3 505.1,1166.3 506.1,1166.2 507.1,1166.1 508.1,1166.0 509.1,1165.9 510.1,1165.8 511.1,1165.7 512.1,1165.6 513.1,1165.5 514.1,1165.4 515.1,1165.4 516.1,1165.3 517.1,1165.2 518.1,1165.1 519.1,1165.0 520.1,1165.0 521.1,1164.9 522.1,1164.9 523.1,1164.8 524.1,1164.8 525.1,1164.7 526.1,1164.7 527.1,1164.6 528.1,1164.6 529.1,1164.6 530.1,1164.6 531.1,1164.6 532.1,1164.6 533.1,1164.6 534.1,1164.6 535.1,1164.7 536.1,1164.7 537.1,1164.7 538.1,1164.7 539.1,1164.8 540.1,1164.8 541.1,1164.9 542.1,1164.9 543.1,1164.9 544.1,1165.0 545.1,1165.0 546.1,1165.1 547.1,1165.1 548.1,1165.2 549.1,1165.2 550.1,1165.3 551.1,1165.3 552.1,1165.4 553.1,1165.4 554.1,1165.5 555.1,1165.5 556.1,1165.6 557.1,1165.6 558.1,1165.6 559.1,1165.7 560.1,1165.7 561.1,1165.7 562.1,1165.8 563.1,1165.8 564.1,1165.8 565.1,1165.9 566.1,1165.9 567.1,1166.0 568.1,1166.0 569.1,1166.0 570.1,1166.1 571.1,1166.1 572.1,1166.1 573.1,1166.2 574.1,1166.2 575.1,1166.2 576.1,1166.3 577.1,1166.3 578.1,1166.4 579.1,1166.4 580.1,1166.4 581.1,1166.5 582.1,1166.5 583.1,1166.5 584.1,1166.6 585.1,1166.6 586.1,1166.6 587.1,1166.6 588.1,1166.7 589.1,1166.7 590.1,1166.7 591.1,1166.7 592.1,1166.8 593.1,1166.8 594.1,1166.8 595.1,1166.8 596.1,1166.8 597.1,1166.9 598.1,1166.9 599.1,1166.9 600.1,1166.9 601.1,1166.9 602.1,1166.9 603.1,1166.9 604.1,1166.9 605.1,1166.9 606.1,1166.9 607.1,1166.9 608.1,1166.9 609.1,1166.9 610.1,1166.9 611.1,1166.9 612.1,1166.9 613.1,1166.9 614.1,1166.9 615.1,1166.9 616.1,1166.9 617.1,1166.9 618.1,1166.9 619.1,1166.9 620.1,1166.9 621.1,1166.9 622.1,1166.9 623.1,1166.9 624.1,1166.9 625.1,1166.9 626.1,1166.9 627.1,1166.9 628.1,1166.9 629.1,1166.9 630.1,1166.9 631.1,1166.9 632.1,1166.9 633.1,1166.9 634.1,1166.9 635.1,1166.9 636.1,1166.9 637.1,1166.9 638.1,1166.9 639.1,1166.9 640.1,1166.9 641.1,1166.9 642.1,1166.9 643.1,1166.9 644.1,1166.9 645.1,1166.9 646.1,1166.9 647.1,1166.9 648.1,1166.9 649.1,1166.9 650.1,1166.9 651.1,1166.9 652.1,1166.9 653.1,1167.0 654.1,1167.0 655.1,1167.0 656.1,1167.0 657.1,1167.0 658.1,1167.0 659.1,1167.0 660.1,1167.0 661.1,1167.0 662.1,1167.0 663.1,1167.0 664.1,1167.1 665.1,1167.1 666.1,1167.1 667.1,1167.1 668.1,1167.1 669.1,1167.1 670.1,1167.1 671.1,1167.1 672.1,1167.2 673.1,1167.2 674.1,1167.2 675.1,1167.2 676.1,1167.2 677.1,1167.2 678.1,1167.2 679.1,1167.2 680.1,1167.3 681.1,1167.3 682.1,1167.3 683.1,1167.3 684.1,1167.3 685.1,1167.3 686.1,1167.3 687.1,1167.3 688.1,1167.4 689.1,1167.4 690.1,1167.4 691.1,1167.4 692.1,1167.4 693.1,1167.4 694.1,1167.4 695.1,1167.4 696.1,1167.4 697.1,1167.5 698.1,1167.5 699.1,1167.5 700.1,1167.5 701.1,1167.5 702.1,1167.5 703.1,1167.5 704.1,1167.5 705.1,1167.5 706.1,1167.5 707.1,1167.5 708.1,1167.5 709.1,1167.5 710.1,1167.5 711.1,1167.5 712.1,1167.6 713.1,1167.6 714.1,1167.6 715.1,1167.6 716.1,1167.6 717.1,1167.6 718.1,1167.6 719.1,1167.6 720.1,1167.6 721.1,1167.6 722.1,1167.6 723.1,1167.6 724.1,1167.6 725.1,1167.6 726.1,1167.6 727.1,1167.7 728.1,1167.7 729.1,1167.7 730.1,1167.7 731.1,1167.7 732.1,1167.7 733.1,1167.7 734.1,1167.7 735.1,1167.7 736.1,1167.7 737.1,1167.7 738.1,1167.7 739.1,1167.7 740.1,1167.7 741.1,1167.7 742.1,1167.7 743.1,1167.8 744.1,1167.8 745.1,1167.8 746.1,1167.8 747.1,1167.8 748.1,1167.8 749.1,1167.8 750.1,1167.8 751.1,1167.8 752.1,1167.8 753.1,1167.8 754.1,1167.8 755.1,1167.8 756.1,1167.8 757.1,1167.8 758.1,1167.8 759.1,1167.8 760.1,1167.9 761.1,1167.9 762.1,1167.9 763.1,1167.9 764.1,1167.9 765.1,1167.9 766.1,1167.9 767.1,1167.9 768.1,1167.9 769.1,1167.9 770.1,1167.9 771.1,1167.9 772.1,1167.9 773.1,1167.9 774.1,1167.9 775.1,1167.9 776.1,1167.9 777.1,1168.0 778.1,1168.0 779.1,1168.0 780.1,1168.0 781.1,1168.0 782.1,1168.0 783.1,1168.0 784.1,1168.0 785.1,1168.0 786.1,1168.0 787.1,1168.0 788.1,1168.0 789.1,1168.0 790.1,1168.0 791.1,1168.0 792.1,1168.0 793.1,1168.0 794.1,1168.0 795.1,1168.1 796.1,1168.1 797.1,1168.1 798.1,1168.1 799.1,1168.1 800.1,1168.1 801.1,1168.1 802.1,1168.1 803.1,1168.1 804.1,1168.1 805.1,1168.1 806.1,1168.1 807.1,1168.1 808.1,1168.1 809.1,1168.1 810.1,1168.1 811.1,1168.1 812.1,1168.1 813.1,1168.1 814.1,1168.2 815.1,1168.2 816.1,1168.2 817.1,1168.2 818.1,1168.2 819.1,1168.2 820.1,1168.2 821.1,1168.2 822.1,1168.2 823.1,1168.2 824.1,1168.2 825.1,1168.2 826.1,1168.2 827.1,1168.2 828.1,1168.2 829.1,1168.2 830.1,1168.2 831.1,1168.2 832.1,1168.2 833.1,1168.2 834.1,1168.2 835.1,1168.2 836.1,1168.3 837.1,1168.3 838.1,1168.3 839.1,1168.3 840.1,1168.3 841.1,1168.3 842.1,1168.3 843.1,1168.3 844.1,1168.3 845.1,1168.3 846.1,1168.3 847.1,1168.3 848.1,1168.3 849.1,1168.3 850.1,1168.3 851.1,1168.3 852.1,1168.3 853.1,1168.3 854.1,1168.3 855.1,1168.3 856.1,1168.3 857.1,1168.3 858.1,1168.3 859.1,1168.3 860.1,1168.3 861.1,1168.4 862.1,1168.4 863.1,1168.4 864.1,1168.4 865.1,1168.4 866.1,1168.4 867.1,1168.4 868.1,1168.4 869.1,1168.4 870.1,1168.4 871.1,1168.4 872.1,1168.4 873.1,1168.4 874.1,1168.4 875.1,1168.4 876.1,1168.4 877.1,1168.4 878.1,1168.4 879.1,1168.4 880.1,1168.4 881.1,1168.4 882.1,1168.4 883.1,1168.4 884.1,1168.4 885.1,1168.4 886.1,1168.4 887.1,1168.4 888.1,1168.4 889.1,1168.4 890.1,1168.4 891.1,1168.4 892.1,1168.4 893.1,1168.4 894.1,1168.4 895.1,1168.4 896.1,1168.5 897.1,1168.5 898.1,1168.5 899.1,1168.5 900.1,1168.5 901.1,1168.5 902.1,1168.5 903.1,1168.5 904.1,1168.5 905.1,1168.5 906.1,1168.5 907.1,1168.5 908.1,1168.5 909.1,1168.5 910.1,1168.5 911.1,1168.5 912.1,1168.5 913.1,1168.5 914.1,1168.5 915.1,1168.5 916.1,1168.5 917.1,1168.5 918.1,1168.5 919.1,1168.5 920.1,1168.5 921.1,1168.5 922.1,1168.5 923.1,1168.5 924.1,1168.5 925.1,1168.5 926.1,1168.5 927.1,1168.5 928.1,1168.5 929.1,1168.5 930.1,1168.5 931.1,1168.5 932.1,1168.5 933.1,1168.5 934.1,1168.5 935.1,1168.5 936.1,1168.5" stroke="#0000ff" stroke-width="3.2" fill="none" stroke-linejoin="round"/>
<path d="M125.1,1170.3 125.6,1170.6 126.1,1170.3 126.6,1169.9 127.1,1171.4 127.6,1170.6 128.1,1170.7 128.6,1170.6 129.1,1170.6 129.6,1170.1 130.1,1170.5 130.6,1170.9 131.1,1171.3 131.6,1171.2 132.1,1171.5 132.6,1169.6 133.1,1171.0 133.6,1170.9 134.1,1170.9 134.6,1170.9 135.1,1170.2 135.6,1170.9 136.1,1171.1 136.6,1169.2 137.1,1171.6 137.6,1170.3 138.1,1170.7 138.6,1170.9 139.1,1171.0 139.6,1170.9 140.1,1170.7 140.6,1171.5 141.1,1170.8 141.6,1171.5 142.1,1170.7 142.6,1171.0 143.1,1171.5 143.6,1170.2 144.1,1170.4 144.6,1171.2 145.1,1170.2 145.6,1169.2 146.1,1170.4 146.6,1170.8 147.1,1171.2 147.6,1171.2 148.1,1170.5 148.6,1170.5 149.1,1169.7 149.6,1169.2 150.1,1170.2 150.6,1171.3 151.1,1170.7 151.6,1170.7 152.1,1170.6 152.6,1170.3 153.1,1171.1 153.6,1170.6 154.1,1170.1 154.6,1169.1 155.1,1168.5 155.6,1168.0 156.1,1167.4 156.6,1167.2 157.1,1166.6 157.6,1166.4 158.1,1165.8 158.6,1165.2 159.1,1164.6 159.6,1164.3 160.1,1163.9 160.6,1163.4 161.1,1162.3 161.6,1162.2 162.1,1162.7 162.6,1162.8 163.1,1162.6 163.6,1162.8 164.1,1163.9 164.6,1161.3 165.1,1162.8 165.6,1162.6 166.1,1160.9 166.6,1163.5 167.1,1161.8 167.6,1161.7 168.1,1163.2 168.6,1162.5 169.1,1164.4 169.6,1160.9 170.1,1164.3 170.6,1163.7 171.1,1167.1 171.6,1164.2 172.1,1164.5 172.6,1165.2 173.1,1163.4 173.6,1163.4 174.1,1164.9 174.6,1167.4 175.1,1164.0 175.6,1163.6 176.1,1167.1 176.6,1162.8 177.1,1162.5 177.6,1164.4 178.1,1164.1 178.6,1163.5 179.1,1163.4 179.6,1163.7 180.1,1164.8 180.6,1163.1 181.1,1163.5 181.6,1162.0 182.1,1163.6 182.6,1163.0 183.1,1162.4 183.6,1163.7 184.1,1161.2 184.6,1164.1 185.1,1161.8 185.6,1161.7 186.1,1160.6 186.6,1158.7 187.1,1156.6 187.6,1153.8 188.1,1151.1 188.6,1148.5 189.1,1146.4 189.6,1145.2 190.1,1144.3 190.6,1144.4 191.1,1142.3 191.6,1141.2 192.1,1141.7 192.6,1144.8 193.1,1140.5 193.6,1141.3 194.1,1140.5 194.6,1140.8 195.1,1141.2 195.6,1141.0 196.1,1143.4 196.6,1142.4 197.1,1142.2 197.6,1142.2 198.1,1142.5 198.6,1140.5 199.1,1142.5 199.6,1141.6 200.1,1145.9 200.6,1140.0 201.1,1142.6 201.6,1143.1 202.1,1143.1 202.6,1143.6 203.1,1141.9 203.6,1145.6 204.1,1143.8 204.6,1144.5 205.1,1145.0 205.6,1145.9 206.1,1148.0 206.6,1144.6 207.1,1144.9 207.6,1144.8 208.1,1145.2 208.6,1145.1 209.1,1144.5 209.6,1142.4 210.1,1140.4 210.6,1139.4 211.1,1137.0 211.6,1135.5 212.1,1132.9 212.6,1130.0 213.1,1126.7 213.6,1123.2 214.1,1120.6 214.6,1118.1 215.1,1117.3 215.6,1116.0 216.1,1115.0 216.6,1113.7 217.1,1115.1 217.6,1112.4 218.1,1112.2 218.6,1111.7 219.1,1111.6 219.6,1110.4 220.1,1110.8 220.6,1113.8 221.1,1114.3 221.6,1112.5 222.1,1111.3 222.6,1109.7 223.1,1113.1 223.6,1113.7 224.1,1111.9 224.6,1111.6 225.1,1111.7 225.6,1113.1 226.1,1112.1 226.6,1112.7 227.1,1110.9 227.6,1111.3 228.1,1111.1 228.6,1112.1 229.1,1111.9 229.6,1110.8 230.1,1110.4 230.6,1109.5 231.1,1107.6 231.6,1105.0 232.1,1102.5 232.6,1099.8 233.1,1097.1 233.6,1093.6 234.1,1089.9 234.6,1086.7 235.1,1082.7 235.6,1079.1 236.1,1076.7 236.6,1074.0 237.1,1072.6 237.6,1072.2 238.1,1070.4 238.6,1070.9 239.1,1069.5 239.6,1069.4 240.1,1067.7 240.6,1067.0 241.1,1068.4 241.6,1065.8 242.1,1065.6 242.6,1067.1 243.1,1062.6 243.6,1063.9 244.1,1065.5 244.6,1063.2 245.1,1063.9 245.6,1063.2 246.1,1063.7 246.6,1063.5 247.1,1062.3 247.6,1062.2 248.1,1061.2 248.6,1060.7 249.1,1059.6 249.6,1059.0 250.1,1058.0 250.6,1054.7 251.1,1052.0 251.6,1049.1 252.1,1044.5 252.6,1038.5 253.1,1032.0 253.6,1026.9 254.1,1024.0 254.6,1022.1 255.1,1020.7 255.6,1019.1 256.1,1018.4 256.6,1017.8 257.1,1017.6 257.6,1018.4 258.1,1018.7 258.6,1018.3 259.1,1019.4 259.6,1020.7 260.1,1021.2 260.6,1024.1 261.1,1023.5 261.6,1024.4 262.1,1025.3 262.6,1028.2 263.1,1030.7 263.6,1032.6 264.1,1035.3 264.6,1038.0 265.1,1040.3 265.6,1042.4 266.1,1043.7 266.6,1045.6 267.1,1046.6 267.6,1046.5 268.1,1046.2 268.6,1044.9 269.1,1047.1 269.6,1047.3 270.1,1046.0 270.6,1046.7 271.1,1045.4 271.6,1046.2 272.1,1045.4 272.6,1044.2 273.1,1043.2 273.6,1041.7 274.1,1040.4 274.6,1039.0 275.1,1038.6 275.6,1039.9 276.1,1041.3 276.6,1040.4 277.1,1041.5 277.6,1042.6 278.1,1043.2 278.6,1043.9 279.1,1045.1 279.6,1046.6 280.1,1048.7 280.6,1049.9 281.1,1053.3 281.6,1055.1 282.1,1057.3 282.6,1060.3 283.1,1062.5 283.6,1064.7 284.1,1067.0 284.6,1069.1 285.1,1070.6 285.6,1071.6 286.1,1072.0 286.6,1073.4 287.1,1075.4 287.6,1076.5 288.1,1075.1 288.6,1072.5 289.1,1075.8 289.6,1075.7 290.1,1076.3 290.6,1076.3 291.1,1075.0 291.6,1077.3 292.1,1078.0 292.6,1079.4 293.1,1080.1 293.6,1080.9 294.1,1082.6 294.6,1083.5 295.1,1085.4 295.6,1086.3 296.1,1086.8 296.6,1088.8 297.1,1089.9 297.6,1091.6 298.1,1092.9 298.6,1094.8 299.1,1096.9 299.6,1099.2 300.1,1101.5 300.6,1104.4 301.1,1106.5 301.6,1108.9 302.1,1110.6 302.6,1113.1 303.1,1115.4 303.6,1116.3 304.1,1117.8 304.6,1117.6 305.1,1117.4 305.6,1119.2 306.1,1117.5 306.6,1121.4 307.1,1120.1 307.6,1119.3 308.1,1119.4 308.6,1119.6 309.1,1120.3 309.6,1121.7 310.1,1122.3 310.6,1122.9 311.1,1123.6 311.6,1123.6 312.1,1124.7 312.6,1125.9 313.1,1127.7 313.6,1127.6 314.1,1128.8 314.6,1130.1 315.1,1131.2 315.6,1132.5 316.1,1132.9 316.6,1135.1 317.1,1134.9 317.6,1137.2 318.1,1137.8 318.6,1138.3 319.1,1138.7 319.6,1140.0 320.1,1141.3 320.6,1140.8 321.1,1141.8 321.6,1142.2 322.1,1142.0 322.6,1143.1 323.1,1142.5 323.6,1144.2 324.1,1144.5 324.6,1145.1 325.1,1145.3 325.6,1146.1 326.1,1145.0 326.6,1146.8 327.1,1146.9 327.6,1144.4 328.1,1147.8 328.6,1147.8 329.1,1146.9 329.6,1148.6 330.1,1148.5 330.6,1147.8 331.1,1148.7 331.6,1149.0 332.1,1148.6 332.6,1150.6 333.1,1152.6 333.6,1150.6 334.1,1151.0 334.6,1148.9 335.1,1151.8 335.6,1152.5 336.1,1154.9 336.6,1151.6 337.1,1152.9 337.6,1152.6 338.1,1153.6 338.6,1153.4 339.1,1154.5 339.6,1153.0 340.1,1154.5 340.6,1152.5 341.1,1154.9 341.6,1153.3 342.1,1154.1 342.6,1155.7 343.1,1155.1 343.6,1158.9 344.1,1155.4 344.6,1157.2 345.1,1155.8 345.6,1157.9 346.1,1156.3 346.6,1155.8 347.1,1154.4 347.6,1157.4 348.1,1157.3 348.6,1155.9 349.1,1157.0 349.6,1158.3 350.1,1157.8 350.6,1156.8 351.1,1159.2 351.6,1158.1 352.1,1154.5 352.6,1157.6 353.1,1160.0 353.6,1157.0 354.1,1159.5 354.6,1159.2 355.1,1160.1 355.6,1158.1 356.1,1160.3 356.6,1160.4 357.1,1159.9 357.6,1159.0 358.1,1160.4 358.6,1159.2 359.1,1160.8 359.6,1162.9 360.1,1159.3 360.6,1159.1 361.1,1161.1 361.6,1162.6 362.1,1160.1 362.6,1162.8 363.1,1161.0 363.6,1160.7 364.1,1160.8 364.6,1162.4 365.1,1160.9 365.6,1162.9 366.1,1160.7 366.6,1160.9 367.1,1161.8 367.6,1161.8 368.1,1160.4 368.6,1163.4 369.1,1161.6 369.6,1160.6 370.1,1163.1 370.6,1161.0 371.1,1162.2 371.6,1163.2 372.1,1163.4 372.6,1160.7 373.1,1167.7 373.6,1163.6 374.1,1164.9 374.6,1165.7 375.1,1165.8 375.6,1163.4 376.1,1166.4 376.6,1164.2 377.1,1165.8 377.6,1165.4 378.1,1165.6 378.6,1165.3 379.1,1164.6 379.6,1164.7 380.1,1165.2 380.6,1165.9 381.1,1163.6 381.6,1166.7 382.1,1166.7 382.6,1166.6 383.1,1165.9 383.6,1167.5 384.1,1167.0 384.6,1165.8 385.1,1165.4 385.6,1168.0 386.1,1166.2 386.6,1166.8 387.1,1166.8 387.6,1167.9 388.1,1164.0 388.6,1165.6 389.1,1168.5 389.6,1167.0 390.1,1170.0 390.6,1168.0 391.1,1169.9 391.6,1169.4 392.1,1168.2 392.6,1167.7 393.1,1170.4 393.6,1170.1 394.1,1170.9 394.6,1171.6 395.1,1169.9 395.6,1171.4 396.1,1173.6 396.6,1171.5 397.1,1171.0 397.6,1169.2 398.1,1170.9 398.6,1170.0 399.1,1168.2 399.6,1169.8 400.1,1172.8 400.6,1170.3 401.1,1173.1 401.6,1168.7 402.1,1172.0 402.6,1169.6 403.1,1171.7 403.6,1168.8 404.1,1169.1 404.6,1172.4 405.1,1171.9 405.6,1172.2 406.1,1171.1 406.6,1172.3 407.1,1172.9 407.6,1171.2 408.1,1173.0 408.6,1171.4 409.1,1173.6 409.6,1173.9 410.1,1170.3 410.6,1173.8 411.1,1174.2 411.6,1172.5 412.1,1172.0 412.6,1172.7 413.1,1171.6 413.6,1174.3 414.1,1172.9 414.6,1171.2 415.1,1170.2 415.6,1172.6 416.1,1171.5 416.6,1171.6 417.1,1174.8 417.6,1170.6 418.1,1173.6 418.6,1172.9 419.1,1172.3 419.6,1173.8 420.1,1171.4 420.6,1169.5 421.1,1174.0 421.6,1172.3 422.1,1174.2 422.6,1174.0 423.1,1174.2 423.6,1172.6 424.1,1174.7 424.6,1173.7 425.1,1172.6 425.6,1173.2 426.1,1178.4 426.6,1170.3 427.1,1170.7 427.6,1176.3 428.1,1170.9 428.6,1170.1 429.1,1173.1 429.6,1168.1 430.1,1174.3 430.6,1171.6 431.1,1174.1 431.6,1172.8 432.1,1172.6 432.6,1172.2 433.1,1173.6 433.6,1175.7 434.1,1173.0 434.6,1176.7 435.1,1170.8 435.6,1179.1 436.1,1171.0 436.6,1170.2 437.1,1172.7 437.6,1176.0 438.1,1172.5 438.6,1179.3 439.1,1174.1 439.6,1173.3 440.1,1176.4 440.6,1172.1 441.1,1175.3 441.6,1174.0 442.1,1174.9 442.6,1176.5 443.1,1168.9 443.6,1176.0 444.1,1174.8 444.6,1171.4 445.1,1174.0 445.6,1173.2 446.1,1173.8 446.6,1170.2 447.1,1174.8 447.6,1174.6 448.1,1177.2 448.6,1172.9 449.1,1175.4 449.6,1175.4 450.1,1175.1 450.6,1173.0 451.1,1175.1 451.6,1172.4 452.1,1172.5 452.6,1175.3 453.1,1169.9 453.6,1172.8 454.1,1174.1 454.6,1175.2 455.1,1169.6 455.6,1174.9 456.1,1172.9 456.6,1170.3 457.1,1175.9 457.6,1179.6 458.1,1173.6 458.6,1174.9 459.1,1173.2 459.6,1173.1 460.1,1174.2 460.6,1172.6 461.1,1172.5 461.6,1173.4 462.1,1174.3 462.6,1171.3 463.1,1172.2 463.6,1173.1 464.1,1173.3 464.6,1170.7 465.1,1171.9 465.6,1172.0 466.1,1171.9 466.6,1169.4 467.1,1173.0 467.6,1174.0 468.1,1173.6 468.6,1169.2 469.1,1168.6 469.6,1170.7 470.1,1170.7 470.6,1171.4 471.1,1169.9 471.6,1172.7 472.1,1169.6 472.6,1169.9 473.1,1168.0 473.6,1173.0 474.1,1172.8 474.6,1169.3 475.1,1168.8 475.6,1169.7 476.1,1169.0 476.6,1165.8 477.1,1169.3 477.6,1168.2 478.1,1167.8 478.6,1171.2 479.1,1169.7 479.6,1168.7 480.1,1163.6 480.6,1168.1 481.1,1167.5 481.6,1169.9 482.1,1170.3 482.6,1169.4 483.1,1167.9 483.6,1167.2 484.1,1169.3 484.6,1165.4 485.1,1169.0 485.6,1168.9 486.1,1168.1 486.6,1168.0 487.1,1168.1 487.6,1166.0 488.1,1164.4 488.6,1171.9 489.1,1167.1 489.6,1167.5 490.1,1167.9 490.6,1171.0 491.1,1166.6 491.6,1170.3 492.1,1167.2 492.6,1168.8 493.1,1170.5 493.6,1168.8 494.1,1161.4 494.6,1166.7 495.1,1165.0 495.6,1167.5 496.1,1166.6 496.6,1166.9 497.1,1167.2 497.6,1167.3 498.1,1169.0 498.6,1167.9 499.1,1166.3 499.6,1167.1 500.1,1165.2 500.6,1163.5 501.1,1166.3 501.6,1165.4 502.1,1166.6 502.6,1165.4 503.1,1166.5 503.6,1172.4 504.1,1166.7 504.6,1166.5 505.1,1165.3 505.6,1165.9 506.1,1165.5 506.6,1165.8 507.1,1166.3 507.6,1163.3 508.1,1165.7 508.6,1166.8 509.1,1165.7 509.6,1167.7 510.1,1166.1 510.6,1166.3 511.1,1163.5 511.6,1165.7 512.1,1166.1 512.6,1164.0 513.1,1164.9 513.6,1161.5 514.1,1165.4 514.6,1164.0 515.1,1162.1 515.6,1162.3 516.1,1164.7 516.6,1165.6 517.1,1165.7 517.6,1165.7 518.1,1164.5 518.6,1165.1 519.1,1162.0 519.6,1164.9 520.1,1162.1 520.6,1164.4 521.1,1170.7 521.6,1164.5 522.1,1165.0 522.6,1165.8 523.1,1159.7 523.6,1165.5 524.1,1165.4 524.6,1161.8 525.1,1161.7 525.6,1168.8 526.1,1165.0 526.6,1163.0 527.1,1163.7 527.6,1164.5 528.1,1164.4 528.6,1159.8 529.1,1165.2 529.6,1167.8 530.1,1163.3 530.6,1163.7 531.1,1164.9 531.6,1161.2 532.1,1163.7 532.6,1166.1 533.1,1168.9 533.6,1164.2 534.1,1162.7 534.6,1164.1 535.1,1162.9 535.6,1166.3 536.1,1163.7 536.6,1165.2 537.1,1160.9 537.6,1167.1 538.1,1166.2 538.6,1164.1 539.1,1170.3 539.6,1171.1 540.1,1165.5 540.6,1166.3 541.1,1163.8 541.6,1162.4 542.1,1160.2 542.6,1164.9 543.1,1165.7 543.6,1169.1 544.1,1162.8 544.6,1166.7 545.1,1165.4 545.6,1166.7 546.1,1164.7 546.6,1158.9 547.1,1163.7 547.6,1165.4 548.1,1162.2 548.6,1166.0 549.1,1165.6 549.6,1164.1 550.1,1165.3 550.6,1167.0 551.1,1162.2 551.6,1167.3 552.1,1165.7 552.6,1162.8 553.1,1163.7 553.6,1164.7 554.1,1164.6 554.6,1164.9 555.1,1165.9 555.6,1165.8 556.1,1168.1 556.6,1167.4 557.1,1163.7 557.6,1164.8 558.1,1168.5 558.6,1163.5 559.1,1166.0 559.6,1167.3 560.1,1165.4 560.6,1169.1 561.1,1166.1 561.6,1164.5 562.1,1164.5 562.6,1164.7 563.1,1167.8 563.6,1171.6 564.1,1161.6 564.6,1166.2 565.1,1164.5 565.6,1165.3 566.1,1164.4 566.6,1167.8 567.1,1166.2 567.6,1164.2 568.1,1165.0 568.6,1165.4 569.1,1165.9 569.6,1159.7 570.1,1165.7 570.6,1166.3 571.1,1165.6 571.6,1166.2 572.1,1169.4 572.6,1165.6 573.1,1165.5 573.6,1166.1 574.1,1163.8 574.6,1166.2 575.1,1168.2 575.6,1163.3 576.1,1163.0 576.6,1166.7 577.1,1166.4 577.6,1170.4 578.1,1170.7 578.6,1162.6 579.1,1167.5 579.6,1160.1 580.1,1166.5 580.6,1165.3 581.1,1172.4 581.6,1163.7 582.1,1169.3 582.6,1171.0 583.1,1166.5 583.6,1166.1 584.1,1163.3 584.6,1167.5 585.1,1167.3 585.6,1166.6 586.1,1166.5 586.6,1164.2 587.1,1163.2 587.6,1165.4 588.1,1169.5 588.6,1163.7 589.1,1165.3 589.6,1165.6 590.1,1168.1 590.6,1166.5 591.1,1167.5 591.6,1164.6 592.1,1166.9 592.6,1168.9 593.1,1171.5 593.6,1166.0 594.1,1164.0 594.6,1165.5 595.1,1162.9 595.6,1168.8 596.1,1163.1 596.6,1163.1 597.1,1168.4 597.6,1170.7 598.1,1165.6 598.6,1171.5 599.1,1160.4 599.6,1166.8 600.1,1168.9 600.6,1165.9 601.1,1166.2 601.6,1164.6 602.1,1168.8 602.6,1165.9 603.1,1166.7 603.6,1167.1 604.1,1164.0 604.6,1168.5 605.1,1166.9 605.6,1165.9 606.1,1168.0 606.6,1167.1 607.1,1163.0 607.6,1160.3 608.1,1165.5 608.6,1167.0 609.1,1166.2 609.6,1164.5 610.1,1167.9 610.6,1166.9 611.1,1165.5 611.6,1166.1 612.1,1162.1 612.6,1173.2 613.1,1170.0 613.6,1167.2 614.1,1168.3 614.6,1167.8 615.1,1166.8 615.6,1167.6 616.1,1164.6 616.6,1166.0 617.1,1168.3 617.6,1166.7 618.1,1169.4 618.6,1169.7 619.1,1165.9 619.6,1164.8 620.1,1165.4 620.6,1172.5 621.1,1167.2 621.6,1165.7 622.1,1168.7 622.6,1163.5 623.1,1167.4 623.6,1164.2 624.1,1166.8 624.6,1168.1 625.1,1166.6 625.6,1164.9 626.1,1167.9 626.6,1166.6 627.1,1169.7 627.6,1165.8 628.1,1164.2 628.6,1164.2 629.1,1166.2 629.6,1166.8 630.1,1170.3 630.6,1169.2 631.1,1172.5 631.6,1167.3 632.1,1164.2 632.6,1165.8 633.1,1166.4 633.6,1167.4 634.1,1163.0 634.6,1168.3 635.1,1168.9 635.6,1167.4 636.1,1165.9 636.6,1165.5 637.1,1167.8 637.6,1167.4 638.1,1167.5 638.6,1168.5 639.1,1166.6 639.6,1167.9 640.1,1163.2 640.6,1165.7 641.1,1168.0 641.6,1161.9 642.1,1166.5 642.6,1172.6 643.1,1167.8 643.6,1167.8 644.1,1165.9 644.6,1160.3 645.1,1167.3 645.6,1166.3 646.1,1170.5 646.6,1169.4 647.1,1170.7 647.6,1168.6 648.1,1167.8 648.6,1165.9 649.1,1169.0 649.6,1167.1 650.1,1167.2 650.6,1167.4 651.1,1167.6 651.6,1169.2 652.1,1173.5 652.6,1167.9 653.1,1168.9 653.6,1167.1 654.1,1168.1 654.6,1168.0 655.1,1167.3 655.6,1166.9 656.1,1162.3 656.6,1167.5 657.1,1169.2 657.6,1160.4 658.1,1165.7 658.6,1166.3 659.1,1167.3 659.6,1168.9 660.1,1168.3 660.6,1163.4 661.1,1166.8 661.6,1170.9 662.1,1168.5 662.6,1171.2 663.1,1167.8 663.6,1170.6 664.1,1167.5 664.6,1168.2 665.1,1167.0 665.6,1167.0 666.1,1166.5 666.6,1165.2 667.1,1171.3 667.6,1167.9 668.1,1167.3 668.6,1169.6 669.1,1167.1 669.6,1166.8 670.1,1167.1 670.6,1166.6 671.1,1173.7 671.6,1168.1 672.1,1167.5 672.6,1173.7 673.1,1168.4 673.6,1165.5 674.1,1167.9 674.6,1166.2 675.1,1164.5 675.6,1164.9 676.1,1166.6 676.6,1166.5 677.1,1167.1 677.6,1168.8 678.1,1168.9 678.6,1167.4 679.1,1167.2 679.6,1169.0 680.1,1171.6 680.6,1168.6 681.1,1165.1 681.6,1166.8 682.1,1166.0 682.6,1166.2 683.1,1171.5 683.6,1168.8 684.1,1168.0 684.6,1167.5 685.1,1166.3 685.6,1168.1 686.1,1165.1 686.6,1169.7 687.1,1166.0 687.6,1166.4 688.1,1169.0 688.6,1167.3 689.1,1164.1 689.6,1172.3 690.1,1168.6 690.6,1163.5 691.1,1167.2 691.6,1167.6 692.1,1169.8 692.6,1174.0 693.1,1167.8 693.6,1165.2 694.1,1166.5 694.6,1166.6 695.1,1164.5 695.6,1169.8 696.1,1173.3 696.6,1170.5 697.1,1165.0 697.6,1168.2 698.1,1165.1 698.6,1167.4 699.1,1167.9 699.6,1165.6 700.1,1167.4 700.6,1168.9 701.1,1174.1 701.6,1168.0 702.1,1166.1 702.6,1166.0 703.1,1167.7 703.6,1160.9 704.1,1173.1 704.6,1160.9 705.1,1167.2 705.6,1163.6 706.1,1169.1 706.6,1165.8 707.1,1167.9 707.6,1167.5 708.1,1169.9 708.6,1168.5 709.1,1167.7 709.6,1167.0 710.1,1168.9 710.6,1167.9 711.1,1167.4 711.6,1168.7 712.1,1166.3 712.6,1167.8 713.1,1171.3 713.6,1171.1 714.1,1167.7 714.6,1168.2 715.1,1169.7 715.6,1168.7 716.1,1169.8 716.6,1165.2 717.1,1162.6 717.6,1165.7 718.1,1167.7 718.6,1168.1 719.1,1169.7 719.6,1167.7 720.1,1166.8 720.6,1164.2 721.1,1169.8 721.6,1168.6 722.1,1167.3 722.6,1167.5 723.1,1172.5 723.6,1173.5 724.1,1168.6 724.6,1168.3 725.1,1168.1 725.6,1167.1 726.1,1166.0 726.6,1162.5 727.1,1170.4 727.6,1168.1 728.1,1165.3 728.6,1166.4 729.1,1167.1 729.6,1168.2 730.1,1164.2 730.6,1170.3 731.1,1165.4 731.6,1168.9 732.1,1172.3 732.6,1166.6 733.1,1167.7 733.6,1169.1 734.1,1169.8 734.6,1167.4 735.1,1168.0 735.6,1167.4 736.1,1163.3 736.6,1168.1 737.1,1166.1 737.6,1167.8 738.1,1168.1 738.6,1166.8 739.1,1164.0 739.6,1166.4 740.1,1169.0 740.6,1165.6 741.1,1167.2 741.6,1169.8 742.1,1166.3 742.6,1161.8 743.1,1169.0 743.6,1165.3 744.1,1168.0 744.6,1174.3 745.1,1170.2 745.6,1169.2 746.1,1166.6 746.6,1166.0 747.1,1170.5 747.6,1163.4 748.1,1164.1 748.6,1172.3 749.1,1164.4 749.6,1166.4 750.1,1167.3 750.6,1165.3 751.1,1167.0 751.6,1168.8 752.1,1169.0 752.6,1169.1 753.1,1167.9 753.6,1169.1 754.1,1173.8 754.6,1161.1 755.1,1169.6 755.6,1161.2 756.1,1162.5 756.6,1167.8 757.1,1169.6 757.6,1168.6 758.1,1169.5 758.6,1166.5 759.1,1168.9 759.6,1167.6 760.1,1168.4 760.6,1168.3 761.1,1171.5 761.6,1167.7 762.1,1170.1 762.6,1167.9 763.1,1168.0 763.6,1167.5 764.1,1173.7 764.6,1164.6 765.1,1168.1 765.6,1167.2 766.1,1167.5 766.6,1169.6 767.1,1168.5 767.6,1169.1 768.1,1170.0 768.6,1167.8 769.1,1168.0 769.6,1166.5 770.1,1173.0 770.6,1168.2 771.1,1168.6 771.6,1171.7 772.1,1170.1 772.6,1169.0 773.1,1169.2 773.6,1170.6 774.1,1169.8 774.6,1165.8 775.1,1169.3 775.6,1166.6 776.1,1167.8 776.6,1171.4 777.1,1168.0 777.6,1167.5 778.1,1171.1 778.6,1166.6 779.1,1171.6 779.6,1166.8 780.1,1168.1 780.6,1164.2 781.1,1168.2 781.6,1168.0 782.1,1167.8 782.6,1167.1 783.1,1168.3 783.6,1170.1 784.1,1166.2 784.6,1168.2 785.1,1166.0 785.6,1167.8 786.1,1167.9 786.6,1168.2 787.1,1167.3 787.6,1166.7 788.1,1168.0 788.6,1167.8 789.1,1164.2 789.6,1167.8 790.1,1170.0 790.6,1167.1 791.1,1170.3 791.6,1167.5 792.1,1170.3 792.6,1168.3 793.1,1171.6 793.6,1174.1 794.1,1166.8 794.6,1167.7 795.1,1167.9 795.6,1168.9 796.1,1171.2 796.6,1164.0 797.1,1168.9 797.6,1169.6 798.1,1166.5 798.6,1166.4 799.1,1169.9 799.6,1166.2 800.1,1167.3 800.6,1167.1 801.1,1171.4 801.6,1166.8 802.1,1167.5 802.6,1163.9 803.1,1162.9 803.6,1174.4 804.1,1170.2 804.6,1164.3 805.1,1168.8 805.6,1167.8 806.1,1164.8 806.6,1171.3 807.1,1169.4 807.6,1167.8 808.1,1169.4 808.6,1167.2 809.1,1169.8 809.6,1163.2 810.1,1166.1 810.6,1170.5 811.1,1169.3 811.6,1168.6 812.1,1171.2 812.6,1166.6 813.1,1168.8 813.6,1169.7 814.1,1169.4 814.6,1165.8 815.1,1172.1 815.6,1169.7 816.1,1167.8 816.6,1166.6 817.1,1166.4 817.6,1170.5 818.1,1169.0 818.6,1165.1 819.1,1171.9 819.6,1168.8 820.1,1167.6 820.6,1171.4 821.1,1168.1 821.6,1164.8 822.1,1166.3 822.6,1168.5 823.1,1161.6 823.6,1175.0 824.1,1166.6 824.6,1165.9 825.1,1170.0 825.6,1170.5 826.1,1165.5 826.6,1169.5 827.1,1167.9 827.6,1170.0 828.1,1169.2 828.6,1169.3 829.1,1169.1 829.6,1171.1 830.1,1172.8 830.6,1166.3 831.1,1169.1 831.6,1170.0 832.1,1168.8 832.6,1170.5 833.1,1173.5 833.6,1170.4 834.1,1168.3 834.6,1168.0 835.1,1168.5 835.6,1165.0 836.1,1167.7 836.6,1169.2 837.1,1166.0 837.6,1166.0 838.1,1167.8 838.6,1166.1 839.1,1164.6 839.6,1168.9 840.1,1169.1 840.6,1170.0 841.1,1169.7 841.6,1169.4 842.1,1167.5 842.6,1168.6 843.1,1170.9 843.6,1164.8 844.1,1168.0 844.6,1169.0 845.1,1167.1 845.6,1166.7 846.1,1169.2 846.6,1169.2 847.1,1168.6 847.6,1167.3 848.1,1167.2 848.6,1167.0 849.1,1168.3 849.6,1169.2 850.1,1170.7 850.6,1168.2 851.1,1167.0 851.6,1167.4 852.1,1169.9 852.6,1166.0 853.1,1165.7 853.6,1167.9 854.1,1164.3 854.6,1169.3 855.1,1172.0 855.6,1168.4 856.1,1164.3 856.6,1170.5 857.1,1167.3 857.6,1169.7 858.1,1164.2 858.6,1167.7 859.1,1165.8 859.6,1168.4 860.1,1167.7 860.6,1166.6 861.1,1167.2 861.6,1169.0 862.1,1175.2 862.6,1172.6 863.1,1168.8 863.6,1167.7 864.1,1165.4 864.6,1164.8 865.1,1168.7 865.6,1168.3 866.1,1167.8 866.6,1168.1 867.1,1168.0 867.6,1169.4 868.1,1169.7 868.6,1169.9 869.1,1162.3 869.6,1172.4 870.1,1168.9 870.6,1166.5 871.1,1169.1 871.6,1168.1 872.1,1173.1 872.6,1168.5 873.1,1161.5 873.6,1169.0 874.1,1171.3 874.6,1168.1 875.1,1170.6 875.6,1168.8 876.1,1168.4 876.6,1168.1 877.1,1167.0 877.6,1172.4 878.1,1167.9 878.6,1167.9 879.1,1166.0 879.6,1165.3 880.1,1169.6 880.6,1169.2 881.1,1167.9 881.6,1168.8 882.1,1166.4 882.6,1168.4 883.1,1167.7 883.6,1167.0 884.1,1169.4 884.6,1168.1 885.1,1168.7 885.6,1166.3 886.1,1169.4 886.6,1168.4 887.1,1168.7 887.6,1170.4 888.1,1165.9 888.6,1167.8 889.1,1165.0 889.6,1169.5 890.1,1164.2 890.6,1169.0 891.1,1171.7 891.6,1167.5 892.1,1166.9 892.6,1170.7 893.1,1167.7 893.6,1167.5 894.1,1172.4 894.6,1167.3 895.1,1168.7 895.6,1169.2 896.1,1168.4 896.6,1169.0 897.1,1169.8 897.6,1168.0 898.1,1167.4 898.6,1167.5 899.1,1166.3 899.6,1171.9 900.1,1167.8 900.6,1166.3 901.1,1170.7 901.6,1167.0 902.1,1171.1 902.6,1161.5 903.1,1165.8 903.6,1165.7 904.1,1167.1 904.6,1168.4 905.1,1167.3 905.6,1171.9 906.1,1168.5 906.6,1172.0 907.1,1171.1 907.6,1171.3 908.1,1168.6 908.6,1169.1 909.1,1165.8 909.6,1169.3 910.1,1168.9 910.6,1167.5 911.1,1168.6 911.6,1168.0 912.1,1168.9 912.6,1167.5 913.1,1168.7 913.6,1169.5 914.1,1169.0 914.6,1175.4 915.1,1170.0 915.6,1166.8 916.1,1166.1 916.6,1171.6 917.1,1165.6 917.6,1165.5 918.1,1168.2 918.6,1171.8 919.1,1167.0 919.6,1168.8 920.1,1165.7 920.6,1167.8 921.1,1167.0 921.6,1169.4 922.1,1169.0 922.6,1170.8 923.1,1165.7 923.6,1170.6 924.1,1166.3 924.6,1165.9 925.1,1168.9 925.6,1167.2 926.1,1169.2 926.6,1165.7 927.1,1167.1 927.6,1169.5 928.1,1166.7 928.6,1170.2 929.1,1171.7 929.6,1169.6 930.1,1169.4 930.6,1175.5 931.1,1165.9 931.6,1167.5 932.1,1168.1 932.6,1163.6 933.1,1169.4 933.6,1168.8 934.1,1166.7 934.6,1170.0 935.1,1168.7 935.6,1166.7 936.1,1167.2 936.6,1168.8" stroke="#0000ff" stroke-width="1.8" fill="none" stroke-linejoin="miter"/>
<path d="M125.1,1248.8 126.1,1248.8 127.1,1248.7 128.1,1248.7 129.1,1248.6 130.1,1248.6 131.1,1248.6 132.1,1248.5 133.1,1248.5 134.1,1248.5 135.1,1248.4 136.1,1248.4 137.1,1248.4 138.1,1248.3 139.1,1248.3 140.1,1248.2 141.1,1248.2 142.1,1248.2 143.1,1248.1 144.1,1248.1 145.1,1248.1 146.1,1248.0 147.1,1248.0 148.1,1248.0 149.1,1247.9 150.1,1247.9 151.1,1247.9 152.1,1247.8 153.1,1247.8 154.1,1247.8 155.1,1247.7 156.1,1247.7 157.1,1247.7 158.1,1247.6 159.1,1247.6 160.1,1247.6 161.1,1247.5 162.1,1247.5 163.1,1247.5 164.1,1247.4 165.1,1247.4 166.1,1247.4 167.1,1247.4 168.1,1247.3 169.1,1247.3 170.1,1247.3 171.1,1247.2 172.1,1247.2 173.1,1247.2 174.1,1247.2 175.1,1247.1 176.1,1247.1 177.1,1247.1 178.1,1247.1 179.1,1247.0 180.1,1247.0 181.1,1247.0 182.1,1247.0 183.1,1246.9 184.1,1246.9 185.1,1246.9 186.1,1246.9 187.1,1246.9 188.1,1246.8 189.1,1246.8 190.1,1246.8 191.1,1246.8 192.1,1246.7 193.1,1246.7 194.1,1246.7 195.1,1246.7 196.1,1246.7 197.1,1246.7 198.1,1246.6 199.1,1246.6 200.1,1246.6 201.1,1246.6 202.1,1246.6 203.1,1246.6 204.1,1246.6 205.1,1246.5 206.1,1246.5 207.1,1246.5 208.1,1246.5 209.1,1246.5 210.1,1246.5 211.1,1246.4 212.1,1246.4 213.1,1246.4 214.1,1246.4 215.1,1246.4 216.1,1246.4 217.1,1246.4 218.1,1246.3 219.1,1246.3 220.1,1246.3 221.1,1246.3 222.1,1246.3 223.1,1246.3 224.1,1246.3 225.1,1246.2 226.1,1246.2 227.1,1246.2 228.1,1246.2 229.1,1246.2 230.1,1246.2 231.1,1246.2 232.1,1246.2 233.1,1246.1 234.1,1246.1 235.1,1246.1 236.1,1246.1 237.1,1246.1 238.1,1246.1 239.1,1246.1 240.1,1246.1 241.1,1246.0 242.1,1246.0 243.1,1246.0 244.1,1246.0 245.1,1246.0 246.1,1246.0 247.1,1246.0 248.1,1246.0 249.1,1245.9 250.1,1245.9 251.1,1245.9 252.1,1245.9 253.1,1245.9 254.1,1245.9 255.1,1245.9 256.1,1245.9 257.1,1245.9 258.1,1245.9 259.1,1245.9 260.1,1245.8 261.1,1245.8 262.1,1245.8 263.1,1245.8 264.1,1245.8 265.1,1245.8 266.1,1245.8 267.1,1245.8 268.1,1245.8 269.1,1245.8 270.1,1245.8 271.1,1245.8 272.1,1245.8 273.1,1245.8 274.1,1245.7 275.1,1245.7 276.1,1245.7 277.1,1245.7 278.1,1245.7 279.1,1245.7 280.1,1245.7 281.1,1245.7 282.1,1245.7 283.1,1245.7 284.1,1245.7 285.1,1245.7 286.1,1245.7 287.1,1245.7 288.1,1245.7 289.1,1245.7 290.1,1245.7 291.1,1245.7 292.1,1245.7 293.1,1245.7 294.1,1245.7 295.1,1245.7 296.1,1245.7 297.1,1245.7 298.1,1245.7 299.1,1245.7 300.1,1245.7 301.1,1245.7 302.1,1245.7 303.1,1245.8 304.1,1245.8 305.1,1245.8 306.1,1245.8 307.1,1245.8 308.1,1245.8 309.1,1245.8 310.1,1245.8 311.1,1245.8 312.1,1245.9 313.1,1245.9 314.1,1245.9 315.1,1245.9 316.1,1245.9 317.1,1245.9 318.1,1245.9 319.1,1246.0 320.1,1246.0 321.1,1246.0 322.1,1246.0 323.1,1246.0 324.1,1246.0 325.1,1246.1 326.1,1246.1 327.1,1246.1 328.1,1246.1 329.1,1246.1 330.1,1246.2 331.1,1246.2 332.1,1246.2 333.1,1246.2 334.1,1246.2 335.1,1246.3 336.1,1246.3 337.1,1246.3 338.1,1246.3 339.1,1246.4 340.1,1246.4 341.1,1246.4 342.1,1246.4 343.1,1246.4 344.1,1246.5 345.1,1246.5 346.1,1246.5 347.1,1246.5 348.1,1246.6 349.1,1246.6 350.1,1246.6 351.1,1246.6 352.1,1246.6 353.1,1246.7 354.1,1246.7 355.1,1246.7 356.1,1246.7 357.1,1246.7 358.1,1246.8 359.1,1246.8 360.1,1246.8 361.1,1246.8 362.1,1246.9 363.1,1246.9 364.1,1246.9 365.1,1246.9 366.1,1246.9 367.1,1246.9 368.1,1247.0 369.1,1247.0 370.1,1247.0 371.1,1247.0 372.1,1247.0 373.1,1247.1 374.1,1247.1 375.1,1247.1 376.1,1247.1 377.1,1247.1 378.1,1247.1 379.1,1247.1 380.1,1247.2 381.1,1247.2 382.1,1247.2 383.1,1247.2 384.1,1247.2 385.1,1247.2 386.1,1247.2 387.1,1247.2 388.1,1247.2 389.1,1247.3 390.1,1247.3 391.1,1247.3 392.1,1247.3 393.1,1247.3 394.1,1247.3 395.1,1247.3 396.1,1247.3 397.1,1247.3 398.1,1247.3 399.1,1247.3 400.1,1247.3 401.1,1247.3 402.1,1247.3 403.1,1247.3 404.1,1247.3 405.1,1247.3 406.1,1247.3 407.1,1247.2 408.1,1247.2 409.1,1247.2 410.1,1247.2 411.1,1247.2 412.1,1247.2 413.1,1247.1 414.1,1247.1 415.1,1247.1 416.1,1247.1 417.1,1247.0 418.1,1247.0 419.1,1247.0 420.1,1246.9 421.1,1246.9 422.1,1246.9 423.1,1246.8 424.1,1246.8 425.1,1246.7 426.1,1246.7 427.1,1246.7 428.1,1246.6 429.1,1246.6 430.1,1246.5 431.1,1246.5 432.1,1246.4 433.1,1246.4 434.1,1246.3 435.1,1246.3 436.1,1246.2 437.1,1246.2 438.1,1246.1 439.1,1246.1 440.1,1246.0 441.1,1246.0 442.1,1245.9 443.1,1245.9 444.1,1245.8 445.1,1245.8 446.1,1245.7 447.1,1245.7 448.1,1245.6 449.1,1245.6 450.1,1245.5 451.1,1245.5 452.1,1245.4 453.1,1245.3 454.1,1245.3 455.1,1245.2 456.1,1245.2 457.1,1245.1 458.1,1245.1 459.1,1245.0 460.1,1245.0 461.1,1244.9 462.1,1244.9 463.1,1244.8 464.1,1244.8 465.1,1244.7 466.1,1244.7 467.1,1244.6 468.1,1244.6 469.1,1244.5 470.1,1244.5 471.1,1244.4 472.1,1244.4 473.1,1244.3 474.1,1244.3 475.1,1244.3 476.1,1244.2 477.1,1244.2 478.1,1244.1 479.1,1244.1 480.1,1244.1 481.1,1244.0 482.1,1244.0 483.1,1243.9 484.1,1243.9 485.1,1243.9 486.1,1243.9 487.1,1243.8 488.1,1243.8 489.1,1243.8 490.1,1243.7 491.1,1243.7 492.1,1243.7 493.1,1243.7 494.1,1243.7 495.1,1243.7 496.1,1243.6 497.1,1243.6 498.1,1243.6 499.1,1243.6 500.1,1243.6 501.1,1243.6 502.1,1243.6 503.1,1243.6 504.1,1243.6 505.1,1243.6 506.1,1243.6 507.1,1243.6 508.1,1243.7 509.1,1243.7 510.1,1243.7 511.1,1243.7 512.1,1243.7 513.1,1243.8 514.1,1243.8 515.1,1243.8 516.1,1243.9 517.1,1243.9 518.1,1243.9 519.1,1244.0 520.1,1244.0 521.1,1244.0 522.1,1244.1 523.1,1244.1 524.1,1244.2 525.1,1244.2 526.1,1244.3 527.1,1244.3 528.1,1244.3 529.1,1244.4 530.1,1244.4 531.1,1244.5 532.1,1244.5 533.1,1244.5 534.1,1244.6 535.1,1244.6 536.1,1244.6 537.1,1244.7 538.1,1244.7 539.1,1244.7 540.1,1244.8 541.1,1244.8 542.1,1244.8 543.1,1244.8 544.1,1244.9 545.1,1244.9 546.1,1244.9 547.1,1244.9 548.1,1244.9 549.1,1244.9 550.1,1244.9 551.1,1244.9 552.1,1245.0 553.1,1245.0 554.1,1245.0 555.1,1245.0 556.1,1245.0 557.1,1245.0 558.1,1245.0 559.1,1245.0 560.1,1245.0 561.1,1245.0 562.1,1245.1 563.1,1245.1 564.1,1245.1 565.1,1245.1 566.1,1245.1 567.1,1245.1 568.1,1245.1 569.1,1245.1 570.1,1245.1 571.1,1245.1 572.1,1245.1 573.1,1245.1 574.1,1245.1 575.1,1245.2 576.1,1245.2 577.1,1245.2 578.1,1245.2 579.1,1245.2 580.1,1245.2 581.1,1245.2 582.1,1245.2 583.1,1245.2 584.1,1245.2 585.1,1245.2 586.1,1245.2 587.1,1245.2 588.1,1245.2 589.1,1245.2 590.1,1245.2 591.1,1245.2 592.1,1245.3 593.1,1245.3 594.1,1245.3 595.1,1245.3 596.1,1245.3 597.1,1245.3 598.1,1245.3 599.1,1245.3 600.1,1245.3 601.1,1245.3 602.1,1245.3 603.1,1245.3 604.1,1245.3 605.1,1245.3 606.1,1245.3 607.1,1245.3 608.1,1245.3 609.1,1245.3 610.1,1245.3 611.1,1245.3 612.1,1245.4 613.1,1245.4 614.1,1245.4 615.1,1245.4 616.1,1245.4 617.1,1245.4 618.1,1245.4 619.1,1245.4 620.1,1245.4 621.1,1245.4 622.1,1245.4 623.1,1245.4 624.1,1245.4 625.1,1245.4 626.1,1245.4 627.1,1245.4 628.1,1245.4 629.1,1245.4 630.1,1245.4 631.1,1245.4 632.1,1245.4 633.1,1245.4 634.1,1245.5 635.1,1245.5 636.1,1245.5 637.1,1245.5 638.1,1245.5 639.1,1245.5 640.1,1245.5 641.1,1245.5 642.1,1245.5 643.1,1245.5 644.1,1245.5 645.1,1245.5 646.1,1245.5 647.1,1245.5 648.1,1245.5 649.1,1245.5 650.1,1245.5 651.1,1245.5 652.1,1245.6 653.1,1245.6 654.1,1245.6 655.1,1245.6 656.1,1245.6 657.1,1245.6 658.1,1245.6 659.1,1245.6 660.1,1245.6 661.1,1245.6 662.1,1245.6 663.1,1245.6 664.1,1245.6 665.1,1245.6 666.1,1245.6 667.1,1245.6 668.1,1245.6 669.1,1245.7 670.1,1245.7 671.1,1245.7 672.1,1245.7 673.1,1245.7 674.1,1245.7 675.1,1245.7 676.1,1245.7 677.1,1245.7 678.1,1245.7 679.1,1245.7 680.1,1245.7 681.1,1245.7 682.1,1245.7 683.1,1245.7 684.1,1245.7 685.1,1245.7 686.1,1245.7 687.1,1245.7 688.1,1245.7 689.1,1245.8 690.1,1245.8 691.1,1245.8 692.1,1245.8 693.1,1245.8 694.1,1245.8 695.1,1245.8 696.1,1245.8 697.1,1245.8 698.1,1245.8 699.1,1245.8 700.1,1245.8 701.1,1245.8 702.1,1245.8 703.1,1245.8 704.1,1245.8 705.1,1245.8 706.1,1245.8 707.1,1245.8 708.1,1245.8 709.1,1245.8 710.1,1245.8 711.1,1245.8 712.1,1245.8 713.1,1245.8 714.1,1245.9 715.1,1245.9 716.1,1245.9 717.1,1245.9 718.1,1245.9 719.1,1245.9 720.1,1245.9 721.1,1245.9 722.1,1245.9 723.1,1245.9 724.1,1245.9 725.1,1245.9 726.1,1245.9 727.1,1245.9 728.1,1245.9 729.1,1245.9 730.1,1245.9 731.1,1245.9 732.1,1245.9 733.1,1245.9 734.1,1245.9 735.1,1245.9 736.1,1245.9 737.1,1245.9 738.1,1245.9 739.1,1245.9 740.1,1245.9 741.1,1245.9 742.1,1245.9 743.1,1245.9 744.1,1245.9 745.1,1245.9 746.1,1245.9 747.1,1246.0 748.1,1246.0 749.1,1246.0 750.1,1246.0 751.1,1246.0 752.1,1246.0 753.1,1246.0 754.1,1246.0 755.1,1246.0 756.1,1246.0 757.1,1246.0 758.1,1246.0 759.1,1246.0 760.1,1246.0 761.1,1246.0 762.1,1246.0 763.1,1246.0 764.1,1246.0 765.1,1246.0 766.1,1246.0 767.1,1246.0 768.1,1246.0 769.1,1246.0 770.1,1246.0 771.1,1246.0 772.1,1246.0 773.1,1246.0 774.1,1246.0 775.1,1246.0 776.1,1246.0 777.1,1246.0 778.1,1246.0 779.1,1246.0 780.1,1246.0 781.1,1246.0 782.1,1246.0 783.1,1246.0 784.1,1246.1 785.1,1246.1 786.1,1246.1 787.1,1246.1 788.1,1246.1 789.1,1246.1 790.1,1246.1 791.1,1246.1 792.1,1246.1 793.1,1246.1 794.1,1246.1 795.1,1246.1 796.1,1246.1 797.1,1246.1 798.1,1246.1 799.1,1246.1 800.1,1246.1 801.1,1246.1 802.1,1246.1 803.1,1246.1 804.1,1246.1 805.1,1246.1 806.1,1246.1 807.1,1246.1 808.1,1246.1 809.1,1246.1 810.1,1246.1 811.1,1246.1 812.1,1246.1 813.1,1246.1 814.1,1246.1 815.1,1246.2 816.1,1246.2 817.1,1246.2 818.1,1246.2 819.1,1246.2 820.1,1246.2 821.1,1246.2 822.1,1246.2 823.1,1246.2 824.1,1246.2 825.1,1246.2 826.1,1246.2 827.1,1246.2 828.1,1246.2 829.1,1246.2 830.1,1246.2 831.1,1246.2 832.1,1246.2 833.1,1246.2 834.1,1246.2 835.1,1246.2 836.1,1246.2 837.1,1246.2 838.1,1246.2 839.1,1246.2 840.1,1246.2 841.1,1246.2 842.1,1246.2 843.1,1246.2 844.1,1246.2 845.1,1246.3 846.1,1246.3 847.1,1246.3 848.1,1246.3 849.1,1246.3 850.1,1246.3 851.1,1246.3 852.1,1246.3 853.1,1246.3 854.1,1246.3 855.1,1246.3 856.1,1246.3 857.1,1246.3 858.1,1246.3 859.1,1246.3 860.1,1246.3 861.1,1246.3 862.1,1246.3 863.1,1246.3 864.1,1246.3 865.1,1246.3 866.1,1246.3 867.1,1246.3 868.1,1246.3 869.1,1246.3 870.1,1246.3 871.1,1246.3 872.1,1246.4 873.1,1246.4 874.1,1246.4 875.1,1246.4 876.1,1246.4 877.1,1246.4 878.1,1246.4 879.1,1246.4 880.1,1246.4 881.1,1246.4 882.1,1246.4 883.1,1246.4 884.1,1246.4 885.1,1246.4 886.1,1246.4 887.1,1246.4 888.1,1246.4 889.1,1246.4 890.1,1246.4 891.1,1246.4 892.1,1246.4 893.1,1246.4 894.1,1246.4 895.1,1246.4 896.1,1246.4 897.1,1246.4 898.1,1246.4 899.1,1246.5 900.1,1246.5 901.1,1246.5 902.1,1246.5 903.1,1246.5 904.1,1246.5 905.1,1246.5 906.1,1246.5 907.1,1246.5 908.1,1246.5 909.1,1246.5 910.1,1246.5 911.1,1246.5 912.1,1246.5 913.1,1246.5 914.1,1246.5 915.1,1246.5 916.1,1246.5 917.1,1246.5 918.1,1246.5 919.1,1246.5 920.1,1246.5 921.1,1246.5 922.1,1246.5 923.1,1246.5 924.1,1246.5 925.1,1246.6 926.1,1246.6 927.1,1246.6 928.1,1246.6 929.1,1246.6 930.1,1246.6 931.1,1246.6 932.1,1246.6 933.1,1246.6 934.1,1246.6 935.1,1246.6 936.1,1246.6" stroke="#000000" stroke-width="3.4" fill="none" stroke-linejoin="round"/>
<path d="M125.1,1248.5 125.6,1251.6 126.1,1247.9 126.6,1245.7 127.1,1248.0 127.6,1249.5 128.1,1249.9 128.6,1248.8 129.1,1248.0 129.6,1251.2 130.1,1251.4 130.6,1248.4 131.1,1248.3 131.6,1248.9 132.1,1249.3 132.6,1248.9 133.1,1248.3 133.6,1248.3 134.1,1249.0 134.6,1251.1 135.1,1245.0 135.6,1245.9 136.1,1249.5 136.6,1248.3 137.1,1249.5 137.6,1248.5 138.1,1248.2 138.6,1251.8 139.1,1247.8 139.6,1248.8 140.1,1248.4 140.6,1246.0 141.1,1246.6 141.6,1249.7 142.1,1248.2 142.6,1248.8 143.1,1248.0 143.6,1249.9 144.1,1249.9 144.6,1247.9 145.1,1246.1 145.6,1249.6 146.1,1248.0 146.6,1248.2 147.1,1248.0 147.6,1244.2 148.1,1248.0 148.6,1245.5 149.1,1244.9 149.6,1249.5 150.1,1246.1 150.6,1248.7 151.1,1247.7 151.6,1247.9 152.1,1247.9 152.6,1246.2 153.1,1244.8 153.6,1248.3 154.1,1245.5 154.6,1244.8 155.1,1244.2 155.6,1248.1 156.1,1250.9 156.6,1247.8 157.1,1242.6 157.6,1247.9 158.1,1247.6 158.6,1248.3 159.1,1245.5 159.6,1248.2 160.1,1250.5 160.6,1246.3 161.1,1250.9 161.6,1247.9 162.1,1249.2 162.6,1246.2 163.1,1247.1 163.6,1249.5 164.1,1249.0 164.6,1247.7 165.1,1248.4 165.6,1247.6 166.1,1247.2 166.6,1246.7 167.1,1247.4 167.6,1247.4 168.1,1247.3 168.6,1241.7 169.1,1252.0 169.6,1253.1 170.1,1248.1 170.6,1245.8 171.1,1249.3 171.6,1246.2 172.1,1243.4 172.6,1245.7 173.1,1248.5 173.6,1249.2 174.1,1251.0 174.6,1248.5 175.1,1246.4 175.6,1247.3 176.1,1247.9 176.6,1243.9 177.1,1244.5 177.6,1247.9 178.1,1246.5 178.6,1244.6 179.1,1247.0 179.6,1244.5 180.1,1247.6 180.6,1244.4 181.1,1251.4 181.6,1248.5 182.1,1245.6 182.6,1245.2 183.1,1247.7 183.6,1245.8 184.1,1248.9 184.6,1247.9 185.1,1248.3 185.6,1246.5 186.1,1248.3 186.6,1249.6 187.1,1248.9 187.6,1246.0 188.1,1245.4 188.6,1244.4 189.1,1245.6 189.6,1247.2 190.1,1246.1 190.6,1246.7 191.1,1249.1 191.6,1247.0 192.1,1246.5 192.6,1244.3 193.1,1247.2 193.6,1246.5 194.1,1244.9 194.6,1247.1 195.1,1247.0 195.6,1249.7 196.1,1242.1 196.6,1244.7 197.1,1246.0 197.6,1245.0 198.1,1244.0 198.6,1243.9 199.1,1246.9 199.6,1246.6 200.1,1244.4 200.6,1245.2 201.1,1245.1 201.6,1246.6 202.1,1246.6 202.6,1247.2 203.1,1247.2 203.6,1248.9 204.1,1246.2 204.6,1244.7 205.1,1247.1 205.6,1252.1 206.1,1245.5 206.6,1246.9 207.1,1245.7 207.6,1246.0 208.1,1246.2 208.6,1244.8 209.1,1245.6 209.6,1246.9 210.1,1247.5 210.6,1247.1 211.1,1249.0 211.6,1246.5 212.1,1247.2 212.6,1245.4 213.1,1242.6 213.6,1246.8 214.1,1241.7 214.6,1244.4 215.1,1244.3 215.6,1246.0 216.1,1244.7 216.6,1249.8 217.1,1246.6 217.6,1246.7 218.1,1248.9 218.6,1247.5 219.1,1250.8 219.6,1246.3 220.1,1248.3 220.6,1250.4 221.1,1246.7 221.6,1250.0 222.1,1247.5 222.6,1244.4 223.1,1247.8 223.6,1249.2 224.1,1247.2 224.6,1245.5 225.1,1245.8 225.6,1246.3 226.1,1245.4 226.6,1245.3 227.1,1248.7 227.6,1246.9 228.1,1240.5 228.6,1245.7 229.1,1246.2 229.6,1247.1 230.1,1245.0 230.6,1247.4 231.1,1244.1 231.6,1246.7 232.1,1244.9 232.6,1246.1 233.1,1244.9 233.6,1247.0 234.1,1244.4 234.6,1244.8 235.1,1242.7 235.6,1248.4 236.1,1246.4 236.6,1244.7 237.1,1247.0 237.6,1245.4 238.1,1245.3 238.6,1247.8 239.1,1246.8 239.6,1241.8 240.1,1244.3 240.6,1247.4 241.1,1246.2 241.6,1248.1 242.1,1244.8 242.6,1245.2 243.1,1240.7 243.6,1245.1 244.1,1244.1 244.6,1247.0 245.1,1246.6 245.6,1243.4 246.1,1249.3 246.6,1245.8 247.1,1250.2 247.6,1244.8 248.1,1251.8 248.6,1246.5 249.1,1248.8 249.6,1246.9 250.1,1247.2 250.6,1243.7 251.1,1246.5 251.6,1244.6 252.1,1245.0 252.6,1246.2 253.1,1247.6 253.6,1249.9 254.1,1245.4 254.6,1245.4 255.1,1243.7 255.6,1245.3 256.1,1246.2 256.6,1245.9 257.1,1246.4 257.6,1247.3 258.1,1246.4 258.6,1244.8 259.1,1245.7 259.6,1249.6 260.1,1246.0 260.6,1245.7 261.1,1245.6 261.6,1247.1 262.1,1244.3 262.6,1246.7 263.1,1245.3 263.6,1248.2 264.1,1246.1 264.6,1244.9 265.1,1245.4 265.6,1245.9 266.1,1244.1 266.6,1245.8 267.1,1246.2 267.6,1250.7 268.1,1245.8 268.6,1247.7 269.1,1247.6 269.6,1244.2 270.1,1247.5 270.6,1248.7 271.1,1245.4 271.6,1241.9 272.1,1245.7 272.6,1245.3 273.1,1247.3 273.6,1245.8 274.1,1243.6 274.6,1246.2 275.1,1249.3 275.6,1247.2 276.1,1242.5 276.6,1243.9 277.1,1245.7 277.6,1246.6 278.1,1245.8 278.6,1245.2 279.1,1241.0 279.6,1246.0 280.1,1245.2 280.6,1247.7 281.1,1240.3 281.6,1243.6 282.1,1244.2 282.6,1243.6 283.1,1246.5 283.6,1247.5 284.1,1244.3 284.6,1245.5 285.1,1248.5 285.6,1246.6 286.1,1247.6 286.6,1247.1 287.1,1247.5 287.6,1245.3 288.1,1247.0 288.6,1247.6 289.1,1247.6 289.6,1244.8 290.1,1245.2 290.6,1243.5 291.1,1246.8 291.6,1243.7 292.1,1246.7 292.6,1244.6 293.1,1245.5 293.6,1245.6 294.1,1245.2 294.6,1243.2 295.1,1247.3 295.6,1244.4 296.1,1243.8 296.6,1245.5 297.1,1245.9 297.6,1244.8 298.1,1246.0 298.6,1245.4 299.1,1246.3 299.6,1246.3 300.1,1245.0 300.6,1243.7 301.1,1245.9 301.6,1244.8 302.1,1244.8 302.6,1246.2 303.1,1246.0 303.6,1242.2 304.1,1242.6 304.6,1246.5 305.1,1247.5 305.6,1251.6 306.1,1243.6 306.6,1246.2 307.1,1245.7 307.6,1247.0 308.1,1246.1 308.6,1243.5 309.1,1247.0 309.6,1245.0 310.1,1245.0 310.6,1245.6 311.1,1244.7 311.6,1247.4 312.1,1244.9 312.6,1244.3 313.1,1245.9 313.6,1245.9 314.1,1244.5 314.6,1247.4 315.1,1242.6 315.6,1246.8 316.1,1243.3 316.6,1247.0 317.1,1247.5 317.6,1244.7 318.1,1245.8 318.6,1245.9 319.1,1245.9 319.6,1246.0 320.1,1246.6 320.6,1248.9 321.1,1246.9 321.6,1248.2 322.1,1246.0 322.6,1244.0 323.1,1245.3 323.6,1246.0 324.1,1246.1 324.6,1246.7 325.1,1246.6 325.6,1246.4 326.1,1245.8 326.6,1245.4 327.1,1243.2 327.6,1244.8 328.1,1247.0 328.6,1247.9 329.1,1245.8 329.6,1244.8 330.1,1247.1 330.6,1245.4 331.1,1246.2 331.6,1246.5 332.1,1246.0 332.6,1246.9 333.1,1248.5 333.6,1241.6 334.1,1245.5 334.6,1246.1 335.1,1246.1 335.6,1243.6 336.1,1247.7 336.6,1246.5 337.1,1250.3 337.6,1244.9 338.1,1251.1 338.6,1246.7 339.1,1245.4 339.6,1244.7 340.1,1248.2 340.6,1247.7 341.1,1249.1 341.6,1247.9 342.1,1248.7 342.6,1247.5 343.1,1252.3 343.6,1245.5 344.1,1249.8 344.6,1240.6 345.1,1246.6 345.6,1245.0 346.1,1249.1 346.6,1246.7 347.1,1245.9 347.6,1246.8 348.1,1250.9 348.6,1247.0 349.1,1250.8 349.6,1243.5 350.1,1247.5 350.6,1246.4 351.1,1247.6 351.6,1242.1 352.1,1245.4 352.6,1248.5 353.1,1249.4 353.6,1244.4 354.1,1245.4 354.6,1249.4 355.1,1250.3 355.6,1247.7 356.1,1247.2 356.6,1249.2 357.1,1241.1 357.6,1247.3 358.1,1244.4 358.6,1246.3 359.1,1246.0 359.6,1246.9 360.1,1245.6 360.6,1246.3 361.1,1243.9 361.6,1251.4 362.1,1247.0 362.6,1247.1 363.1,1248.2 363.6,1247.2 364.1,1246.0 364.6,1247.7 365.1,1246.7 365.6,1246.7 366.1,1244.9 366.6,1247.6 367.1,1246.8 367.6,1245.7 368.1,1248.2 368.6,1245.6 369.1,1245.1 369.6,1247.8 370.1,1250.5 370.6,1250.0 371.1,1250.2 371.6,1246.1 372.1,1246.5 372.6,1247.3 373.1,1246.7 373.6,1251.3 374.1,1247.3 374.6,1244.3 375.1,1246.6 375.6,1249.6 376.1,1248.4 376.6,1246.0 377.1,1244.9 377.6,1247.6 378.1,1248.2 378.6,1246.9 379.1,1245.0 379.6,1248.1 380.1,1243.6 380.6,1247.7 381.1,1245.4 381.6,1247.1 382.1,1248.5 382.6,1249.6 383.1,1247.7 383.6,1242.4 384.1,1249.5 384.6,1247.6 385.1,1245.9 385.6,1248.9 386.1,1248.0 386.6,1246.6 387.1,1245.2 387.6,1251.4 388.1,1246.2 388.6,1247.5 389.1,1247.3 389.6,1246.9 390.1,1245.2 390.6,1247.0 391.1,1248.3 391.6,1245.2 392.1,1252.7 392.6,1246.4 393.1,1245.8 393.6,1246.7 394.1,1247.3 394.6,1247.9 395.1,1248.2 395.6,1249.9 396.1,1246.7 396.6,1249.0 397.1,1249.4 397.6,1248.0 398.1,1253.3 398.6,1246.6 399.1,1246.8 399.6,1249.3 400.1,1249.3 400.6,1248.3 401.1,1247.6 401.6,1245.6 402.1,1246.6 402.6,1246.6 403.1,1250.5 403.6,1248.1 404.1,1245.5 404.6,1245.2 405.1,1246.7 405.6,1247.6 406.1,1249.5 406.6,1249.3 407.1,1246.8 407.6,1241.9 408.1,1247.8 408.6,1246.1 409.1,1247.4 409.6,1247.5 410.1,1245.9 410.6,1243.3 411.1,1249.5 411.6,1250.8 412.1,1247.7 412.6,1250.3 413.1,1247.0 413.6,1245.8 414.1,1248.0 414.6,1248.8 415.1,1246.6 415.6,1248.9 416.1,1245.4 416.6,1247.4 417.1,1248.8 417.6,1243.9 418.1,1245.2 418.6,1248.0 419.1,1245.4 419.6,1247.0 420.1,1245.1 420.6,1246.7 421.1,1246.5 421.6,1249.6 422.1,1252.0 422.6,1246.4 423.1,1247.7 423.6,1247.4 424.1,1248.1 424.6,1246.5 425.1,1250.5 425.6,1249.0 426.1,1246.3 426.6,1248.8 427.1,1245.4 427.6,1245.0 428.1,1246.3 428.6,1246.5 429.1,1247.7 429.6,1246.4 430.1,1246.5 430.6,1247.5 431.1,1246.2 431.6,1245.1 432.1,1246.2 432.6,1246.2 433.1,1247.0 433.6,1246.2 434.1,1246.7 434.6,1240.5 435.1,1246.9 435.6,1247.1 436.1,1246.1 436.6,1246.3 437.1,1245.9 437.6,1245.8 438.1,1246.6 438.6,1248.0 439.1,1246.0 439.6,1246.9 440.1,1245.3 440.6,1248.4 441.1,1247.0 441.6,1244.0 442.1,1245.9 442.6,1247.7 443.1,1243.5 443.6,1246.0 444.1,1247.2 444.6,1246.9 445.1,1245.5 445.6,1245.3 446.1,1244.9 446.6,1242.9 447.1,1246.6 447.6,1244.5 448.1,1245.3 448.6,1247.0 449.1,1246.2 449.6,1246.5 450.1,1246.7 450.6,1246.7 451.1,1244.3 451.6,1244.6 452.1,1248.7 452.6,1247.1 453.1,1247.0 453.6,1244.8 454.1,1245.6 454.6,1245.6 455.1,1245.3 455.6,1246.1 456.1,1245.2 456.6,1249.5 457.1,1244.8 457.6,1243.6 458.1,1242.8 458.6,1244.1 459.1,1242.4 459.6,1245.9 460.1,1243.5 460.6,1244.6 461.1,1244.2 461.6,1250.7 462.1,1244.4 462.6,1244.1 463.1,1243.6 463.6,1245.4 464.1,1243.1 464.6,1243.6 465.1,1242.4 465.6,1243.5 466.1,1246.1 466.6,1245.1 467.1,1244.2 467.6,1242.8 468.1,1245.3 468.6,1244.6 469.1,1242.7 469.6,1246.4 470.1,1243.5 470.6,1242.2 471.1,1244.3 471.6,1244.2 472.1,1239.8 472.6,1244.2 473.1,1245.6 473.6,1242.0 474.1,1244.6 474.6,1242.7 475.1,1245.4 475.6,1244.6 476.1,1245.1 476.6,1243.4 477.1,1243.0 477.6,1241.5 478.1,1242.2 478.6,1245.6 479.1,1246.9 479.6,1242.9 480.1,1244.0 480.6,1242.5 481.1,1243.2 481.6,1243.4 482.1,1240.7 482.6,1243.3 483.1,1243.9 483.6,1243.7 484.1,1246.4 484.6,1244.6 485.1,1241.3 485.6,1248.6 486.1,1244.1 486.6,1243.5 487.1,1243.6 487.6,1244.2 488.1,1244.3 488.6,1244.3 489.1,1246.8 489.6,1242.8 490.1,1245.6 490.6,1243.1 491.1,1248.7 491.6,1244.1 492.1,1242.3 492.6,1243.6 493.1,1249.4 493.6,1246.0 494.1,1245.0 494.6,1242.6 495.1,1243.4 495.6,1242.1 496.1,1242.0 496.6,1243.8 497.1,1242.5 497.6,1244.7 498.1,1243.4 498.6,1243.3 499.1,1243.7 499.6,1249.2 500.1,1240.6 500.6,1245.5 501.1,1243.5 501.6,1243.2 502.1,1241.6 502.6,1244.0 503.1,1243.7 503.6,1246.3 504.1,1246.4 504.6,1241.6 505.1,1245.2 505.6,1246.3 506.1,1242.7 506.6,1241.9 507.1,1244.9 507.6,1245.1 508.1,1243.1 508.6,1241.7 509.1,1242.5 509.6,1243.3 510.1,1238.4 510.6,1241.9 511.1,1242.8 511.6,1246.3 512.1,1243.6 512.6,1246.0 513.1,1243.8 513.6,1249.3 514.1,1244.0 514.6,1243.9 515.1,1247.4 515.6,1244.5 516.1,1243.3 516.6,1245.1 517.1,1247.6 517.6,1247.2 518.1,1245.2 518.6,1243.0 519.1,1243.8 519.6,1245.8 520.1,1246.1 520.6,1241.8 521.1,1241.1 521.6,1241.3 522.1,1243.9 522.6,1244.1 523.1,1243.4 523.6,1245.3 524.1,1244.6 524.6,1243.3 525.1,1242.1 525.6,1244.4 526.1,1247.3 526.6,1244.1 527.1,1243.3 527.6,1243.4 528.1,1246.2 528.6,1245.1 529.1,1247.0 529.6,1244.4 530.1,1245.0 530.6,1244.1 531.1,1246.9 531.6,1245.0 532.1,1245.4 532.6,1244.1 533.1,1242.5 533.6,1244.3 534.1,1242.3 534.6,1244.2 535.1,1239.6 535.6,1244.8 536.1,1241.9 536.6,1244.8 537.1,1245.6 537.6,1245.3 538.1,1245.4 538.6,1242.3 539.1,1245.6 539.6,1243.6 540.1,1244.8 540.6,1244.6 541.1,1245.1 541.6,1242.9 542.1,1245.2 542.6,1243.5 543.1,1244.8 543.6,1245.8 544.1,1246.3 544.6,1243.0 545.1,1244.3 545.6,1246.1 546.1,1245.9 546.6,1246.5 547.1,1245.1 547.6,1244.3 548.1,1244.6 548.6,1246.0 549.1,1245.0 549.6,1243.2 550.1,1248.1 550.6,1246.2 551.1,1242.7 551.6,1245.4 552.1,1244.3 552.6,1250.2 553.1,1245.1 553.6,1242.7 554.1,1247.2 554.6,1244.3 555.1,1247.1 555.6,1245.0 556.1,1244.8 556.6,1242.8 557.1,1251.0 557.6,1246.2 558.1,1241.6 558.6,1240.9 559.1,1244.4 559.6,1245.1 560.1,1248.5 560.6,1247.4 561.1,1245.3 561.6,1241.1 562.1,1244.4 562.6,1246.9 563.1,1244.6 563.6,1246.8 564.1,1246.1 564.6,1240.5 565.1,1243.9 565.6,1245.6 566.1,1245.7 566.6,1240.4 567.1,1246.2 567.6,1244.6 568.1,1244.6 568.6,1248.1 569.1,1245.5 569.6,1242.2 570.1,1249.8 570.6,1247.4 571.1,1250.5 571.6,1249.2 572.1,1247.7 572.6,1241.1 573.1,1246.3 573.6,1246.0 574.1,1240.7 574.6,1246.3 575.1,1245.2 575.6,1245.4 576.1,1241.6 576.6,1245.3 577.1,1246.2 577.6,1245.3 578.1,1243.1 578.6,1244.7 579.1,1245.2 579.6,1243.7 580.1,1247.9 580.6,1245.4 581.1,1250.1 581.6,1244.8 582.1,1245.0 582.6,1243.9 583.1,1247.3 583.6,1245.0 584.1,1245.2 584.6,1245.6 585.1,1243.8 585.6,1248.6 586.1,1242.1 586.6,1246.3 587.1,1246.1 587.6,1245.8 588.1,1246.0 588.6,1243.6 589.1,1247.6 589.6,1245.4 590.1,1251.2 590.6,1245.6 591.1,1246.4 591.6,1243.2 592.1,1245.4 592.6,1244.7 593.1,1245.3 593.6,1245.3 594.1,1249.2 594.6,1244.4 595.1,1244.3 595.6,1245.6 596.1,1247.6 596.6,1245.6 597.1,1246.8 597.6,1249.8 598.1,1246.9 598.6,1246.7 599.1,1247.9 599.6,1246.4 600.1,1243.7 600.6,1244.5 601.1,1245.4 601.6,1248.3 602.1,1251.3 602.6,1246.2 603.1,1244.9 603.6,1242.7 604.1,1245.1 604.6,1247.7 605.1,1239.8 605.6,1244.4 606.1,1245.5 606.6,1242.4 607.1,1247.7 607.6,1242.4 608.1,1244.6 608.6,1241.4 609.1,1246.8 609.6,1244.1 610.1,1239.4 610.6,1245.1 611.1,1247.8 611.6,1244.4 612.1,1245.7 612.6,1244.8 613.1,1244.5 613.6,1246.1 614.1,1242.7 614.6,1247.7 615.1,1246.2 615.6,1247.4 616.1,1244.1 616.6,1242.8 617.1,1246.6 617.6,1246.3 618.1,1245.1 618.6,1243.5 619.1,1243.9 619.6,1246.7 620.1,1251.1 620.6,1243.6 621.1,1245.3 621.6,1246.2 622.1,1247.4 622.6,1247.4 623.1,1243.4 623.6,1243.6 624.1,1246.0 624.6,1245.5 625.1,1245.0 625.6,1245.9 626.1,1247.8 626.6,1245.3 627.1,1244.5 627.6,1245.9 628.1,1242.9 628.6,1245.1 629.1,1244.2 629.6,1244.1 630.1,1246.4 630.6,1245.3 631.1,1241.4 631.6,1246.8 632.1,1247.4 632.6,1239.5 633.1,1246.6 633.6,1246.1 634.1,1246.1 634.6,1244.9 635.1,1245.7 635.6,1244.4 636.1,1245.8 636.6,1239.6 637.1,1244.3 637.6,1244.8 638.1,1249.4 638.6,1245.4 639.1,1246.0 639.6,1245.1 640.1,1240.9 640.6,1245.2 641.1,1243.4 641.6,1247.0 642.1,1250.3 642.6,1245.8 643.1,1246.6 643.6,1239.5 644.1,1244.6 644.6,1245.1 645.1,1245.6 645.6,1245.2 646.1,1244.7 646.6,1245.2 647.1,1243.5 647.6,1246.4 648.1,1246.3 648.6,1247.0 649.1,1244.4 649.6,1247.0 650.1,1242.3 650.6,1245.3 651.1,1246.1 651.6,1244.8 652.1,1245.5 652.6,1245.3 653.1,1246.3 653.6,1245.6 654.1,1245.1 654.6,1245.4 655.1,1246.0 655.6,1248.2 656.1,1246.3 656.6,1242.3 657.1,1243.9 657.6,1246.3 658.1,1245.2 658.6,1240.1 659.1,1246.0 659.6,1243.7 660.1,1244.7 660.6,1246.1 661.1,1244.5 661.6,1244.1 662.1,1249.1 662.6,1246.0 663.1,1247.5 663.6,1244.0 664.1,1247.5 664.6,1243.1 665.1,1244.7 665.6,1251.6 666.1,1243.4 666.6,1248.3 667.1,1245.2 667.6,1248.7 668.1,1243.2 668.6,1246.7 669.1,1245.5 669.6,1243.5 670.1,1247.6 670.6,1243.9 671.1,1246.2 671.6,1240.6 672.1,1251.6 672.6,1246.3 673.1,1247.2 673.6,1249.3 674.1,1243.4 674.6,1244.7 675.1,1247.2 675.6,1246.5 676.1,1244.3 676.6,1246.0 677.1,1244.9 677.6,1248.3 678.1,1250.6 678.6,1242.9 679.1,1249.5 679.6,1246.3 680.1,1244.7 680.6,1246.0 681.1,1247.0 681.6,1248.2 682.1,1249.2 682.6,1244.4 683.1,1239.7 683.6,1245.6 684.1,1244.8 684.6,1246.5 685.1,1246.9 685.6,1247.7 686.1,1243.9 686.6,1244.3 687.1,1245.4 687.6,1244.1 688.1,1242.3 688.6,1247.9 689.1,1241.1 689.6,1245.9 690.1,1246.1 690.6,1245.5 691.1,1246.9 691.6,1245.2 692.1,1245.7 692.6,1245.1 693.1,1245.5 693.6,1247.4 694.1,1246.8 694.6,1245.4 695.1,1247.7 695.6,1245.6 696.1,1244.9 696.6,1248.3 697.1,1247.0 697.6,1242.8 698.1,1246.4 698.6,1246.0 699.1,1245.0 699.6,1246.0 700.1,1239.8 700.6,1243.8 701.1,1242.1 701.6,1245.7 702.1,1246.8 702.6,1246.1 703.1,1243.3 703.6,1241.7 704.1,1246.4 704.6,1241.8 705.1,1245.6 705.6,1246.1 706.1,1245.2 706.6,1243.7 707.1,1244.8 707.6,1243.6 708.1,1246.9 708.6,1246.1 709.1,1241.8 709.6,1243.1 710.1,1251.4 710.6,1245.4 711.1,1250.8 711.6,1248.4 712.1,1242.5 712.6,1245.2 713.1,1248.0 713.6,1245.7 714.1,1246.1 714.6,1246.5 715.1,1246.3 715.6,1243.7 716.1,1244.5 716.6,1246.7 717.1,1246.4 717.6,1245.6 718.1,1245.3 718.6,1247.1 719.1,1243.4 719.6,1247.1 720.1,1245.8 720.6,1246.3 721.1,1244.2 721.6,1245.4 722.1,1245.6 722.6,1245.6 723.1,1243.1 723.6,1245.6 724.1,1244.8 724.6,1246.2 725.1,1247.6 725.6,1239.9 726.1,1246.4 726.6,1244.9 727.1,1246.7 727.6,1244.1 728.1,1248.6 728.6,1245.1 729.1,1246.4 729.6,1246.6 730.1,1244.0 730.6,1241.4 731.1,1248.5 731.6,1243.6 732.1,1243.9 732.6,1243.8 733.1,1247.6 733.6,1245.9 734.1,1248.7 734.6,1245.6 735.1,1247.8 735.6,1245.5 736.1,1244.0 736.6,1247.8 737.1,1242.8 737.6,1245.3 738.1,1246.2 738.6,1245.3 739.1,1246.8 739.6,1247.4 740.1,1247.2 740.6,1244.8 741.1,1246.0 741.6,1246.0 742.1,1246.7 742.6,1245.9 743.1,1247.2 743.6,1246.2 744.1,1245.8 744.6,1243.6 745.1,1245.4 745.6,1246.6 746.1,1243.8 746.6,1245.9 747.1,1242.8 747.6,1243.4 748.1,1245.1 748.6,1245.6 749.1,1244.0 749.6,1245.8 750.1,1244.4 750.6,1246.1 751.1,1245.9 751.6,1246.4 752.1,1248.2 752.6,1246.6 753.1,1240.0 753.6,1248.5 754.1,1245.5 754.6,1246.7 755.1,1245.8 755.6,1248.5 756.1,1243.4 756.6,1247.8 757.1,1245.9 757.6,1246.9 758.1,1247.1 758.6,1246.1 759.1,1247.5 759.6,1251.9 760.1,1246.3 760.6,1247.2 761.1,1245.7 761.6,1244.8 762.1,1246.5 762.6,1242.2 763.1,1245.6 763.6,1247.1 764.1,1248.6 764.6,1246.7 765.1,1246.6 765.6,1244.1 766.1,1247.6 766.6,1249.1 767.1,1244.7 767.6,1243.0 768.1,1246.1 768.6,1245.9 769.1,1247.7 769.6,1246.1 770.1,1246.2 770.6,1245.6 771.1,1245.9 771.6,1248.0 772.1,1245.3 772.6,1246.1 773.1,1248.6 773.6,1245.2 774.1,1242.5 774.6,1246.5 775.1,1244.2 775.6,1245.5 776.1,1246.9 776.6,1246.0 777.1,1249.1 777.6,1244.7 778.1,1246.0 778.6,1243.4 779.1,1249.8 779.6,1244.1 780.1,1242.2 780.6,1244.8 781.1,1245.2 781.6,1246.6 782.1,1248.8 782.6,1247.5 783.1,1246.7 783.6,1241.0 784.1,1248.4 784.6,1243.9 785.1,1245.9 785.6,1240.1 786.1,1247.1 786.6,1246.7 787.1,1244.6 787.6,1247.4 788.1,1249.8 788.6,1245.2 789.1,1241.4 789.6,1246.2 790.1,1245.5 790.6,1247.4 791.1,1247.5 791.6,1247.5 792.1,1245.5 792.6,1246.7 793.1,1245.7 793.6,1245.1 794.1,1247.1 794.6,1244.3 795.1,1243.9 795.6,1245.5 796.1,1243.5 796.6,1247.4 797.1,1247.4 797.6,1245.6 798.1,1246.0 798.6,1243.3 799.1,1244.0 799.6,1247.0 800.1,1244.0 800.6,1242.9 801.1,1245.4 801.6,1245.2 802.1,1244.0 802.6,1245.8 803.1,1242.1 803.6,1243.0 804.1,1246.2 804.6,1244.3 805.1,1245.3 805.6,1245.1 806.1,1246.5 806.6,1244.6 807.1,1247.3 807.6,1249.7 808.1,1246.1 808.6,1246.6 809.1,1246.1 809.6,1246.2 810.1,1245.9 810.6,1244.1 811.1,1245.1 811.6,1245.6 812.1,1252.1 812.6,1240.3 813.1,1246.3 813.6,1250.8 814.1,1246.1 814.6,1245.9 815.1,1241.0 815.6,1246.4 816.1,1246.7 816.6,1247.0 817.1,1250.6 817.6,1250.4 818.1,1247.5 818.6,1246.1 819.1,1244.9 819.6,1244.9 820.1,1246.0 820.6,1247.3 821.1,1243.8 821.6,1245.7 822.1,1248.0 822.6,1244.8 823.1,1251.1 823.6,1241.6 824.1,1250.8 824.6,1240.2 825.1,1246.0 825.6,1244.2 826.1,1247.5 826.6,1248.0 827.1,1244.6 827.6,1245.4 828.1,1246.9 828.6,1247.5 829.1,1246.9 829.6,1245.3 830.1,1241.8 830.6,1246.4 831.1,1247.8 831.6,1246.9 832.1,1246.4 832.6,1242.6 833.1,1245.8 833.6,1243.1 834.1,1246.0 834.6,1246.8 835.1,1245.9 835.6,1242.9 836.1,1247.9 836.6,1246.5 837.1,1244.7 837.6,1244.6 838.1,1245.7 838.6,1248.1 839.1,1246.1 839.6,1246.0 840.1,1245.4 840.6,1248.2 841.1,1246.2 841.6,1249.2 842.1,1246.2 842.6,1246.6 843.1,1244.9 843.6,1247.9 844.1,1246.4 844.6,1246.8 845.1,1246.4 845.6,1246.7 846.1,1246.2 846.6,1246.3 847.1,1246.7 847.6,1246.5 848.1,1245.8 848.6,1249.5 849.1,1247.5 849.6,1247.2 850.1,1241.0 850.6,1247.6 851.1,1246.2 851.6,1245.0 852.1,1245.4 852.6,1240.3 853.1,1244.1 853.6,1247.3 854.1,1243.7 854.6,1246.5 855.1,1246.1 855.6,1246.4 856.1,1247.5 856.6,1245.1 857.1,1244.7 857.6,1242.5 858.1,1244.9 858.6,1247.5 859.1,1248.7 859.6,1246.8 860.1,1247.7 860.6,1246.4 861.1,1248.4 861.6,1246.9 862.1,1247.0 862.6,1246.3 863.1,1246.1 863.6,1246.2 864.1,1243.2 864.6,1244.9 865.1,1246.6 865.6,1246.1 866.1,1244.5 866.6,1248.3 867.1,1245.5 867.6,1243.4 868.1,1247.2 868.6,1242.3 869.1,1246.7 869.6,1244.8 870.1,1246.5 870.6,1241.4 871.1,1246.0 871.6,1249.2 872.1,1246.3 872.6,1245.6 873.1,1245.7 873.6,1248.8 874.1,1246.3 874.6,1248.5 875.1,1249.0 875.6,1244.4 876.1,1246.1 876.6,1245.2 877.1,1244.9 877.6,1246.3 878.1,1244.4 878.6,1246.8 879.1,1245.4 879.6,1246.1 880.1,1246.3 880.6,1245.8 881.1,1248.3 881.6,1245.9 882.1,1247.4 882.6,1247.9 883.1,1246.8 883.6,1245.4 884.1,1245.7 884.6,1246.4 885.1,1244.9 885.6,1248.6 886.1,1249.5 886.6,1246.1 887.1,1245.0 887.6,1246.2 888.1,1246.9 888.6,1245.0 889.1,1246.8 889.6,1246.5 890.1,1249.5 890.6,1246.7 891.1,1244.4 891.6,1247.3 892.1,1248.0 892.6,1248.0 893.1,1245.5 893.6,1245.9 894.1,1246.6 894.6,1247.0 895.1,1246.9 895.6,1241.8 896.1,1246.1 896.6,1245.7 897.1,1249.6 897.6,1246.1 898.1,1247.7 898.6,1246.5 899.1,1247.3 899.6,1246.8 900.1,1247.7 900.6,1246.7 901.1,1245.9 901.6,1245.2 902.1,1245.2 902.6,1245.3 903.1,1247.0 903.6,1242.9 904.1,1247.1 904.6,1246.5 905.1,1248.0 905.6,1244.9 906.1,1247.2 906.6,1245.9 907.1,1246.6 907.6,1247.1 908.1,1245.3 908.6,1246.8 909.1,1247.4 909.6,1246.4 910.1,1247.9 910.6,1246.6 911.1,1246.2 911.6,1246.6 912.1,1246.8 912.6,1244.0 913.1,1247.6 913.6,1249.2 914.1,1247.7 914.6,1242.8 915.1,1245.8 915.6,1247.3 916.1,1245.2 916.6,1246.0 917.1,1246.2 917.6,1249.8 918.1,1243.7 918.6,1246.7 919.1,1246.5 919.6,1246.3 920.1,1247.8 920.6,1246.7 921.1,1245.0 921.6,1247.3 922.1,1246.9 922.6,1246.6 923.1,1246.9 923.6,1247.3 924.1,1247.7 924.6,1246.9 925.1,1247.2 925.6,1242.7 926.1,1246.0 926.6,1246.6 927.1,1246.5 927.6,1250.0 928.1,1246.7 928.6,1246.2 929.1,1244.7 929.6,1245.3 930.1,1246.9 930.6,1246.3 931.1,1246.6 931.6,1249.1 932.1,1248.6 932.6,1248.4 933.1,1247.1 933.6,1246.6 934.1,1245.9 934.6,1245.6 935.1,1247.8 935.6,1244.0 936.1,1245.9 936.6,1245.4" stroke="#000000" stroke-width="1.7" fill="none" stroke-linejoin="miter"/>
</g>
<g id="axes">
<line x1="63" y1="8.1" x2="995.6" y2="8.1" stroke="#000" stroke-width="3.8"/>
<line x1="63" y1="434" x2="995.6" y2="434" stroke="#000" stroke-width="3.5"/>
<line x1="63" y1="856.2" x2="995.6" y2="856.2" stroke="#000" stroke-width="4.3"/>
<line x1="63" y1="1281.9" x2="995.6" y2="1281.9" stroke="#000" stroke-width="3.4"/>
<line x1="81.0" y1="6.2" x2="81.0" y2="1299.4" stroke="#000" stroke-width="4.2"/>
<line x1="993.4" y1="6.2" x2="993.4" y2="1299.4" stroke="#000" stroke-width="4.4"/>
<line x1="71" y1="93" x2="81.0" y2="93" stroke="#000" stroke-width="3.6"/>
<line x1="71" y1="178.4" x2="81.0" y2="178.4" stroke="#000" stroke-width="3.6"/>
<line x1="71" y1="263.5" x2="81.0" y2="263.5" stroke="#000" stroke-width="3.6"/>
<line x1="71" y1="348.9" x2="81.0" y2="348.9" stroke="#000" stroke-width="3.6"/>
<line x1="71" y1="518.9" x2="81.0" y2="518.9" stroke="#000" stroke-width="3.6"/>
<line x1="71" y1="604.3" x2="81.0" y2="604.3" stroke="#000" stroke-width="3.6"/>
<line x1="71" y1="689.2" x2="81.0" y2="689.2" stroke="#000" stroke-width="3.6"/>
<line x1="71" y1="774.2" x2="81.0" y2="774.2" stroke="#000" stroke-width="3.6"/>
<line x1="71" y1="859.5" x2="81.0" y2="859.5" stroke="#000" stroke-width="3.6"/>
<line x1="71" y1="941.4" x2="81.0" y2="941.4" stroke="#000" stroke-width="3.6"/>
<line x1="71" y1="1026.5" x2="81.0" y2="1026.5" stroke="#000" stroke-width="3.6"/>
<line x1="71" y1="1111.6" x2="81.0" y2="1111.6" stroke="#000" stroke-width="3.6"/>
<line x1="71" y1="1196.7" x2="81.0" y2="1196.7" stroke="#000" stroke-width="3.6"/>
<line x1="137.8" y1="1282" x2="137.8" y2="1291.7" stroke="#000" stroke-width="3.6"/>
<line x1="194.9" y1="1282" x2="194.9" y2="1299.4" stroke="#000" stroke-width="3.6"/>
<line x1="251.9" y1="1282" x2="251.9" y2="1291.7" stroke="#000" stroke-width="3.6"/>
<line x1="309.0" y1="1282" x2="309.0" y2="1299.4" stroke="#000" stroke-width="3.6"/>
<line x1="366.1" y1="1282" x2="366.1" y2="1291.7" stroke="#000" stroke-width="3.6"/>
<line x1="423.1" y1="1282" x2="423.1" y2="1299.4" stroke="#000" stroke-width="3.6"/>
<line x1="480.1" y1="1282" x2="480.1" y2="1291.7" stroke="#000" stroke-width="3.6"/>
<line x1="537.2" y1="1282" x2="537.2" y2="1299.4" stroke="#000" stroke-width="3.6"/>
<line x1="594.2" y1="1282" x2="594.2" y2="1291.7" stroke="#000" stroke-width="3.6"/>
<line x1="651.3" y1="1282" x2="651.3" y2="1299.4" stroke="#000" stroke-width="3.6"/>
<line x1="708.3" y1="1282" x2="708.3" y2="1291.7" stroke="#000" stroke-width="3.6"/>
<line x1="765.4" y1="1282" x2="765.4" y2="1299.4" stroke="#000" stroke-width="3.6"/>
<line x1="822.4" y1="1282" x2="822.4" y2="1291.7" stroke="#000" stroke-width="3.6"/>
<line x1="879.5" y1="1282" x2="879.5" y2="1299.4" stroke="#000" stroke-width="3.6"/>
<line x1="936.5" y1="1282" x2="936.5" y2="1291.7" stroke="#000" stroke-width="3.6"/>
<rect x="63" y="854" width="18" height="7.5" fill="#000"/>
</g>
<g id="ticklabels">
<text transform="translate(79.3,1338.6) scale(1.0,1)" text-anchor="middle" class="tk">0</text>
<text transform="translate(193.4,1338.6) scale(1.0,1)" text-anchor="middle" class="tk">100</text>
<text transform="translate(307.5,1338.6) scale(1.0,1)" text-anchor="middle" class="tk">200</text>
<text transform="translate(421.6,1338.6) scale(1.0,1)" text-anchor="middle" class="tk">300</text>
<text transform="translate(535.7,1338.6) scale(1.0,1)" text-anchor="middle" class="tk">400</text>
<text transform="translate(649.8,1338.6) scale(1.0,1)" text-anchor="middle" class="tk">500</text>
<text transform="translate(763.9,1338.6) scale(1.0,1)" text-anchor="middle" class="tk">600</text>
<text transform="translate(878.0,1338.6) scale(1.0,1)" text-anchor="middle" class="tk">700</text>
<text transform="translate(992.1,1338.6) scale(1.0,1)" text-anchor="middle" class="tk">800</text>
</g>
<g id="labels">
<text class="lb" font-size="36" letter-spacing="-2.06" x="738.0" y="265.0">CoO<tspan font-size="22" dy="12.5" dx="0">x</tspan><tspan dy="-12.5">/SiO</tspan><tspan font-size="22" dy="12.5" dx="0">2</tspan></text>
<text class="lb" font-size="36" letter-spacing="-1.76" x="723.5" y="345.1">Pt/CoO<tspan font-size="22" dy="12.5" dx="0">x</tspan><tspan dy="-12.5">/SiO</tspan><tspan font-size="22" dy="12.5" dx="0">2</tspan></text>
<text class="lb" font-size="36" letter-spacing="-1.75" x="752.5" y="396.2">Pt/SiO<tspan font-size="22" dy="12.5" dx="0">2</tspan></text>
<text class="lb" font-size="36" letter-spacing="-1.84" x="742.2" y="609.0">CoO<tspan font-size="22" dy="12.5" dx="0">x</tspan><tspan dy="-12.5">/TiO</tspan><tspan font-size="22" dy="12.5" dx="0">2</tspan></text>
<text class="lb" font-size="36" letter-spacing="-1.78" x="724.5" y="710.8">Pt/CoO<tspan font-size="22" dy="12.5" dx="0">x</tspan><tspan dy="-12.5">/TiO</tspan><tspan font-size="22" dy="12.5" dx="0">2</tspan></text>
<text class="lb" font-size="36" letter-spacing="-1.38" x="781.5" y="797.8">Pt/TiO<tspan font-size="22" dy="12.5" dx="0">2</tspan></text>
<text class="lb" font-size="36" letter-spacing="-2.24" x="753.6" y="974.5">CoO<tspan font-size="22" dy="12.5" dx="0">x</tspan><tspan dy="-12.5">/Al</tspan><tspan font-size="22" dy="12.5" dx="0">2</tspan><tspan dy="-12.5">O</tspan><tspan font-size="22" dy="12.5" dx="0">3</tspan></text>
<text class="lb" font-size="36" letter-spacing="-2.0" x="744.5" y="1146.5">Pt/CoO<tspan font-size="22" dy="12.5" dx="0">x</tspan><tspan dy="-12.5">/Al</tspan><tspan font-size="22" dy="12.5" dx="0">2</tspan><tspan dy="-12.5">O</tspan><tspan font-size="22" dy="12.5" dx="0">3</tspan></text>
<text class="lb" font-size="36" letter-spacing="-2.03" x="781.1" y="1227.1">Pt/Al<tspan font-size="22" dy="12.5" dx="0">2</tspan><tspan dy="-12.5">O</tspan><tspan font-size="22" dy="12.5" dx="0">3</tspan></text>
<text class="ax" font-size="44" letter-spacing="-2.08" x="402.5" y="1382.7">Temperature / <tspan class="sans" font-size="46.5" dx="0">°C</tspan></text>
<text class="ax" font-size="45" letter-spacing="-1.44" transform="translate(37.7,776.3) rotate(-90)">H<tspan font-size="27" dy="15.5">2</tspan><tspan dy="-15.5"> uptake / a.u.</tspan></text>
</g>
<rect x="1018" y="1290" width="6" height="106" fill="#fff"/>
</svg>
</body></html>
